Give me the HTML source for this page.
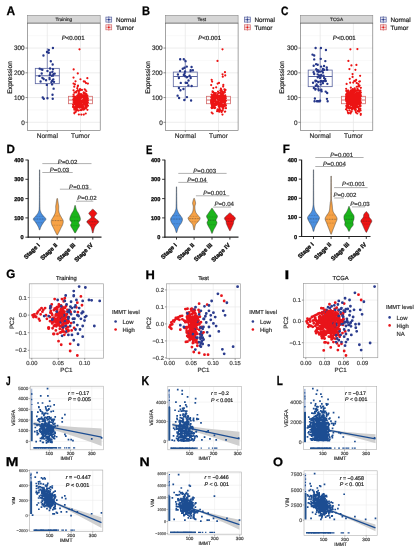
<!DOCTYPE html>
<html><head><meta charset="utf-8"><style>
html,body{margin:0;padding:0;background:#fff;width:419px;height:550px;overflow:hidden}
svg{display:block;font-family:"Liberation Sans", sans-serif;text-rendering:geometricPrecision;filter:blur(0.3px)}
</style></head><body>
<svg width="419" height="550" viewBox="0 0 419 550">
<text transform="translate(6.44 14.7) scale(0.960 1)" x="0" y="0" font-size="12.46" font-weight="bold" fill="#000" stroke="#000" stroke-width="0.25">A</text>
<text transform="translate(142.12 14.7) scale(0.894 1)" x="0" y="0" font-size="12.46" font-weight="bold" fill="#000" stroke="#000" stroke-width="0.25">B</text>
<text transform="translate(281.09 14.88) scale(0.851 1)" x="0" y="0" font-size="12.11" font-weight="bold" fill="#000" stroke="#000" stroke-width="0.25">C</text>
<text transform="translate(6.39 153.2) scale(0.979 1)" x="0" y="0" font-size="11.88" font-weight="bold" fill="#000" stroke="#000" stroke-width="0.25">D</text>
<text transform="translate(146.12 153.6) scale(0.774 1)" x="0" y="0" font-size="12.46" font-weight="bold" fill="#000" stroke="#000" stroke-width="0.25">E</text>
<text transform="translate(282.79 153.3) scale(0.964 1)" x="0" y="0" font-size="12.03" font-weight="bold" fill="#000" stroke="#000" stroke-width="0.25">F</text>
<text transform="translate(6.34 278.38) scale(0.959 1)" x="0" y="0" font-size="12.11" font-weight="bold" fill="#000" stroke="#000" stroke-width="0.25">G</text>
<text transform="translate(145.39 278.8) scale(1.037 1)" x="0" y="0" font-size="12.46" font-weight="bold" fill="#000" stroke="#000" stroke-width="0.25">H</text>
<text transform="translate(284.6 278.6) scale(1.375 1)" x="0" y="0" font-size="12.46" font-weight="bold" fill="#000" stroke="#000" stroke-width="0.25">I</text>
<text transform="translate(5.93 384.58) scale(0.675 1)" x="0" y="0" font-size="12.29" font-weight="bold" fill="#000" stroke="#000" stroke-width="0.25">J</text>
<text transform="translate(141.46 384.8) scale(0.824 1)" x="0" y="0" font-size="12.9" font-weight="bold" fill="#000" stroke="#000" stroke-width="0.25">K</text>
<text transform="translate(276.8 384.8) scale(0.758 1)" x="0" y="0" font-size="13.19" font-weight="bold" fill="#000" stroke="#000" stroke-width="0.25">L</text>
<text transform="translate(5.73 465.7) scale(1.185 1)" x="0" y="0" font-size="12.9" font-weight="bold" fill="#000" stroke="#000" stroke-width="0.25">M</text>
<text transform="translate(139.41 465.5) scale(1.148 1)" x="0" y="0" font-size="12.32" font-weight="bold" fill="#000" stroke="#000" stroke-width="0.25">N</text>
<text transform="translate(273.09 465.68) scale(1.061 1)" x="0" y="0" font-size="12.11" font-weight="bold" fill="#000" stroke="#000" stroke-width="0.25">O</text>
<rect x="27.5" y="23.1" width="72.7" height="107.4" fill="#fff" stroke="none" stroke-width="1"/>
<line x1="27.5" y1="109.92" x2="100.2" y2="109.92" stroke="#f3f3f3" stroke-width="0.5"/>
<line x1="27.5" y1="85.17" x2="100.2" y2="85.17" stroke="#f3f3f3" stroke-width="0.5"/>
<line x1="27.5" y1="60.42" x2="100.2" y2="60.42" stroke="#f3f3f3" stroke-width="0.5"/>
<line x1="27.5" y1="35.67" x2="100.2" y2="35.67" stroke="#f3f3f3" stroke-width="0.5"/>
<line x1="27.5" y1="122.3" x2="100.2" y2="122.3" stroke="#e8e8e8" stroke-width="0.8"/>
<line x1="27.5" y1="97.55" x2="100.2" y2="97.55" stroke="#e8e8e8" stroke-width="0.8"/>
<line x1="27.5" y1="72.8" x2="100.2" y2="72.8" stroke="#e8e8e8" stroke-width="0.8"/>
<line x1="27.5" y1="48.05" x2="100.2" y2="48.05" stroke="#e8e8e8" stroke-width="0.8"/>
<line x1="47.3" y1="23.1" x2="47.3" y2="130.5" stroke="#e8e8e8" stroke-width="0.8"/>
<line x1="80.5" y1="23.1" x2="80.5" y2="130.5" stroke="#e8e8e8" stroke-width="0.8"/>
<rect x="27.5" y="15.3" width="72.7" height="7.8" fill="#d6d6d6" stroke="#8a8a8a" stroke-width="0.6"/>
<text x="63.85" y="21.09" font-size="4.7" text-anchor="middle" fill="#333" stroke="#333" stroke-width="0.2">Training</text>
<line x1="47.3" y1="68.34" x2="47.3" y2="48.05" stroke="#5a64a0" stroke-width="0.7"/>
<line x1="47.3" y1="83.69" x2="47.3" y2="98.79" stroke="#5a64a0" stroke-width="0.7"/>
<rect x="35.3" y="68.34" width="24" height="15.34" fill="none" stroke="#5a64a0" stroke-width="0.8"/>
<line x1="35.3" y1="75.77" x2="59.3" y2="75.77" stroke="#5a64a0" stroke-width="1"/>
<rect x="68.5" y="96.31" width="24" height="7.42" fill="none" stroke="#d46a6a" stroke-width="0.8"/>
<line x1="68.5" y1="100.03" x2="92.5" y2="100.03" stroke="#d46a6a" stroke-width="1"/>
<path fill="#26378a" d="M51.74 48.05a1.2 1.2 0 1 0 2.4 0a1.2 1.2 0 1 0 -2.4 0M47.59 50.03a1.2 1.2 0 1 0 2.4 0a1.2 1.2 0 1 0 -2.4 0M42.26 55.47a1.2 1.2 0 1 0 2.4 0a1.2 1.2 0 1 0 -2.4 0M51.54 98.79a1.2 1.2 0 1 0 2.4 0a1.2 1.2 0 1 0 -2.4 0M46.25 98.29a1.2 1.2 0 1 0 2.4 0a1.2 1.2 0 1 0 -2.4 0M46.27 70.94a1.2 1.2 0 1 0 2.4 0a1.2 1.2 0 1 0 -2.4 0M50.15 82.12a1.2 1.2 0 1 0 2.4 0a1.2 1.2 0 1 0 -2.4 0M40.47 69.41a1.2 1.2 0 1 0 2.4 0a1.2 1.2 0 1 0 -2.4 0M51.21 71.87a1.2 1.2 0 1 0 2.4 0a1.2 1.2 0 1 0 -2.4 0M49.03 72.67a1.2 1.2 0 1 0 2.4 0a1.2 1.2 0 1 0 -2.4 0M50.69 75.69a1.2 1.2 0 1 0 2.4 0a1.2 1.2 0 1 0 -2.4 0M41.17 69.8a1.2 1.2 0 1 0 2.4 0a1.2 1.2 0 1 0 -2.4 0M50.94 84.39a1.2 1.2 0 1 0 2.4 0a1.2 1.2 0 1 0 -2.4 0M41.16 77.87a1.2 1.2 0 1 0 2.4 0a1.2 1.2 0 1 0 -2.4 0M39.4 81.5a1.2 1.2 0 1 0 2.4 0a1.2 1.2 0 1 0 -2.4 0M51.78 69.21a1.2 1.2 0 1 0 2.4 0a1.2 1.2 0 1 0 -2.4 0M51.88 75.57a1.2 1.2 0 1 0 2.4 0a1.2 1.2 0 1 0 -2.4 0M52.12 79.34a1.2 1.2 0 1 0 2.4 0a1.2 1.2 0 1 0 -2.4 0M45.65 84.91a1.2 1.2 0 1 0 2.4 0a1.2 1.2 0 1 0 -2.4 0M42.48 78.94a1.2 1.2 0 1 0 2.4 0a1.2 1.2 0 1 0 -2.4 0M38.21 75.92a1.2 1.2 0 1 0 2.4 0a1.2 1.2 0 1 0 -2.4 0M48.43 79.15a1.2 1.2 0 1 0 2.4 0a1.2 1.2 0 1 0 -2.4 0M49.62 61.31a1.2 1.2 0 1 0 2.4 0a1.2 1.2 0 1 0 -2.4 0M51.47 64.57a1.2 1.2 0 1 0 2.4 0a1.2 1.2 0 1 0 -2.4 0M42.61 98.79a1.2 1.2 0 1 0 2.4 0a1.2 1.2 0 1 0 -2.4 0M41.54 97.49a1.2 1.2 0 1 0 2.4 0a1.2 1.2 0 1 0 -2.4 0M48.33 78a1.2 1.2 0 1 0 2.4 0a1.2 1.2 0 1 0 -2.4 0M50.98 80.82a1.2 1.2 0 1 0 2.4 0a1.2 1.2 0 1 0 -2.4 0M53.52 73.59a1.2 1.2 0 1 0 2.4 0a1.2 1.2 0 1 0 -2.4 0M40.51 73.55a1.2 1.2 0 1 0 2.4 0a1.2 1.2 0 1 0 -2.4 0M45.82 51.94a1.2 1.2 0 1 0 2.4 0a1.2 1.2 0 1 0 -2.4 0M52.42 88.66a1.2 1.2 0 1 0 2.4 0a1.2 1.2 0 1 0 -2.4 0M44.86 80.31a1.2 1.2 0 1 0 2.4 0a1.2 1.2 0 1 0 -2.4 0M47.53 52.8a1.2 1.2 0 1 0 2.4 0a1.2 1.2 0 1 0 -2.4 0M38.49 68.67a1.2 1.2 0 1 0 2.4 0a1.2 1.2 0 1 0 -2.4 0M48.88 68.48a1.2 1.2 0 1 0 2.4 0a1.2 1.2 0 1 0 -2.4 0M52.81 81.86a1.2 1.2 0 1 0 2.4 0a1.2 1.2 0 1 0 -2.4 0M51.33 94.75a1.2 1.2 0 1 0 2.4 0a1.2 1.2 0 1 0 -2.4 0M52.27 74.11a1.2 1.2 0 1 0 2.4 0a1.2 1.2 0 1 0 -2.4 0M48.67 74.78a1.2 1.2 0 1 0 2.4 0a1.2 1.2 0 1 0 -2.4 0"/>
<path fill="#ec1313" d="M76.2 96.11a1.1 1.1 0 1 0 2.2 0a1.1 1.1 0 1 0 -2.2 0M86.11 99.42a1.1 1.1 0 1 0 2.2 0a1.1 1.1 0 1 0 -2.2 0M86.33 109.8a1.1 1.1 0 1 0 2.2 0a1.1 1.1 0 1 0 -2.2 0M81.59 107.32a1.1 1.1 0 1 0 2.2 0a1.1 1.1 0 1 0 -2.2 0M76.08 95.49a1.1 1.1 0 1 0 2.2 0a1.1 1.1 0 1 0 -2.2 0M82.57 96.65a1.1 1.1 0 1 0 2.2 0a1.1 1.1 0 1 0 -2.2 0M75.15 104.16a1.1 1.1 0 1 0 2.2 0a1.1 1.1 0 1 0 -2.2 0M76.73 100.53a1.1 1.1 0 1 0 2.2 0a1.1 1.1 0 1 0 -2.2 0M80.03 97.98a1.1 1.1 0 1 0 2.2 0a1.1 1.1 0 1 0 -2.2 0M77.92 97.85a1.1 1.1 0 1 0 2.2 0a1.1 1.1 0 1 0 -2.2 0M77.17 95.53a1.1 1.1 0 1 0 2.2 0a1.1 1.1 0 1 0 -2.2 0M86.51 99.06a1.1 1.1 0 1 0 2.2 0a1.1 1.1 0 1 0 -2.2 0M74.45 101.06a1.1 1.1 0 1 0 2.2 0a1.1 1.1 0 1 0 -2.2 0M81.11 101.99a1.1 1.1 0 1 0 2.2 0a1.1 1.1 0 1 0 -2.2 0M72.48 94.51a1.1 1.1 0 1 0 2.2 0a1.1 1.1 0 1 0 -2.2 0M73.28 113.33a1.1 1.1 0 1 0 2.2 0a1.1 1.1 0 1 0 -2.2 0M75.05 101.31a1.1 1.1 0 1 0 2.2 0a1.1 1.1 0 1 0 -2.2 0M86.78 100.33a1.1 1.1 0 1 0 2.2 0a1.1 1.1 0 1 0 -2.2 0M82.8 108.63a1.1 1.1 0 1 0 2.2 0a1.1 1.1 0 1 0 -2.2 0M84.92 98.63a1.1 1.1 0 1 0 2.2 0a1.1 1.1 0 1 0 -2.2 0M72.64 104.23a1.1 1.1 0 1 0 2.2 0a1.1 1.1 0 1 0 -2.2 0M82.12 95.61a1.1 1.1 0 1 0 2.2 0a1.1 1.1 0 1 0 -2.2 0M78.5 101.23a1.1 1.1 0 1 0 2.2 0a1.1 1.1 0 1 0 -2.2 0M78.15 96.71a1.1 1.1 0 1 0 2.2 0a1.1 1.1 0 1 0 -2.2 0M82.52 93.58a1.1 1.1 0 1 0 2.2 0a1.1 1.1 0 1 0 -2.2 0M76.52 98.34a1.1 1.1 0 1 0 2.2 0a1.1 1.1 0 1 0 -2.2 0M79.6 105.51a1.1 1.1 0 1 0 2.2 0a1.1 1.1 0 1 0 -2.2 0M75.81 109.14a1.1 1.1 0 1 0 2.2 0a1.1 1.1 0 1 0 -2.2 0M77.77 90.54a1.1 1.1 0 1 0 2.2 0a1.1 1.1 0 1 0 -2.2 0M79.9 101.15a1.1 1.1 0 1 0 2.2 0a1.1 1.1 0 1 0 -2.2 0M74.27 104.44a1.1 1.1 0 1 0 2.2 0a1.1 1.1 0 1 0 -2.2 0M76.04 99.7a1.1 1.1 0 1 0 2.2 0a1.1 1.1 0 1 0 -2.2 0M78.21 101.61a1.1 1.1 0 1 0 2.2 0a1.1 1.1 0 1 0 -2.2 0M78.99 95.67a1.1 1.1 0 1 0 2.2 0a1.1 1.1 0 1 0 -2.2 0M83.9 100.33a1.1 1.1 0 1 0 2.2 0a1.1 1.1 0 1 0 -2.2 0M81.54 100.44a1.1 1.1 0 1 0 2.2 0a1.1 1.1 0 1 0 -2.2 0M80.34 104.59a1.1 1.1 0 1 0 2.2 0a1.1 1.1 0 1 0 -2.2 0M84.95 97.85a1.1 1.1 0 1 0 2.2 0a1.1 1.1 0 1 0 -2.2 0M74.86 106.41a1.1 1.1 0 1 0 2.2 0a1.1 1.1 0 1 0 -2.2 0M73.46 96.73a1.1 1.1 0 1 0 2.2 0a1.1 1.1 0 1 0 -2.2 0M77.81 91.84a1.1 1.1 0 1 0 2.2 0a1.1 1.1 0 1 0 -2.2 0M73.96 109.2a1.1 1.1 0 1 0 2.2 0a1.1 1.1 0 1 0 -2.2 0M80.24 114.56a1.1 1.1 0 1 0 2.2 0a1.1 1.1 0 1 0 -2.2 0M80.5 97.01a1.1 1.1 0 1 0 2.2 0a1.1 1.1 0 1 0 -2.2 0M73.87 84.29a1.1 1.1 0 1 0 2.2 0a1.1 1.1 0 1 0 -2.2 0M82.64 106.22a1.1 1.1 0 1 0 2.2 0a1.1 1.1 0 1 0 -2.2 0M80.25 107.64a1.1 1.1 0 1 0 2.2 0a1.1 1.1 0 1 0 -2.2 0M78.25 97.17a1.1 1.1 0 1 0 2.2 0a1.1 1.1 0 1 0 -2.2 0M85.66 105.31a1.1 1.1 0 1 0 2.2 0a1.1 1.1 0 1 0 -2.2 0M84.74 103.4a1.1 1.1 0 1 0 2.2 0a1.1 1.1 0 1 0 -2.2 0M75.21 102.5a1.1 1.1 0 1 0 2.2 0a1.1 1.1 0 1 0 -2.2 0M74.4 97.49a1.1 1.1 0 1 0 2.2 0a1.1 1.1 0 1 0 -2.2 0M85.63 102.83a1.1 1.1 0 1 0 2.2 0a1.1 1.1 0 1 0 -2.2 0M74.26 98.94a1.1 1.1 0 1 0 2.2 0a1.1 1.1 0 1 0 -2.2 0M83.26 101.52a1.1 1.1 0 1 0 2.2 0a1.1 1.1 0 1 0 -2.2 0M76.59 105.33a1.1 1.1 0 1 0 2.2 0a1.1 1.1 0 1 0 -2.2 0M77.32 102.34a1.1 1.1 0 1 0 2.2 0a1.1 1.1 0 1 0 -2.2 0M80.21 105.93a1.1 1.1 0 1 0 2.2 0a1.1 1.1 0 1 0 -2.2 0M85.79 100.48a1.1 1.1 0 1 0 2.2 0a1.1 1.1 0 1 0 -2.2 0M71.93 106.92a1.1 1.1 0 1 0 2.2 0a1.1 1.1 0 1 0 -2.2 0M74.33 106.74a1.1 1.1 0 1 0 2.2 0a1.1 1.1 0 1 0 -2.2 0M82.7 92.23a1.1 1.1 0 1 0 2.2 0a1.1 1.1 0 1 0 -2.2 0M77.82 100.82a1.1 1.1 0 1 0 2.2 0a1.1 1.1 0 1 0 -2.2 0M76.22 100.83a1.1 1.1 0 1 0 2.2 0a1.1 1.1 0 1 0 -2.2 0M86.34 97.61a1.1 1.1 0 1 0 2.2 0a1.1 1.1 0 1 0 -2.2 0M75.86 102.92a1.1 1.1 0 1 0 2.2 0a1.1 1.1 0 1 0 -2.2 0M82.61 101.82a1.1 1.1 0 1 0 2.2 0a1.1 1.1 0 1 0 -2.2 0M86.36 98.1a1.1 1.1 0 1 0 2.2 0a1.1 1.1 0 1 0 -2.2 0M83.34 98.91a1.1 1.1 0 1 0 2.2 0a1.1 1.1 0 1 0 -2.2 0M82.54 107.12a1.1 1.1 0 1 0 2.2 0a1.1 1.1 0 1 0 -2.2 0M82.75 95.78a1.1 1.1 0 1 0 2.2 0a1.1 1.1 0 1 0 -2.2 0M83.98 103.88a1.1 1.1 0 1 0 2.2 0a1.1 1.1 0 1 0 -2.2 0M75.97 106.53a1.1 1.1 0 1 0 2.2 0a1.1 1.1 0 1 0 -2.2 0M81.3 105.65a1.1 1.1 0 1 0 2.2 0a1.1 1.1 0 1 0 -2.2 0M83.94 102.74a1.1 1.1 0 1 0 2.2 0a1.1 1.1 0 1 0 -2.2 0M85.22 91.26a1.1 1.1 0 1 0 2.2 0a1.1 1.1 0 1 0 -2.2 0M85.49 107.21a1.1 1.1 0 1 0 2.2 0a1.1 1.1 0 1 0 -2.2 0M85.46 99.61a1.1 1.1 0 1 0 2.2 0a1.1 1.1 0 1 0 -2.2 0M73.36 112.69a1.1 1.1 0 1 0 2.2 0a1.1 1.1 0 1 0 -2.2 0M77.55 100.53a1.1 1.1 0 1 0 2.2 0a1.1 1.1 0 1 0 -2.2 0M78.75 95.4a1.1 1.1 0 1 0 2.2 0a1.1 1.1 0 1 0 -2.2 0M85.28 101.87a1.1 1.1 0 1 0 2.2 0a1.1 1.1 0 1 0 -2.2 0M78.19 104.1a1.1 1.1 0 1 0 2.2 0a1.1 1.1 0 1 0 -2.2 0M75.87 99.2a1.1 1.1 0 1 0 2.2 0a1.1 1.1 0 1 0 -2.2 0M72.2 96.53a1.1 1.1 0 1 0 2.2 0a1.1 1.1 0 1 0 -2.2 0M76.23 96.74a1.1 1.1 0 1 0 2.2 0a1.1 1.1 0 1 0 -2.2 0M83.61 89.29a1.1 1.1 0 1 0 2.2 0a1.1 1.1 0 1 0 -2.2 0M72.2 99.33a1.1 1.1 0 1 0 2.2 0a1.1 1.1 0 1 0 -2.2 0M74.37 103.89a1.1 1.1 0 1 0 2.2 0a1.1 1.1 0 1 0 -2.2 0M76.56 101.24a1.1 1.1 0 1 0 2.2 0a1.1 1.1 0 1 0 -2.2 0M79.88 100.93a1.1 1.1 0 1 0 2.2 0a1.1 1.1 0 1 0 -2.2 0M77.35 99.9a1.1 1.1 0 1 0 2.2 0a1.1 1.1 0 1 0 -2.2 0M85.14 100.69a1.1 1.1 0 1 0 2.2 0a1.1 1.1 0 1 0 -2.2 0M75.01 99.53a1.1 1.1 0 1 0 2.2 0a1.1 1.1 0 1 0 -2.2 0M80.32 110.03a1.1 1.1 0 1 0 2.2 0a1.1 1.1 0 1 0 -2.2 0M83.57 95.8a1.1 1.1 0 1 0 2.2 0a1.1 1.1 0 1 0 -2.2 0M85.84 103.79a1.1 1.1 0 1 0 2.2 0a1.1 1.1 0 1 0 -2.2 0M85 107.2a1.1 1.1 0 1 0 2.2 0a1.1 1.1 0 1 0 -2.2 0M73.93 96.89a1.1 1.1 0 1 0 2.2 0a1.1 1.1 0 1 0 -2.2 0M83.78 93.02a1.1 1.1 0 1 0 2.2 0a1.1 1.1 0 1 0 -2.2 0M82.03 97.71a1.1 1.1 0 1 0 2.2 0a1.1 1.1 0 1 0 -2.2 0M78.22 99.6a1.1 1.1 0 1 0 2.2 0a1.1 1.1 0 1 0 -2.2 0M72.28 105.83a1.1 1.1 0 1 0 2.2 0a1.1 1.1 0 1 0 -2.2 0M74.42 81.35a1.1 1.1 0 1 0 2.2 0a1.1 1.1 0 1 0 -2.2 0M83.14 95.51a1.1 1.1 0 1 0 2.2 0a1.1 1.1 0 1 0 -2.2 0M73.16 107.01a1.1 1.1 0 1 0 2.2 0a1.1 1.1 0 1 0 -2.2 0M76.59 104.96a1.1 1.1 0 1 0 2.2 0a1.1 1.1 0 1 0 -2.2 0M75.73 100.02a1.1 1.1 0 1 0 2.2 0a1.1 1.1 0 1 0 -2.2 0M83.09 109.37a1.1 1.1 0 1 0 2.2 0a1.1 1.1 0 1 0 -2.2 0M77.29 99.56a1.1 1.1 0 1 0 2.2 0a1.1 1.1 0 1 0 -2.2 0M73.21 103.13a1.1 1.1 0 1 0 2.2 0a1.1 1.1 0 1 0 -2.2 0M77.46 93.54a1.1 1.1 0 1 0 2.2 0a1.1 1.1 0 1 0 -2.2 0M76.8 95.04a1.1 1.1 0 1 0 2.2 0a1.1 1.1 0 1 0 -2.2 0M82.66 114.55a1.1 1.1 0 1 0 2.2 0a1.1 1.1 0 1 0 -2.2 0M76.7 100.28a1.1 1.1 0 1 0 2.2 0a1.1 1.1 0 1 0 -2.2 0M82.3 109.73a1.1 1.1 0 1 0 2.2 0a1.1 1.1 0 1 0 -2.2 0M79.98 94.2a1.1 1.1 0 1 0 2.2 0a1.1 1.1 0 1 0 -2.2 0M85.22 99.56a1.1 1.1 0 1 0 2.2 0a1.1 1.1 0 1 0 -2.2 0M82.9 97.4a1.1 1.1 0 1 0 2.2 0a1.1 1.1 0 1 0 -2.2 0M78.02 106.58a1.1 1.1 0 1 0 2.2 0a1.1 1.1 0 1 0 -2.2 0M79.17 90.11a1.1 1.1 0 1 0 2.2 0a1.1 1.1 0 1 0 -2.2 0M78.97 89.02a1.1 1.1 0 1 0 2.2 0a1.1 1.1 0 1 0 -2.2 0M84.98 106.58a1.1 1.1 0 1 0 2.2 0a1.1 1.1 0 1 0 -2.2 0M73.97 98.4a1.1 1.1 0 1 0 2.2 0a1.1 1.1 0 1 0 -2.2 0M78.26 104.35a1.1 1.1 0 1 0 2.2 0a1.1 1.1 0 1 0 -2.2 0M79.92 100.65a1.1 1.1 0 1 0 2.2 0a1.1 1.1 0 1 0 -2.2 0M78.44 107.72a1.1 1.1 0 1 0 2.2 0a1.1 1.1 0 1 0 -2.2 0M80.87 89.89a1.1 1.1 0 1 0 2.2 0a1.1 1.1 0 1 0 -2.2 0M79.38 106.04a1.1 1.1 0 1 0 2.2 0a1.1 1.1 0 1 0 -2.2 0M78.11 102.21a1.1 1.1 0 1 0 2.2 0a1.1 1.1 0 1 0 -2.2 0M82.2 97.67a1.1 1.1 0 1 0 2.2 0a1.1 1.1 0 1 0 -2.2 0M76.84 104.21a1.1 1.1 0 1 0 2.2 0a1.1 1.1 0 1 0 -2.2 0M81 101.88a1.1 1.1 0 1 0 2.2 0a1.1 1.1 0 1 0 -2.2 0M82.83 103.73a1.1 1.1 0 1 0 2.2 0a1.1 1.1 0 1 0 -2.2 0M73.86 101.28a1.1 1.1 0 1 0 2.2 0a1.1 1.1 0 1 0 -2.2 0M76.8 107.18a1.1 1.1 0 1 0 2.2 0a1.1 1.1 0 1 0 -2.2 0M86.07 103.01a1.1 1.1 0 1 0 2.2 0a1.1 1.1 0 1 0 -2.2 0M86.39 101.7a1.1 1.1 0 1 0 2.2 0a1.1 1.1 0 1 0 -2.2 0M86.79 102.42a1.1 1.1 0 1 0 2.2 0a1.1 1.1 0 1 0 -2.2 0M72.54 100.2a1.1 1.1 0 1 0 2.2 0a1.1 1.1 0 1 0 -2.2 0M84.3 102.19a1.1 1.1 0 1 0 2.2 0a1.1 1.1 0 1 0 -2.2 0M85.93 96.23a1.1 1.1 0 1 0 2.2 0a1.1 1.1 0 1 0 -2.2 0M85.43 102.36a1.1 1.1 0 1 0 2.2 0a1.1 1.1 0 1 0 -2.2 0M82.62 101.3a1.1 1.1 0 1 0 2.2 0a1.1 1.1 0 1 0 -2.2 0M82.03 104.3a1.1 1.1 0 1 0 2.2 0a1.1 1.1 0 1 0 -2.2 0M82.69 103.52a1.1 1.1 0 1 0 2.2 0a1.1 1.1 0 1 0 -2.2 0M80.52 107.72a1.1 1.1 0 1 0 2.2 0a1.1 1.1 0 1 0 -2.2 0M83.73 97.57a1.1 1.1 0 1 0 2.2 0a1.1 1.1 0 1 0 -2.2 0M79.43 107.02a1.1 1.1 0 1 0 2.2 0a1.1 1.1 0 1 0 -2.2 0M75.29 104.77a1.1 1.1 0 1 0 2.2 0a1.1 1.1 0 1 0 -2.2 0M73.32 98.47a1.1 1.1 0 1 0 2.2 0a1.1 1.1 0 1 0 -2.2 0M85.52 98.23a1.1 1.1 0 1 0 2.2 0a1.1 1.1 0 1 0 -2.2 0M83.22 102.8a1.1 1.1 0 1 0 2.2 0a1.1 1.1 0 1 0 -2.2 0M74.56 112.01a1.1 1.1 0 1 0 2.2 0a1.1 1.1 0 1 0 -2.2 0M84.24 98.13a1.1 1.1 0 1 0 2.2 0a1.1 1.1 0 1 0 -2.2 0M76.41 99.04a1.1 1.1 0 1 0 2.2 0a1.1 1.1 0 1 0 -2.2 0M81.43 108.56a1.1 1.1 0 1 0 2.2 0a1.1 1.1 0 1 0 -2.2 0M77.24 96.13a1.1 1.1 0 1 0 2.2 0a1.1 1.1 0 1 0 -2.2 0M75.11 104.51a1.1 1.1 0 1 0 2.2 0a1.1 1.1 0 1 0 -2.2 0M74.53 106.93a1.1 1.1 0 1 0 2.2 0a1.1 1.1 0 1 0 -2.2 0M72.96 99.98a1.1 1.1 0 1 0 2.2 0a1.1 1.1 0 1 0 -2.2 0M73.02 101.54a1.1 1.1 0 1 0 2.2 0a1.1 1.1 0 1 0 -2.2 0M72.94 99.37a1.1 1.1 0 1 0 2.2 0a1.1 1.1 0 1 0 -2.2 0M73.25 109.66a1.1 1.1 0 1 0 2.2 0a1.1 1.1 0 1 0 -2.2 0M84.41 90.2a1.1 1.1 0 1 0 2.2 0a1.1 1.1 0 1 0 -2.2 0M79.67 103.95a1.1 1.1 0 1 0 2.2 0a1.1 1.1 0 1 0 -2.2 0M73.83 109.28a1.1 1.1 0 1 0 2.2 0a1.1 1.1 0 1 0 -2.2 0M79.77 97a1.1 1.1 0 1 0 2.2 0a1.1 1.1 0 1 0 -2.2 0M80.04 102.54a1.1 1.1 0 1 0 2.2 0a1.1 1.1 0 1 0 -2.2 0M79.35 98.67a1.1 1.1 0 1 0 2.2 0a1.1 1.1 0 1 0 -2.2 0M75 102.45a1.1 1.1 0 1 0 2.2 0a1.1 1.1 0 1 0 -2.2 0M78.42 100.86a1.1 1.1 0 1 0 2.2 0a1.1 1.1 0 1 0 -2.2 0M84.96 99.12a1.1 1.1 0 1 0 2.2 0a1.1 1.1 0 1 0 -2.2 0M77.66 104.77a1.1 1.1 0 1 0 2.2 0a1.1 1.1 0 1 0 -2.2 0M79.46 96.66a1.1 1.1 0 1 0 2.2 0a1.1 1.1 0 1 0 -2.2 0M85.85 103.19a1.1 1.1 0 1 0 2.2 0a1.1 1.1 0 1 0 -2.2 0M75.39 105.47a1.1 1.1 0 1 0 2.2 0a1.1 1.1 0 1 0 -2.2 0M82.78 100.08a1.1 1.1 0 1 0 2.2 0a1.1 1.1 0 1 0 -2.2 0M79.16 97.99a1.1 1.1 0 1 0 2.2 0a1.1 1.1 0 1 0 -2.2 0M83.71 101.82a1.1 1.1 0 1 0 2.2 0a1.1 1.1 0 1 0 -2.2 0M77.3 105.43a1.1 1.1 0 1 0 2.2 0a1.1 1.1 0 1 0 -2.2 0M80.04 96.99a1.1 1.1 0 1 0 2.2 0a1.1 1.1 0 1 0 -2.2 0M77.42 110.54a1.1 1.1 0 1 0 2.2 0a1.1 1.1 0 1 0 -2.2 0M84.89 106.39a1.1 1.1 0 1 0 2.2 0a1.1 1.1 0 1 0 -2.2 0M85.62 100.3a1.1 1.1 0 1 0 2.2 0a1.1 1.1 0 1 0 -2.2 0M81.38 108.27a1.1 1.1 0 1 0 2.2 0a1.1 1.1 0 1 0 -2.2 0M86.62 100.36a1.1 1.1 0 1 0 2.2 0a1.1 1.1 0 1 0 -2.2 0M82.88 100.83a1.1 1.1 0 1 0 2.2 0a1.1 1.1 0 1 0 -2.2 0M84.36 95.4a1.1 1.1 0 1 0 2.2 0a1.1 1.1 0 1 0 -2.2 0M85.32 105.73a1.1 1.1 0 1 0 2.2 0a1.1 1.1 0 1 0 -2.2 0M75.98 104.08a1.1 1.1 0 1 0 2.2 0a1.1 1.1 0 1 0 -2.2 0M86.7 98.62a1.1 1.1 0 1 0 2.2 0a1.1 1.1 0 1 0 -2.2 0M77.76 114.51a1.1 1.1 0 1 0 2.2 0a1.1 1.1 0 1 0 -2.2 0M79.36 79.26a1.1 1.1 0 1 0 2.2 0a1.1 1.1 0 1 0 -2.2 0M74.6 104.5a1.1 1.1 0 1 0 2.2 0a1.1 1.1 0 1 0 -2.2 0M84.22 104.67a1.1 1.1 0 1 0 2.2 0a1.1 1.1 0 1 0 -2.2 0M76.95 95.62a1.1 1.1 0 1 0 2.2 0a1.1 1.1 0 1 0 -2.2 0M82.24 100.75a1.1 1.1 0 1 0 2.2 0a1.1 1.1 0 1 0 -2.2 0M75.18 110.65a1.1 1.1 0 1 0 2.2 0a1.1 1.1 0 1 0 -2.2 0M77.17 96.95a1.1 1.1 0 1 0 2.2 0a1.1 1.1 0 1 0 -2.2 0M77.66 95.65a1.1 1.1 0 1 0 2.2 0a1.1 1.1 0 1 0 -2.2 0M75.45 103.08a1.1 1.1 0 1 0 2.2 0a1.1 1.1 0 1 0 -2.2 0M72.43 102.12a1.1 1.1 0 1 0 2.2 0a1.1 1.1 0 1 0 -2.2 0M83.45 97.75a1.1 1.1 0 1 0 2.2 0a1.1 1.1 0 1 0 -2.2 0M86.16 105.69a1.1 1.1 0 1 0 2.2 0a1.1 1.1 0 1 0 -2.2 0M75.29 98.02a1.1 1.1 0 1 0 2.2 0a1.1 1.1 0 1 0 -2.2 0M74.34 99.39a1.1 1.1 0 1 0 2.2 0a1.1 1.1 0 1 0 -2.2 0M77.11 104.36a1.1 1.1 0 1 0 2.2 0a1.1 1.1 0 1 0 -2.2 0M73.14 108.44a1.1 1.1 0 1 0 2.2 0a1.1 1.1 0 1 0 -2.2 0M81.65 101.8a1.1 1.1 0 1 0 2.2 0a1.1 1.1 0 1 0 -2.2 0M77.43 105.5a1.1 1.1 0 1 0 2.2 0a1.1 1.1 0 1 0 -2.2 0M80.34 94.82a1.1 1.1 0 1 0 2.2 0a1.1 1.1 0 1 0 -2.2 0M85.49 99.7a1.1 1.1 0 1 0 2.2 0a1.1 1.1 0 1 0 -2.2 0M84.82 96.07a1.1 1.1 0 1 0 2.2 0a1.1 1.1 0 1 0 -2.2 0M85.73 99.75a1.1 1.1 0 1 0 2.2 0a1.1 1.1 0 1 0 -2.2 0M85.93 99.02a1.1 1.1 0 1 0 2.2 0a1.1 1.1 0 1 0 -2.2 0M80.75 104.98a1.1 1.1 0 1 0 2.2 0a1.1 1.1 0 1 0 -2.2 0M79.43 96.72a1.1 1.1 0 1 0 2.2 0a1.1 1.1 0 1 0 -2.2 0M72.46 90.36a1.1 1.1 0 1 0 2.2 0a1.1 1.1 0 1 0 -2.2 0M73.44 102.28a1.1 1.1 0 1 0 2.2 0a1.1 1.1 0 1 0 -2.2 0M79.76 103.89a1.1 1.1 0 1 0 2.2 0a1.1 1.1 0 1 0 -2.2 0M84.74 101.42a1.1 1.1 0 1 0 2.2 0a1.1 1.1 0 1 0 -2.2 0M78.39 103.26a1.1 1.1 0 1 0 2.2 0a1.1 1.1 0 1 0 -2.2 0M71.96 104.51a1.1 1.1 0 1 0 2.2 0a1.1 1.1 0 1 0 -2.2 0M75.08 99.73a1.1 1.1 0 1 0 2.2 0a1.1 1.1 0 1 0 -2.2 0M83.3 102.18a1.1 1.1 0 1 0 2.2 0a1.1 1.1 0 1 0 -2.2 0M74.28 92.33a1.1 1.1 0 1 0 2.2 0a1.1 1.1 0 1 0 -2.2 0M74.89 100.52a1.1 1.1 0 1 0 2.2 0a1.1 1.1 0 1 0 -2.2 0M76.18 98.68a1.1 1.1 0 1 0 2.2 0a1.1 1.1 0 1 0 -2.2 0M81.04 95.1a1.1 1.1 0 1 0 2.2 0a1.1 1.1 0 1 0 -2.2 0M84.45 102.23a1.1 1.1 0 1 0 2.2 0a1.1 1.1 0 1 0 -2.2 0M75.18 92.34a1.1 1.1 0 1 0 2.2 0a1.1 1.1 0 1 0 -2.2 0M80.89 104.12a1.1 1.1 0 1 0 2.2 0a1.1 1.1 0 1 0 -2.2 0M79.85 105.12a1.1 1.1 0 1 0 2.2 0a1.1 1.1 0 1 0 -2.2 0M78.57 102.6a1.1 1.1 0 1 0 2.2 0a1.1 1.1 0 1 0 -2.2 0M80.61 101.17a1.1 1.1 0 1 0 2.2 0a1.1 1.1 0 1 0 -2.2 0M84.11 108.5a1.1 1.1 0 1 0 2.2 0a1.1 1.1 0 1 0 -2.2 0M75.16 100.72a1.1 1.1 0 1 0 2.2 0a1.1 1.1 0 1 0 -2.2 0M79.36 110.01a1.1 1.1 0 1 0 2.2 0a1.1 1.1 0 1 0 -2.2 0M73.37 92.6a1.1 1.1 0 1 0 2.2 0a1.1 1.1 0 1 0 -2.2 0M79.6 100.98a1.1 1.1 0 1 0 2.2 0a1.1 1.1 0 1 0 -2.2 0M83.77 104.17a1.1 1.1 0 1 0 2.2 0a1.1 1.1 0 1 0 -2.2 0M86.88 105.69a1.1 1.1 0 1 0 2.2 0a1.1 1.1 0 1 0 -2.2 0M79.04 102.71a1.1 1.1 0 1 0 2.2 0a1.1 1.1 0 1 0 -2.2 0M76.35 101.79a1.1 1.1 0 1 0 2.2 0a1.1 1.1 0 1 0 -2.2 0M80.59 106.47a1.1 1.1 0 1 0 2.2 0a1.1 1.1 0 1 0 -2.2 0M77.48 105.76a1.1 1.1 0 1 0 2.2 0a1.1 1.1 0 1 0 -2.2 0M73.66 101.59a1.1 1.1 0 1 0 2.2 0a1.1 1.1 0 1 0 -2.2 0M79.77 103.48a1.1 1.1 0 1 0 2.2 0a1.1 1.1 0 1 0 -2.2 0M83.89 95.17a1.1 1.1 0 1 0 2.2 0a1.1 1.1 0 1 0 -2.2 0M85.27 94.04a1.1 1.1 0 1 0 2.2 0a1.1 1.1 0 1 0 -2.2 0M86.57 100.43a1.1 1.1 0 1 0 2.2 0a1.1 1.1 0 1 0 -2.2 0M77.42 97.82a1.1 1.1 0 1 0 2.2 0a1.1 1.1 0 1 0 -2.2 0M75.67 108.12a1.1 1.1 0 1 0 2.2 0a1.1 1.1 0 1 0 -2.2 0M73.56 96.89a1.1 1.1 0 1 0 2.2 0a1.1 1.1 0 1 0 -2.2 0M78.44 100.69a1.1 1.1 0 1 0 2.2 0a1.1 1.1 0 1 0 -2.2 0M84.01 97.76a1.1 1.1 0 1 0 2.2 0a1.1 1.1 0 1 0 -2.2 0M75.42 91.41a1.1 1.1 0 1 0 2.2 0a1.1 1.1 0 1 0 -2.2 0M84.64 113.5a1.1 1.1 0 1 0 2.2 0a1.1 1.1 0 1 0 -2.2 0M82.58 99.03a1.1 1.1 0 1 0 2.2 0a1.1 1.1 0 1 0 -2.2 0M74.91 106.78a1.1 1.1 0 1 0 2.2 0a1.1 1.1 0 1 0 -2.2 0M81.38 97.15a1.1 1.1 0 1 0 2.2 0a1.1 1.1 0 1 0 -2.2 0M84.2 108a1.1 1.1 0 1 0 2.2 0a1.1 1.1 0 1 0 -2.2 0M85.89 103.34a1.1 1.1 0 1 0 2.2 0a1.1 1.1 0 1 0 -2.2 0M74.33 99.37a1.1 1.1 0 1 0 2.2 0a1.1 1.1 0 1 0 -2.2 0M84.23 97.03a1.1 1.1 0 1 0 2.2 0a1.1 1.1 0 1 0 -2.2 0M83.54 100.09a1.1 1.1 0 1 0 2.2 0a1.1 1.1 0 1 0 -2.2 0M75.56 105.03a1.1 1.1 0 1 0 2.2 0a1.1 1.1 0 1 0 -2.2 0M76.32 103.67a1.1 1.1 0 1 0 2.2 0a1.1 1.1 0 1 0 -2.2 0M86.26 95.48a1.1 1.1 0 1 0 2.2 0a1.1 1.1 0 1 0 -2.2 0M77.33 100.55a1.1 1.1 0 1 0 2.2 0a1.1 1.1 0 1 0 -2.2 0M76.23 110.11a1.1 1.1 0 1 0 2.2 0a1.1 1.1 0 1 0 -2.2 0M82.7 95.72a1.1 1.1 0 1 0 2.2 0a1.1 1.1 0 1 0 -2.2 0M73.89 98.15a1.1 1.1 0 1 0 2.2 0a1.1 1.1 0 1 0 -2.2 0M79.15 95.55a1.1 1.1 0 1 0 2.2 0a1.1 1.1 0 1 0 -2.2 0M77.27 102.44a1.1 1.1 0 1 0 2.2 0a1.1 1.1 0 1 0 -2.2 0M80.06 95.81a1.1 1.1 0 1 0 2.2 0a1.1 1.1 0 1 0 -2.2 0M80.95 106.56a1.1 1.1 0 1 0 2.2 0a1.1 1.1 0 1 0 -2.2 0M81.5 97.28a1.1 1.1 0 1 0 2.2 0a1.1 1.1 0 1 0 -2.2 0M78.39 103.31a1.1 1.1 0 1 0 2.2 0a1.1 1.1 0 1 0 -2.2 0M85.2 96.68a1.1 1.1 0 1 0 2.2 0a1.1 1.1 0 1 0 -2.2 0M84.44 94.8a1.1 1.1 0 1 0 2.2 0a1.1 1.1 0 1 0 -2.2 0M85.9 104.71a1.1 1.1 0 1 0 2.2 0a1.1 1.1 0 1 0 -2.2 0M78.59 100.81a1.1 1.1 0 1 0 2.2 0a1.1 1.1 0 1 0 -2.2 0M82.85 100.3a1.1 1.1 0 1 0 2.2 0a1.1 1.1 0 1 0 -2.2 0M78.36 93.75a1.1 1.1 0 1 0 2.2 0a1.1 1.1 0 1 0 -2.2 0M76.08 96.48a1.1 1.1 0 1 0 2.2 0a1.1 1.1 0 1 0 -2.2 0M81.68 107.46a1.1 1.1 0 1 0 2.2 0a1.1 1.1 0 1 0 -2.2 0M86.09 97.92a1.1 1.1 0 1 0 2.2 0a1.1 1.1 0 1 0 -2.2 0M83.96 96.28a1.1 1.1 0 1 0 2.2 0a1.1 1.1 0 1 0 -2.2 0M76.18 88.16a1.1 1.1 0 1 0 2.2 0a1.1 1.1 0 1 0 -2.2 0M75.32 110.08a1.1 1.1 0 1 0 2.2 0a1.1 1.1 0 1 0 -2.2 0M83.47 103.57a1.1 1.1 0 1 0 2.2 0a1.1 1.1 0 1 0 -2.2 0M82.48 92.93a1.1 1.1 0 1 0 2.2 0a1.1 1.1 0 1 0 -2.2 0M84.85 108.23a1.1 1.1 0 1 0 2.2 0a1.1 1.1 0 1 0 -2.2 0M74.1 107.35a1.1 1.1 0 1 0 2.2 0a1.1 1.1 0 1 0 -2.2 0M84.83 97.58a1.1 1.1 0 1 0 2.2 0a1.1 1.1 0 1 0 -2.2 0M78.39 94.72a1.1 1.1 0 1 0 2.2 0a1.1 1.1 0 1 0 -2.2 0M76 104.33a1.1 1.1 0 1 0 2.2 0a1.1 1.1 0 1 0 -2.2 0M77.05 97.45a1.1 1.1 0 1 0 2.2 0a1.1 1.1 0 1 0 -2.2 0M86.8 83.53a1.1 1.1 0 1 0 2.2 0a1.1 1.1 0 1 0 -2.2 0M86.24 78.17a1.1 1.1 0 1 0 2.2 0a1.1 1.1 0 1 0 -2.2 0M73.16 86.72a1.1 1.1 0 1 0 2.2 0a1.1 1.1 0 1 0 -2.2 0M76.63 90.24a1.1 1.1 0 1 0 2.2 0a1.1 1.1 0 1 0 -2.2 0M82.69 81.39a1.1 1.1 0 1 0 2.2 0a1.1 1.1 0 1 0 -2.2 0M72.43 77.56a1.1 1.1 0 1 0 2.2 0a1.1 1.1 0 1 0 -2.2 0M72.44 83.57a1.1 1.1 0 1 0 2.2 0a1.1 1.1 0 1 0 -2.2 0M72.57 69.38a1.1 1.1 0 1 0 2.2 0a1.1 1.1 0 1 0 -2.2 0M84.93 83.05a1.1 1.1 0 1 0 2.2 0a1.1 1.1 0 1 0 -2.2 0M76.91 85.55a1.1 1.1 0 1 0 2.2 0a1.1 1.1 0 1 0 -2.2 0M76.68 73.46a1.1 1.1 0 1 0 2.2 0a1.1 1.1 0 1 0 -2.2 0M83.8 81.63a1.1 1.1 0 1 0 2.2 0a1.1 1.1 0 1 0 -2.2 0M76.68 86.18a1.1 1.1 0 1 0 2.2 0a1.1 1.1 0 1 0 -2.2 0M78.4 49.29a1.1 1.1 0 1 0 2.2 0a1.1 1.1 0 1 0 -2.2 0"/>
<rect x="27.5" y="23.1" width="72.7" height="107.4" fill="none" stroke="#666" stroke-width="0.6"/>
<line x1="25.5" y1="122.3" x2="27.5" y2="122.3" stroke="#444" stroke-width="0.6"/>
<text x="24.7" y="124.6" font-size="6.4" text-anchor="end" fill="#333" stroke="#333" stroke-width="0.2">0</text>
<line x1="25.5" y1="97.55" x2="27.5" y2="97.55" stroke="#444" stroke-width="0.6"/>
<text x="24.7" y="99.85" font-size="6.4" text-anchor="end" fill="#333" stroke="#333" stroke-width="0.2">100</text>
<line x1="25.5" y1="72.8" x2="27.5" y2="72.8" stroke="#444" stroke-width="0.6"/>
<text x="24.7" y="75.1" font-size="6.4" text-anchor="end" fill="#333" stroke="#333" stroke-width="0.2">200</text>
<line x1="25.5" y1="48.05" x2="27.5" y2="48.05" stroke="#444" stroke-width="0.6"/>
<text x="24.7" y="50.35" font-size="6.4" text-anchor="end" fill="#333" stroke="#333" stroke-width="0.2">300</text>
<line x1="47.3" y1="130.5" x2="47.3" y2="132" stroke="#444" stroke-width="0.6"/>
<text x="47.3" y="137.78" font-size="6.6" text-anchor="middle" fill="#333" stroke="#333" stroke-width="0.2">Normal</text>
<line x1="80.5" y1="130.5" x2="80.5" y2="132" stroke="#444" stroke-width="0.6"/>
<text x="80.5" y="137.78" font-size="6.6" text-anchor="middle" fill="#333" stroke="#333" stroke-width="0.2">Tumor</text>
<text x="9.2" y="79.88" font-size="6.6" text-anchor="middle" fill="#222" stroke="#222" stroke-width="0.2" transform="rotate(-90 9.2 77.5)">Expression</text>
<text x="73.1" y="40" font-size="6.1" text-anchor="middle" fill="#222" stroke="#222" stroke-width="0.2"><tspan font-style="italic">P</tspan>&lt;0.001</text>
<rect x="105.9" y="17.1" width="5.8" height="5" fill="#e6e8f4" stroke="#5a64a0" stroke-width="0.7"/>
<line x1="105.9" y1="19.6" x2="111.7" y2="19.6" stroke="#5a64a0" stroke-width="0.7"/>
<line x1="108.8" y1="16.2" x2="108.8" y2="23" stroke="#5a64a0" stroke-width="0.7"/>
<path fill="#26378a" d="M107.9 19.6a0.9 0.9 0 1 0 1.8 0a0.9 0.9 0 1 0 -1.8 0"/>
<text x="115.9" y="21.87" font-size="6.3" text-anchor="start" fill="#222" stroke="#222" stroke-width="0.2">Normal</text>
<rect x="105.9" y="24.8" width="5.8" height="5" fill="#fbe1e1" stroke="#d46a6a" stroke-width="0.7"/>
<line x1="105.9" y1="27.3" x2="111.7" y2="27.3" stroke="#d46a6a" stroke-width="0.7"/>
<line x1="108.8" y1="23.9" x2="108.8" y2="30.7" stroke="#d46a6a" stroke-width="0.7"/>
<path fill="#ec1313" d="M107.9 27.3a0.9 0.9 0 1 0 1.8 0a0.9 0.9 0 1 0 -1.8 0"/>
<text x="115.9" y="29.57" font-size="6.3" text-anchor="start" fill="#222" stroke="#222" stroke-width="0.2">Tumor</text>
<rect x="165.5" y="23.1" width="72.6" height="107.4" fill="#fff" stroke="none" stroke-width="1"/>
<line x1="165.5" y1="109.92" x2="238.1" y2="109.92" stroke="#f3f3f3" stroke-width="0.5"/>
<line x1="165.5" y1="85.17" x2="238.1" y2="85.17" stroke="#f3f3f3" stroke-width="0.5"/>
<line x1="165.5" y1="60.42" x2="238.1" y2="60.42" stroke="#f3f3f3" stroke-width="0.5"/>
<line x1="165.5" y1="35.67" x2="238.1" y2="35.67" stroke="#f3f3f3" stroke-width="0.5"/>
<line x1="165.5" y1="122.3" x2="238.1" y2="122.3" stroke="#e8e8e8" stroke-width="0.8"/>
<line x1="165.5" y1="97.55" x2="238.1" y2="97.55" stroke="#e8e8e8" stroke-width="0.8"/>
<line x1="165.5" y1="72.8" x2="238.1" y2="72.8" stroke="#e8e8e8" stroke-width="0.8"/>
<line x1="165.5" y1="48.05" x2="238.1" y2="48.05" stroke="#e8e8e8" stroke-width="0.8"/>
<line x1="185.3" y1="23.1" x2="185.3" y2="130.5" stroke="#e8e8e8" stroke-width="0.8"/>
<line x1="218.5" y1="23.1" x2="218.5" y2="130.5" stroke="#e8e8e8" stroke-width="0.8"/>
<rect x="165.5" y="15.3" width="72.6" height="7.8" fill="#d6d6d6" stroke="#8a8a8a" stroke-width="0.6"/>
<text x="201.8" y="21.09" font-size="4.7" text-anchor="middle" fill="#333" stroke="#333" stroke-width="0.2">Test</text>
<line x1="185.3" y1="72.06" x2="185.3" y2="59.19" stroke="#5a64a0" stroke-width="0.7"/>
<line x1="185.3" y1="86.66" x2="185.3" y2="100.52" stroke="#5a64a0" stroke-width="0.7"/>
<rect x="173.3" y="72.06" width="24" height="14.6" fill="none" stroke="#5a64a0" stroke-width="0.8"/>
<line x1="173.3" y1="76.51" x2="197.3" y2="76.51" stroke="#5a64a0" stroke-width="1"/>
<rect x="206.5" y="96.31" width="24" height="7.42" fill="none" stroke="#d46a6a" stroke-width="0.8"/>
<line x1="206.5" y1="100.03" x2="230.5" y2="100.03" stroke="#d46a6a" stroke-width="1"/>
<path fill="#26378a" d="M182.6 59.19a1.2 1.2 0 1 0 2.4 0a1.2 1.2 0 1 0 -2.4 0M184.37 61.17a1.2 1.2 0 1 0 2.4 0a1.2 1.2 0 1 0 -2.4 0M185.6 66.61a1.2 1.2 0 1 0 2.4 0a1.2 1.2 0 1 0 -2.4 0M189.89 100.52a1.2 1.2 0 1 0 2.4 0a1.2 1.2 0 1 0 -2.4 0M183.11 100.03a1.2 1.2 0 1 0 2.4 0a1.2 1.2 0 1 0 -2.4 0M190.38 66.98a1.2 1.2 0 1 0 2.4 0a1.2 1.2 0 1 0 -2.4 0M185.92 82.88a1.2 1.2 0 1 0 2.4 0a1.2 1.2 0 1 0 -2.4 0M189.37 70.99a1.2 1.2 0 1 0 2.4 0a1.2 1.2 0 1 0 -2.4 0M184.07 76.32a1.2 1.2 0 1 0 2.4 0a1.2 1.2 0 1 0 -2.4 0M187.18 85.35a1.2 1.2 0 1 0 2.4 0a1.2 1.2 0 1 0 -2.4 0M181.52 68.78a1.2 1.2 0 1 0 2.4 0a1.2 1.2 0 1 0 -2.4 0M184.47 82.72a1.2 1.2 0 1 0 2.4 0a1.2 1.2 0 1 0 -2.4 0M179.56 82.92a1.2 1.2 0 1 0 2.4 0a1.2 1.2 0 1 0 -2.4 0M177.71 87.93a1.2 1.2 0 1 0 2.4 0a1.2 1.2 0 1 0 -2.4 0M176.72 74.44a1.2 1.2 0 1 0 2.4 0a1.2 1.2 0 1 0 -2.4 0M187.33 80.43a1.2 1.2 0 1 0 2.4 0a1.2 1.2 0 1 0 -2.4 0M183.4 73.46a1.2 1.2 0 1 0 2.4 0a1.2 1.2 0 1 0 -2.4 0M190.46 85.93a1.2 1.2 0 1 0 2.4 0a1.2 1.2 0 1 0 -2.4 0M189.46 77.99a1.2 1.2 0 1 0 2.4 0a1.2 1.2 0 1 0 -2.4 0M182.26 89.01a1.2 1.2 0 1 0 2.4 0a1.2 1.2 0 1 0 -2.4 0M191.68 70.26a1.2 1.2 0 1 0 2.4 0a1.2 1.2 0 1 0 -2.4 0M185.57 77.32a1.2 1.2 0 1 0 2.4 0a1.2 1.2 0 1 0 -2.4 0M188.35 75.78a1.2 1.2 0 1 0 2.4 0a1.2 1.2 0 1 0 -2.4 0M182.62 74.92a1.2 1.2 0 1 0 2.4 0a1.2 1.2 0 1 0 -2.4 0M179.24 90.29a1.2 1.2 0 1 0 2.4 0a1.2 1.2 0 1 0 -2.4 0M178.85 70.89a1.2 1.2 0 1 0 2.4 0a1.2 1.2 0 1 0 -2.4 0M179 59.19a1.2 1.2 0 1 0 2.4 0a1.2 1.2 0 1 0 -2.4 0M185.76 97.08a1.2 1.2 0 1 0 2.4 0a1.2 1.2 0 1 0 -2.4 0M177.9 98.07a1.2 1.2 0 1 0 2.4 0a1.2 1.2 0 1 0 -2.4 0M176.42 95.64a1.2 1.2 0 1 0 2.4 0a1.2 1.2 0 1 0 -2.4 0M189.43 70.26a1.2 1.2 0 1 0 2.4 0a1.2 1.2 0 1 0 -2.4 0M177.69 77.97a1.2 1.2 0 1 0 2.4 0a1.2 1.2 0 1 0 -2.4 0M183.31 67.69a1.2 1.2 0 1 0 2.4 0a1.2 1.2 0 1 0 -2.4 0M183.92 71.54a1.2 1.2 0 1 0 2.4 0a1.2 1.2 0 1 0 -2.4 0M186.02 77.08a1.2 1.2 0 1 0 2.4 0a1.2 1.2 0 1 0 -2.4 0"/>
<path fill="#ec1313" d="M219.03 100.1a1.1 1.1 0 1 0 2.2 0a1.1 1.1 0 1 0 -2.2 0M212.05 91.92a1.1 1.1 0 1 0 2.2 0a1.1 1.1 0 1 0 -2.2 0M214.46 100.57a1.1 1.1 0 1 0 2.2 0a1.1 1.1 0 1 0 -2.2 0M215.38 104.74a1.1 1.1 0 1 0 2.2 0a1.1 1.1 0 1 0 -2.2 0M219.19 97.8a1.1 1.1 0 1 0 2.2 0a1.1 1.1 0 1 0 -2.2 0M211.85 100.96a1.1 1.1 0 1 0 2.2 0a1.1 1.1 0 1 0 -2.2 0M212.67 107.66a1.1 1.1 0 1 0 2.2 0a1.1 1.1 0 1 0 -2.2 0M221.62 105.56a1.1 1.1 0 1 0 2.2 0a1.1 1.1 0 1 0 -2.2 0M220.64 90.46a1.1 1.1 0 1 0 2.2 0a1.1 1.1 0 1 0 -2.2 0M216.71 98.5a1.1 1.1 0 1 0 2.2 0a1.1 1.1 0 1 0 -2.2 0M214.13 98.15a1.1 1.1 0 1 0 2.2 0a1.1 1.1 0 1 0 -2.2 0M220.28 102.09a1.1 1.1 0 1 0 2.2 0a1.1 1.1 0 1 0 -2.2 0M216.92 104.45a1.1 1.1 0 1 0 2.2 0a1.1 1.1 0 1 0 -2.2 0M214.57 95.44a1.1 1.1 0 1 0 2.2 0a1.1 1.1 0 1 0 -2.2 0M223.02 101.12a1.1 1.1 0 1 0 2.2 0a1.1 1.1 0 1 0 -2.2 0M212.93 104.84a1.1 1.1 0 1 0 2.2 0a1.1 1.1 0 1 0 -2.2 0M221.96 101.28a1.1 1.1 0 1 0 2.2 0a1.1 1.1 0 1 0 -2.2 0M219.17 105.68a1.1 1.1 0 1 0 2.2 0a1.1 1.1 0 1 0 -2.2 0M219.59 99.44a1.1 1.1 0 1 0 2.2 0a1.1 1.1 0 1 0 -2.2 0M220.13 94.09a1.1 1.1 0 1 0 2.2 0a1.1 1.1 0 1 0 -2.2 0M221.12 105.28a1.1 1.1 0 1 0 2.2 0a1.1 1.1 0 1 0 -2.2 0M223.11 92.39a1.1 1.1 0 1 0 2.2 0a1.1 1.1 0 1 0 -2.2 0M223.71 104.32a1.1 1.1 0 1 0 2.2 0a1.1 1.1 0 1 0 -2.2 0M213.73 99.65a1.1 1.1 0 1 0 2.2 0a1.1 1.1 0 1 0 -2.2 0M212.36 105.28a1.1 1.1 0 1 0 2.2 0a1.1 1.1 0 1 0 -2.2 0M223.35 101.79a1.1 1.1 0 1 0 2.2 0a1.1 1.1 0 1 0 -2.2 0M212.96 100.25a1.1 1.1 0 1 0 2.2 0a1.1 1.1 0 1 0 -2.2 0M213.23 102.99a1.1 1.1 0 1 0 2.2 0a1.1 1.1 0 1 0 -2.2 0M221.98 104.52a1.1 1.1 0 1 0 2.2 0a1.1 1.1 0 1 0 -2.2 0M224.39 104.38a1.1 1.1 0 1 0 2.2 0a1.1 1.1 0 1 0 -2.2 0M222.57 105.19a1.1 1.1 0 1 0 2.2 0a1.1 1.1 0 1 0 -2.2 0M217.65 109.46a1.1 1.1 0 1 0 2.2 0a1.1 1.1 0 1 0 -2.2 0M215.53 102.02a1.1 1.1 0 1 0 2.2 0a1.1 1.1 0 1 0 -2.2 0M224.73 98.24a1.1 1.1 0 1 0 2.2 0a1.1 1.1 0 1 0 -2.2 0M220.94 95.35a1.1 1.1 0 1 0 2.2 0a1.1 1.1 0 1 0 -2.2 0M219.34 96.84a1.1 1.1 0 1 0 2.2 0a1.1 1.1 0 1 0 -2.2 0M210.07 85.12a1.1 1.1 0 1 0 2.2 0a1.1 1.1 0 1 0 -2.2 0M212.83 98.71a1.1 1.1 0 1 0 2.2 0a1.1 1.1 0 1 0 -2.2 0M210.1 103.12a1.1 1.1 0 1 0 2.2 0a1.1 1.1 0 1 0 -2.2 0M223.51 89.87a1.1 1.1 0 1 0 2.2 0a1.1 1.1 0 1 0 -2.2 0M213.45 106.48a1.1 1.1 0 1 0 2.2 0a1.1 1.1 0 1 0 -2.2 0M212.47 95.01a1.1 1.1 0 1 0 2.2 0a1.1 1.1 0 1 0 -2.2 0M218.64 105.96a1.1 1.1 0 1 0 2.2 0a1.1 1.1 0 1 0 -2.2 0M212.95 98.5a1.1 1.1 0 1 0 2.2 0a1.1 1.1 0 1 0 -2.2 0M218.1 111.73a1.1 1.1 0 1 0 2.2 0a1.1 1.1 0 1 0 -2.2 0M224.15 95.4a1.1 1.1 0 1 0 2.2 0a1.1 1.1 0 1 0 -2.2 0M222.86 101.42a1.1 1.1 0 1 0 2.2 0a1.1 1.1 0 1 0 -2.2 0M213.58 106.03a1.1 1.1 0 1 0 2.2 0a1.1 1.1 0 1 0 -2.2 0M223.64 90.97a1.1 1.1 0 1 0 2.2 0a1.1 1.1 0 1 0 -2.2 0M215.89 96.16a1.1 1.1 0 1 0 2.2 0a1.1 1.1 0 1 0 -2.2 0M217.75 100.26a1.1 1.1 0 1 0 2.2 0a1.1 1.1 0 1 0 -2.2 0M214.77 104.76a1.1 1.1 0 1 0 2.2 0a1.1 1.1 0 1 0 -2.2 0M224.9 100.77a1.1 1.1 0 1 0 2.2 0a1.1 1.1 0 1 0 -2.2 0M214.51 101.45a1.1 1.1 0 1 0 2.2 0a1.1 1.1 0 1 0 -2.2 0M220.96 96.39a1.1 1.1 0 1 0 2.2 0a1.1 1.1 0 1 0 -2.2 0M219.2 95.98a1.1 1.1 0 1 0 2.2 0a1.1 1.1 0 1 0 -2.2 0M220.23 104.32a1.1 1.1 0 1 0 2.2 0a1.1 1.1 0 1 0 -2.2 0M211.46 103.65a1.1 1.1 0 1 0 2.2 0a1.1 1.1 0 1 0 -2.2 0M217.95 103.55a1.1 1.1 0 1 0 2.2 0a1.1 1.1 0 1 0 -2.2 0M224.86 108.2a1.1 1.1 0 1 0 2.2 0a1.1 1.1 0 1 0 -2.2 0M218.35 103.89a1.1 1.1 0 1 0 2.2 0a1.1 1.1 0 1 0 -2.2 0M212.85 101.05a1.1 1.1 0 1 0 2.2 0a1.1 1.1 0 1 0 -2.2 0M210.69 96.59a1.1 1.1 0 1 0 2.2 0a1.1 1.1 0 1 0 -2.2 0M214.85 93a1.1 1.1 0 1 0 2.2 0a1.1 1.1 0 1 0 -2.2 0M221.08 105.12a1.1 1.1 0 1 0 2.2 0a1.1 1.1 0 1 0 -2.2 0M210.27 97.38a1.1 1.1 0 1 0 2.2 0a1.1 1.1 0 1 0 -2.2 0M210.63 103.05a1.1 1.1 0 1 0 2.2 0a1.1 1.1 0 1 0 -2.2 0M219.76 88.6a1.1 1.1 0 1 0 2.2 0a1.1 1.1 0 1 0 -2.2 0M223.13 100.8a1.1 1.1 0 1 0 2.2 0a1.1 1.1 0 1 0 -2.2 0M216.48 97.66a1.1 1.1 0 1 0 2.2 0a1.1 1.1 0 1 0 -2.2 0M219.26 105.85a1.1 1.1 0 1 0 2.2 0a1.1 1.1 0 1 0 -2.2 0M213.76 105.13a1.1 1.1 0 1 0 2.2 0a1.1 1.1 0 1 0 -2.2 0M213.99 99.37a1.1 1.1 0 1 0 2.2 0a1.1 1.1 0 1 0 -2.2 0M217.02 102.71a1.1 1.1 0 1 0 2.2 0a1.1 1.1 0 1 0 -2.2 0M213.19 98.51a1.1 1.1 0 1 0 2.2 0a1.1 1.1 0 1 0 -2.2 0M216.71 109.41a1.1 1.1 0 1 0 2.2 0a1.1 1.1 0 1 0 -2.2 0M212.13 96.75a1.1 1.1 0 1 0 2.2 0a1.1 1.1 0 1 0 -2.2 0M223.76 105.64a1.1 1.1 0 1 0 2.2 0a1.1 1.1 0 1 0 -2.2 0M219.62 90.72a1.1 1.1 0 1 0 2.2 0a1.1 1.1 0 1 0 -2.2 0M211.31 102.16a1.1 1.1 0 1 0 2.2 0a1.1 1.1 0 1 0 -2.2 0M212.8 94.27a1.1 1.1 0 1 0 2.2 0a1.1 1.1 0 1 0 -2.2 0M222.34 108.46a1.1 1.1 0 1 0 2.2 0a1.1 1.1 0 1 0 -2.2 0M215.49 98.08a1.1 1.1 0 1 0 2.2 0a1.1 1.1 0 1 0 -2.2 0M213.8 105.58a1.1 1.1 0 1 0 2.2 0a1.1 1.1 0 1 0 -2.2 0M210.25 103.29a1.1 1.1 0 1 0 2.2 0a1.1 1.1 0 1 0 -2.2 0M220.03 100.38a1.1 1.1 0 1 0 2.2 0a1.1 1.1 0 1 0 -2.2 0M218.45 102.32a1.1 1.1 0 1 0 2.2 0a1.1 1.1 0 1 0 -2.2 0M222.51 99.02a1.1 1.1 0 1 0 2.2 0a1.1 1.1 0 1 0 -2.2 0M212.45 96.26a1.1 1.1 0 1 0 2.2 0a1.1 1.1 0 1 0 -2.2 0M221.18 96.8a1.1 1.1 0 1 0 2.2 0a1.1 1.1 0 1 0 -2.2 0M222.31 101.02a1.1 1.1 0 1 0 2.2 0a1.1 1.1 0 1 0 -2.2 0M222.26 108.28a1.1 1.1 0 1 0 2.2 0a1.1 1.1 0 1 0 -2.2 0M221.1 105.1a1.1 1.1 0 1 0 2.2 0a1.1 1.1 0 1 0 -2.2 0M216.54 101.63a1.1 1.1 0 1 0 2.2 0a1.1 1.1 0 1 0 -2.2 0M210.61 112.6a1.1 1.1 0 1 0 2.2 0a1.1 1.1 0 1 0 -2.2 0M219.56 96.24a1.1 1.1 0 1 0 2.2 0a1.1 1.1 0 1 0 -2.2 0M210.29 101.88a1.1 1.1 0 1 0 2.2 0a1.1 1.1 0 1 0 -2.2 0M211.19 101.95a1.1 1.1 0 1 0 2.2 0a1.1 1.1 0 1 0 -2.2 0M216.04 95.12a1.1 1.1 0 1 0 2.2 0a1.1 1.1 0 1 0 -2.2 0M211.71 96.72a1.1 1.1 0 1 0 2.2 0a1.1 1.1 0 1 0 -2.2 0M216.68 99.26a1.1 1.1 0 1 0 2.2 0a1.1 1.1 0 1 0 -2.2 0M222.67 106.22a1.1 1.1 0 1 0 2.2 0a1.1 1.1 0 1 0 -2.2 0M212.51 98.75a1.1 1.1 0 1 0 2.2 0a1.1 1.1 0 1 0 -2.2 0M221.87 98.55a1.1 1.1 0 1 0 2.2 0a1.1 1.1 0 1 0 -2.2 0M224.86 105.56a1.1 1.1 0 1 0 2.2 0a1.1 1.1 0 1 0 -2.2 0M210.46 94.58a1.1 1.1 0 1 0 2.2 0a1.1 1.1 0 1 0 -2.2 0M216.25 97.63a1.1 1.1 0 1 0 2.2 0a1.1 1.1 0 1 0 -2.2 0M220.51 111.73a1.1 1.1 0 1 0 2.2 0a1.1 1.1 0 1 0 -2.2 0M220.88 99.83a1.1 1.1 0 1 0 2.2 0a1.1 1.1 0 1 0 -2.2 0M214.1 107.72a1.1 1.1 0 1 0 2.2 0a1.1 1.1 0 1 0 -2.2 0M222.04 94.05a1.1 1.1 0 1 0 2.2 0a1.1 1.1 0 1 0 -2.2 0M215.47 95.93a1.1 1.1 0 1 0 2.2 0a1.1 1.1 0 1 0 -2.2 0M212.91 106.8a1.1 1.1 0 1 0 2.2 0a1.1 1.1 0 1 0 -2.2 0M217.67 105.56a1.1 1.1 0 1 0 2.2 0a1.1 1.1 0 1 0 -2.2 0M219.09 99.94a1.1 1.1 0 1 0 2.2 0a1.1 1.1 0 1 0 -2.2 0M222.47 101.88a1.1 1.1 0 1 0 2.2 0a1.1 1.1 0 1 0 -2.2 0M219.86 91.84a1.1 1.1 0 1 0 2.2 0a1.1 1.1 0 1 0 -2.2 0M211.15 96.3a1.1 1.1 0 1 0 2.2 0a1.1 1.1 0 1 0 -2.2 0M218.52 102.13a1.1 1.1 0 1 0 2.2 0a1.1 1.1 0 1 0 -2.2 0M215.06 97.23a1.1 1.1 0 1 0 2.2 0a1.1 1.1 0 1 0 -2.2 0M220.48 112.09a1.1 1.1 0 1 0 2.2 0a1.1 1.1 0 1 0 -2.2 0M210.58 98.76a1.1 1.1 0 1 0 2.2 0a1.1 1.1 0 1 0 -2.2 0M219.76 95.59a1.1 1.1 0 1 0 2.2 0a1.1 1.1 0 1 0 -2.2 0M221.77 101.54a1.1 1.1 0 1 0 2.2 0a1.1 1.1 0 1 0 -2.2 0M210.5 104.56a1.1 1.1 0 1 0 2.2 0a1.1 1.1 0 1 0 -2.2 0M210.13 97.3a1.1 1.1 0 1 0 2.2 0a1.1 1.1 0 1 0 -2.2 0M223.28 89.37a1.1 1.1 0 1 0 2.2 0a1.1 1.1 0 1 0 -2.2 0M223.33 99.35a1.1 1.1 0 1 0 2.2 0a1.1 1.1 0 1 0 -2.2 0M212.55 106.9a1.1 1.1 0 1 0 2.2 0a1.1 1.1 0 1 0 -2.2 0M223.74 92.29a1.1 1.1 0 1 0 2.2 0a1.1 1.1 0 1 0 -2.2 0M216 111.21a1.1 1.1 0 1 0 2.2 0a1.1 1.1 0 1 0 -2.2 0M217.69 97.66a1.1 1.1 0 1 0 2.2 0a1.1 1.1 0 1 0 -2.2 0M216.96 103.83a1.1 1.1 0 1 0 2.2 0a1.1 1.1 0 1 0 -2.2 0M214.93 95.22a1.1 1.1 0 1 0 2.2 0a1.1 1.1 0 1 0 -2.2 0M223.16 105.36a1.1 1.1 0 1 0 2.2 0a1.1 1.1 0 1 0 -2.2 0M219.06 92.98a1.1 1.1 0 1 0 2.2 0a1.1 1.1 0 1 0 -2.2 0M223.89 98.81a1.1 1.1 0 1 0 2.2 0a1.1 1.1 0 1 0 -2.2 0M219.23 110.35a1.1 1.1 0 1 0 2.2 0a1.1 1.1 0 1 0 -2.2 0M223.77 111.76a1.1 1.1 0 1 0 2.2 0a1.1 1.1 0 1 0 -2.2 0M217.63 102.32a1.1 1.1 0 1 0 2.2 0a1.1 1.1 0 1 0 -2.2 0M217.02 93.15a1.1 1.1 0 1 0 2.2 0a1.1 1.1 0 1 0 -2.2 0M218.47 99.8a1.1 1.1 0 1 0 2.2 0a1.1 1.1 0 1 0 -2.2 0M209.99 100.14a1.1 1.1 0 1 0 2.2 0a1.1 1.1 0 1 0 -2.2 0M221.41 101.86a1.1 1.1 0 1 0 2.2 0a1.1 1.1 0 1 0 -2.2 0M211.99 96.32a1.1 1.1 0 1 0 2.2 0a1.1 1.1 0 1 0 -2.2 0M224.06 98.37a1.1 1.1 0 1 0 2.2 0a1.1 1.1 0 1 0 -2.2 0M210.56 98.92a1.1 1.1 0 1 0 2.2 0a1.1 1.1 0 1 0 -2.2 0M220.52 106.13a1.1 1.1 0 1 0 2.2 0a1.1 1.1 0 1 0 -2.2 0M221.43 93.76a1.1 1.1 0 1 0 2.2 0a1.1 1.1 0 1 0 -2.2 0M218.02 92.76a1.1 1.1 0 1 0 2.2 0a1.1 1.1 0 1 0 -2.2 0M211.34 107.93a1.1 1.1 0 1 0 2.2 0a1.1 1.1 0 1 0 -2.2 0M222.07 86.54a1.1 1.1 0 1 0 2.2 0a1.1 1.1 0 1 0 -2.2 0M214.72 96.41a1.1 1.1 0 1 0 2.2 0a1.1 1.1 0 1 0 -2.2 0M214.22 103.3a1.1 1.1 0 1 0 2.2 0a1.1 1.1 0 1 0 -2.2 0M220.29 111.36a1.1 1.1 0 1 0 2.2 0a1.1 1.1 0 1 0 -2.2 0M224.48 96.78a1.1 1.1 0 1 0 2.2 0a1.1 1.1 0 1 0 -2.2 0M211.34 97.35a1.1 1.1 0 1 0 2.2 0a1.1 1.1 0 1 0 -2.2 0M216.44 103.91a1.1 1.1 0 1 0 2.2 0a1.1 1.1 0 1 0 -2.2 0M220 110.71a1.1 1.1 0 1 0 2.2 0a1.1 1.1 0 1 0 -2.2 0M214.05 94.12a1.1 1.1 0 1 0 2.2 0a1.1 1.1 0 1 0 -2.2 0M223.77 103.87a1.1 1.1 0 1 0 2.2 0a1.1 1.1 0 1 0 -2.2 0M218.94 103.21a1.1 1.1 0 1 0 2.2 0a1.1 1.1 0 1 0 -2.2 0M211.03 81.58a1.1 1.1 0 1 0 2.2 0a1.1 1.1 0 1 0 -2.2 0M212.22 88.12a1.1 1.1 0 1 0 2.2 0a1.1 1.1 0 1 0 -2.2 0M212.05 95.09a1.1 1.1 0 1 0 2.2 0a1.1 1.1 0 1 0 -2.2 0M216.74 103.11a1.1 1.1 0 1 0 2.2 0a1.1 1.1 0 1 0 -2.2 0M223.55 96.82a1.1 1.1 0 1 0 2.2 0a1.1 1.1 0 1 0 -2.2 0M211.58 113.51a1.1 1.1 0 1 0 2.2 0a1.1 1.1 0 1 0 -2.2 0M212.17 99.91a1.1 1.1 0 1 0 2.2 0a1.1 1.1 0 1 0 -2.2 0M213.08 104.85a1.1 1.1 0 1 0 2.2 0a1.1 1.1 0 1 0 -2.2 0M218.5 107.84a1.1 1.1 0 1 0 2.2 0a1.1 1.1 0 1 0 -2.2 0M216.35 109.53a1.1 1.1 0 1 0 2.2 0a1.1 1.1 0 1 0 -2.2 0M216.17 97.53a1.1 1.1 0 1 0 2.2 0a1.1 1.1 0 1 0 -2.2 0M212.07 100.01a1.1 1.1 0 1 0 2.2 0a1.1 1.1 0 1 0 -2.2 0M222.26 99.61a1.1 1.1 0 1 0 2.2 0a1.1 1.1 0 1 0 -2.2 0M217.09 95.72a1.1 1.1 0 1 0 2.2 0a1.1 1.1 0 1 0 -2.2 0M222.89 105.34a1.1 1.1 0 1 0 2.2 0a1.1 1.1 0 1 0 -2.2 0M210.35 107.55a1.1 1.1 0 1 0 2.2 0a1.1 1.1 0 1 0 -2.2 0M216.77 110.63a1.1 1.1 0 1 0 2.2 0a1.1 1.1 0 1 0 -2.2 0M215.43 102.43a1.1 1.1 0 1 0 2.2 0a1.1 1.1 0 1 0 -2.2 0M222.52 96.19a1.1 1.1 0 1 0 2.2 0a1.1 1.1 0 1 0 -2.2 0M220.28 101.37a1.1 1.1 0 1 0 2.2 0a1.1 1.1 0 1 0 -2.2 0M217.71 96.87a1.1 1.1 0 1 0 2.2 0a1.1 1.1 0 1 0 -2.2 0M212.32 107.24a1.1 1.1 0 1 0 2.2 0a1.1 1.1 0 1 0 -2.2 0M220.14 103.19a1.1 1.1 0 1 0 2.2 0a1.1 1.1 0 1 0 -2.2 0M223.34 104.88a1.1 1.1 0 1 0 2.2 0a1.1 1.1 0 1 0 -2.2 0M221.55 107.63a1.1 1.1 0 1 0 2.2 0a1.1 1.1 0 1 0 -2.2 0M224.41 89.93a1.1 1.1 0 1 0 2.2 0a1.1 1.1 0 1 0 -2.2 0M218.77 95.67a1.1 1.1 0 1 0 2.2 0a1.1 1.1 0 1 0 -2.2 0M214.61 104.86a1.1 1.1 0 1 0 2.2 0a1.1 1.1 0 1 0 -2.2 0M213.22 104.88a1.1 1.1 0 1 0 2.2 0a1.1 1.1 0 1 0 -2.2 0M221.89 100.85a1.1 1.1 0 1 0 2.2 0a1.1 1.1 0 1 0 -2.2 0M222.08 108.73a1.1 1.1 0 1 0 2.2 0a1.1 1.1 0 1 0 -2.2 0M219.42 98.04a1.1 1.1 0 1 0 2.2 0a1.1 1.1 0 1 0 -2.2 0M221.63 107.89a1.1 1.1 0 1 0 2.2 0a1.1 1.1 0 1 0 -2.2 0M217.19 102.63a1.1 1.1 0 1 0 2.2 0a1.1 1.1 0 1 0 -2.2 0M222.67 106.35a1.1 1.1 0 1 0 2.2 0a1.1 1.1 0 1 0 -2.2 0M220.32 103.25a1.1 1.1 0 1 0 2.2 0a1.1 1.1 0 1 0 -2.2 0M213.53 108.1a1.1 1.1 0 1 0 2.2 0a1.1 1.1 0 1 0 -2.2 0M218.71 109.47a1.1 1.1 0 1 0 2.2 0a1.1 1.1 0 1 0 -2.2 0M219.74 106.02a1.1 1.1 0 1 0 2.2 0a1.1 1.1 0 1 0 -2.2 0M212.94 104.39a1.1 1.1 0 1 0 2.2 0a1.1 1.1 0 1 0 -2.2 0M223.94 102.2a1.1 1.1 0 1 0 2.2 0a1.1 1.1 0 1 0 -2.2 0M221.98 100.13a1.1 1.1 0 1 0 2.2 0a1.1 1.1 0 1 0 -2.2 0M212.08 91.83a1.1 1.1 0 1 0 2.2 0a1.1 1.1 0 1 0 -2.2 0M213.2 95.9a1.1 1.1 0 1 0 2.2 0a1.1 1.1 0 1 0 -2.2 0M209.93 101.96a1.1 1.1 0 1 0 2.2 0a1.1 1.1 0 1 0 -2.2 0M223.99 96.39a1.1 1.1 0 1 0 2.2 0a1.1 1.1 0 1 0 -2.2 0M212.52 104.44a1.1 1.1 0 1 0 2.2 0a1.1 1.1 0 1 0 -2.2 0M222.41 92.27a1.1 1.1 0 1 0 2.2 0a1.1 1.1 0 1 0 -2.2 0M217.57 97.39a1.1 1.1 0 1 0 2.2 0a1.1 1.1 0 1 0 -2.2 0M210.76 108.24a1.1 1.1 0 1 0 2.2 0a1.1 1.1 0 1 0 -2.2 0M213.07 96.22a1.1 1.1 0 1 0 2.2 0a1.1 1.1 0 1 0 -2.2 0M213.77 95.87a1.1 1.1 0 1 0 2.2 0a1.1 1.1 0 1 0 -2.2 0M221.37 114.6a1.1 1.1 0 1 0 2.2 0a1.1 1.1 0 1 0 -2.2 0M215.41 104.78a1.1 1.1 0 1 0 2.2 0a1.1 1.1 0 1 0 -2.2 0M212.03 103.22a1.1 1.1 0 1 0 2.2 0a1.1 1.1 0 1 0 -2.2 0M224.1 111.5a1.1 1.1 0 1 0 2.2 0a1.1 1.1 0 1 0 -2.2 0M217.62 106.59a1.1 1.1 0 1 0 2.2 0a1.1 1.1 0 1 0 -2.2 0M210.9 105.92a1.1 1.1 0 1 0 2.2 0a1.1 1.1 0 1 0 -2.2 0M224.49 97.63a1.1 1.1 0 1 0 2.2 0a1.1 1.1 0 1 0 -2.2 0M220.03 98.81a1.1 1.1 0 1 0 2.2 0a1.1 1.1 0 1 0 -2.2 0M216.52 83.58a1.1 1.1 0 1 0 2.2 0a1.1 1.1 0 1 0 -2.2 0M212.09 102.76a1.1 1.1 0 1 0 2.2 0a1.1 1.1 0 1 0 -2.2 0M220.3 93.96a1.1 1.1 0 1 0 2.2 0a1.1 1.1 0 1 0 -2.2 0M211.35 100.07a1.1 1.1 0 1 0 2.2 0a1.1 1.1 0 1 0 -2.2 0M223.99 98.98a1.1 1.1 0 1 0 2.2 0a1.1 1.1 0 1 0 -2.2 0M221.17 107.12a1.1 1.1 0 1 0 2.2 0a1.1 1.1 0 1 0 -2.2 0M220.6 111.4a1.1 1.1 0 1 0 2.2 0a1.1 1.1 0 1 0 -2.2 0M221.45 104.89a1.1 1.1 0 1 0 2.2 0a1.1 1.1 0 1 0 -2.2 0M222.86 96.18a1.1 1.1 0 1 0 2.2 0a1.1 1.1 0 1 0 -2.2 0M216.93 91.51a1.1 1.1 0 1 0 2.2 0a1.1 1.1 0 1 0 -2.2 0M222.07 97.08a1.1 1.1 0 1 0 2.2 0a1.1 1.1 0 1 0 -2.2 0M211.55 97.68a1.1 1.1 0 1 0 2.2 0a1.1 1.1 0 1 0 -2.2 0M220.41 105.29a1.1 1.1 0 1 0 2.2 0a1.1 1.1 0 1 0 -2.2 0M221.17 91.79a1.1 1.1 0 1 0 2.2 0a1.1 1.1 0 1 0 -2.2 0M213.07 92.87a1.1 1.1 0 1 0 2.2 0a1.1 1.1 0 1 0 -2.2 0M211.57 103.54a1.1 1.1 0 1 0 2.2 0a1.1 1.1 0 1 0 -2.2 0M223.65 100.78a1.1 1.1 0 1 0 2.2 0a1.1 1.1 0 1 0 -2.2 0M223.27 106.19a1.1 1.1 0 1 0 2.2 0a1.1 1.1 0 1 0 -2.2 0M211.55 92.17a1.1 1.1 0 1 0 2.2 0a1.1 1.1 0 1 0 -2.2 0M218.74 98.21a1.1 1.1 0 1 0 2.2 0a1.1 1.1 0 1 0 -2.2 0M212.61 101.06a1.1 1.1 0 1 0 2.2 0a1.1 1.1 0 1 0 -2.2 0M212.97 98.2a1.1 1.1 0 1 0 2.2 0a1.1 1.1 0 1 0 -2.2 0M223.84 98.01a1.1 1.1 0 1 0 2.2 0a1.1 1.1 0 1 0 -2.2 0M219.84 102.86a1.1 1.1 0 1 0 2.2 0a1.1 1.1 0 1 0 -2.2 0M221.28 107.59a1.1 1.1 0 1 0 2.2 0a1.1 1.1 0 1 0 -2.2 0M214.13 107.83a1.1 1.1 0 1 0 2.2 0a1.1 1.1 0 1 0 -2.2 0M221.54 110.42a1.1 1.1 0 1 0 2.2 0a1.1 1.1 0 1 0 -2.2 0M219.94 97.89a1.1 1.1 0 1 0 2.2 0a1.1 1.1 0 1 0 -2.2 0M215.09 87.29a1.1 1.1 0 1 0 2.2 0a1.1 1.1 0 1 0 -2.2 0M217.34 110.19a1.1 1.1 0 1 0 2.2 0a1.1 1.1 0 1 0 -2.2 0M213.64 99.73a1.1 1.1 0 1 0 2.2 0a1.1 1.1 0 1 0 -2.2 0M218.82 98.18a1.1 1.1 0 1 0 2.2 0a1.1 1.1 0 1 0 -2.2 0M212.7 106.12a1.1 1.1 0 1 0 2.2 0a1.1 1.1 0 1 0 -2.2 0M216.63 99.36a1.1 1.1 0 1 0 2.2 0a1.1 1.1 0 1 0 -2.2 0M222.73 106.76a1.1 1.1 0 1 0 2.2 0a1.1 1.1 0 1 0 -2.2 0M219.77 93.69a1.1 1.1 0 1 0 2.2 0a1.1 1.1 0 1 0 -2.2 0M218.93 103.9a1.1 1.1 0 1 0 2.2 0a1.1 1.1 0 1 0 -2.2 0M211.58 99.95a1.1 1.1 0 1 0 2.2 0a1.1 1.1 0 1 0 -2.2 0M222.23 84.92a1.1 1.1 0 1 0 2.2 0a1.1 1.1 0 1 0 -2.2 0M219.19 90.44a1.1 1.1 0 1 0 2.2 0a1.1 1.1 0 1 0 -2.2 0M224.13 75.44a1.1 1.1 0 1 0 2.2 0a1.1 1.1 0 1 0 -2.2 0M223.91 90.07a1.1 1.1 0 1 0 2.2 0a1.1 1.1 0 1 0 -2.2 0M223.88 72.14a1.1 1.1 0 1 0 2.2 0a1.1 1.1 0 1 0 -2.2 0M217.92 82.91a1.1 1.1 0 1 0 2.2 0a1.1 1.1 0 1 0 -2.2 0M221.45 74.26a1.1 1.1 0 1 0 2.2 0a1.1 1.1 0 1 0 -2.2 0M211.42 91.36a1.1 1.1 0 1 0 2.2 0a1.1 1.1 0 1 0 -2.2 0M210.57 79.81a1.1 1.1 0 1 0 2.2 0a1.1 1.1 0 1 0 -2.2 0M221.69 76.68a1.1 1.1 0 1 0 2.2 0a1.1 1.1 0 1 0 -2.2 0M220 89.56a1.1 1.1 0 1 0 2.2 0a1.1 1.1 0 1 0 -2.2 0M221.4 49.29a1.1 1.1 0 1 0 2.2 0a1.1 1.1 0 1 0 -2.2 0M216.4 60.92a1.1 1.1 0 1 0 2.2 0a1.1 1.1 0 1 0 -2.2 0"/>
<rect x="165.5" y="23.1" width="72.6" height="107.4" fill="none" stroke="#666" stroke-width="0.6"/>
<line x1="163.5" y1="122.3" x2="165.5" y2="122.3" stroke="#444" stroke-width="0.6"/>
<text x="162.7" y="124.6" font-size="6.4" text-anchor="end" fill="#333" stroke="#333" stroke-width="0.2">0</text>
<line x1="163.5" y1="97.55" x2="165.5" y2="97.55" stroke="#444" stroke-width="0.6"/>
<text x="162.7" y="99.85" font-size="6.4" text-anchor="end" fill="#333" stroke="#333" stroke-width="0.2">100</text>
<line x1="163.5" y1="72.8" x2="165.5" y2="72.8" stroke="#444" stroke-width="0.6"/>
<text x="162.7" y="75.1" font-size="6.4" text-anchor="end" fill="#333" stroke="#333" stroke-width="0.2">200</text>
<line x1="163.5" y1="48.05" x2="165.5" y2="48.05" stroke="#444" stroke-width="0.6"/>
<text x="162.7" y="50.35" font-size="6.4" text-anchor="end" fill="#333" stroke="#333" stroke-width="0.2">300</text>
<line x1="185.3" y1="130.5" x2="185.3" y2="132" stroke="#444" stroke-width="0.6"/>
<text x="185.3" y="137.78" font-size="6.6" text-anchor="middle" fill="#333" stroke="#333" stroke-width="0.2">Normal</text>
<line x1="218.5" y1="130.5" x2="218.5" y2="132" stroke="#444" stroke-width="0.6"/>
<text x="218.5" y="137.78" font-size="6.6" text-anchor="middle" fill="#333" stroke="#333" stroke-width="0.2">Tumor</text>
<text x="147.2" y="79.88" font-size="6.6" text-anchor="middle" fill="#222" stroke="#222" stroke-width="0.2" transform="rotate(-90 147.2 77.5)">Expression</text>
<text x="209.6" y="40" font-size="6.1" text-anchor="middle" fill="#222" stroke="#222" stroke-width="0.2"><tspan font-style="italic">P</tspan>&lt;0.001</text>
<rect x="244.5" y="17.1" width="5.8" height="5" fill="#e6e8f4" stroke="#5a64a0" stroke-width="0.7"/>
<line x1="244.5" y1="19.6" x2="250.3" y2="19.6" stroke="#5a64a0" stroke-width="0.7"/>
<line x1="247.4" y1="16.2" x2="247.4" y2="23" stroke="#5a64a0" stroke-width="0.7"/>
<path fill="#26378a" d="M246.5 19.6a0.9 0.9 0 1 0 1.8 0a0.9 0.9 0 1 0 -1.8 0"/>
<text x="254.5" y="21.87" font-size="6.3" text-anchor="start" fill="#222" stroke="#222" stroke-width="0.2">Normal</text>
<rect x="244.5" y="24.8" width="5.8" height="5" fill="#fbe1e1" stroke="#d46a6a" stroke-width="0.7"/>
<line x1="244.5" y1="27.3" x2="250.3" y2="27.3" stroke="#d46a6a" stroke-width="0.7"/>
<line x1="247.4" y1="23.9" x2="247.4" y2="30.7" stroke="#d46a6a" stroke-width="0.7"/>
<path fill="#ec1313" d="M246.5 27.3a0.9 0.9 0 1 0 1.8 0a0.9 0.9 0 1 0 -1.8 0"/>
<text x="254.5" y="29.57" font-size="6.3" text-anchor="start" fill="#222" stroke="#222" stroke-width="0.2">Tumor</text>
<rect x="300.4" y="23.1" width="72.4" height="107.4" fill="#fff" stroke="none" stroke-width="1"/>
<line x1="300.4" y1="109.92" x2="372.8" y2="109.92" stroke="#f3f3f3" stroke-width="0.5"/>
<line x1="300.4" y1="85.17" x2="372.8" y2="85.17" stroke="#f3f3f3" stroke-width="0.5"/>
<line x1="300.4" y1="60.42" x2="372.8" y2="60.42" stroke="#f3f3f3" stroke-width="0.5"/>
<line x1="300.4" y1="35.67" x2="372.8" y2="35.67" stroke="#f3f3f3" stroke-width="0.5"/>
<line x1="300.4" y1="122.3" x2="372.8" y2="122.3" stroke="#e8e8e8" stroke-width="0.8"/>
<line x1="300.4" y1="97.55" x2="372.8" y2="97.55" stroke="#e8e8e8" stroke-width="0.8"/>
<line x1="300.4" y1="72.8" x2="372.8" y2="72.8" stroke="#e8e8e8" stroke-width="0.8"/>
<line x1="300.4" y1="48.05" x2="372.8" y2="48.05" stroke="#e8e8e8" stroke-width="0.8"/>
<line x1="320.2" y1="23.1" x2="320.2" y2="130.5" stroke="#e8e8e8" stroke-width="0.8"/>
<line x1="353.4" y1="23.1" x2="353.4" y2="130.5" stroke="#e8e8e8" stroke-width="0.8"/>
<rect x="300.4" y="15.3" width="72.4" height="7.8" fill="#d6d6d6" stroke="#8a8a8a" stroke-width="0.6"/>
<text x="336.6" y="21.09" font-size="4.7" text-anchor="middle" fill="#333" stroke="#333" stroke-width="0.2">TCGA</text>
<line x1="320.2" y1="70.08" x2="320.2" y2="48.05" stroke="#5a64a0" stroke-width="0.7"/>
<line x1="320.2" y1="86.66" x2="320.2" y2="101.26" stroke="#5a64a0" stroke-width="0.7"/>
<rect x="308.2" y="70.08" width="24" height="16.58" fill="none" stroke="#5a64a0" stroke-width="0.8"/>
<line x1="308.2" y1="76.51" x2="332.2" y2="76.51" stroke="#5a64a0" stroke-width="1"/>
<rect x="341.4" y="96.31" width="24" height="7.42" fill="none" stroke="#d46a6a" stroke-width="0.8"/>
<line x1="341.4" y1="100.03" x2="365.4" y2="100.03" stroke="#d46a6a" stroke-width="1"/>
<path fill="#26378a" d="M314.42 48.05a1.2 1.2 0 1 0 2.4 0a1.2 1.2 0 1 0 -2.4 0M324.74 50.03a1.2 1.2 0 1 0 2.4 0a1.2 1.2 0 1 0 -2.4 0M313.03 55.47a1.2 1.2 0 1 0 2.4 0a1.2 1.2 0 1 0 -2.4 0M315.75 101.26a1.2 1.2 0 1 0 2.4 0a1.2 1.2 0 1 0 -2.4 0M318.89 100.77a1.2 1.2 0 1 0 2.4 0a1.2 1.2 0 1 0 -2.4 0M324.59 81.02a1.2 1.2 0 1 0 2.4 0a1.2 1.2 0 1 0 -2.4 0M326.44 101.26a1.2 1.2 0 1 0 2.4 0a1.2 1.2 0 1 0 -2.4 0M322.33 81.22a1.2 1.2 0 1 0 2.4 0a1.2 1.2 0 1 0 -2.4 0M314.42 89a1.2 1.2 0 1 0 2.4 0a1.2 1.2 0 1 0 -2.4 0M319.72 48.05a1.2 1.2 0 1 0 2.4 0a1.2 1.2 0 1 0 -2.4 0M322.3 75.6a1.2 1.2 0 1 0 2.4 0a1.2 1.2 0 1 0 -2.4 0M311.83 82.7a1.2 1.2 0 1 0 2.4 0a1.2 1.2 0 1 0 -2.4 0M321.88 81.82a1.2 1.2 0 1 0 2.4 0a1.2 1.2 0 1 0 -2.4 0M316.89 86.57a1.2 1.2 0 1 0 2.4 0a1.2 1.2 0 1 0 -2.4 0M320.44 91.33a1.2 1.2 0 1 0 2.4 0a1.2 1.2 0 1 0 -2.4 0M321.71 83.17a1.2 1.2 0 1 0 2.4 0a1.2 1.2 0 1 0 -2.4 0M321.71 72.45a1.2 1.2 0 1 0 2.4 0a1.2 1.2 0 1 0 -2.4 0M319.37 81.3a1.2 1.2 0 1 0 2.4 0a1.2 1.2 0 1 0 -2.4 0M319.88 66.6a1.2 1.2 0 1 0 2.4 0a1.2 1.2 0 1 0 -2.4 0M314.17 80.82a1.2 1.2 0 1 0 2.4 0a1.2 1.2 0 1 0 -2.4 0M318.92 78.07a1.2 1.2 0 1 0 2.4 0a1.2 1.2 0 1 0 -2.4 0M313.01 59.38a1.2 1.2 0 1 0 2.4 0a1.2 1.2 0 1 0 -2.4 0M318.69 71.67a1.2 1.2 0 1 0 2.4 0a1.2 1.2 0 1 0 -2.4 0M319.58 84.57a1.2 1.2 0 1 0 2.4 0a1.2 1.2 0 1 0 -2.4 0M323.39 80.61a1.2 1.2 0 1 0 2.4 0a1.2 1.2 0 1 0 -2.4 0M317.3 71.73a1.2 1.2 0 1 0 2.4 0a1.2 1.2 0 1 0 -2.4 0M311.31 54.6a1.2 1.2 0 1 0 2.4 0a1.2 1.2 0 1 0 -2.4 0M319.44 81.68a1.2 1.2 0 1 0 2.4 0a1.2 1.2 0 1 0 -2.4 0M314.28 81.36a1.2 1.2 0 1 0 2.4 0a1.2 1.2 0 1 0 -2.4 0M322.86 66.06a1.2 1.2 0 1 0 2.4 0a1.2 1.2 0 1 0 -2.4 0M317.22 89.26a1.2 1.2 0 1 0 2.4 0a1.2 1.2 0 1 0 -2.4 0M317.09 81.95a1.2 1.2 0 1 0 2.4 0a1.2 1.2 0 1 0 -2.4 0M325.55 67.53a1.2 1.2 0 1 0 2.4 0a1.2 1.2 0 1 0 -2.4 0M317.29 71.24a1.2 1.2 0 1 0 2.4 0a1.2 1.2 0 1 0 -2.4 0M316.58 77.24a1.2 1.2 0 1 0 2.4 0a1.2 1.2 0 1 0 -2.4 0M316.57 70.14a1.2 1.2 0 1 0 2.4 0a1.2 1.2 0 1 0 -2.4 0M318.69 101.26a1.2 1.2 0 1 0 2.4 0a1.2 1.2 0 1 0 -2.4 0M312.49 65.82a1.2 1.2 0 1 0 2.4 0a1.2 1.2 0 1 0 -2.4 0M319.75 90.16a1.2 1.2 0 1 0 2.4 0a1.2 1.2 0 1 0 -2.4 0M325.74 98.86a1.2 1.2 0 1 0 2.4 0a1.2 1.2 0 1 0 -2.4 0M320.01 74.97a1.2 1.2 0 1 0 2.4 0a1.2 1.2 0 1 0 -2.4 0M322.9 69.76a1.2 1.2 0 1 0 2.4 0a1.2 1.2 0 1 0 -2.4 0M326.15 83.83a1.2 1.2 0 1 0 2.4 0a1.2 1.2 0 1 0 -2.4 0M324.47 91.59a1.2 1.2 0 1 0 2.4 0a1.2 1.2 0 1 0 -2.4 0M322.9 78.05a1.2 1.2 0 1 0 2.4 0a1.2 1.2 0 1 0 -2.4 0M324.01 79.02a1.2 1.2 0 1 0 2.4 0a1.2 1.2 0 1 0 -2.4 0M324.12 61.1a1.2 1.2 0 1 0 2.4 0a1.2 1.2 0 1 0 -2.4 0M315.06 69.19a1.2 1.2 0 1 0 2.4 0a1.2 1.2 0 1 0 -2.4 0M318.71 75.99a1.2 1.2 0 1 0 2.4 0a1.2 1.2 0 1 0 -2.4 0M316.48 64.71a1.2 1.2 0 1 0 2.4 0a1.2 1.2 0 1 0 -2.4 0M315.19 80.89a1.2 1.2 0 1 0 2.4 0a1.2 1.2 0 1 0 -2.4 0M320.14 89.74a1.2 1.2 0 1 0 2.4 0a1.2 1.2 0 1 0 -2.4 0M316.09 71.19a1.2 1.2 0 1 0 2.4 0a1.2 1.2 0 1 0 -2.4 0M320.9 71.21a1.2 1.2 0 1 0 2.4 0a1.2 1.2 0 1 0 -2.4 0M320.32 81.01a1.2 1.2 0 1 0 2.4 0a1.2 1.2 0 1 0 -2.4 0M312.67 87.98a1.2 1.2 0 1 0 2.4 0a1.2 1.2 0 1 0 -2.4 0M318.08 75.55a1.2 1.2 0 1 0 2.4 0a1.2 1.2 0 1 0 -2.4 0M317.24 101.26a1.2 1.2 0 1 0 2.4 0a1.2 1.2 0 1 0 -2.4 0M322.31 69.89a1.2 1.2 0 1 0 2.4 0a1.2 1.2 0 1 0 -2.4 0M312.41 72.33a1.2 1.2 0 1 0 2.4 0a1.2 1.2 0 1 0 -2.4 0M313.7 98.5a1.2 1.2 0 1 0 2.4 0a1.2 1.2 0 1 0 -2.4 0M319.2 77.62a1.2 1.2 0 1 0 2.4 0a1.2 1.2 0 1 0 -2.4 0M317.47 90.21a1.2 1.2 0 1 0 2.4 0a1.2 1.2 0 1 0 -2.4 0M321.65 69.07a1.2 1.2 0 1 0 2.4 0a1.2 1.2 0 1 0 -2.4 0M316.33 101.26a1.2 1.2 0 1 0 2.4 0a1.2 1.2 0 1 0 -2.4 0M314.16 89.6a1.2 1.2 0 1 0 2.4 0a1.2 1.2 0 1 0 -2.4 0M325.91 69.65a1.2 1.2 0 1 0 2.4 0a1.2 1.2 0 1 0 -2.4 0M314.9 64.16a1.2 1.2 0 1 0 2.4 0a1.2 1.2 0 1 0 -2.4 0M313.35 101.26a1.2 1.2 0 1 0 2.4 0a1.2 1.2 0 1 0 -2.4 0M315.48 84.49a1.2 1.2 0 1 0 2.4 0a1.2 1.2 0 1 0 -2.4 0M316.44 74.34a1.2 1.2 0 1 0 2.4 0a1.2 1.2 0 1 0 -2.4 0M314.6 85.85a1.2 1.2 0 1 0 2.4 0a1.2 1.2 0 1 0 -2.4 0M319.58 58.83a1.2 1.2 0 1 0 2.4 0a1.2 1.2 0 1 0 -2.4 0M325.99 93a1.2 1.2 0 1 0 2.4 0a1.2 1.2 0 1 0 -2.4 0M313.02 74.01a1.2 1.2 0 1 0 2.4 0a1.2 1.2 0 1 0 -2.4 0"/>
<path fill="#ec1313" d="M345.01 98.63a1.1 1.1 0 1 0 2.2 0a1.1 1.1 0 1 0 -2.2 0M348.03 99.86a1.1 1.1 0 1 0 2.2 0a1.1 1.1 0 1 0 -2.2 0M349.05 99.73a1.1 1.1 0 1 0 2.2 0a1.1 1.1 0 1 0 -2.2 0M353.68 109.21a1.1 1.1 0 1 0 2.2 0a1.1 1.1 0 1 0 -2.2 0M352.1 103.13a1.1 1.1 0 1 0 2.2 0a1.1 1.1 0 1 0 -2.2 0M353.32 99.89a1.1 1.1 0 1 0 2.2 0a1.1 1.1 0 1 0 -2.2 0M345.91 104.98a1.1 1.1 0 1 0 2.2 0a1.1 1.1 0 1 0 -2.2 0M349.11 103.23a1.1 1.1 0 1 0 2.2 0a1.1 1.1 0 1 0 -2.2 0M347.21 105.18a1.1 1.1 0 1 0 2.2 0a1.1 1.1 0 1 0 -2.2 0M355.99 102.42a1.1 1.1 0 1 0 2.2 0a1.1 1.1 0 1 0 -2.2 0M355.05 95.66a1.1 1.1 0 1 0 2.2 0a1.1 1.1 0 1 0 -2.2 0M349.37 102.83a1.1 1.1 0 1 0 2.2 0a1.1 1.1 0 1 0 -2.2 0M357.94 101.4a1.1 1.1 0 1 0 2.2 0a1.1 1.1 0 1 0 -2.2 0M346.83 95.89a1.1 1.1 0 1 0 2.2 0a1.1 1.1 0 1 0 -2.2 0M345.07 96.85a1.1 1.1 0 1 0 2.2 0a1.1 1.1 0 1 0 -2.2 0M350.4 90.87a1.1 1.1 0 1 0 2.2 0a1.1 1.1 0 1 0 -2.2 0M354.83 112.42a1.1 1.1 0 1 0 2.2 0a1.1 1.1 0 1 0 -2.2 0M358.99 95.64a1.1 1.1 0 1 0 2.2 0a1.1 1.1 0 1 0 -2.2 0M352.43 103.27a1.1 1.1 0 1 0 2.2 0a1.1 1.1 0 1 0 -2.2 0M346.85 99.75a1.1 1.1 0 1 0 2.2 0a1.1 1.1 0 1 0 -2.2 0M353.76 95.75a1.1 1.1 0 1 0 2.2 0a1.1 1.1 0 1 0 -2.2 0M345.05 94.35a1.1 1.1 0 1 0 2.2 0a1.1 1.1 0 1 0 -2.2 0M357.07 94.6a1.1 1.1 0 1 0 2.2 0a1.1 1.1 0 1 0 -2.2 0M349.64 99.64a1.1 1.1 0 1 0 2.2 0a1.1 1.1 0 1 0 -2.2 0M346.33 91.36a1.1 1.1 0 1 0 2.2 0a1.1 1.1 0 1 0 -2.2 0M347.04 102.13a1.1 1.1 0 1 0 2.2 0a1.1 1.1 0 1 0 -2.2 0M357.23 101.32a1.1 1.1 0 1 0 2.2 0a1.1 1.1 0 1 0 -2.2 0M358.4 95.97a1.1 1.1 0 1 0 2.2 0a1.1 1.1 0 1 0 -2.2 0M347.57 103.66a1.1 1.1 0 1 0 2.2 0a1.1 1.1 0 1 0 -2.2 0M359.77 87.82a1.1 1.1 0 1 0 2.2 0a1.1 1.1 0 1 0 -2.2 0M357.7 94.72a1.1 1.1 0 1 0 2.2 0a1.1 1.1 0 1 0 -2.2 0M349.74 87.68a1.1 1.1 0 1 0 2.2 0a1.1 1.1 0 1 0 -2.2 0M345.57 100.67a1.1 1.1 0 1 0 2.2 0a1.1 1.1 0 1 0 -2.2 0M347.07 102.7a1.1 1.1 0 1 0 2.2 0a1.1 1.1 0 1 0 -2.2 0M351.35 99.57a1.1 1.1 0 1 0 2.2 0a1.1 1.1 0 1 0 -2.2 0M347.88 96.34a1.1 1.1 0 1 0 2.2 0a1.1 1.1 0 1 0 -2.2 0M347.53 103.86a1.1 1.1 0 1 0 2.2 0a1.1 1.1 0 1 0 -2.2 0M348.89 98.36a1.1 1.1 0 1 0 2.2 0a1.1 1.1 0 1 0 -2.2 0M357.96 100.62a1.1 1.1 0 1 0 2.2 0a1.1 1.1 0 1 0 -2.2 0M345.35 91.32a1.1 1.1 0 1 0 2.2 0a1.1 1.1 0 1 0 -2.2 0M358.64 104.29a1.1 1.1 0 1 0 2.2 0a1.1 1.1 0 1 0 -2.2 0M351.54 94.56a1.1 1.1 0 1 0 2.2 0a1.1 1.1 0 1 0 -2.2 0M355.87 104.19a1.1 1.1 0 1 0 2.2 0a1.1 1.1 0 1 0 -2.2 0M352.48 105.99a1.1 1.1 0 1 0 2.2 0a1.1 1.1 0 1 0 -2.2 0M358.98 104.56a1.1 1.1 0 1 0 2.2 0a1.1 1.1 0 1 0 -2.2 0M347.52 107.3a1.1 1.1 0 1 0 2.2 0a1.1 1.1 0 1 0 -2.2 0M348.63 99.69a1.1 1.1 0 1 0 2.2 0a1.1 1.1 0 1 0 -2.2 0M352.42 94.65a1.1 1.1 0 1 0 2.2 0a1.1 1.1 0 1 0 -2.2 0M352.41 99.58a1.1 1.1 0 1 0 2.2 0a1.1 1.1 0 1 0 -2.2 0M349.77 96.97a1.1 1.1 0 1 0 2.2 0a1.1 1.1 0 1 0 -2.2 0M349.38 91.23a1.1 1.1 0 1 0 2.2 0a1.1 1.1 0 1 0 -2.2 0M346.14 98.98a1.1 1.1 0 1 0 2.2 0a1.1 1.1 0 1 0 -2.2 0M352.33 99.41a1.1 1.1 0 1 0 2.2 0a1.1 1.1 0 1 0 -2.2 0M357.26 102.09a1.1 1.1 0 1 0 2.2 0a1.1 1.1 0 1 0 -2.2 0M357.8 109.67a1.1 1.1 0 1 0 2.2 0a1.1 1.1 0 1 0 -2.2 0M351.02 96.2a1.1 1.1 0 1 0 2.2 0a1.1 1.1 0 1 0 -2.2 0M359.49 110.52a1.1 1.1 0 1 0 2.2 0a1.1 1.1 0 1 0 -2.2 0M359.3 96.8a1.1 1.1 0 1 0 2.2 0a1.1 1.1 0 1 0 -2.2 0M349.59 100.6a1.1 1.1 0 1 0 2.2 0a1.1 1.1 0 1 0 -2.2 0M346.55 94.11a1.1 1.1 0 1 0 2.2 0a1.1 1.1 0 1 0 -2.2 0M357.34 100.91a1.1 1.1 0 1 0 2.2 0a1.1 1.1 0 1 0 -2.2 0M358.91 105.21a1.1 1.1 0 1 0 2.2 0a1.1 1.1 0 1 0 -2.2 0M354.54 98.48a1.1 1.1 0 1 0 2.2 0a1.1 1.1 0 1 0 -2.2 0M359.27 103.71a1.1 1.1 0 1 0 2.2 0a1.1 1.1 0 1 0 -2.2 0M351.96 101.55a1.1 1.1 0 1 0 2.2 0a1.1 1.1 0 1 0 -2.2 0M352.66 100.28a1.1 1.1 0 1 0 2.2 0a1.1 1.1 0 1 0 -2.2 0M345.91 101.29a1.1 1.1 0 1 0 2.2 0a1.1 1.1 0 1 0 -2.2 0M350.35 101.59a1.1 1.1 0 1 0 2.2 0a1.1 1.1 0 1 0 -2.2 0M358.67 105.26a1.1 1.1 0 1 0 2.2 0a1.1 1.1 0 1 0 -2.2 0M346.35 101.6a1.1 1.1 0 1 0 2.2 0a1.1 1.1 0 1 0 -2.2 0M346.86 112.69a1.1 1.1 0 1 0 2.2 0a1.1 1.1 0 1 0 -2.2 0M345.3 101.42a1.1 1.1 0 1 0 2.2 0a1.1 1.1 0 1 0 -2.2 0M352.24 107.34a1.1 1.1 0 1 0 2.2 0a1.1 1.1 0 1 0 -2.2 0M353.85 94.14a1.1 1.1 0 1 0 2.2 0a1.1 1.1 0 1 0 -2.2 0M352.79 93.29a1.1 1.1 0 1 0 2.2 0a1.1 1.1 0 1 0 -2.2 0M357.98 111.63a1.1 1.1 0 1 0 2.2 0a1.1 1.1 0 1 0 -2.2 0M355.01 99.7a1.1 1.1 0 1 0 2.2 0a1.1 1.1 0 1 0 -2.2 0M354.35 101.24a1.1 1.1 0 1 0 2.2 0a1.1 1.1 0 1 0 -2.2 0M353.84 106.48a1.1 1.1 0 1 0 2.2 0a1.1 1.1 0 1 0 -2.2 0M352.39 97.49a1.1 1.1 0 1 0 2.2 0a1.1 1.1 0 1 0 -2.2 0M345.92 103.15a1.1 1.1 0 1 0 2.2 0a1.1 1.1 0 1 0 -2.2 0M346.26 110.58a1.1 1.1 0 1 0 2.2 0a1.1 1.1 0 1 0 -2.2 0M354.46 102.04a1.1 1.1 0 1 0 2.2 0a1.1 1.1 0 1 0 -2.2 0M347.98 101.36a1.1 1.1 0 1 0 2.2 0a1.1 1.1 0 1 0 -2.2 0M351.03 99.91a1.1 1.1 0 1 0 2.2 0a1.1 1.1 0 1 0 -2.2 0M354.51 107.53a1.1 1.1 0 1 0 2.2 0a1.1 1.1 0 1 0 -2.2 0M353.8 97.02a1.1 1.1 0 1 0 2.2 0a1.1 1.1 0 1 0 -2.2 0M348.46 96.33a1.1 1.1 0 1 0 2.2 0a1.1 1.1 0 1 0 -2.2 0M348.81 107.04a1.1 1.1 0 1 0 2.2 0a1.1 1.1 0 1 0 -2.2 0M346.91 104.27a1.1 1.1 0 1 0 2.2 0a1.1 1.1 0 1 0 -2.2 0M354.74 100.98a1.1 1.1 0 1 0 2.2 0a1.1 1.1 0 1 0 -2.2 0M355.59 103.74a1.1 1.1 0 1 0 2.2 0a1.1 1.1 0 1 0 -2.2 0M346.78 90.59a1.1 1.1 0 1 0 2.2 0a1.1 1.1 0 1 0 -2.2 0M348.86 99.33a1.1 1.1 0 1 0 2.2 0a1.1 1.1 0 1 0 -2.2 0M347.03 106.27a1.1 1.1 0 1 0 2.2 0a1.1 1.1 0 1 0 -2.2 0M353.98 105.01a1.1 1.1 0 1 0 2.2 0a1.1 1.1 0 1 0 -2.2 0M349.24 100.85a1.1 1.1 0 1 0 2.2 0a1.1 1.1 0 1 0 -2.2 0M357.85 86.59a1.1 1.1 0 1 0 2.2 0a1.1 1.1 0 1 0 -2.2 0M348.79 101.53a1.1 1.1 0 1 0 2.2 0a1.1 1.1 0 1 0 -2.2 0M354.47 99.79a1.1 1.1 0 1 0 2.2 0a1.1 1.1 0 1 0 -2.2 0M354.34 97.59a1.1 1.1 0 1 0 2.2 0a1.1 1.1 0 1 0 -2.2 0M358.93 100.75a1.1 1.1 0 1 0 2.2 0a1.1 1.1 0 1 0 -2.2 0M355.64 86.73a1.1 1.1 0 1 0 2.2 0a1.1 1.1 0 1 0 -2.2 0M358.8 103.55a1.1 1.1 0 1 0 2.2 0a1.1 1.1 0 1 0 -2.2 0M353.56 96.28a1.1 1.1 0 1 0 2.2 0a1.1 1.1 0 1 0 -2.2 0M344.85 99.61a1.1 1.1 0 1 0 2.2 0a1.1 1.1 0 1 0 -2.2 0M349.7 96.98a1.1 1.1 0 1 0 2.2 0a1.1 1.1 0 1 0 -2.2 0M355.91 107.22a1.1 1.1 0 1 0 2.2 0a1.1 1.1 0 1 0 -2.2 0M349.94 90.46a1.1 1.1 0 1 0 2.2 0a1.1 1.1 0 1 0 -2.2 0M354.67 101.21a1.1 1.1 0 1 0 2.2 0a1.1 1.1 0 1 0 -2.2 0M346.56 100.33a1.1 1.1 0 1 0 2.2 0a1.1 1.1 0 1 0 -2.2 0M354.5 105.84a1.1 1.1 0 1 0 2.2 0a1.1 1.1 0 1 0 -2.2 0M350.58 104.67a1.1 1.1 0 1 0 2.2 0a1.1 1.1 0 1 0 -2.2 0M358.99 97.31a1.1 1.1 0 1 0 2.2 0a1.1 1.1 0 1 0 -2.2 0M345.87 94.9a1.1 1.1 0 1 0 2.2 0a1.1 1.1 0 1 0 -2.2 0M350.21 96.23a1.1 1.1 0 1 0 2.2 0a1.1 1.1 0 1 0 -2.2 0M356.31 93.64a1.1 1.1 0 1 0 2.2 0a1.1 1.1 0 1 0 -2.2 0M350.68 96.45a1.1 1.1 0 1 0 2.2 0a1.1 1.1 0 1 0 -2.2 0M351.74 100.36a1.1 1.1 0 1 0 2.2 0a1.1 1.1 0 1 0 -2.2 0M349.82 95.76a1.1 1.1 0 1 0 2.2 0a1.1 1.1 0 1 0 -2.2 0M346.26 97.14a1.1 1.1 0 1 0 2.2 0a1.1 1.1 0 1 0 -2.2 0M349.6 101.09a1.1 1.1 0 1 0 2.2 0a1.1 1.1 0 1 0 -2.2 0M357.95 96.39a1.1 1.1 0 1 0 2.2 0a1.1 1.1 0 1 0 -2.2 0M356.31 93.2a1.1 1.1 0 1 0 2.2 0a1.1 1.1 0 1 0 -2.2 0M349.45 99.18a1.1 1.1 0 1 0 2.2 0a1.1 1.1 0 1 0 -2.2 0M354.83 102.55a1.1 1.1 0 1 0 2.2 0a1.1 1.1 0 1 0 -2.2 0M356.71 96.43a1.1 1.1 0 1 0 2.2 0a1.1 1.1 0 1 0 -2.2 0M356.75 89.7a1.1 1.1 0 1 0 2.2 0a1.1 1.1 0 1 0 -2.2 0M345.63 101.72a1.1 1.1 0 1 0 2.2 0a1.1 1.1 0 1 0 -2.2 0M347.26 101.05a1.1 1.1 0 1 0 2.2 0a1.1 1.1 0 1 0 -2.2 0M359.14 101.3a1.1 1.1 0 1 0 2.2 0a1.1 1.1 0 1 0 -2.2 0M349 93.56a1.1 1.1 0 1 0 2.2 0a1.1 1.1 0 1 0 -2.2 0M356.48 110.98a1.1 1.1 0 1 0 2.2 0a1.1 1.1 0 1 0 -2.2 0M354.26 98.44a1.1 1.1 0 1 0 2.2 0a1.1 1.1 0 1 0 -2.2 0M357.88 93.73a1.1 1.1 0 1 0 2.2 0a1.1 1.1 0 1 0 -2.2 0M345.97 105.15a1.1 1.1 0 1 0 2.2 0a1.1 1.1 0 1 0 -2.2 0M358.81 92.04a1.1 1.1 0 1 0 2.2 0a1.1 1.1 0 1 0 -2.2 0M357.94 97.47a1.1 1.1 0 1 0 2.2 0a1.1 1.1 0 1 0 -2.2 0M348.38 103.65a1.1 1.1 0 1 0 2.2 0a1.1 1.1 0 1 0 -2.2 0M355.46 99.36a1.1 1.1 0 1 0 2.2 0a1.1 1.1 0 1 0 -2.2 0M344.89 109.26a1.1 1.1 0 1 0 2.2 0a1.1 1.1 0 1 0 -2.2 0M357.78 103.74a1.1 1.1 0 1 0 2.2 0a1.1 1.1 0 1 0 -2.2 0M351.02 90.12a1.1 1.1 0 1 0 2.2 0a1.1 1.1 0 1 0 -2.2 0M355.91 105.61a1.1 1.1 0 1 0 2.2 0a1.1 1.1 0 1 0 -2.2 0M356.73 90.02a1.1 1.1 0 1 0 2.2 0a1.1 1.1 0 1 0 -2.2 0M345.2 100.98a1.1 1.1 0 1 0 2.2 0a1.1 1.1 0 1 0 -2.2 0M358.03 94.86a1.1 1.1 0 1 0 2.2 0a1.1 1.1 0 1 0 -2.2 0M346.37 100.27a1.1 1.1 0 1 0 2.2 0a1.1 1.1 0 1 0 -2.2 0M347.12 113.28a1.1 1.1 0 1 0 2.2 0a1.1 1.1 0 1 0 -2.2 0M351.65 103.78a1.1 1.1 0 1 0 2.2 0a1.1 1.1 0 1 0 -2.2 0M348.6 99.44a1.1 1.1 0 1 0 2.2 0a1.1 1.1 0 1 0 -2.2 0M354.52 107.07a1.1 1.1 0 1 0 2.2 0a1.1 1.1 0 1 0 -2.2 0M347.66 108.19a1.1 1.1 0 1 0 2.2 0a1.1 1.1 0 1 0 -2.2 0M354.14 98.44a1.1 1.1 0 1 0 2.2 0a1.1 1.1 0 1 0 -2.2 0M356.22 104.22a1.1 1.1 0 1 0 2.2 0a1.1 1.1 0 1 0 -2.2 0M359.25 110.17a1.1 1.1 0 1 0 2.2 0a1.1 1.1 0 1 0 -2.2 0M350.79 104.41a1.1 1.1 0 1 0 2.2 0a1.1 1.1 0 1 0 -2.2 0M349.09 95.62a1.1 1.1 0 1 0 2.2 0a1.1 1.1 0 1 0 -2.2 0M353.46 103.22a1.1 1.1 0 1 0 2.2 0a1.1 1.1 0 1 0 -2.2 0M354.57 95.2a1.1 1.1 0 1 0 2.2 0a1.1 1.1 0 1 0 -2.2 0M358.65 91.83a1.1 1.1 0 1 0 2.2 0a1.1 1.1 0 1 0 -2.2 0M353.59 100.33a1.1 1.1 0 1 0 2.2 0a1.1 1.1 0 1 0 -2.2 0M351.38 106.95a1.1 1.1 0 1 0 2.2 0a1.1 1.1 0 1 0 -2.2 0M349.26 107.93a1.1 1.1 0 1 0 2.2 0a1.1 1.1 0 1 0 -2.2 0M355.68 100.67a1.1 1.1 0 1 0 2.2 0a1.1 1.1 0 1 0 -2.2 0M354.36 95.5a1.1 1.1 0 1 0 2.2 0a1.1 1.1 0 1 0 -2.2 0M345.87 98.99a1.1 1.1 0 1 0 2.2 0a1.1 1.1 0 1 0 -2.2 0M349.29 97.4a1.1 1.1 0 1 0 2.2 0a1.1 1.1 0 1 0 -2.2 0M347.31 103.04a1.1 1.1 0 1 0 2.2 0a1.1 1.1 0 1 0 -2.2 0M352.23 98.81a1.1 1.1 0 1 0 2.2 0a1.1 1.1 0 1 0 -2.2 0M350.52 103.2a1.1 1.1 0 1 0 2.2 0a1.1 1.1 0 1 0 -2.2 0M347.18 102.37a1.1 1.1 0 1 0 2.2 0a1.1 1.1 0 1 0 -2.2 0M352.75 107.88a1.1 1.1 0 1 0 2.2 0a1.1 1.1 0 1 0 -2.2 0M354.69 109.47a1.1 1.1 0 1 0 2.2 0a1.1 1.1 0 1 0 -2.2 0M349.92 103.26a1.1 1.1 0 1 0 2.2 0a1.1 1.1 0 1 0 -2.2 0M357.32 106.83a1.1 1.1 0 1 0 2.2 0a1.1 1.1 0 1 0 -2.2 0M346.32 105.98a1.1 1.1 0 1 0 2.2 0a1.1 1.1 0 1 0 -2.2 0M345.66 96.7a1.1 1.1 0 1 0 2.2 0a1.1 1.1 0 1 0 -2.2 0M355.41 101.13a1.1 1.1 0 1 0 2.2 0a1.1 1.1 0 1 0 -2.2 0M353.25 80.96a1.1 1.1 0 1 0 2.2 0a1.1 1.1 0 1 0 -2.2 0M356.08 95.25a1.1 1.1 0 1 0 2.2 0a1.1 1.1 0 1 0 -2.2 0M358.82 104.12a1.1 1.1 0 1 0 2.2 0a1.1 1.1 0 1 0 -2.2 0M352.46 96.09a1.1 1.1 0 1 0 2.2 0a1.1 1.1 0 1 0 -2.2 0M357.06 98.49a1.1 1.1 0 1 0 2.2 0a1.1 1.1 0 1 0 -2.2 0M354.52 104.42a1.1 1.1 0 1 0 2.2 0a1.1 1.1 0 1 0 -2.2 0M352.51 94.24a1.1 1.1 0 1 0 2.2 0a1.1 1.1 0 1 0 -2.2 0M352.35 104.93a1.1 1.1 0 1 0 2.2 0a1.1 1.1 0 1 0 -2.2 0M359.68 113.96a1.1 1.1 0 1 0 2.2 0a1.1 1.1 0 1 0 -2.2 0M349.99 96a1.1 1.1 0 1 0 2.2 0a1.1 1.1 0 1 0 -2.2 0M351.17 104.03a1.1 1.1 0 1 0 2.2 0a1.1 1.1 0 1 0 -2.2 0M351.92 92.06a1.1 1.1 0 1 0 2.2 0a1.1 1.1 0 1 0 -2.2 0M354.4 104.22a1.1 1.1 0 1 0 2.2 0a1.1 1.1 0 1 0 -2.2 0M345.71 107.24a1.1 1.1 0 1 0 2.2 0a1.1 1.1 0 1 0 -2.2 0M354.58 91.71a1.1 1.1 0 1 0 2.2 0a1.1 1.1 0 1 0 -2.2 0M345.38 106.64a1.1 1.1 0 1 0 2.2 0a1.1 1.1 0 1 0 -2.2 0M350.49 99.36a1.1 1.1 0 1 0 2.2 0a1.1 1.1 0 1 0 -2.2 0M351.44 92.27a1.1 1.1 0 1 0 2.2 0a1.1 1.1 0 1 0 -2.2 0M353.29 99.87a1.1 1.1 0 1 0 2.2 0a1.1 1.1 0 1 0 -2.2 0M353.37 100.98a1.1 1.1 0 1 0 2.2 0a1.1 1.1 0 1 0 -2.2 0M353.85 99.94a1.1 1.1 0 1 0 2.2 0a1.1 1.1 0 1 0 -2.2 0M345.17 95.74a1.1 1.1 0 1 0 2.2 0a1.1 1.1 0 1 0 -2.2 0M349.73 105.11a1.1 1.1 0 1 0 2.2 0a1.1 1.1 0 1 0 -2.2 0M355.87 97.04a1.1 1.1 0 1 0 2.2 0a1.1 1.1 0 1 0 -2.2 0M351.06 97.23a1.1 1.1 0 1 0 2.2 0a1.1 1.1 0 1 0 -2.2 0M357.19 86.25a1.1 1.1 0 1 0 2.2 0a1.1 1.1 0 1 0 -2.2 0M352.95 102.44a1.1 1.1 0 1 0 2.2 0a1.1 1.1 0 1 0 -2.2 0M353.34 105.73a1.1 1.1 0 1 0 2.2 0a1.1 1.1 0 1 0 -2.2 0M354.95 96.33a1.1 1.1 0 1 0 2.2 0a1.1 1.1 0 1 0 -2.2 0M359.54 102.78a1.1 1.1 0 1 0 2.2 0a1.1 1.1 0 1 0 -2.2 0M344.86 98.87a1.1 1.1 0 1 0 2.2 0a1.1 1.1 0 1 0 -2.2 0M346.58 99.77a1.1 1.1 0 1 0 2.2 0a1.1 1.1 0 1 0 -2.2 0M346.13 93.87a1.1 1.1 0 1 0 2.2 0a1.1 1.1 0 1 0 -2.2 0M347.89 104.26a1.1 1.1 0 1 0 2.2 0a1.1 1.1 0 1 0 -2.2 0M345.11 101.05a1.1 1.1 0 1 0 2.2 0a1.1 1.1 0 1 0 -2.2 0M359.62 114.82a1.1 1.1 0 1 0 2.2 0a1.1 1.1 0 1 0 -2.2 0M347.05 105.59a1.1 1.1 0 1 0 2.2 0a1.1 1.1 0 1 0 -2.2 0M351.91 91.77a1.1 1.1 0 1 0 2.2 0a1.1 1.1 0 1 0 -2.2 0M358.03 104.4a1.1 1.1 0 1 0 2.2 0a1.1 1.1 0 1 0 -2.2 0M351.91 104.51a1.1 1.1 0 1 0 2.2 0a1.1 1.1 0 1 0 -2.2 0M348.5 107.45a1.1 1.1 0 1 0 2.2 0a1.1 1.1 0 1 0 -2.2 0M349.18 97.22a1.1 1.1 0 1 0 2.2 0a1.1 1.1 0 1 0 -2.2 0M351.13 99.51a1.1 1.1 0 1 0 2.2 0a1.1 1.1 0 1 0 -2.2 0M349.41 107.28a1.1 1.1 0 1 0 2.2 0a1.1 1.1 0 1 0 -2.2 0M351.86 96.72a1.1 1.1 0 1 0 2.2 0a1.1 1.1 0 1 0 -2.2 0M351 99.04a1.1 1.1 0 1 0 2.2 0a1.1 1.1 0 1 0 -2.2 0M346.02 96.23a1.1 1.1 0 1 0 2.2 0a1.1 1.1 0 1 0 -2.2 0M357.91 104.17a1.1 1.1 0 1 0 2.2 0a1.1 1.1 0 1 0 -2.2 0M359.34 90.63a1.1 1.1 0 1 0 2.2 0a1.1 1.1 0 1 0 -2.2 0M353.24 98.19a1.1 1.1 0 1 0 2.2 0a1.1 1.1 0 1 0 -2.2 0M346.22 101.19a1.1 1.1 0 1 0 2.2 0a1.1 1.1 0 1 0 -2.2 0M358.43 103.47a1.1 1.1 0 1 0 2.2 0a1.1 1.1 0 1 0 -2.2 0M350.24 101.91a1.1 1.1 0 1 0 2.2 0a1.1 1.1 0 1 0 -2.2 0M350.52 95.63a1.1 1.1 0 1 0 2.2 0a1.1 1.1 0 1 0 -2.2 0M348.63 102.05a1.1 1.1 0 1 0 2.2 0a1.1 1.1 0 1 0 -2.2 0M358.73 94.38a1.1 1.1 0 1 0 2.2 0a1.1 1.1 0 1 0 -2.2 0M355.18 97.21a1.1 1.1 0 1 0 2.2 0a1.1 1.1 0 1 0 -2.2 0M349.31 92.86a1.1 1.1 0 1 0 2.2 0a1.1 1.1 0 1 0 -2.2 0M350.34 95.89a1.1 1.1 0 1 0 2.2 0a1.1 1.1 0 1 0 -2.2 0M351.14 100.88a1.1 1.1 0 1 0 2.2 0a1.1 1.1 0 1 0 -2.2 0M350.51 111.39a1.1 1.1 0 1 0 2.2 0a1.1 1.1 0 1 0 -2.2 0M354.89 98.82a1.1 1.1 0 1 0 2.2 0a1.1 1.1 0 1 0 -2.2 0M359.04 96.03a1.1 1.1 0 1 0 2.2 0a1.1 1.1 0 1 0 -2.2 0M345.45 99.59a1.1 1.1 0 1 0 2.2 0a1.1 1.1 0 1 0 -2.2 0M357.52 97.35a1.1 1.1 0 1 0 2.2 0a1.1 1.1 0 1 0 -2.2 0M357.54 103.2a1.1 1.1 0 1 0 2.2 0a1.1 1.1 0 1 0 -2.2 0M348.09 102.69a1.1 1.1 0 1 0 2.2 0a1.1 1.1 0 1 0 -2.2 0M359.47 105.88a1.1 1.1 0 1 0 2.2 0a1.1 1.1 0 1 0 -2.2 0M357.94 92.77a1.1 1.1 0 1 0 2.2 0a1.1 1.1 0 1 0 -2.2 0M355.64 99.62a1.1 1.1 0 1 0 2.2 0a1.1 1.1 0 1 0 -2.2 0M346.4 103.32a1.1 1.1 0 1 0 2.2 0a1.1 1.1 0 1 0 -2.2 0M351.51 108.1a1.1 1.1 0 1 0 2.2 0a1.1 1.1 0 1 0 -2.2 0M356.16 101.39a1.1 1.1 0 1 0 2.2 0a1.1 1.1 0 1 0 -2.2 0M353.11 92.31a1.1 1.1 0 1 0 2.2 0a1.1 1.1 0 1 0 -2.2 0M345.68 97.89a1.1 1.1 0 1 0 2.2 0a1.1 1.1 0 1 0 -2.2 0M356.26 104.64a1.1 1.1 0 1 0 2.2 0a1.1 1.1 0 1 0 -2.2 0M350.96 92.38a1.1 1.1 0 1 0 2.2 0a1.1 1.1 0 1 0 -2.2 0M348.11 92.39a1.1 1.1 0 1 0 2.2 0a1.1 1.1 0 1 0 -2.2 0M350.01 94.94a1.1 1.1 0 1 0 2.2 0a1.1 1.1 0 1 0 -2.2 0M346.35 96.03a1.1 1.1 0 1 0 2.2 0a1.1 1.1 0 1 0 -2.2 0M350.22 93.94a1.1 1.1 0 1 0 2.2 0a1.1 1.1 0 1 0 -2.2 0M345.03 97.43a1.1 1.1 0 1 0 2.2 0a1.1 1.1 0 1 0 -2.2 0M359.78 96.11a1.1 1.1 0 1 0 2.2 0a1.1 1.1 0 1 0 -2.2 0M346.85 104.96a1.1 1.1 0 1 0 2.2 0a1.1 1.1 0 1 0 -2.2 0M349.88 91.98a1.1 1.1 0 1 0 2.2 0a1.1 1.1 0 1 0 -2.2 0M349.31 99.2a1.1 1.1 0 1 0 2.2 0a1.1 1.1 0 1 0 -2.2 0M351.69 89a1.1 1.1 0 1 0 2.2 0a1.1 1.1 0 1 0 -2.2 0M349.89 112.15a1.1 1.1 0 1 0 2.2 0a1.1 1.1 0 1 0 -2.2 0M358.11 96.5a1.1 1.1 0 1 0 2.2 0a1.1 1.1 0 1 0 -2.2 0M347.61 94.93a1.1 1.1 0 1 0 2.2 0a1.1 1.1 0 1 0 -2.2 0M359.76 102.47a1.1 1.1 0 1 0 2.2 0a1.1 1.1 0 1 0 -2.2 0M350.69 97.94a1.1 1.1 0 1 0 2.2 0a1.1 1.1 0 1 0 -2.2 0M359.54 96.26a1.1 1.1 0 1 0 2.2 0a1.1 1.1 0 1 0 -2.2 0M349.82 97.23a1.1 1.1 0 1 0 2.2 0a1.1 1.1 0 1 0 -2.2 0M346.01 103.59a1.1 1.1 0 1 0 2.2 0a1.1 1.1 0 1 0 -2.2 0M357.3 101.33a1.1 1.1 0 1 0 2.2 0a1.1 1.1 0 1 0 -2.2 0M347.18 94.72a1.1 1.1 0 1 0 2.2 0a1.1 1.1 0 1 0 -2.2 0M355.94 93.25a1.1 1.1 0 1 0 2.2 0a1.1 1.1 0 1 0 -2.2 0M358.01 99.96a1.1 1.1 0 1 0 2.2 0a1.1 1.1 0 1 0 -2.2 0M348.06 100.08a1.1 1.1 0 1 0 2.2 0a1.1 1.1 0 1 0 -2.2 0M349.56 99.38a1.1 1.1 0 1 0 2.2 0a1.1 1.1 0 1 0 -2.2 0M353.26 94.61a1.1 1.1 0 1 0 2.2 0a1.1 1.1 0 1 0 -2.2 0M357.84 106.52a1.1 1.1 0 1 0 2.2 0a1.1 1.1 0 1 0 -2.2 0M357.63 108.09a1.1 1.1 0 1 0 2.2 0a1.1 1.1 0 1 0 -2.2 0M352.1 99.81a1.1 1.1 0 1 0 2.2 0a1.1 1.1 0 1 0 -2.2 0M353.3 106.82a1.1 1.1 0 1 0 2.2 0a1.1 1.1 0 1 0 -2.2 0M356.85 103.86a1.1 1.1 0 1 0 2.2 0a1.1 1.1 0 1 0 -2.2 0M347.13 100.03a1.1 1.1 0 1 0 2.2 0a1.1 1.1 0 1 0 -2.2 0M358.78 97.77a1.1 1.1 0 1 0 2.2 0a1.1 1.1 0 1 0 -2.2 0M357.76 106.62a1.1 1.1 0 1 0 2.2 0a1.1 1.1 0 1 0 -2.2 0M348.31 95.96a1.1 1.1 0 1 0 2.2 0a1.1 1.1 0 1 0 -2.2 0M354.23 110.62a1.1 1.1 0 1 0 2.2 0a1.1 1.1 0 1 0 -2.2 0M355.78 97.42a1.1 1.1 0 1 0 2.2 0a1.1 1.1 0 1 0 -2.2 0M354.52 109.5a1.1 1.1 0 1 0 2.2 0a1.1 1.1 0 1 0 -2.2 0M345.88 107.78a1.1 1.1 0 1 0 2.2 0a1.1 1.1 0 1 0 -2.2 0M345.73 96.86a1.1 1.1 0 1 0 2.2 0a1.1 1.1 0 1 0 -2.2 0M348.15 102.83a1.1 1.1 0 1 0 2.2 0a1.1 1.1 0 1 0 -2.2 0M346.37 105.05a1.1 1.1 0 1 0 2.2 0a1.1 1.1 0 1 0 -2.2 0M352.07 103.05a1.1 1.1 0 1 0 2.2 0a1.1 1.1 0 1 0 -2.2 0M355.86 97.87a1.1 1.1 0 1 0 2.2 0a1.1 1.1 0 1 0 -2.2 0M353.44 100.83a1.1 1.1 0 1 0 2.2 0a1.1 1.1 0 1 0 -2.2 0M358.39 100.69a1.1 1.1 0 1 0 2.2 0a1.1 1.1 0 1 0 -2.2 0M352.16 94.52a1.1 1.1 0 1 0 2.2 0a1.1 1.1 0 1 0 -2.2 0M351.54 104.6a1.1 1.1 0 1 0 2.2 0a1.1 1.1 0 1 0 -2.2 0M346.71 103.21a1.1 1.1 0 1 0 2.2 0a1.1 1.1 0 1 0 -2.2 0M359.1 103.49a1.1 1.1 0 1 0 2.2 0a1.1 1.1 0 1 0 -2.2 0M354.89 93.87a1.1 1.1 0 1 0 2.2 0a1.1 1.1 0 1 0 -2.2 0M359.51 94.88a1.1 1.1 0 1 0 2.2 0a1.1 1.1 0 1 0 -2.2 0M358.82 93.19a1.1 1.1 0 1 0 2.2 0a1.1 1.1 0 1 0 -2.2 0M346.08 100.71a1.1 1.1 0 1 0 2.2 0a1.1 1.1 0 1 0 -2.2 0M353.85 101.41a1.1 1.1 0 1 0 2.2 0a1.1 1.1 0 1 0 -2.2 0M352.11 95.67a1.1 1.1 0 1 0 2.2 0a1.1 1.1 0 1 0 -2.2 0M356.11 102.77a1.1 1.1 0 1 0 2.2 0a1.1 1.1 0 1 0 -2.2 0M345.47 95.79a1.1 1.1 0 1 0 2.2 0a1.1 1.1 0 1 0 -2.2 0M354.69 96.4a1.1 1.1 0 1 0 2.2 0a1.1 1.1 0 1 0 -2.2 0M353.96 104.5a1.1 1.1 0 1 0 2.2 0a1.1 1.1 0 1 0 -2.2 0M350.4 100.99a1.1 1.1 0 1 0 2.2 0a1.1 1.1 0 1 0 -2.2 0M346.68 101.2a1.1 1.1 0 1 0 2.2 0a1.1 1.1 0 1 0 -2.2 0M355.09 90.65a1.1 1.1 0 1 0 2.2 0a1.1 1.1 0 1 0 -2.2 0M345.52 83.93a1.1 1.1 0 1 0 2.2 0a1.1 1.1 0 1 0 -2.2 0M349.86 101.09a1.1 1.1 0 1 0 2.2 0a1.1 1.1 0 1 0 -2.2 0M345.21 100.44a1.1 1.1 0 1 0 2.2 0a1.1 1.1 0 1 0 -2.2 0M349.41 113.51a1.1 1.1 0 1 0 2.2 0a1.1 1.1 0 1 0 -2.2 0M348.54 99.32a1.1 1.1 0 1 0 2.2 0a1.1 1.1 0 1 0 -2.2 0M354.09 100.56a1.1 1.1 0 1 0 2.2 0a1.1 1.1 0 1 0 -2.2 0M355.06 106.63a1.1 1.1 0 1 0 2.2 0a1.1 1.1 0 1 0 -2.2 0M355.42 96.05a1.1 1.1 0 1 0 2.2 0a1.1 1.1 0 1 0 -2.2 0M350.96 109.43a1.1 1.1 0 1 0 2.2 0a1.1 1.1 0 1 0 -2.2 0M356.11 101.74a1.1 1.1 0 1 0 2.2 0a1.1 1.1 0 1 0 -2.2 0M354.71 99.73a1.1 1.1 0 1 0 2.2 0a1.1 1.1 0 1 0 -2.2 0M352.81 107.63a1.1 1.1 0 1 0 2.2 0a1.1 1.1 0 1 0 -2.2 0M356.49 95.64a1.1 1.1 0 1 0 2.2 0a1.1 1.1 0 1 0 -2.2 0M359.37 94.51a1.1 1.1 0 1 0 2.2 0a1.1 1.1 0 1 0 -2.2 0M352.01 108.41a1.1 1.1 0 1 0 2.2 0a1.1 1.1 0 1 0 -2.2 0M359.23 108.53a1.1 1.1 0 1 0 2.2 0a1.1 1.1 0 1 0 -2.2 0M354.15 97.09a1.1 1.1 0 1 0 2.2 0a1.1 1.1 0 1 0 -2.2 0M350.6 100.69a1.1 1.1 0 1 0 2.2 0a1.1 1.1 0 1 0 -2.2 0M351.95 107.42a1.1 1.1 0 1 0 2.2 0a1.1 1.1 0 1 0 -2.2 0M354.63 102.2a1.1 1.1 0 1 0 2.2 0a1.1 1.1 0 1 0 -2.2 0M349.53 101.13a1.1 1.1 0 1 0 2.2 0a1.1 1.1 0 1 0 -2.2 0M358.64 101.33a1.1 1.1 0 1 0 2.2 0a1.1 1.1 0 1 0 -2.2 0M350.59 95.81a1.1 1.1 0 1 0 2.2 0a1.1 1.1 0 1 0 -2.2 0M354.17 98.33a1.1 1.1 0 1 0 2.2 0a1.1 1.1 0 1 0 -2.2 0M357.69 90.45a1.1 1.1 0 1 0 2.2 0a1.1 1.1 0 1 0 -2.2 0M357.24 92.7a1.1 1.1 0 1 0 2.2 0a1.1 1.1 0 1 0 -2.2 0M354.9 96.66a1.1 1.1 0 1 0 2.2 0a1.1 1.1 0 1 0 -2.2 0M355.51 94.39a1.1 1.1 0 1 0 2.2 0a1.1 1.1 0 1 0 -2.2 0M356.15 92.98a1.1 1.1 0 1 0 2.2 0a1.1 1.1 0 1 0 -2.2 0M353.6 96.5a1.1 1.1 0 1 0 2.2 0a1.1 1.1 0 1 0 -2.2 0M351.29 107.5a1.1 1.1 0 1 0 2.2 0a1.1 1.1 0 1 0 -2.2 0M358.28 95.63a1.1 1.1 0 1 0 2.2 0a1.1 1.1 0 1 0 -2.2 0M347.21 100.11a1.1 1.1 0 1 0 2.2 0a1.1 1.1 0 1 0 -2.2 0M346.73 91.3a1.1 1.1 0 1 0 2.2 0a1.1 1.1 0 1 0 -2.2 0M349.49 99.99a1.1 1.1 0 1 0 2.2 0a1.1 1.1 0 1 0 -2.2 0M348.32 97.53a1.1 1.1 0 1 0 2.2 0a1.1 1.1 0 1 0 -2.2 0M359.41 98.64a1.1 1.1 0 1 0 2.2 0a1.1 1.1 0 1 0 -2.2 0M352.76 90.95a1.1 1.1 0 1 0 2.2 0a1.1 1.1 0 1 0 -2.2 0M358.07 99.51a1.1 1.1 0 1 0 2.2 0a1.1 1.1 0 1 0 -2.2 0M353.09 102.05a1.1 1.1 0 1 0 2.2 0a1.1 1.1 0 1 0 -2.2 0M348.06 98.76a1.1 1.1 0 1 0 2.2 0a1.1 1.1 0 1 0 -2.2 0M357.92 103.02a1.1 1.1 0 1 0 2.2 0a1.1 1.1 0 1 0 -2.2 0M358.03 99.6a1.1 1.1 0 1 0 2.2 0a1.1 1.1 0 1 0 -2.2 0M346.66 100.56a1.1 1.1 0 1 0 2.2 0a1.1 1.1 0 1 0 -2.2 0M356.3 98.97a1.1 1.1 0 1 0 2.2 0a1.1 1.1 0 1 0 -2.2 0M353.33 89.57a1.1 1.1 0 1 0 2.2 0a1.1 1.1 0 1 0 -2.2 0M347.49 102.83a1.1 1.1 0 1 0 2.2 0a1.1 1.1 0 1 0 -2.2 0M349.86 100.31a1.1 1.1 0 1 0 2.2 0a1.1 1.1 0 1 0 -2.2 0M355.81 101.66a1.1 1.1 0 1 0 2.2 0a1.1 1.1 0 1 0 -2.2 0M347.6 96.69a1.1 1.1 0 1 0 2.2 0a1.1 1.1 0 1 0 -2.2 0M353.91 107.25a1.1 1.1 0 1 0 2.2 0a1.1 1.1 0 1 0 -2.2 0M352.8 104.46a1.1 1.1 0 1 0 2.2 0a1.1 1.1 0 1 0 -2.2 0M352.76 100.74a1.1 1.1 0 1 0 2.2 0a1.1 1.1 0 1 0 -2.2 0M347.53 97.41a1.1 1.1 0 1 0 2.2 0a1.1 1.1 0 1 0 -2.2 0M357.18 100.78a1.1 1.1 0 1 0 2.2 0a1.1 1.1 0 1 0 -2.2 0M352.91 103.37a1.1 1.1 0 1 0 2.2 0a1.1 1.1 0 1 0 -2.2 0M355.14 105.45a1.1 1.1 0 1 0 2.2 0a1.1 1.1 0 1 0 -2.2 0M354.21 97.61a1.1 1.1 0 1 0 2.2 0a1.1 1.1 0 1 0 -2.2 0M349.6 92.31a1.1 1.1 0 1 0 2.2 0a1.1 1.1 0 1 0 -2.2 0M355.85 98.68a1.1 1.1 0 1 0 2.2 0a1.1 1.1 0 1 0 -2.2 0M350.76 99.45a1.1 1.1 0 1 0 2.2 0a1.1 1.1 0 1 0 -2.2 0M358.64 97.99a1.1 1.1 0 1 0 2.2 0a1.1 1.1 0 1 0 -2.2 0M351.67 105.89a1.1 1.1 0 1 0 2.2 0a1.1 1.1 0 1 0 -2.2 0M347.72 102.29a1.1 1.1 0 1 0 2.2 0a1.1 1.1 0 1 0 -2.2 0M351.77 102.05a1.1 1.1 0 1 0 2.2 0a1.1 1.1 0 1 0 -2.2 0M350.71 98.84a1.1 1.1 0 1 0 2.2 0a1.1 1.1 0 1 0 -2.2 0M359.07 100.7a1.1 1.1 0 1 0 2.2 0a1.1 1.1 0 1 0 -2.2 0M349.42 107.44a1.1 1.1 0 1 0 2.2 0a1.1 1.1 0 1 0 -2.2 0M358.14 94.11a1.1 1.1 0 1 0 2.2 0a1.1 1.1 0 1 0 -2.2 0M345.18 90.89a1.1 1.1 0 1 0 2.2 0a1.1 1.1 0 1 0 -2.2 0M346.82 102.02a1.1 1.1 0 1 0 2.2 0a1.1 1.1 0 1 0 -2.2 0M349.22 98.25a1.1 1.1 0 1 0 2.2 0a1.1 1.1 0 1 0 -2.2 0M355.92 99a1.1 1.1 0 1 0 2.2 0a1.1 1.1 0 1 0 -2.2 0M353.83 96.05a1.1 1.1 0 1 0 2.2 0a1.1 1.1 0 1 0 -2.2 0M351.05 108.94a1.1 1.1 0 1 0 2.2 0a1.1 1.1 0 1 0 -2.2 0M351.01 91.34a1.1 1.1 0 1 0 2.2 0a1.1 1.1 0 1 0 -2.2 0M357.42 103.18a1.1 1.1 0 1 0 2.2 0a1.1 1.1 0 1 0 -2.2 0M348.06 93.32a1.1 1.1 0 1 0 2.2 0a1.1 1.1 0 1 0 -2.2 0M356.61 100.06a1.1 1.1 0 1 0 2.2 0a1.1 1.1 0 1 0 -2.2 0M350.4 102.74a1.1 1.1 0 1 0 2.2 0a1.1 1.1 0 1 0 -2.2 0M355.19 101.32a1.1 1.1 0 1 0 2.2 0a1.1 1.1 0 1 0 -2.2 0M357.05 95.41a1.1 1.1 0 1 0 2.2 0a1.1 1.1 0 1 0 -2.2 0M351.24 105.43a1.1 1.1 0 1 0 2.2 0a1.1 1.1 0 1 0 -2.2 0M347.72 102.66a1.1 1.1 0 1 0 2.2 0a1.1 1.1 0 1 0 -2.2 0M348.41 103.26a1.1 1.1 0 1 0 2.2 0a1.1 1.1 0 1 0 -2.2 0M348.5 110.29a1.1 1.1 0 1 0 2.2 0a1.1 1.1 0 1 0 -2.2 0M346.24 93.12a1.1 1.1 0 1 0 2.2 0a1.1 1.1 0 1 0 -2.2 0M351.21 97.22a1.1 1.1 0 1 0 2.2 0a1.1 1.1 0 1 0 -2.2 0M354.47 100.64a1.1 1.1 0 1 0 2.2 0a1.1 1.1 0 1 0 -2.2 0M350.61 93.9a1.1 1.1 0 1 0 2.2 0a1.1 1.1 0 1 0 -2.2 0M359.15 105.96a1.1 1.1 0 1 0 2.2 0a1.1 1.1 0 1 0 -2.2 0M358.89 100.94a1.1 1.1 0 1 0 2.2 0a1.1 1.1 0 1 0 -2.2 0M356.45 90.7a1.1 1.1 0 1 0 2.2 0a1.1 1.1 0 1 0 -2.2 0M356.7 94.94a1.1 1.1 0 1 0 2.2 0a1.1 1.1 0 1 0 -2.2 0M349.5 113.19a1.1 1.1 0 1 0 2.2 0a1.1 1.1 0 1 0 -2.2 0M356.17 113.49a1.1 1.1 0 1 0 2.2 0a1.1 1.1 0 1 0 -2.2 0M345.59 106.43a1.1 1.1 0 1 0 2.2 0a1.1 1.1 0 1 0 -2.2 0M345.1 94.48a1.1 1.1 0 1 0 2.2 0a1.1 1.1 0 1 0 -2.2 0M345.82 103.21a1.1 1.1 0 1 0 2.2 0a1.1 1.1 0 1 0 -2.2 0M349.56 101.76a1.1 1.1 0 1 0 2.2 0a1.1 1.1 0 1 0 -2.2 0M355.71 97.06a1.1 1.1 0 1 0 2.2 0a1.1 1.1 0 1 0 -2.2 0M345.27 105.56a1.1 1.1 0 1 0 2.2 0a1.1 1.1 0 1 0 -2.2 0M350.55 99.31a1.1 1.1 0 1 0 2.2 0a1.1 1.1 0 1 0 -2.2 0M353.74 96.01a1.1 1.1 0 1 0 2.2 0a1.1 1.1 0 1 0 -2.2 0M357.5 97.86a1.1 1.1 0 1 0 2.2 0a1.1 1.1 0 1 0 -2.2 0M353.25 98.27a1.1 1.1 0 1 0 2.2 0a1.1 1.1 0 1 0 -2.2 0M348.48 103.95a1.1 1.1 0 1 0 2.2 0a1.1 1.1 0 1 0 -2.2 0M346.1 97.59a1.1 1.1 0 1 0 2.2 0a1.1 1.1 0 1 0 -2.2 0M352.4 102.95a1.1 1.1 0 1 0 2.2 0a1.1 1.1 0 1 0 -2.2 0M356.89 93.09a1.1 1.1 0 1 0 2.2 0a1.1 1.1 0 1 0 -2.2 0M357.28 84.09a1.1 1.1 0 1 0 2.2 0a1.1 1.1 0 1 0 -2.2 0M354.09 104.73a1.1 1.1 0 1 0 2.2 0a1.1 1.1 0 1 0 -2.2 0M347.5 112.9a1.1 1.1 0 1 0 2.2 0a1.1 1.1 0 1 0 -2.2 0M345.92 102.94a1.1 1.1 0 1 0 2.2 0a1.1 1.1 0 1 0 -2.2 0M345.52 98.37a1.1 1.1 0 1 0 2.2 0a1.1 1.1 0 1 0 -2.2 0M348.85 94.54a1.1 1.1 0 1 0 2.2 0a1.1 1.1 0 1 0 -2.2 0M352.81 94.38a1.1 1.1 0 1 0 2.2 0a1.1 1.1 0 1 0 -2.2 0M347.04 104.98a1.1 1.1 0 1 0 2.2 0a1.1 1.1 0 1 0 -2.2 0M354.1 105.04a1.1 1.1 0 1 0 2.2 0a1.1 1.1 0 1 0 -2.2 0M349.52 93.31a1.1 1.1 0 1 0 2.2 0a1.1 1.1 0 1 0 -2.2 0M356.65 106.74a1.1 1.1 0 1 0 2.2 0a1.1 1.1 0 1 0 -2.2 0M352.76 94.31a1.1 1.1 0 1 0 2.2 0a1.1 1.1 0 1 0 -2.2 0M356.31 88.83a1.1 1.1 0 1 0 2.2 0a1.1 1.1 0 1 0 -2.2 0M348.65 78.86a1.1 1.1 0 1 0 2.2 0a1.1 1.1 0 1 0 -2.2 0M353.34 91.6a1.1 1.1 0 1 0 2.2 0a1.1 1.1 0 1 0 -2.2 0M358.1 81.56a1.1 1.1 0 1 0 2.2 0a1.1 1.1 0 1 0 -2.2 0M345.05 88.75a1.1 1.1 0 1 0 2.2 0a1.1 1.1 0 1 0 -2.2 0M358.8 81.37a1.1 1.1 0 1 0 2.2 0a1.1 1.1 0 1 0 -2.2 0M353.67 88.34a1.1 1.1 0 1 0 2.2 0a1.1 1.1 0 1 0 -2.2 0M359.76 92.56a1.1 1.1 0 1 0 2.2 0a1.1 1.1 0 1 0 -2.2 0M349.07 82.68a1.1 1.1 0 1 0 2.2 0a1.1 1.1 0 1 0 -2.2 0M352.14 82.53a1.1 1.1 0 1 0 2.2 0a1.1 1.1 0 1 0 -2.2 0M355.06 79.88a1.1 1.1 0 1 0 2.2 0a1.1 1.1 0 1 0 -2.2 0M353.71 89.67a1.1 1.1 0 1 0 2.2 0a1.1 1.1 0 1 0 -2.2 0M354.12 80.88a1.1 1.1 0 1 0 2.2 0a1.1 1.1 0 1 0 -2.2 0M357.77 85.55a1.1 1.1 0 1 0 2.2 0a1.1 1.1 0 1 0 -2.2 0M347.23 90.69a1.1 1.1 0 1 0 2.2 0a1.1 1.1 0 1 0 -2.2 0M355.56 82.96a1.1 1.1 0 1 0 2.2 0a1.1 1.1 0 1 0 -2.2 0M351.48 76.92a1.1 1.1 0 1 0 2.2 0a1.1 1.1 0 1 0 -2.2 0M358.49 85.48a1.1 1.1 0 1 0 2.2 0a1.1 1.1 0 1 0 -2.2 0M359.02 75.83a1.1 1.1 0 1 0 2.2 0a1.1 1.1 0 1 0 -2.2 0M351.46 74.05a1.1 1.1 0 1 0 2.2 0a1.1 1.1 0 1 0 -2.2 0M349.3 49.29a1.1 1.1 0 1 0 2.2 0a1.1 1.1 0 1 0 -2.2 0M356.3 49.04a1.1 1.1 0 1 0 2.2 0a1.1 1.1 0 1 0 -2.2 0M347.3 60.92a1.1 1.1 0 1 0 2.2 0a1.1 1.1 0 1 0 -2.2 0M350.3 65.38a1.1 1.1 0 1 0 2.2 0a1.1 1.1 0 1 0 -2.2 0M355.3 64.88a1.1 1.1 0 1 0 2.2 0a1.1 1.1 0 1 0 -2.2 0M348.3 69.09a1.1 1.1 0 1 0 2.2 0a1.1 1.1 0 1 0 -2.2 0M354.3 69.83a1.1 1.1 0 1 0 2.2 0a1.1 1.1 0 1 0 -2.2 0"/>
<rect x="300.4" y="23.1" width="72.4" height="107.4" fill="none" stroke="#666" stroke-width="0.6"/>
<line x1="298.4" y1="122.3" x2="300.4" y2="122.3" stroke="#444" stroke-width="0.6"/>
<text x="297.6" y="124.6" font-size="6.4" text-anchor="end" fill="#333" stroke="#333" stroke-width="0.2">0</text>
<line x1="298.4" y1="97.55" x2="300.4" y2="97.55" stroke="#444" stroke-width="0.6"/>
<text x="297.6" y="99.85" font-size="6.4" text-anchor="end" fill="#333" stroke="#333" stroke-width="0.2">100</text>
<line x1="298.4" y1="72.8" x2="300.4" y2="72.8" stroke="#444" stroke-width="0.6"/>
<text x="297.6" y="75.1" font-size="6.4" text-anchor="end" fill="#333" stroke="#333" stroke-width="0.2">200</text>
<line x1="298.4" y1="48.05" x2="300.4" y2="48.05" stroke="#444" stroke-width="0.6"/>
<text x="297.6" y="50.35" font-size="6.4" text-anchor="end" fill="#333" stroke="#333" stroke-width="0.2">300</text>
<line x1="320.2" y1="130.5" x2="320.2" y2="132" stroke="#444" stroke-width="0.6"/>
<text x="320.2" y="137.78" font-size="6.6" text-anchor="middle" fill="#333" stroke="#333" stroke-width="0.2">Normal</text>
<line x1="353.4" y1="130.5" x2="353.4" y2="132" stroke="#444" stroke-width="0.6"/>
<text x="353.4" y="137.78" font-size="6.6" text-anchor="middle" fill="#333" stroke="#333" stroke-width="0.2">Tumor</text>
<text x="282.1" y="79.88" font-size="6.6" text-anchor="middle" fill="#222" stroke="#222" stroke-width="0.2" transform="rotate(-90 282.1 77.5)">Expression</text>
<text x="344.3" y="40" font-size="6.1" text-anchor="middle" fill="#222" stroke="#222" stroke-width="0.2"><tspan font-style="italic">P</tspan>&lt;0.001</text>
<rect x="380.4" y="17.1" width="5.8" height="5" fill="#e6e8f4" stroke="#5a64a0" stroke-width="0.7"/>
<line x1="380.4" y1="19.6" x2="386.2" y2="19.6" stroke="#5a64a0" stroke-width="0.7"/>
<line x1="383.3" y1="16.2" x2="383.3" y2="23" stroke="#5a64a0" stroke-width="0.7"/>
<path fill="#26378a" d="M382.4 19.6a0.9 0.9 0 1 0 1.8 0a0.9 0.9 0 1 0 -1.8 0"/>
<text x="390.4" y="21.87" font-size="6.3" text-anchor="start" fill="#222" stroke="#222" stroke-width="0.2">Normal</text>
<rect x="380.4" y="24.8" width="5.8" height="5" fill="#fbe1e1" stroke="#d46a6a" stroke-width="0.7"/>
<line x1="380.4" y1="27.3" x2="386.2" y2="27.3" stroke="#d46a6a" stroke-width="0.7"/>
<line x1="383.3" y1="23.9" x2="383.3" y2="30.7" stroke="#d46a6a" stroke-width="0.7"/>
<path fill="#ec1313" d="M382.4 27.3a0.9 0.9 0 1 0 1.8 0a0.9 0.9 0 1 0 -1.8 0"/>
<text x="390.4" y="29.57" font-size="6.3" text-anchor="start" fill="#222" stroke="#222" stroke-width="0.2">Tumor</text>
<path d="M39.3 229.87 L39.23 229.62 L39.15 229.29 L39.04 228.89 L38.92 228.45 L38.77 228 L38.6 227.55 L38.4 227.1 L38.18 226.63 L37.93 226.14 L37.67 225.64 L37.39 225.14 L37.1 224.66 L36.79 224.17 L36.46 223.68 L36.12 223.2 L35.77 222.71 L35.43 222.23 L35.1 221.76 L34.74 221.3 L34.34 220.85 L33.94 220.4 L33.6 219.95 L33.37 219.51 L33.3 219.06 L33.42 218.61 L33.71 218.16 L34.1 217.71 L34.55 217.26 L35 216.81 L35.4 216.36 L35.77 215.9 L36.17 215.45 L36.56 214.99 L36.94 214.54 L37.3 214.09 L37.6 213.65 L37.85 213.23 L38.07 212.82 L38.26 212.41 L38.42 212 L38.56 211.58 L38.7 211.14 L38.82 210.81 L38.92 210.6 L39.01 210.39 L39.08 210.02 L39.14 209.35 L39.2 208.25 L39.25 206.74 L39.29 204.95 L39.33 202.87 L39.36 200.48 L39.38 197.77 L39.4 194.74 L39.42 190.96 L39.43 186.36 L39.44 181.45 L39.44 176.72 L39.45 172.68 L39.45 169.84 L39.75 169.84 L39.75 172.68 L39.76 176.72 L39.76 181.45 L39.77 186.36 L39.78 190.96 L39.8 194.74 L39.82 197.77 L39.84 200.48 L39.87 202.87 L39.91 204.95 L39.95 206.74 L40 208.25 L40.06 209.35 L40.12 210.02 L40.19 210.39 L40.28 210.6 L40.38 210.81 L40.5 211.14 L40.64 211.58 L40.78 212 L40.94 212.41 L41.13 212.82 L41.35 213.23 L41.6 213.65 L41.9 214.09 L42.26 214.54 L42.64 214.99 L43.03 215.45 L43.43 215.9 L43.8 216.36 L44.2 216.81 L44.65 217.26 L45.1 217.71 L45.49 218.16 L45.78 218.61 L45.9 219.06 L45.83 219.51 L45.6 219.95 L45.26 220.4 L44.86 220.85 L44.46 221.3 L44.1 221.76 L43.77 222.23 L43.43 222.71 L43.08 223.2 L42.74 223.68 L42.41 224.17 L42.1 224.66 L41.81 225.14 L41.53 225.64 L41.27 226.14 L41.02 226.63 L40.8 227.1 L40.6 227.55 L40.43 228 L40.28 228.45 L40.16 228.89 L40.05 229.29 L39.97 229.62 L39.9 229.87Z" fill="#4a8fe0" stroke="#333" stroke-width="0.45" stroke-linejoin="round"/>
<line x1="36.16" y1="222.72" x2="43.04" y2="222.72" stroke="#222" stroke-opacity="0.45" stroke-width="0.5" stroke-dasharray="0.9 0.7"/>
<line x1="33.93" y1="219.06" x2="45.27" y2="219.06" stroke="#222" stroke-opacity="0.85" stroke-width="0.5" stroke-dasharray="0.9 0.7"/>
<line x1="35.82" y1="216.36" x2="43.38" y2="216.36" stroke="#222" stroke-opacity="0.45" stroke-width="0.5" stroke-dasharray="0.9 0.7"/>
<path d="M56.9 234.88 L56.72 234.53 L56.46 234.05 L56.16 233.47 L55.84 232.85 L55.51 232.21 L55.2 231.6 L54.9 231.01 L54.6 230.4 L54.3 229.78 L54 229.16 L53.7 228.54 L53.4 227.94 L53.1 227.35 L52.78 226.77 L52.47 226.2 L52.17 225.63 L51.91 225.05 L51.7 224.46 L51.52 223.86 L51.36 223.25 L51.23 222.63 L51.15 222.01 L51.14 221.4 L51.2 220.79 L51.37 220.21 L51.63 219.63 L51.95 219.06 L52.31 218.49 L52.67 217.91 L53 217.32 L53.32 216.72 L53.67 216.11 L54.01 215.49 L54.34 214.87 L54.65 214.26 L54.9 213.65 L55.11 213.07 L55.28 212.5 L55.42 211.93 L55.53 211.36 L55.63 210.78 L55.7 210.18 L55.74 209.55 L55.74 208.9 L55.72 208.24 L55.69 207.58 L55.68 206.93 L55.7 206.32 L55.75 205.75 L55.82 205.23 L55.91 204.72 L56 204.2 L56.1 203.65 L56.2 203.04 L56.31 202.31 L56.44 201.48 L56.58 200.61 L56.71 199.79 L56.82 199.1 L56.9 198.6 L57.5 198.6 L57.58 199.1 L57.69 199.79 L57.82 200.61 L57.96 201.48 L58.09 202.31 L58.2 203.04 L58.3 203.65 L58.4 204.2 L58.49 204.72 L58.58 205.23 L58.65 205.75 L58.7 206.32 L58.72 206.93 L58.71 207.58 L58.68 208.24 L58.66 208.9 L58.66 209.55 L58.7 210.18 L58.77 210.78 L58.87 211.36 L58.98 211.93 L59.12 212.5 L59.29 213.07 L59.5 213.65 L59.75 214.26 L60.06 214.87 L60.39 215.49 L60.73 216.11 L61.08 216.72 L61.4 217.32 L61.73 217.91 L62.09 218.49 L62.45 219.06 L62.77 219.63 L63.03 220.21 L63.2 220.79 L63.26 221.4 L63.25 222.01 L63.17 222.63 L63.04 223.25 L62.88 223.86 L62.7 224.46 L62.49 225.05 L62.23 225.63 L61.93 226.2 L61.62 226.77 L61.3 227.35 L61 227.94 L60.7 228.54 L60.4 229.16 L60.1 229.78 L59.8 230.4 L59.5 231.01 L59.2 231.6 L58.89 232.21 L58.56 232.85 L58.24 233.47 L57.94 234.05 L57.68 234.53 L57.5 234.88Z" fill="#f7a246" stroke="#333" stroke-width="0.45" stroke-linejoin="round"/>
<line x1="52.52" y1="225.23" x2="61.88" y2="225.23" stroke="#222" stroke-opacity="0.45" stroke-width="0.5" stroke-dasharray="0.9 0.7"/>
<line x1="51.85" y1="220.6" x2="62.55" y2="220.6" stroke="#222" stroke-opacity="0.85" stroke-width="0.5" stroke-dasharray="0.9 0.7"/>
<line x1="54.09" y1="215.97" x2="60.31" y2="215.97" stroke="#222" stroke-opacity="0.45" stroke-width="0.5" stroke-dasharray="0.9 0.7"/>
<path d="M74.8 232.95 L74.56 232.53 L74.22 231.95 L73.82 231.25 L73.4 230.51 L72.98 229.77 L72.6 229.09 L72.22 228.46 L71.81 227.82 L71.4 227.19 L71.04 226.57 L70.76 225.98 L70.6 225.43 L70.62 224.92 L70.81 224.45 L71.08 224.02 L71.36 223.59 L71.55 223.16 L71.6 222.72 L71.45 222.27 L71.16 221.82 L70.8 221.37 L70.43 220.92 L70.1 220.47 L69.9 220.02 L69.81 219.58 L69.78 219.16 L69.8 218.73 L69.87 218.29 L69.97 217.83 L70.1 217.32 L70.27 216.76 L70.49 216.16 L70.74 215.54 L71.01 214.9 L71.31 214.27 L71.6 213.65 L71.91 213.08 L72.26 212.52 L72.62 211.98 L72.97 211.42 L73.31 210.82 L73.6 210.18 L73.86 209.42 L74.1 208.55 L74.32 207.65 L74.52 206.79 L74.68 206.07 L74.8 205.55 L75.4 205.55 L75.52 206.07 L75.68 206.79 L75.88 207.65 L76.1 208.55 L76.34 209.42 L76.6 210.18 L76.89 210.82 L77.23 211.42 L77.58 211.98 L77.94 212.52 L78.29 213.08 L78.6 213.65 L78.89 214.27 L79.19 214.9 L79.46 215.54 L79.71 216.16 L79.93 216.76 L80.1 217.32 L80.23 217.83 L80.33 218.29 L80.4 218.73 L80.42 219.16 L80.39 219.58 L80.3 220.02 L80.1 220.47 L79.77 220.92 L79.4 221.37 L79.04 221.82 L78.75 222.27 L78.6 222.72 L78.65 223.16 L78.84 223.59 L79.12 224.02 L79.39 224.45 L79.58 224.92 L79.6 225.43 L79.44 225.98 L79.16 226.57 L78.8 227.19 L78.39 227.82 L77.98 228.46 L77.6 229.09 L77.22 229.77 L76.8 230.51 L76.38 231.25 L75.98 231.95 L75.64 232.53 L75.4 232.95Z" fill="#1bb51b" stroke="#333" stroke-width="0.45" stroke-linejoin="round"/>
<line x1="71.1" y1="225.62" x2="79.1" y2="225.62" stroke="#222" stroke-opacity="0.45" stroke-width="0.5" stroke-dasharray="0.9 0.7"/>
<line x1="70.81" y1="220.79" x2="79.39" y2="220.79" stroke="#222" stroke-opacity="0.85" stroke-width="0.5" stroke-dasharray="0.9 0.7"/>
<line x1="70.71" y1="216.94" x2="79.49" y2="216.94" stroke="#222" stroke-opacity="0.45" stroke-width="0.5" stroke-dasharray="0.9 0.7"/>
<path d="M92.5 232.95 L92.37 232.4 L92.2 231.62 L91.99 230.71 L91.77 229.76 L91.53 228.87 L91.3 228.13 L91.08 227.57 L90.88 227.11 L90.66 226.71 L90.42 226.32 L90.14 225.91 L89.8 225.43 L89.32 224.86 L88.69 224.25 L88.02 223.61 L87.41 222.96 L86.97 222.34 L86.8 221.76 L86.97 221.22 L87.41 220.69 L88.02 220.18 L88.69 219.7 L89.32 219.26 L89.8 218.86 L90.17 218.53 L90.5 218.26 L90.8 218.03 L91.04 217.81 L91.21 217.59 L91.3 217.32 L91.28 217.02 L91.17 216.7 L90.99 216.37 L90.76 216.03 L90.52 215.71 L90.3 215.39 L90.05 215.09 L89.74 214.8 L89.42 214.51 L89.13 214.23 L88.91 213.94 L88.8 213.65 L88.8 213.38 L88.89 213.11 L89.04 212.85 L89.25 212.57 L89.51 212.26 L89.8 211.92 L90.18 211.49 L90.67 210.99 L91.21 210.46 L91.74 209.95 L92.19 209.52 L92.5 209.21 L93.1 209.21 L93.41 209.52 L93.86 209.95 L94.39 210.46 L94.93 210.99 L95.42 211.49 L95.8 211.92 L96.09 212.26 L96.35 212.57 L96.56 212.85 L96.71 213.11 L96.8 213.38 L96.8 213.65 L96.69 213.94 L96.47 214.23 L96.17 214.51 L95.86 214.8 L95.55 215.09 L95.3 215.39 L95.08 215.71 L94.84 216.03 L94.61 216.37 L94.43 216.7 L94.32 217.02 L94.3 217.32 L94.39 217.59 L94.56 217.81 L94.8 218.03 L95.1 218.26 L95.43 218.53 L95.8 218.86 L96.28 219.26 L96.91 219.7 L97.58 220.18 L98.19 220.69 L98.63 221.22 L98.8 221.76 L98.63 222.34 L98.19 222.96 L97.58 223.61 L96.91 224.25 L96.28 224.86 L95.8 225.43 L95.46 225.91 L95.18 226.32 L94.94 226.71 L94.72 227.11 L94.52 227.57 L94.3 228.13 L94.07 228.87 L93.83 229.76 L93.61 230.71 L93.4 231.62 L93.23 232.4 L93.1 232.95Z" fill="#ee1313" stroke="#333" stroke-width="0.45" stroke-linejoin="round"/>
<line x1="89.47" y1="224.66" x2="96.13" y2="224.66" stroke="#222" stroke-opacity="0.45" stroke-width="0.5" stroke-dasharray="0.9 0.7"/>
<line x1="87.4" y1="221.76" x2="98.2" y2="221.76" stroke="#222" stroke-opacity="0.85" stroke-width="0.5" stroke-dasharray="0.9 0.7"/>
<line x1="91.13" y1="217.9" x2="94.47" y2="217.9" stroke="#222" stroke-opacity="0.45" stroke-width="0.5" stroke-dasharray="0.9 0.7"/>
<line x1="28.2" y1="159.7" x2="28.2" y2="237.7" stroke="#222" stroke-width="1.2"/>
<line x1="27.7" y1="237.2" x2="101.5" y2="237.2" stroke="#222" stroke-width="1.2"/>
<line x1="25.4" y1="237.2" x2="28.2" y2="237.2" stroke="#222" stroke-width="0.9"/>
<text x="23.6" y="239.22" font-size="5.6" text-anchor="end" fill="#111" stroke="#111" stroke-width="0.2" font-weight="bold" style="stroke-width:0.3">0</text>
<line x1="25.4" y1="217.9" x2="28.2" y2="217.9" stroke="#222" stroke-width="0.9"/>
<text x="23.6" y="219.92" font-size="5.6" text-anchor="end" fill="#111" stroke="#111" stroke-width="0.2" font-weight="bold" style="stroke-width:0.3">100</text>
<line x1="25.4" y1="198.6" x2="28.2" y2="198.6" stroke="#222" stroke-width="0.9"/>
<text x="23.6" y="200.62" font-size="5.6" text-anchor="end" fill="#111" stroke="#111" stroke-width="0.2" font-weight="bold" style="stroke-width:0.3">200</text>
<line x1="25.4" y1="179.3" x2="28.2" y2="179.3" stroke="#222" stroke-width="0.9"/>
<text x="23.6" y="181.32" font-size="5.6" text-anchor="end" fill="#111" stroke="#111" stroke-width="0.2" font-weight="bold" style="stroke-width:0.3">300</text>
<line x1="25.4" y1="160" x2="28.2" y2="160" stroke="#222" stroke-width="0.9"/>
<text x="23.6" y="162.02" font-size="5.6" text-anchor="end" fill="#111" stroke="#111" stroke-width="0.2" font-weight="bold" style="stroke-width:0.3">400</text>
<line x1="39.6" y1="237.2" x2="39.6" y2="239.6" stroke="#222" stroke-width="0.9"/>
<text x="40.2" y="245.5" font-size="6.0" font-weight="bold" text-anchor="end" fill="#111" stroke="#111" stroke-width="0.35" transform="rotate(-45 40.2 245.5)">Stage I</text>
<line x1="57.2" y1="237.2" x2="57.2" y2="239.6" stroke="#222" stroke-width="0.9"/>
<text x="57.8" y="245.5" font-size="6.0" font-weight="bold" text-anchor="end" fill="#111" stroke="#111" stroke-width="0.35" transform="rotate(-45 57.8 245.5)">Stage II</text>
<line x1="75.1" y1="237.2" x2="75.1" y2="239.6" stroke="#222" stroke-width="0.9"/>
<text x="75.7" y="245.5" font-size="6.0" font-weight="bold" text-anchor="end" fill="#111" stroke="#111" stroke-width="0.35" transform="rotate(-45 75.7 245.5)">Stage III</text>
<line x1="92.8" y1="237.2" x2="92.8" y2="239.6" stroke="#222" stroke-width="0.9"/>
<text x="93.4" y="245.5" font-size="6.0" font-weight="bold" text-anchor="end" fill="#111" stroke="#111" stroke-width="0.35" transform="rotate(-45 93.4 245.5)">Stage IV</text>
<line x1="42.3" y1="163.6" x2="91.5" y2="163.6" stroke="#a8a8a8" stroke-width="0.9"/>
<text x="67.6" y="163.5" font-size="6.1" text-anchor="middle" fill="#333" stroke="#333" stroke-width="0.2"><tspan font-style="italic">P</tspan>=0.02</text>
<line x1="42.3" y1="172.5" x2="72.7" y2="172.5" stroke="#a8a8a8" stroke-width="0.9"/>
<text x="59.5" y="172.4" font-size="6.1" text-anchor="middle" fill="#333" stroke="#333" stroke-width="0.2"><tspan font-style="italic">P</tspan>=0.03</text>
<line x1="59.9" y1="189.2" x2="91.5" y2="189.2" stroke="#a8a8a8" stroke-width="0.9"/>
<text x="78.8" y="189.3" font-size="6.1" text-anchor="middle" fill="#333" stroke="#333" stroke-width="0.2"><tspan font-style="italic">P</tspan>=0.03</text>
<line x1="76" y1="201.2" x2="93.3" y2="201.2" stroke="#a8a8a8" stroke-width="0.9"/>
<text x="86.9" y="199.5" font-size="6.1" text-anchor="middle" fill="#333" stroke="#333" stroke-width="0.2"><tspan font-style="italic">P</tspan>=0.02</text>
<path d="M176.2 232.57 L176.07 232.11 L175.9 231.47 L175.69 230.72 L175.47 229.93 L175.23 229.17 L175 228.51 L174.77 227.97 L174.54 227.46 L174.3 227 L174.05 226.54 L173.78 226.09 L173.5 225.62 L173.18 225.15 L172.83 224.68 L172.47 224.22 L172.11 223.75 L171.78 223.25 L171.5 222.72 L171.24 222.16 L170.98 221.55 L170.75 220.93 L170.57 220.29 L170.48 219.67 L170.5 219.06 L170.66 218.46 L170.95 217.85 L171.32 217.25 L171.74 216.66 L172.14 216.1 L172.5 215.58 L172.82 215.11 L173.14 214.69 L173.45 214.29 L173.75 213.9 L174.04 213.5 L174.3 213.07 L174.54 212.63 L174.77 212.17 L174.97 211.71 L175.17 211.23 L175.34 210.72 L175.5 210.18 L175.64 209.77 L175.76 209.54 L175.86 209.29 L175.95 208.8 L176.03 207.88 L176.1 206.32 L176.16 203.75 L176.22 200.26 L176.26 196.33 L176.3 192.46 L176.33 189.13 L176.35 186.83 L176.65 186.83 L176.67 189.13 L176.7 192.46 L176.74 196.33 L176.78 200.26 L176.84 203.75 L176.9 206.32 L176.97 207.88 L177.05 208.8 L177.14 209.29 L177.24 209.54 L177.36 209.77 L177.5 210.18 L177.66 210.72 L177.83 211.23 L178.03 211.71 L178.23 212.17 L178.46 212.63 L178.7 213.07 L178.96 213.5 L179.25 213.9 L179.55 214.29 L179.86 214.69 L180.18 215.11 L180.5 215.58 L180.86 216.1 L181.26 216.66 L181.68 217.25 L182.05 217.85 L182.34 218.46 L182.5 219.06 L182.52 219.67 L182.43 220.29 L182.25 220.93 L182.02 221.55 L181.76 222.16 L181.5 222.72 L181.22 223.25 L180.89 223.75 L180.53 224.22 L180.17 224.68 L179.82 225.15 L179.5 225.62 L179.22 226.09 L178.95 226.54 L178.7 227 L178.46 227.46 L178.23 227.97 L178 228.51 L177.77 229.17 L177.53 229.93 L177.31 230.72 L177.1 231.47 L176.93 232.11 L176.8 232.57Z" fill="#4a8fe0" stroke="#333" stroke-width="0.45" stroke-linejoin="round"/>
<line x1="172.52" y1="223.69" x2="180.48" y2="223.69" stroke="#222" stroke-opacity="0.45" stroke-width="0.5" stroke-dasharray="0.9 0.7"/>
<line x1="171.1" y1="219.06" x2="181.9" y2="219.06" stroke="#222" stroke-opacity="0.85" stroke-width="0.5" stroke-dasharray="0.9 0.7"/>
<line x1="172.9" y1="215.58" x2="180.1" y2="215.58" stroke="#222" stroke-opacity="0.45" stroke-width="0.5" stroke-dasharray="0.9 0.7"/>
<path d="M193.8 229.87 L193.68 229.25 L193.54 228.36 L193.36 227.33 L193.14 226.26 L192.89 225.27 L192.6 224.46 L192.25 223.86 L191.84 223.39 L191.4 222.99 L190.94 222.62 L190.5 222.22 L190.1 221.76 L189.69 221.22 L189.25 220.63 L188.82 220.02 L188.45 219.42 L188.2 218.83 L188.1 218.29 L188.2 217.8 L188.45 217.36 L188.82 216.95 L189.25 216.53 L189.69 216.08 L190.1 215.58 L190.51 215.05 L190.96 214.49 L191.43 213.91 L191.88 213.29 L192.28 212.63 L192.6 211.92 L192.84 211.12 L193.02 210.24 L193.15 209.31 L193.24 208.39 L193.29 207.5 L193.3 206.71 L193.24 206.02 L193.1 205.41 L192.92 204.84 L192.74 204.28 L192.62 203.69 L192.6 203.04 L192.7 202.27 L192.9 201.39 L193.16 200.49 L193.42 199.64 L193.65 198.92 L193.8 198.41 L194.4 198.41 L194.55 198.92 L194.78 199.64 L195.04 200.49 L195.3 201.39 L195.5 202.27 L195.6 203.04 L195.58 203.69 L195.46 204.28 L195.28 204.84 L195.1 205.41 L194.96 206.02 L194.9 206.71 L194.91 207.5 L194.96 208.39 L195.05 209.31 L195.18 210.24 L195.36 211.12 L195.6 211.92 L195.92 212.63 L196.32 213.29 L196.77 213.91 L197.24 214.49 L197.69 215.05 L198.1 215.58 L198.51 216.08 L198.95 216.53 L199.38 216.95 L199.75 217.36 L200 217.8 L200.1 218.29 L200 218.83 L199.75 219.42 L199.38 220.02 L198.95 220.63 L198.51 221.22 L198.1 221.76 L197.7 222.22 L197.26 222.62 L196.8 222.99 L196.36 223.39 L195.95 223.86 L195.6 224.46 L195.31 225.27 L195.06 226.26 L194.84 227.33 L194.66 228.36 L194.52 229.25 L194.4 229.87Z" fill="#f7a246" stroke="#333" stroke-width="0.45" stroke-linejoin="round"/>
<line x1="190.5" y1="221.76" x2="197.7" y2="221.76" stroke="#222" stroke-opacity="0.45" stroke-width="0.5" stroke-dasharray="0.9 0.7"/>
<line x1="188.76" y1="218.67" x2="199.44" y2="218.67" stroke="#222" stroke-opacity="0.85" stroke-width="0.5" stroke-dasharray="0.9 0.7"/>
<line x1="189.89" y1="216.36" x2="198.31" y2="216.36" stroke="#222" stroke-opacity="0.45" stroke-width="0.5" stroke-dasharray="0.9 0.7"/>
<path d="M211.7 233.34 L211.54 232.91 L211.32 232.3 L211.06 231.59 L210.77 230.84 L210.48 230.11 L210.2 229.48 L209.93 228.95 L209.64 228.48 L209.35 228.03 L209.06 227.59 L208.77 227.11 L208.5 226.58 L208.21 225.98 L207.89 225.33 L207.58 224.64 L207.31 223.96 L207.1 223.31 L207 222.72 L207.05 222.22 L207.24 221.77 L207.5 221.36 L207.76 220.95 L207.95 220.52 L208 220.02 L207.85 219.46 L207.56 218.86 L207.19 218.23 L206.83 217.59 L206.58 216.96 L206.5 216.36 L206.63 215.78 L206.91 215.22 L207.28 214.67 L207.7 214.13 L208.13 213.6 L208.5 213.07 L208.84 212.56 L209.2 212.05 L209.55 211.54 L209.89 211.06 L210.21 210.6 L210.5 210.18 L210.76 209.78 L211 209.39 L211.22 209.03 L211.42 208.71 L211.58 208.45 L211.7 208.25 L212.3 208.25 L212.42 208.45 L212.58 208.71 L212.78 209.03 L213 209.39 L213.24 209.78 L213.5 210.18 L213.79 210.6 L214.11 211.06 L214.45 211.54 L214.8 212.05 L215.16 212.56 L215.5 213.07 L215.87 213.6 L216.3 214.13 L216.72 214.67 L217.09 215.22 L217.37 215.78 L217.5 216.36 L217.42 216.96 L217.17 217.59 L216.81 218.23 L216.44 218.86 L216.15 219.46 L216 220.02 L216.05 220.52 L216.24 220.95 L216.5 221.36 L216.76 221.77 L216.95 222.22 L217 222.72 L216.9 223.31 L216.69 223.96 L216.42 224.64 L216.11 225.33 L215.79 225.98 L215.5 226.58 L215.23 227.11 L214.94 227.59 L214.65 228.03 L214.36 228.48 L214.07 228.95 L213.8 229.48 L213.52 230.11 L213.23 230.84 L212.94 231.59 L212.68 232.3 L212.46 232.91 L212.3 233.34Z" fill="#1bb51b" stroke="#333" stroke-width="0.45" stroke-linejoin="round"/>
<line x1="208.03" y1="224.66" x2="215.97" y2="224.66" stroke="#222" stroke-opacity="0.45" stroke-width="0.5" stroke-dasharray="0.9 0.7"/>
<line x1="208.38" y1="220.22" x2="215.62" y2="220.22" stroke="#222" stroke-opacity="0.85" stroke-width="0.5" stroke-dasharray="0.9 0.7"/>
<line x1="207.12" y1="216.94" x2="216.88" y2="216.94" stroke="#222" stroke-opacity="0.45" stroke-width="0.5" stroke-dasharray="0.9 0.7"/>
<path d="M229.6 230.64 L229.41 230.26 L229.15 229.74 L228.84 229.12 L228.51 228.45 L228.19 227.78 L227.9 227.16 L227.63 226.58 L227.35 225.98 L227.08 225.38 L226.82 224.79 L226.59 224.22 L226.4 223.69 L226.27 223.19 L226.2 222.73 L226.15 222.29 L226.1 221.86 L226.03 221.43 L225.9 220.99 L225.66 220.54 L225.33 220.09 L224.96 219.65 L224.64 219.2 L224.43 218.75 L224.4 218.29 L224.58 217.81 L224.93 217.32 L225.39 216.83 L225.9 216.33 L226.43 215.85 L226.9 215.39 L227.37 214.92 L227.89 214.43 L228.41 213.96 L228.89 213.52 L229.3 213.15 L229.6 212.88 L230.2 212.88 L230.5 213.15 L230.91 213.52 L231.39 213.96 L231.91 214.43 L232.43 214.92 L232.9 215.39 L233.37 215.85 L233.9 216.33 L234.41 216.83 L234.87 217.32 L235.22 217.81 L235.4 218.29 L235.37 218.75 L235.16 219.2 L234.84 219.65 L234.47 220.09 L234.14 220.54 L233.9 220.99 L233.77 221.43 L233.7 221.86 L233.65 222.29 L233.6 222.73 L233.53 223.19 L233.4 223.69 L233.21 224.22 L232.98 224.79 L232.72 225.38 L232.45 225.98 L232.17 226.58 L231.9 227.16 L231.61 227.78 L231.29 228.45 L230.96 229.12 L230.65 229.74 L230.39 230.26 L230.2 230.64Z" fill="#ee1313" stroke="#333" stroke-width="0.45" stroke-linejoin="round"/>
<line x1="226.87" y1="224.08" x2="232.93" y2="224.08" stroke="#222" stroke-opacity="0.45" stroke-width="0.5" stroke-dasharray="0.9 0.7"/>
<line x1="226.4" y1="221.37" x2="233.4" y2="221.37" stroke="#222" stroke-opacity="0.85" stroke-width="0.5" stroke-dasharray="0.9 0.7"/>
<line x1="224.97" y1="218.67" x2="234.83" y2="218.67" stroke="#222" stroke-opacity="0.45" stroke-width="0.5" stroke-dasharray="0.9 0.7"/>
<line x1="164.9" y1="159.7" x2="164.9" y2="237.7" stroke="#222" stroke-width="1.2"/>
<line x1="164.4" y1="237.2" x2="238.5" y2="237.2" stroke="#222" stroke-width="1.2"/>
<line x1="162.1" y1="237.2" x2="164.9" y2="237.2" stroke="#222" stroke-width="0.9"/>
<text x="160.3" y="239.22" font-size="5.6" text-anchor="end" fill="#111" stroke="#111" stroke-width="0.2" font-weight="bold" style="stroke-width:0.3">0</text>
<line x1="162.1" y1="217.9" x2="164.9" y2="217.9" stroke="#222" stroke-width="0.9"/>
<text x="160.3" y="219.92" font-size="5.6" text-anchor="end" fill="#111" stroke="#111" stroke-width="0.2" font-weight="bold" style="stroke-width:0.3">100</text>
<line x1="162.1" y1="198.6" x2="164.9" y2="198.6" stroke="#222" stroke-width="0.9"/>
<text x="160.3" y="200.62" font-size="5.6" text-anchor="end" fill="#111" stroke="#111" stroke-width="0.2" font-weight="bold" style="stroke-width:0.3">200</text>
<line x1="162.1" y1="179.3" x2="164.9" y2="179.3" stroke="#222" stroke-width="0.9"/>
<text x="160.3" y="181.32" font-size="5.6" text-anchor="end" fill="#111" stroke="#111" stroke-width="0.2" font-weight="bold" style="stroke-width:0.3">300</text>
<line x1="162.1" y1="160" x2="164.9" y2="160" stroke="#222" stroke-width="0.9"/>
<text x="160.3" y="162.02" font-size="5.6" text-anchor="end" fill="#111" stroke="#111" stroke-width="0.2" font-weight="bold" style="stroke-width:0.3">400</text>
<line x1="176.5" y1="237.2" x2="176.5" y2="239.6" stroke="#222" stroke-width="0.9"/>
<text x="177.1" y="245.5" font-size="6.0" font-weight="bold" text-anchor="end" fill="#111" stroke="#111" stroke-width="0.35" transform="rotate(-45 177.1 245.5)">Stage I</text>
<line x1="194.1" y1="237.2" x2="194.1" y2="239.6" stroke="#222" stroke-width="0.9"/>
<text x="194.7" y="245.5" font-size="6.0" font-weight="bold" text-anchor="end" fill="#111" stroke="#111" stroke-width="0.35" transform="rotate(-45 194.7 245.5)">Stage II</text>
<line x1="212" y1="237.2" x2="212" y2="239.6" stroke="#222" stroke-width="0.9"/>
<text x="212.6" y="245.5" font-size="6.0" font-weight="bold" text-anchor="end" fill="#111" stroke="#111" stroke-width="0.35" transform="rotate(-45 212.6 245.5)">Stage III</text>
<line x1="229.9" y1="237.2" x2="229.9" y2="239.6" stroke="#222" stroke-width="0.9"/>
<text x="230.5" y="245.5" font-size="6.0" font-weight="bold" text-anchor="end" fill="#111" stroke="#111" stroke-width="0.35" transform="rotate(-45 230.5 245.5)">Stage IV</text>
<line x1="178.3" y1="173.4" x2="226.6" y2="173.4" stroke="#a8a8a8" stroke-width="0.9"/>
<text x="204.7" y="173.3" font-size="6.1" text-anchor="middle" fill="#333" stroke="#333" stroke-width="0.2"><tspan font-style="italic">P</tspan>=0.003</text>
<line x1="178.3" y1="182.4" x2="207.9" y2="182.4" stroke="#a8a8a8" stroke-width="0.9"/>
<text x="196.9" y="182.2" font-size="6.1" text-anchor="middle" fill="#333" stroke="#333" stroke-width="0.2"><tspan font-style="italic">P</tspan>=0.04</text>
<line x1="195.9" y1="195.8" x2="229.3" y2="195.8" stroke="#a8a8a8" stroke-width="0.9"/>
<text x="214.6" y="195.3" font-size="6.1" text-anchor="middle" fill="#333" stroke="#333" stroke-width="0.2"><tspan font-style="italic">P</tspan>=0.001</text>
<line x1="213.2" y1="207.1" x2="231.1" y2="207.1" stroke="#a8a8a8" stroke-width="0.9"/>
<text x="224.2" y="205.5" font-size="6.1" text-anchor="middle" fill="#333" stroke="#333" stroke-width="0.2"><tspan font-style="italic">P</tspan>=0.04</text>
<path d="M313.2 231.33 L313.11 230.95 L312.98 230.42 L312.83 229.79 L312.66 229.12 L312.48 228.47 L312.3 227.89 L312.11 227.39 L311.92 226.91 L311.72 226.46 L311.5 226 L311.26 225.53 L311 225.02 L310.7 224.48 L310.37 223.92 L310.01 223.35 L309.66 222.76 L309.31 222.17 L309 221.58 L308.69 220.98 L308.35 220.35 L308.03 219.73 L307.76 219.11 L307.57 218.51 L307.5 217.94 L307.57 217.42 L307.76 216.92 L308.03 216.44 L308.35 215.97 L308.69 215.52 L309 215.07 L309.31 214.64 L309.66 214.23 L310.01 213.83 L310.37 213.43 L310.7 213.02 L311 212.59 L311.26 212.14 L311.51 211.69 L311.73 211.24 L311.94 210.76 L312.13 210.26 L312.3 209.72 L312.46 209.16 L312.59 208.58 L312.72 207.98 L312.82 207.34 L312.92 206.65 L313 205.89 L313.07 205.33 L313.12 205.03 L313.16 204.68 L313.19 203.96 L313.22 202.56 L313.25 200.15 L313.28 196.16 L313.3 190.72 L313.32 184.59 L313.33 178.54 L313.34 173.33 L313.35 169.74 L313.65 169.74 L313.66 173.33 L313.67 178.54 L313.68 184.59 L313.7 190.72 L313.72 196.16 L313.75 200.15 L313.78 202.56 L313.81 203.96 L313.84 204.68 L313.88 205.03 L313.93 205.33 L314 205.89 L314.08 206.65 L314.18 207.34 L314.28 207.98 L314.41 208.58 L314.54 209.16 L314.7 209.72 L314.87 210.26 L315.06 210.76 L315.27 211.24 L315.49 211.69 L315.74 212.14 L316 212.59 L316.3 213.02 L316.63 213.43 L316.99 213.83 L317.34 214.23 L317.69 214.64 L318 215.07 L318.31 215.52 L318.65 215.97 L318.97 216.44 L319.24 216.92 L319.43 217.42 L319.5 217.94 L319.43 218.51 L319.24 219.11 L318.97 219.73 L318.65 220.35 L318.31 220.98 L318 221.58 L317.69 222.17 L317.34 222.76 L316.99 223.35 L316.63 223.92 L316.3 224.48 L316 225.02 L315.74 225.53 L315.5 226 L315.28 226.46 L315.08 226.91 L314.89 227.39 L314.7 227.89 L314.52 228.47 L314.34 229.12 L314.17 229.79 L314.02 230.42 L313.89 230.95 L313.8 231.33Z" fill="#4a8fe0" stroke="#333" stroke-width="0.45" stroke-linejoin="round"/>
<line x1="309.72" y1="222.15" x2="317.28" y2="222.15" stroke="#222" stroke-opacity="0.45" stroke-width="0.5" stroke-dasharray="0.9 0.7"/>
<line x1="308.28" y1="218.9" x2="318.72" y2="218.9" stroke="#222" stroke-opacity="0.85" stroke-width="0.5" stroke-dasharray="0.9 0.7"/>
<line x1="309.21" y1="215.46" x2="317.79" y2="215.46" stroke="#222" stroke-opacity="0.45" stroke-width="0.5" stroke-dasharray="0.9 0.7"/>
<path d="M330.8 234.2 L330.67 233.83 L330.5 233.33 L330.29 232.72 L330.07 232.06 L329.83 231.4 L329.6 230.76 L329.37 230.15 L329.12 229.51 L328.87 228.87 L328.61 228.22 L328.35 227.58 L328.1 226.94 L327.85 226.3 L327.6 225.67 L327.35 225.05 L327.1 224.41 L326.85 223.77 L326.6 223.11 L326.32 222.42 L325.99 221.71 L325.66 220.98 L325.38 220.26 L325.18 219.56 L325.1 218.9 L325.17 218.28 L325.36 217.67 L325.63 217.1 L325.95 216.53 L326.29 215.99 L326.6 215.46 L326.92 214.95 L327.27 214.46 L327.64 213.99 L328 213.52 L328.32 213.06 L328.6 212.59 L328.82 212.12 L329 211.68 L329.15 211.24 L329.28 210.77 L329.39 210.27 L329.5 209.72 L329.6 209.09 L329.67 208.39 L329.73 207.65 L329.79 206.91 L329.84 206.18 L329.9 205.51 L329.97 204.9 L330.03 204.32 L330.1 203.76 L330.16 203.21 L330.23 202.65 L330.3 202.07 L330.38 201.66 L330.46 201.5 L330.54 201.32 L330.62 200.89 L330.69 199.94 L330.75 198.24 L330.8 195.35 L330.84 191.38 L330.88 186.91 L330.91 182.48 L330.93 178.68 L330.95 176.05 L331.25 176.05 L331.27 178.68 L331.29 182.48 L331.32 186.91 L331.36 191.38 L331.4 195.35 L331.45 198.24 L331.51 199.94 L331.58 200.89 L331.66 201.32 L331.74 201.5 L331.83 201.66 L331.9 202.07 L331.97 202.65 L332.04 203.21 L332.1 203.76 L332.17 204.32 L332.23 204.9 L332.3 205.51 L332.36 206.18 L332.41 206.91 L332.47 207.65 L332.53 208.39 L332.6 209.09 L332.7 209.72 L332.81 210.27 L332.92 210.77 L333.05 211.24 L333.2 211.68 L333.38 212.12 L333.6 212.59 L333.88 213.06 L334.2 213.52 L334.56 213.99 L334.93 214.46 L335.28 214.95 L335.6 215.46 L335.91 215.99 L336.25 216.53 L336.57 217.1 L336.84 217.67 L337.03 218.28 L337.1 218.9 L337.02 219.56 L336.82 220.26 L336.54 220.98 L336.21 221.71 L335.88 222.42 L335.6 223.11 L335.35 223.77 L335.1 224.41 L334.85 225.05 L334.6 225.67 L334.35 226.3 L334.1 226.94 L333.85 227.58 L333.59 228.22 L333.33 228.87 L333.08 229.51 L332.83 230.15 L332.6 230.76 L332.37 231.4 L332.13 232.06 L331.91 232.72 L331.7 233.33 L331.53 233.83 L331.4 234.2Z" fill="#f7a246" stroke="#333" stroke-width="0.45" stroke-linejoin="round"/>
<line x1="327.05" y1="223.11" x2="335.15" y2="223.11" stroke="#222" stroke-opacity="0.45" stroke-width="0.5" stroke-dasharray="0.9 0.7"/>
<line x1="325.74" y1="219.28" x2="336.46" y2="219.28" stroke="#222" stroke-opacity="0.85" stroke-width="0.5" stroke-dasharray="0.9 0.7"/>
<line x1="327.26" y1="215.07" x2="334.94" y2="215.07" stroke="#222" stroke-opacity="0.45" stroke-width="0.5" stroke-dasharray="0.9 0.7"/>
<path d="M348.7 231.33 L348.52 230.95 L348.28 230.42 L347.99 229.79 L347.67 229.12 L347.33 228.47 L347 227.89 L346.63 227.38 L346.21 226.89 L345.78 226.42 L345.37 225.96 L345.03 225.49 L344.8 225.02 L344.71 224.55 L344.73 224.08 L344.82 223.61 L344.93 223.14 L345.01 222.65 L345 222.15 L344.89 221.63 L344.71 221.1 L344.5 220.56 L344.29 220.01 L344.11 219.46 L344 218.9 L343.94 218.34 L343.9 217.77 L343.89 217.19 L343.93 216.61 L344.03 216.03 L344.2 215.46 L344.47 214.88 L344.84 214.3 L345.27 213.72 L345.71 213.15 L346.14 212.58 L346.5 212.01 L346.81 211.45 L347.09 210.88 L347.35 210.32 L347.59 209.77 L347.81 209.25 L348 208.76 L348.17 208.3 L348.32 207.84 L348.44 207.41 L348.55 207.03 L348.63 206.7 L348.7 206.47 L349.3 206.47 L349.37 206.7 L349.45 207.03 L349.56 207.41 L349.68 207.84 L349.83 208.3 L350 208.76 L350.19 209.25 L350.41 209.77 L350.65 210.32 L350.91 210.88 L351.19 211.45 L351.5 212.01 L351.86 212.58 L352.29 213.15 L352.73 213.72 L353.16 214.3 L353.53 214.88 L353.8 215.46 L353.97 216.03 L354.07 216.61 L354.11 217.19 L354.1 217.77 L354.06 218.34 L354 218.9 L353.89 219.46 L353.71 220.01 L353.5 220.56 L353.29 221.1 L353.11 221.63 L353 222.15 L352.99 222.65 L353.07 223.14 L353.18 223.61 L353.27 224.08 L353.29 224.55 L353.2 225.02 L352.97 225.49 L352.63 225.96 L352.22 226.42 L351.79 226.89 L351.37 227.38 L351 227.89 L350.67 228.47 L350.33 229.12 L350.01 229.79 L349.72 230.42 L349.48 230.95 L349.3 231.33Z" fill="#1bb51b" stroke="#333" stroke-width="0.45" stroke-linejoin="round"/>
<line x1="345.34" y1="223.11" x2="352.66" y2="223.11" stroke="#222" stroke-opacity="0.45" stroke-width="0.5" stroke-dasharray="0.9 0.7"/>
<line x1="344.57" y1="219.28" x2="353.43" y2="219.28" stroke="#222" stroke-opacity="0.85" stroke-width="0.5" stroke-dasharray="0.9 0.7"/>
<line x1="344.58" y1="215.84" x2="353.42" y2="215.84" stroke="#222" stroke-opacity="0.45" stroke-width="0.5" stroke-dasharray="0.9 0.7"/>
<path d="M366 232.29 L365.82 231.93 L365.57 231.44 L365.28 230.86 L364.95 230.21 L364.62 229.53 L364.3 228.85 L363.98 228.14 L363.64 227.36 L363.29 226.55 L362.94 225.74 L362.61 224.97 L362.3 224.26 L361.97 223.62 L361.61 223.03 L361.27 222.48 L360.99 221.93 L360.81 221.39 L360.8 220.81 L361.01 220.21 L361.41 219.58 L361.93 218.95 L362.47 218.33 L362.95 217.73 L363.3 217.18 L363.48 216.68 L363.55 216.22 L363.57 215.79 L363.58 215.37 L363.64 214.95 L363.8 214.5 L364.09 214 L364.49 213.45 L364.93 212.9 L365.37 212.38 L365.74 211.95 L366 211.63 L366.6 211.63 L366.86 211.95 L367.23 212.38 L367.67 212.9 L368.11 213.45 L368.51 214 L368.8 214.5 L368.96 214.95 L369.02 215.37 L369.03 215.79 L369.05 216.22 L369.12 216.68 L369.3 217.18 L369.65 217.73 L370.13 218.33 L370.68 218.95 L371.19 219.58 L371.59 220.21 L371.8 220.81 L371.79 221.39 L371.61 221.93 L371.33 222.48 L370.99 223.03 L370.63 223.62 L370.3 224.26 L369.99 224.97 L369.66 225.74 L369.31 226.55 L368.96 227.36 L368.62 228.14 L368.3 228.85 L367.98 229.53 L367.65 230.21 L367.32 230.86 L367.03 231.44 L366.78 231.93 L366.6 232.29Z" fill="#ee1313" stroke="#333" stroke-width="0.45" stroke-linejoin="round"/>
<line x1="362.61" y1="224.07" x2="369.99" y2="224.07" stroke="#222" stroke-opacity="0.45" stroke-width="0.5" stroke-dasharray="0.9 0.7"/>
<line x1="361.36" y1="221.2" x2="371.24" y2="221.2" stroke="#222" stroke-opacity="0.85" stroke-width="0.5" stroke-dasharray="0.9 0.7"/>
<line x1="363.27" y1="217.75" x2="369.33" y2="217.75" stroke="#222" stroke-opacity="0.45" stroke-width="0.5" stroke-dasharray="0.9 0.7"/>
<line x1="301.6" y1="159.68" x2="301.6" y2="237" stroke="#222" stroke-width="1.2"/>
<line x1="301.1" y1="236.5" x2="370.5" y2="236.5" stroke="#222" stroke-width="1.2"/>
<line x1="298.8" y1="236.5" x2="301.6" y2="236.5" stroke="#222" stroke-width="0.9"/>
<text x="297" y="238.52" font-size="5.6" text-anchor="end" fill="#111" stroke="#111" stroke-width="0.2" font-weight="bold" style="stroke-width:0.3">0</text>
<line x1="298.8" y1="217.37" x2="301.6" y2="217.37" stroke="#222" stroke-width="0.9"/>
<text x="297" y="219.39" font-size="5.6" text-anchor="end" fill="#111" stroke="#111" stroke-width="0.2" font-weight="bold" style="stroke-width:0.3">100</text>
<line x1="298.8" y1="198.24" x2="301.6" y2="198.24" stroke="#222" stroke-width="0.9"/>
<text x="297" y="200.26" font-size="5.6" text-anchor="end" fill="#111" stroke="#111" stroke-width="0.2" font-weight="bold" style="stroke-width:0.3">200</text>
<line x1="298.8" y1="179.11" x2="301.6" y2="179.11" stroke="#222" stroke-width="0.9"/>
<text x="297" y="181.13" font-size="5.6" text-anchor="end" fill="#111" stroke="#111" stroke-width="0.2" font-weight="bold" style="stroke-width:0.3">300</text>
<line x1="298.8" y1="159.98" x2="301.6" y2="159.98" stroke="#222" stroke-width="0.9"/>
<text x="297" y="162" font-size="5.6" text-anchor="end" fill="#111" stroke="#111" stroke-width="0.2" font-weight="bold" style="stroke-width:0.3">400</text>
<line x1="313.5" y1="236.5" x2="313.5" y2="238.9" stroke="#222" stroke-width="0.9"/>
<text x="314.1" y="244.8" font-size="6.0" font-weight="bold" text-anchor="end" fill="#111" stroke="#111" stroke-width="0.35" transform="rotate(-45 314.1 244.8)">Stage I</text>
<line x1="331.1" y1="236.5" x2="331.1" y2="238.9" stroke="#222" stroke-width="0.9"/>
<text x="331.7" y="244.8" font-size="6.0" font-weight="bold" text-anchor="end" fill="#111" stroke="#111" stroke-width="0.35" transform="rotate(-45 331.7 244.8)">Stage II</text>
<line x1="349" y1="236.5" x2="349" y2="238.9" stroke="#222" stroke-width="0.9"/>
<text x="349.6" y="244.8" font-size="6.0" font-weight="bold" text-anchor="end" fill="#111" stroke="#111" stroke-width="0.35" transform="rotate(-45 349.6 244.8)">Stage III</text>
<line x1="366.3" y1="236.5" x2="366.3" y2="238.9" stroke="#222" stroke-width="0.9"/>
<text x="366.9" y="244.8" font-size="6.0" font-weight="bold" text-anchor="end" fill="#111" stroke="#111" stroke-width="0.35" transform="rotate(-45 366.9 244.8)">Stage IV</text>
<line x1="315.3" y1="157.5" x2="363.6" y2="157.5" stroke="#a8a8a8" stroke-width="0.9"/>
<text x="341.7" y="156.7" font-size="6.1" text-anchor="middle" fill="#333" stroke="#333" stroke-width="0.2"><tspan font-style="italic">P</tspan>=0.001</text>
<line x1="315.3" y1="166.5" x2="344.9" y2="166.5" stroke="#a8a8a8" stroke-width="0.9"/>
<text x="334.4" y="166.2" font-size="6.1" text-anchor="middle" fill="#333" stroke="#333" stroke-width="0.2"><tspan font-style="italic">P</tspan>=0.004</text>
<line x1="334.1" y1="187.6" x2="367.6" y2="187.6" stroke="#a8a8a8" stroke-width="0.9"/>
<text x="353.5" y="185.8" font-size="6.1" text-anchor="middle" fill="#333" stroke="#333" stroke-width="0.2"><tspan font-style="italic">P</tspan>&lt;0.001</text>
<line x1="334.1" y1="198" x2="344" y2="198" stroke="#a8a8a8" stroke-width="0.9"/>
<text x="344.9" y="196.6" font-size="6.1" text-anchor="middle" fill="#333" stroke="#333" stroke-width="0.2"><tspan font-style="italic">P</tspan>=0.002</text>
<line x1="352" y1="206.9" x2="365.1" y2="206.9" stroke="#a8a8a8" stroke-width="0.9"/>
<text x="360" y="205.5" font-size="6.1" text-anchor="middle" fill="#333" stroke="#333" stroke-width="0.2"><tspan font-style="italic">P</tspan>=0.03</text>
<rect x="29.3" y="283.8" width="74.1" height="74.4" fill="#fff" stroke="none" stroke-width="1"/>
<line x1="31.8" y1="283.8" x2="31.8" y2="358.2" stroke="#ebebeb" stroke-width="0.7"/>
<line x1="58.25" y1="283.8" x2="58.25" y2="358.2" stroke="#ebebeb" stroke-width="0.7"/>
<line x1="84.7" y1="283.8" x2="84.7" y2="358.2" stroke="#ebebeb" stroke-width="0.7"/>
<line x1="29.3" y1="297.5" x2="103.4" y2="297.5" stroke="#ebebeb" stroke-width="0.7"/>
<line x1="29.3" y1="315.1" x2="103.4" y2="315.1" stroke="#ebebeb" stroke-width="0.7"/>
<line x1="29.3" y1="332.7" x2="103.4" y2="332.7" stroke="#ebebeb" stroke-width="0.7"/>
<line x1="29.3" y1="350.3" x2="103.4" y2="350.3" stroke="#ebebeb" stroke-width="0.7"/>
<path fill="#e8141a" d="M59.09 320.49a1.42 1.42 0 1 0 2.84 0a1.42 1.42 0 1 0 -2.84 0M66.2 326.95a1.42 1.42 0 1 0 2.84 0a1.42 1.42 0 1 0 -2.84 0M65.48 323.14a1.42 1.42 0 1 0 2.84 0a1.42 1.42 0 1 0 -2.84 0M56.16 313.96a1.42 1.42 0 1 0 2.84 0a1.42 1.42 0 1 0 -2.84 0M57.3 313.36a1.42 1.42 0 1 0 2.84 0a1.42 1.42 0 1 0 -2.84 0M56.07 333.91a1.42 1.42 0 1 0 2.84 0a1.42 1.42 0 1 0 -2.84 0M61.96 324.49a1.42 1.42 0 1 0 2.84 0a1.42 1.42 0 1 0 -2.84 0M58.6 332.57a1.42 1.42 0 1 0 2.84 0a1.42 1.42 0 1 0 -2.84 0M62.91 334.81a1.42 1.42 0 1 0 2.84 0a1.42 1.42 0 1 0 -2.84 0M48.98 312.65a1.42 1.42 0 1 0 2.84 0a1.42 1.42 0 1 0 -2.84 0M67.31 321.69a1.42 1.42 0 1 0 2.84 0a1.42 1.42 0 1 0 -2.84 0M58.38 322.24a1.42 1.42 0 1 0 2.84 0a1.42 1.42 0 1 0 -2.84 0M62.56 323a1.42 1.42 0 1 0 2.84 0a1.42 1.42 0 1 0 -2.84 0M58.17 322.87a1.42 1.42 0 1 0 2.84 0a1.42 1.42 0 1 0 -2.84 0M56.87 320.32a1.42 1.42 0 1 0 2.84 0a1.42 1.42 0 1 0 -2.84 0M61.39 320.11a1.42 1.42 0 1 0 2.84 0a1.42 1.42 0 1 0 -2.84 0M63.33 307.5a1.42 1.42 0 1 0 2.84 0a1.42 1.42 0 1 0 -2.84 0M57.82 317.55a1.42 1.42 0 1 0 2.84 0a1.42 1.42 0 1 0 -2.84 0M58.08 313.18a1.42 1.42 0 1 0 2.84 0a1.42 1.42 0 1 0 -2.84 0M62.58 319.75a1.42 1.42 0 1 0 2.84 0a1.42 1.42 0 1 0 -2.84 0M54.23 315.28a1.42 1.42 0 1 0 2.84 0a1.42 1.42 0 1 0 -2.84 0M50.77 323.45a1.42 1.42 0 1 0 2.84 0a1.42 1.42 0 1 0 -2.84 0M61.02 324.95a1.42 1.42 0 1 0 2.84 0a1.42 1.42 0 1 0 -2.84 0M55.3 321.12a1.42 1.42 0 1 0 2.84 0a1.42 1.42 0 1 0 -2.84 0M48.59 321.17a1.42 1.42 0 1 0 2.84 0a1.42 1.42 0 1 0 -2.84 0M54.53 319.5a1.42 1.42 0 1 0 2.84 0a1.42 1.42 0 1 0 -2.84 0M56.39 315.43a1.42 1.42 0 1 0 2.84 0a1.42 1.42 0 1 0 -2.84 0M52.5 317.56a1.42 1.42 0 1 0 2.84 0a1.42 1.42 0 1 0 -2.84 0M50.89 315.07a1.42 1.42 0 1 0 2.84 0a1.42 1.42 0 1 0 -2.84 0M59.1 321.71a1.42 1.42 0 1 0 2.84 0a1.42 1.42 0 1 0 -2.84 0M63.72 318.9a1.42 1.42 0 1 0 2.84 0a1.42 1.42 0 1 0 -2.84 0M57.65 323.17a1.42 1.42 0 1 0 2.84 0a1.42 1.42 0 1 0 -2.84 0M54.91 308.81a1.42 1.42 0 1 0 2.84 0a1.42 1.42 0 1 0 -2.84 0M60.97 325.47a1.42 1.42 0 1 0 2.84 0a1.42 1.42 0 1 0 -2.84 0M62.75 313.06a1.42 1.42 0 1 0 2.84 0a1.42 1.42 0 1 0 -2.84 0M57.29 313.28a1.42 1.42 0 1 0 2.84 0a1.42 1.42 0 1 0 -2.84 0M61.83 317.31a1.42 1.42 0 1 0 2.84 0a1.42 1.42 0 1 0 -2.84 0M64.5 314.56a1.42 1.42 0 1 0 2.84 0a1.42 1.42 0 1 0 -2.84 0M57.79 320.99a1.42 1.42 0 1 0 2.84 0a1.42 1.42 0 1 0 -2.84 0M54.53 314.48a1.42 1.42 0 1 0 2.84 0a1.42 1.42 0 1 0 -2.84 0M60.77 310.76a1.42 1.42 0 1 0 2.84 0a1.42 1.42 0 1 0 -2.84 0M60.23 312.44a1.42 1.42 0 1 0 2.84 0a1.42 1.42 0 1 0 -2.84 0M64.8 328.66a1.42 1.42 0 1 0 2.84 0a1.42 1.42 0 1 0 -2.84 0M52.01 319.13a1.42 1.42 0 1 0 2.84 0a1.42 1.42 0 1 0 -2.84 0M55.35 310.02a1.42 1.42 0 1 0 2.84 0a1.42 1.42 0 1 0 -2.84 0M54.4 318.86a1.42 1.42 0 1 0 2.84 0a1.42 1.42 0 1 0 -2.84 0M49.59 307.1a1.42 1.42 0 1 0 2.84 0a1.42 1.42 0 1 0 -2.84 0M59.58 332.25a1.42 1.42 0 1 0 2.84 0a1.42 1.42 0 1 0 -2.84 0M61.74 307.34a1.42 1.42 0 1 0 2.84 0a1.42 1.42 0 1 0 -2.84 0M54.94 322.4a1.42 1.42 0 1 0 2.84 0a1.42 1.42 0 1 0 -2.84 0M66.34 322.88a1.42 1.42 0 1 0 2.84 0a1.42 1.42 0 1 0 -2.84 0M63.32 307.9a1.42 1.42 0 1 0 2.84 0a1.42 1.42 0 1 0 -2.84 0M62.27 321.05a1.42 1.42 0 1 0 2.84 0a1.42 1.42 0 1 0 -2.84 0M61.06 326.29a1.42 1.42 0 1 0 2.84 0a1.42 1.42 0 1 0 -2.84 0M64.03 322.31a1.42 1.42 0 1 0 2.84 0a1.42 1.42 0 1 0 -2.84 0M51.75 320.76a1.42 1.42 0 1 0 2.84 0a1.42 1.42 0 1 0 -2.84 0M62.2 325.93a1.42 1.42 0 1 0 2.84 0a1.42 1.42 0 1 0 -2.84 0M62.14 320.01a1.42 1.42 0 1 0 2.84 0a1.42 1.42 0 1 0 -2.84 0M49.41 321.33a1.42 1.42 0 1 0 2.84 0a1.42 1.42 0 1 0 -2.84 0M60.77 317.84a1.42 1.42 0 1 0 2.84 0a1.42 1.42 0 1 0 -2.84 0M57.56 323.55a1.42 1.42 0 1 0 2.84 0a1.42 1.42 0 1 0 -2.84 0M63.1 311.72a1.42 1.42 0 1 0 2.84 0a1.42 1.42 0 1 0 -2.84 0M56.55 324.75a1.42 1.42 0 1 0 2.84 0a1.42 1.42 0 1 0 -2.84 0M58.8 315a1.42 1.42 0 1 0 2.84 0a1.42 1.42 0 1 0 -2.84 0M60.74 310.6a1.42 1.42 0 1 0 2.84 0a1.42 1.42 0 1 0 -2.84 0M54.2 321.54a1.42 1.42 0 1 0 2.84 0a1.42 1.42 0 1 0 -2.84 0M62.12 331.52a1.42 1.42 0 1 0 2.84 0a1.42 1.42 0 1 0 -2.84 0M58.34 326.03a1.42 1.42 0 1 0 2.84 0a1.42 1.42 0 1 0 -2.84 0M61.55 314.92a1.42 1.42 0 1 0 2.84 0a1.42 1.42 0 1 0 -2.84 0M56.1 324.05a1.42 1.42 0 1 0 2.84 0a1.42 1.42 0 1 0 -2.84 0M64.74 315.38a1.42 1.42 0 1 0 2.84 0a1.42 1.42 0 1 0 -2.84 0M62.15 317.87a1.42 1.42 0 1 0 2.84 0a1.42 1.42 0 1 0 -2.84 0M57.95 319.47a1.42 1.42 0 1 0 2.84 0a1.42 1.42 0 1 0 -2.84 0M62.3 301.38a1.42 1.42 0 1 0 2.84 0a1.42 1.42 0 1 0 -2.84 0M65.67 320.24a1.42 1.42 0 1 0 2.84 0a1.42 1.42 0 1 0 -2.84 0M68.52 311.06a1.42 1.42 0 1 0 2.84 0a1.42 1.42 0 1 0 -2.84 0M50.45 313.55a1.42 1.42 0 1 0 2.84 0a1.42 1.42 0 1 0 -2.84 0M63.64 307.71a1.42 1.42 0 1 0 2.84 0a1.42 1.42 0 1 0 -2.84 0M61.4 307.4a1.42 1.42 0 1 0 2.84 0a1.42 1.42 0 1 0 -2.84 0M58.4 311.71a1.42 1.42 0 1 0 2.84 0a1.42 1.42 0 1 0 -2.84 0M53.5 325a1.42 1.42 0 1 0 2.84 0a1.42 1.42 0 1 0 -2.84 0M65.65 331.32a1.42 1.42 0 1 0 2.84 0a1.42 1.42 0 1 0 -2.84 0M52.13 318.61a1.42 1.42 0 1 0 2.84 0a1.42 1.42 0 1 0 -2.84 0M61.95 327a1.42 1.42 0 1 0 2.84 0a1.42 1.42 0 1 0 -2.84 0M65.89 316.81a1.42 1.42 0 1 0 2.84 0a1.42 1.42 0 1 0 -2.84 0M50.31 304.42a1.42 1.42 0 1 0 2.84 0a1.42 1.42 0 1 0 -2.84 0M57.28 319.92a1.42 1.42 0 1 0 2.84 0a1.42 1.42 0 1 0 -2.84 0M51.87 322.15a1.42 1.42 0 1 0 2.84 0a1.42 1.42 0 1 0 -2.84 0M60.21 315.58a1.42 1.42 0 1 0 2.84 0a1.42 1.42 0 1 0 -2.84 0M67.03 321.07a1.42 1.42 0 1 0 2.84 0a1.42 1.42 0 1 0 -2.84 0M69.77 323.1a1.42 1.42 0 1 0 2.84 0a1.42 1.42 0 1 0 -2.84 0M49.35 312.31a1.42 1.42 0 1 0 2.84 0a1.42 1.42 0 1 0 -2.84 0M55.82 307.7a1.42 1.42 0 1 0 2.84 0a1.42 1.42 0 1 0 -2.84 0M62.68 317.13a1.42 1.42 0 1 0 2.84 0a1.42 1.42 0 1 0 -2.84 0M67.38 317.21a1.42 1.42 0 1 0 2.84 0a1.42 1.42 0 1 0 -2.84 0M61.16 316.15a1.42 1.42 0 1 0 2.84 0a1.42 1.42 0 1 0 -2.84 0M54.9 326.22a1.42 1.42 0 1 0 2.84 0a1.42 1.42 0 1 0 -2.84 0M60.5 331.77a1.42 1.42 0 1 0 2.84 0a1.42 1.42 0 1 0 -2.84 0M58.81 315.67a1.42 1.42 0 1 0 2.84 0a1.42 1.42 0 1 0 -2.84 0M57.81 324.05a1.42 1.42 0 1 0 2.84 0a1.42 1.42 0 1 0 -2.84 0M54.96 325.87a1.42 1.42 0 1 0 2.84 0a1.42 1.42 0 1 0 -2.84 0M60.98 324.16a1.42 1.42 0 1 0 2.84 0a1.42 1.42 0 1 0 -2.84 0M60.56 326.67a1.42 1.42 0 1 0 2.84 0a1.42 1.42 0 1 0 -2.84 0M58.4 315.87a1.42 1.42 0 1 0 2.84 0a1.42 1.42 0 1 0 -2.84 0M57.71 324.36a1.42 1.42 0 1 0 2.84 0a1.42 1.42 0 1 0 -2.84 0M52 334.02a1.42 1.42 0 1 0 2.84 0a1.42 1.42 0 1 0 -2.84 0M56.29 324.84a1.42 1.42 0 1 0 2.84 0a1.42 1.42 0 1 0 -2.84 0M65.38 314.14a1.42 1.42 0 1 0 2.84 0a1.42 1.42 0 1 0 -2.84 0M57.88 323.37a1.42 1.42 0 1 0 2.84 0a1.42 1.42 0 1 0 -2.84 0M51.17 328.29a1.42 1.42 0 1 0 2.84 0a1.42 1.42 0 1 0 -2.84 0M66.07 321.57a1.42 1.42 0 1 0 2.84 0a1.42 1.42 0 1 0 -2.84 0M61.75 314.56a1.42 1.42 0 1 0 2.84 0a1.42 1.42 0 1 0 -2.84 0M70.22 330.4a1.42 1.42 0 1 0 2.84 0a1.42 1.42 0 1 0 -2.84 0M59.24 309.4a1.42 1.42 0 1 0 2.84 0a1.42 1.42 0 1 0 -2.84 0M56.43 322.58a1.42 1.42 0 1 0 2.84 0a1.42 1.42 0 1 0 -2.84 0M51.13 318.68a1.42 1.42 0 1 0 2.84 0a1.42 1.42 0 1 0 -2.84 0M66.01 309.82a1.42 1.42 0 1 0 2.84 0a1.42 1.42 0 1 0 -2.84 0M72.7 327.96a1.42 1.42 0 1 0 2.84 0a1.42 1.42 0 1 0 -2.84 0M54.49 321.41a1.42 1.42 0 1 0 2.84 0a1.42 1.42 0 1 0 -2.84 0M55.43 310.03a1.42 1.42 0 1 0 2.84 0a1.42 1.42 0 1 0 -2.84 0M62.1 323.32a1.42 1.42 0 1 0 2.84 0a1.42 1.42 0 1 0 -2.84 0M54.44 315.55a1.42 1.42 0 1 0 2.84 0a1.42 1.42 0 1 0 -2.84 0M57.45 304.49a1.42 1.42 0 1 0 2.84 0a1.42 1.42 0 1 0 -2.84 0M57.02 313.62a1.42 1.42 0 1 0 2.84 0a1.42 1.42 0 1 0 -2.84 0M59.93 320.78a1.42 1.42 0 1 0 2.84 0a1.42 1.42 0 1 0 -2.84 0M64.78 323.58a1.42 1.42 0 1 0 2.84 0a1.42 1.42 0 1 0 -2.84 0M59.02 320.04a1.42 1.42 0 1 0 2.84 0a1.42 1.42 0 1 0 -2.84 0M63.84 319.14a1.42 1.42 0 1 0 2.84 0a1.42 1.42 0 1 0 -2.84 0M56.65 322.33a1.42 1.42 0 1 0 2.84 0a1.42 1.42 0 1 0 -2.84 0M60.66 317.21a1.42 1.42 0 1 0 2.84 0a1.42 1.42 0 1 0 -2.84 0M47.42 327.65a1.42 1.42 0 1 0 2.84 0a1.42 1.42 0 1 0 -2.84 0M51.12 319.91a1.42 1.42 0 1 0 2.84 0a1.42 1.42 0 1 0 -2.84 0M63.18 321.01a1.42 1.42 0 1 0 2.84 0a1.42 1.42 0 1 0 -2.84 0M55.73 322.86a1.42 1.42 0 1 0 2.84 0a1.42 1.42 0 1 0 -2.84 0M62.02 310.85a1.42 1.42 0 1 0 2.84 0a1.42 1.42 0 1 0 -2.84 0M61.81 313.47a1.42 1.42 0 1 0 2.84 0a1.42 1.42 0 1 0 -2.84 0M66 330.29a1.42 1.42 0 1 0 2.84 0a1.42 1.42 0 1 0 -2.84 0M63.26 321.32a1.42 1.42 0 1 0 2.84 0a1.42 1.42 0 1 0 -2.84 0M64.36 316.67a1.42 1.42 0 1 0 2.84 0a1.42 1.42 0 1 0 -2.84 0M58.3 321.36a1.42 1.42 0 1 0 2.84 0a1.42 1.42 0 1 0 -2.84 0M55.15 315.18a1.42 1.42 0 1 0 2.84 0a1.42 1.42 0 1 0 -2.84 0M54.97 320.89a1.42 1.42 0 1 0 2.84 0a1.42 1.42 0 1 0 -2.84 0M56.28 313.79a1.42 1.42 0 1 0 2.84 0a1.42 1.42 0 1 0 -2.84 0M52.84 320.87a1.42 1.42 0 1 0 2.84 0a1.42 1.42 0 1 0 -2.84 0M55.96 306.94a1.42 1.42 0 1 0 2.84 0a1.42 1.42 0 1 0 -2.84 0M58.41 328.8a1.42 1.42 0 1 0 2.84 0a1.42 1.42 0 1 0 -2.84 0M60.25 314.94a1.42 1.42 0 1 0 2.84 0a1.42 1.42 0 1 0 -2.84 0M57.08 306.91a1.42 1.42 0 1 0 2.84 0a1.42 1.42 0 1 0 -2.84 0M48.57 317.11a1.42 1.42 0 1 0 2.84 0a1.42 1.42 0 1 0 -2.84 0M58.51 316.01a1.42 1.42 0 1 0 2.84 0a1.42 1.42 0 1 0 -2.84 0M60.67 312.16a1.42 1.42 0 1 0 2.84 0a1.42 1.42 0 1 0 -2.84 0M53.24 299.09a1.42 1.42 0 1 0 2.84 0a1.42 1.42 0 1 0 -2.84 0M62.07 307.6a1.42 1.42 0 1 0 2.84 0a1.42 1.42 0 1 0 -2.84 0M80.55 305.24a1.42 1.42 0 1 0 2.84 0a1.42 1.42 0 1 0 -2.84 0M52.47 310.06a1.42 1.42 0 1 0 2.84 0a1.42 1.42 0 1 0 -2.84 0M61.73 307.5a1.42 1.42 0 1 0 2.84 0a1.42 1.42 0 1 0 -2.84 0M58.02 314.28a1.42 1.42 0 1 0 2.84 0a1.42 1.42 0 1 0 -2.84 0M60.9 311.06a1.42 1.42 0 1 0 2.84 0a1.42 1.42 0 1 0 -2.84 0M49.42 310.93a1.42 1.42 0 1 0 2.84 0a1.42 1.42 0 1 0 -2.84 0M53.21 308.66a1.42 1.42 0 1 0 2.84 0a1.42 1.42 0 1 0 -2.84 0M62.43 307.93a1.42 1.42 0 1 0 2.84 0a1.42 1.42 0 1 0 -2.84 0M59.58 309.15a1.42 1.42 0 1 0 2.84 0a1.42 1.42 0 1 0 -2.84 0M69.16 312.23a1.42 1.42 0 1 0 2.84 0a1.42 1.42 0 1 0 -2.84 0M55.76 309.78a1.42 1.42 0 1 0 2.84 0a1.42 1.42 0 1 0 -2.84 0M60.8 306.93a1.42 1.42 0 1 0 2.84 0a1.42 1.42 0 1 0 -2.84 0M76.48 312.17a1.42 1.42 0 1 0 2.84 0a1.42 1.42 0 1 0 -2.84 0M55.41 308.68a1.42 1.42 0 1 0 2.84 0a1.42 1.42 0 1 0 -2.84 0M54.62 307.81a1.42 1.42 0 1 0 2.84 0a1.42 1.42 0 1 0 -2.84 0M59.6 305.51a1.42 1.42 0 1 0 2.84 0a1.42 1.42 0 1 0 -2.84 0M59.54 306.23a1.42 1.42 0 1 0 2.84 0a1.42 1.42 0 1 0 -2.84 0M64.63 306.01a1.42 1.42 0 1 0 2.84 0a1.42 1.42 0 1 0 -2.84 0M60.54 299.06a1.42 1.42 0 1 0 2.84 0a1.42 1.42 0 1 0 -2.84 0M55.46 311.33a1.42 1.42 0 1 0 2.84 0a1.42 1.42 0 1 0 -2.84 0M61.01 309.88a1.42 1.42 0 1 0 2.84 0a1.42 1.42 0 1 0 -2.84 0M74.91 307.37a1.42 1.42 0 1 0 2.84 0a1.42 1.42 0 1 0 -2.84 0M31.16 315.22a1.42 1.42 0 1 0 2.84 0a1.42 1.42 0 1 0 -2.84 0M32.95 314.32a1.42 1.42 0 1 0 2.84 0a1.42 1.42 0 1 0 -2.84 0M34.74 317.01a1.42 1.42 0 1 0 2.84 0a1.42 1.42 0 1 0 -2.84 0M36.53 311.64a1.42 1.42 0 1 0 2.84 0a1.42 1.42 0 1 0 -2.84 0M38.32 309.85a1.42 1.42 0 1 0 2.84 0a1.42 1.42 0 1 0 -2.84 0M40.11 308.06a1.42 1.42 0 1 0 2.84 0a1.42 1.42 0 1 0 -2.84 0M41 311.64a1.42 1.42 0 1 0 2.84 0a1.42 1.42 0 1 0 -2.84 0M37.42 318.8a1.42 1.42 0 1 0 2.84 0a1.42 1.42 0 1 0 -2.84 0M33.84 316.11a1.42 1.42 0 1 0 2.84 0a1.42 1.42 0 1 0 -2.84 0M35.63 313.43a1.42 1.42 0 1 0 2.84 0a1.42 1.42 0 1 0 -2.84 0M41.9 309.85a1.42 1.42 0 1 0 2.84 0a1.42 1.42 0 1 0 -2.84 0M43.69 308.06a1.42 1.42 0 1 0 2.84 0a1.42 1.42 0 1 0 -2.84 0M39.21 314.32a1.42 1.42 0 1 0 2.84 0a1.42 1.42 0 1 0 -2.84 0M32.05 317.01a1.42 1.42 0 1 0 2.84 0a1.42 1.42 0 1 0 -2.84 0M38.32 320.59a1.42 1.42 0 1 0 2.84 0a1.42 1.42 0 1 0 -2.84 0M44.58 315.22a1.42 1.42 0 1 0 2.84 0a1.42 1.42 0 1 0 -2.84 0M45.48 318.8a1.42 1.42 0 1 0 2.84 0a1.42 1.42 0 1 0 -2.84 0M79.49 296.42a1.42 1.42 0 1 0 2.84 0a1.42 1.42 0 1 0 -2.84 0M75.91 302.69a1.42 1.42 0 1 0 2.84 0a1.42 1.42 0 1 0 -2.84 0M63.38 298.21a1.42 1.42 0 1 0 2.84 0a1.42 1.42 0 1 0 -2.84 0M62.48 300.9a1.42 1.42 0 1 0 2.84 0a1.42 1.42 0 1 0 -2.84 0M57.11 341.17a1.42 1.42 0 1 0 2.84 0a1.42 1.42 0 1 0 -2.84 0M59.8 344.75a1.42 1.42 0 1 0 2.84 0a1.42 1.42 0 1 0 -2.84 0M68.75 343.86a1.42 1.42 0 1 0 2.84 0a1.42 1.42 0 1 0 -2.84 0M68.75 351.02a1.42 1.42 0 1 0 2.84 0a1.42 1.42 0 1 0 -2.84 0M75.91 355.49a1.42 1.42 0 1 0 2.84 0a1.42 1.42 0 1 0 -2.84 0M52.64 334.01a1.42 1.42 0 1 0 2.84 0a1.42 1.42 0 1 0 -2.84 0M47.27 328.64a1.42 1.42 0 1 0 2.84 0a1.42 1.42 0 1 0 -2.84 0M54.43 330.43a1.42 1.42 0 1 0 2.84 0a1.42 1.42 0 1 0 -2.84 0M64.27 332.22a1.42 1.42 0 1 0 2.84 0a1.42 1.42 0 1 0 -2.84 0M66.96 330.43a1.42 1.42 0 1 0 2.84 0a1.42 1.42 0 1 0 -2.84 0"/>
<path fill="#2b3c8e" d="M77.7 286.58a1.42 1.42 0 1 0 2.84 0a1.42 1.42 0 1 0 -2.84 0M83.96 287.47a1.42 1.42 0 1 0 2.84 0a1.42 1.42 0 1 0 -2.84 0M72.33 291.05a1.42 1.42 0 1 0 2.84 0a1.42 1.42 0 1 0 -2.84 0M64.27 295.53a1.42 1.42 0 1 0 2.84 0a1.42 1.42 0 1 0 -2.84 0M72.33 295.53a1.42 1.42 0 1 0 2.84 0a1.42 1.42 0 1 0 -2.84 0M75.01 300a1.42 1.42 0 1 0 2.84 0a1.42 1.42 0 1 0 -2.84 0M81.28 300.9a1.42 1.42 0 1 0 2.84 0a1.42 1.42 0 1 0 -2.84 0M87.54 300a1.42 1.42 0 1 0 2.84 0a1.42 1.42 0 1 0 -2.84 0M90.23 300.36a1.42 1.42 0 1 0 2.84 0a1.42 1.42 0 1 0 -2.84 0M98.28 300.9a1.42 1.42 0 1 0 2.84 0a1.42 1.42 0 1 0 -2.84 0M56.22 300a1.42 1.42 0 1 0 2.84 0a1.42 1.42 0 1 0 -2.84 0M63.38 300.9a1.42 1.42 0 1 0 2.84 0a1.42 1.42 0 1 0 -2.84 0M69.64 301.79a1.42 1.42 0 1 0 2.84 0a1.42 1.42 0 1 0 -2.84 0M74.12 305.37a1.42 1.42 0 1 0 2.84 0a1.42 1.42 0 1 0 -2.84 0M70.54 308.06a1.42 1.42 0 1 0 2.84 0a1.42 1.42 0 1 0 -2.84 0M75.91 315.22a1.42 1.42 0 1 0 2.84 0a1.42 1.42 0 1 0 -2.84 0M81.28 311.64a1.42 1.42 0 1 0 2.84 0a1.42 1.42 0 1 0 -2.84 0M84.86 316.11a1.42 1.42 0 1 0 2.84 0a1.42 1.42 0 1 0 -2.84 0M83.07 320.59a1.42 1.42 0 1 0 2.84 0a1.42 1.42 0 1 0 -2.84 0M69.64 314.32a1.42 1.42 0 1 0 2.84 0a1.42 1.42 0 1 0 -2.84 0M72.33 322.38a1.42 1.42 0 1 0 2.84 0a1.42 1.42 0 1 0 -2.84 0M68.75 325.96a1.42 1.42 0 1 0 2.84 0a1.42 1.42 0 1 0 -2.84 0M75.91 325.06a1.42 1.42 0 1 0 2.84 0a1.42 1.42 0 1 0 -2.84 0M78.59 329.54a1.42 1.42 0 1 0 2.84 0a1.42 1.42 0 1 0 -2.84 0M92.91 325.96a1.42 1.42 0 1 0 2.84 0a1.42 1.42 0 1 0 -2.84 0M65.17 331.33a1.42 1.42 0 1 0 2.84 0a1.42 1.42 0 1 0 -2.84 0M66.96 334.91a1.42 1.42 0 1 0 2.84 0a1.42 1.42 0 1 0 -2.84 0M70.54 334.91a1.42 1.42 0 1 0 2.84 0a1.42 1.42 0 1 0 -2.84 0M60.69 335.8a1.42 1.42 0 1 0 2.84 0a1.42 1.42 0 1 0 -2.84 0M81.28 336.7a1.42 1.42 0 1 0 2.84 0a1.42 1.42 0 1 0 -2.84 0M72.33 340.28a1.42 1.42 0 1 0 2.84 0a1.42 1.42 0 1 0 -2.84 0M76.8 344.75a1.42 1.42 0 1 0 2.84 0a1.42 1.42 0 1 0 -2.84 0M49.06 306.27a1.42 1.42 0 1 0 2.84 0a1.42 1.42 0 1 0 -2.84 0M55.32 311.64a1.42 1.42 0 1 0 2.84 0a1.42 1.42 0 1 0 -2.84 0M59.8 317.9a1.42 1.42 0 1 0 2.84 0a1.42 1.42 0 1 0 -2.84 0M63.38 321.48a1.42 1.42 0 1 0 2.84 0a1.42 1.42 0 1 0 -2.84 0M66.96 318.8a1.42 1.42 0 1 0 2.84 0a1.42 1.42 0 1 0 -2.84 0M50.85 319.69a1.42 1.42 0 1 0 2.84 0a1.42 1.42 0 1 0 -2.84 0M47.27 316.11a1.42 1.42 0 1 0 2.84 0a1.42 1.42 0 1 0 -2.84 0M42.79 316.11a1.42 1.42 0 1 0 2.84 0a1.42 1.42 0 1 0 -2.84 0M65.17 304.48a1.42 1.42 0 1 0 2.84 0a1.42 1.42 0 1 0 -2.84 0M67.85 309.85a1.42 1.42 0 1 0 2.84 0a1.42 1.42 0 1 0 -2.84 0M73.22 311.64a1.42 1.42 0 1 0 2.84 0a1.42 1.42 0 1 0 -2.84 0M77.7 308.06a1.42 1.42 0 1 0 2.84 0a1.42 1.42 0 1 0 -2.84 0M79.49 318.8a1.42 1.42 0 1 0 2.84 0a1.42 1.42 0 1 0 -2.84 0M64.27 325.96a1.42 1.42 0 1 0 2.84 0a1.42 1.42 0 1 0 -2.84 0M61.59 327.75a1.42 1.42 0 1 0 2.84 0a1.42 1.42 0 1 0 -2.84 0M74.12 329.54a1.42 1.42 0 1 0 2.84 0a1.42 1.42 0 1 0 -2.84 0M66.06 311.64a1.42 1.42 0 1 0 2.84 0a1.42 1.42 0 1 0 -2.84 0M81.28 325.96a1.42 1.42 0 1 0 2.84 0a1.42 1.42 0 1 0 -2.84 0M59.8 306.27a1.42 1.42 0 1 0 2.84 0a1.42 1.42 0 1 0 -2.84 0M71.43 318.8a1.42 1.42 0 1 0 2.84 0a1.42 1.42 0 1 0 -2.84 0M62.48 315.22a1.42 1.42 0 1 0 2.84 0a1.42 1.42 0 1 0 -2.84 0M77.17 315.98a1.42 1.42 0 1 0 2.84 0a1.42 1.42 0 1 0 -2.84 0M72.27 295.98a1.42 1.42 0 1 0 2.84 0a1.42 1.42 0 1 0 -2.84 0M71.74 318.64a1.42 1.42 0 1 0 2.84 0a1.42 1.42 0 1 0 -2.84 0M48.81 308.25a1.42 1.42 0 1 0 2.84 0a1.42 1.42 0 1 0 -2.84 0M66.87 317.5a1.42 1.42 0 1 0 2.84 0a1.42 1.42 0 1 0 -2.84 0M73.03 318.77a1.42 1.42 0 1 0 2.84 0a1.42 1.42 0 1 0 -2.84 0M81.71 312.06a1.42 1.42 0 1 0 2.84 0a1.42 1.42 0 1 0 -2.84 0M83.57 317.11a1.42 1.42 0 1 0 2.84 0a1.42 1.42 0 1 0 -2.84 0M80.23 313.27a1.42 1.42 0 1 0 2.84 0a1.42 1.42 0 1 0 -2.84 0M59.39 322.26a1.42 1.42 0 1 0 2.84 0a1.42 1.42 0 1 0 -2.84 0M51.05 319.27a1.42 1.42 0 1 0 2.84 0a1.42 1.42 0 1 0 -2.84 0M73.34 307.06a1.42 1.42 0 1 0 2.84 0a1.42 1.42 0 1 0 -2.84 0M68.97 306.59a1.42 1.42 0 1 0 2.84 0a1.42 1.42 0 1 0 -2.84 0M76.5 333.71a1.42 1.42 0 1 0 2.84 0a1.42 1.42 0 1 0 -2.84 0M67.73 312.25a1.42 1.42 0 1 0 2.84 0a1.42 1.42 0 1 0 -2.84 0"/>
<path fill="#e8141a" d="M63.87 323.26a1.42 1.42 0 1 0 2.84 0a1.42 1.42 0 1 0 -2.84 0M60.87 315.22a1.42 1.42 0 1 0 2.84 0a1.42 1.42 0 1 0 -2.84 0M56.08 324.47a1.42 1.42 0 1 0 2.84 0a1.42 1.42 0 1 0 -2.84 0M55.15 319.1a1.42 1.42 0 1 0 2.84 0a1.42 1.42 0 1 0 -2.84 0M59.5 314.78a1.42 1.42 0 1 0 2.84 0a1.42 1.42 0 1 0 -2.84 0M60.19 320.31a1.42 1.42 0 1 0 2.84 0a1.42 1.42 0 1 0 -2.84 0M61.98 318.96a1.42 1.42 0 1 0 2.84 0a1.42 1.42 0 1 0 -2.84 0M52.55 325.98a1.42 1.42 0 1 0 2.84 0a1.42 1.42 0 1 0 -2.84 0M55.92 320.28a1.42 1.42 0 1 0 2.84 0a1.42 1.42 0 1 0 -2.84 0M58.43 316.8a1.42 1.42 0 1 0 2.84 0a1.42 1.42 0 1 0 -2.84 0M66.93 331.01a1.42 1.42 0 1 0 2.84 0a1.42 1.42 0 1 0 -2.84 0M47.07 327.66a1.42 1.42 0 1 0 2.84 0a1.42 1.42 0 1 0 -2.84 0M61.1 329.68a1.42 1.42 0 1 0 2.84 0a1.42 1.42 0 1 0 -2.84 0M56.2 324.94a1.42 1.42 0 1 0 2.84 0a1.42 1.42 0 1 0 -2.84 0M61.06 319.8a1.42 1.42 0 1 0 2.84 0a1.42 1.42 0 1 0 -2.84 0M56.44 317.59a1.42 1.42 0 1 0 2.84 0a1.42 1.42 0 1 0 -2.84 0M60.73 318.59a1.42 1.42 0 1 0 2.84 0a1.42 1.42 0 1 0 -2.84 0M66.74 327.37a1.42 1.42 0 1 0 2.84 0a1.42 1.42 0 1 0 -2.84 0M60.68 321.39a1.42 1.42 0 1 0 2.84 0a1.42 1.42 0 1 0 -2.84 0M61.07 309.97a1.42 1.42 0 1 0 2.84 0a1.42 1.42 0 1 0 -2.84 0"/>
<rect x="29.3" y="283.8" width="74.1" height="74.4" fill="none" stroke="#a0a0a0" stroke-width="0.7"/>
<line x1="31.8" y1="358.2" x2="31.8" y2="359.7" stroke="#555" stroke-width="0.6"/>
<text x="31.8" y="364.99" font-size="5.8" text-anchor="middle" fill="#444" stroke="#444" stroke-width="0.2">0.00</text>
<line x1="58.25" y1="358.2" x2="58.25" y2="359.7" stroke="#555" stroke-width="0.6"/>
<text x="58.25" y="364.99" font-size="5.8" text-anchor="middle" fill="#444" stroke="#444" stroke-width="0.2">0.05</text>
<line x1="84.7" y1="358.2" x2="84.7" y2="359.7" stroke="#555" stroke-width="0.6"/>
<text x="84.7" y="364.99" font-size="5.8" text-anchor="middle" fill="#444" stroke="#444" stroke-width="0.2">0.10</text>
<line x1="27.8" y1="297.5" x2="29.3" y2="297.5" stroke="#555" stroke-width="0.6"/>
<text x="26.8" y="299.59" font-size="5.8" text-anchor="end" fill="#444" stroke="#444" stroke-width="0.2">0.1</text>
<line x1="27.8" y1="315.1" x2="29.3" y2="315.1" stroke="#555" stroke-width="0.6"/>
<text x="26.8" y="317.19" font-size="5.8" text-anchor="end" fill="#444" stroke="#444" stroke-width="0.2">0.0</text>
<line x1="27.8" y1="332.7" x2="29.3" y2="332.7" stroke="#555" stroke-width="0.6"/>
<text x="26.8" y="334.79" font-size="5.8" text-anchor="end" fill="#444" stroke="#444" stroke-width="0.2">−0.1</text>
<line x1="27.8" y1="350.3" x2="29.3" y2="350.3" stroke="#555" stroke-width="0.6"/>
<text x="26.8" y="352.39" font-size="5.8" text-anchor="end" fill="#444" stroke="#444" stroke-width="0.2">−0.2</text>
<text x="66.35" y="279.59" font-size="5.8" text-anchor="middle" fill="#222" stroke="#222" stroke-width="0.2">Training</text>
<text x="66.35" y="372.03" font-size="6.2" text-anchor="middle" fill="#333" stroke="#333" stroke-width="0.2">PC1</text>
<text x="11.5" y="325.23" font-size="6.2" text-anchor="middle" fill="#333" stroke="#333" stroke-width="0.2" transform="rotate(-90 11.5 323)">PC2</text>
<text x="112" y="313.65" font-size="5.7" text-anchor="start" fill="#333" stroke="#333" stroke-width="0.2">IMMT level</text>
<path fill="#2b3c8e" d="M114.3 321.5a1.3 1.3 0 1 0 2.6 0a1.3 1.3 0 1 0 -2.6 0"/>
<text x="122.6" y="323.62" font-size="5.9" text-anchor="start" fill="#333" stroke="#333" stroke-width="0.2">Low</text>
<path fill="#e8141a" d="M114.3 329.5a1.3 1.3 0 1 0 2.6 0a1.3 1.3 0 1 0 -2.6 0"/>
<text x="122.6" y="331.62" font-size="5.9" text-anchor="start" fill="#333" stroke="#333" stroke-width="0.2">High</text>
<rect x="166.4" y="283.8" width="74.2" height="74.7" fill="#fff" stroke="none" stroke-width="1"/>
<line x1="169.3" y1="283.8" x2="169.3" y2="358.5" stroke="#ebebeb" stroke-width="0.7"/>
<line x1="191.25" y1="283.8" x2="191.25" y2="358.5" stroke="#ebebeb" stroke-width="0.7"/>
<line x1="213.2" y1="283.8" x2="213.2" y2="358.5" stroke="#ebebeb" stroke-width="0.7"/>
<line x1="235.15" y1="283.8" x2="235.15" y2="358.5" stroke="#ebebeb" stroke-width="0.7"/>
<line x1="166.4" y1="289.9" x2="240.6" y2="289.9" stroke="#ebebeb" stroke-width="0.7"/>
<line x1="166.4" y1="306.9" x2="240.6" y2="306.9" stroke="#ebebeb" stroke-width="0.7"/>
<line x1="166.4" y1="323.9" x2="240.6" y2="323.9" stroke="#ebebeb" stroke-width="0.7"/>
<line x1="166.4" y1="340.9" x2="240.6" y2="340.9" stroke="#ebebeb" stroke-width="0.7"/>
<line x1="166.4" y1="357.9" x2="240.6" y2="357.9" stroke="#ebebeb" stroke-width="0.7"/>
<path fill="#e8141a" d="M191.04 331.65a1.42 1.42 0 1 0 2.84 0a1.42 1.42 0 1 0 -2.84 0M195 332.85a1.42 1.42 0 1 0 2.84 0a1.42 1.42 0 1 0 -2.84 0M193.86 334.85a1.42 1.42 0 1 0 2.84 0a1.42 1.42 0 1 0 -2.84 0M193.79 332.79a1.42 1.42 0 1 0 2.84 0a1.42 1.42 0 1 0 -2.84 0M197.15 320.47a1.42 1.42 0 1 0 2.84 0a1.42 1.42 0 1 0 -2.84 0M186.54 327.04a1.42 1.42 0 1 0 2.84 0a1.42 1.42 0 1 0 -2.84 0M188.71 321.24a1.42 1.42 0 1 0 2.84 0a1.42 1.42 0 1 0 -2.84 0M186.11 308.7a1.42 1.42 0 1 0 2.84 0a1.42 1.42 0 1 0 -2.84 0M190.67 313.96a1.42 1.42 0 1 0 2.84 0a1.42 1.42 0 1 0 -2.84 0M194.82 342.3a1.42 1.42 0 1 0 2.84 0a1.42 1.42 0 1 0 -2.84 0M190.99 318.2a1.42 1.42 0 1 0 2.84 0a1.42 1.42 0 1 0 -2.84 0M192.93 309.74a1.42 1.42 0 1 0 2.84 0a1.42 1.42 0 1 0 -2.84 0M183.89 322.2a1.42 1.42 0 1 0 2.84 0a1.42 1.42 0 1 0 -2.84 0M191.62 338.03a1.42 1.42 0 1 0 2.84 0a1.42 1.42 0 1 0 -2.84 0M187.66 326.26a1.42 1.42 0 1 0 2.84 0a1.42 1.42 0 1 0 -2.84 0M197.74 329.67a1.42 1.42 0 1 0 2.84 0a1.42 1.42 0 1 0 -2.84 0M194.4 324.57a1.42 1.42 0 1 0 2.84 0a1.42 1.42 0 1 0 -2.84 0M194.64 325.97a1.42 1.42 0 1 0 2.84 0a1.42 1.42 0 1 0 -2.84 0M190.85 336.12a1.42 1.42 0 1 0 2.84 0a1.42 1.42 0 1 0 -2.84 0M193.37 332.58a1.42 1.42 0 1 0 2.84 0a1.42 1.42 0 1 0 -2.84 0M193.54 325.95a1.42 1.42 0 1 0 2.84 0a1.42 1.42 0 1 0 -2.84 0M189.78 333.3a1.42 1.42 0 1 0 2.84 0a1.42 1.42 0 1 0 -2.84 0M189.2 334.68a1.42 1.42 0 1 0 2.84 0a1.42 1.42 0 1 0 -2.84 0M190.64 324.95a1.42 1.42 0 1 0 2.84 0a1.42 1.42 0 1 0 -2.84 0M188.79 328.63a1.42 1.42 0 1 0 2.84 0a1.42 1.42 0 1 0 -2.84 0M188.84 328.51a1.42 1.42 0 1 0 2.84 0a1.42 1.42 0 1 0 -2.84 0M190 321.58a1.42 1.42 0 1 0 2.84 0a1.42 1.42 0 1 0 -2.84 0M188.33 335.25a1.42 1.42 0 1 0 2.84 0a1.42 1.42 0 1 0 -2.84 0M193.95 325.34a1.42 1.42 0 1 0 2.84 0a1.42 1.42 0 1 0 -2.84 0M185.07 321.94a1.42 1.42 0 1 0 2.84 0a1.42 1.42 0 1 0 -2.84 0M194.17 314a1.42 1.42 0 1 0 2.84 0a1.42 1.42 0 1 0 -2.84 0M188.72 317.09a1.42 1.42 0 1 0 2.84 0a1.42 1.42 0 1 0 -2.84 0M189.02 338.07a1.42 1.42 0 1 0 2.84 0a1.42 1.42 0 1 0 -2.84 0M185.99 318.03a1.42 1.42 0 1 0 2.84 0a1.42 1.42 0 1 0 -2.84 0M190.53 329.83a1.42 1.42 0 1 0 2.84 0a1.42 1.42 0 1 0 -2.84 0M190.14 323.84a1.42 1.42 0 1 0 2.84 0a1.42 1.42 0 1 0 -2.84 0M191.79 330.44a1.42 1.42 0 1 0 2.84 0a1.42 1.42 0 1 0 -2.84 0M189.06 331.13a1.42 1.42 0 1 0 2.84 0a1.42 1.42 0 1 0 -2.84 0M191.42 320.76a1.42 1.42 0 1 0 2.84 0a1.42 1.42 0 1 0 -2.84 0M197.91 324.4a1.42 1.42 0 1 0 2.84 0a1.42 1.42 0 1 0 -2.84 0M192.61 327.35a1.42 1.42 0 1 0 2.84 0a1.42 1.42 0 1 0 -2.84 0M188.91 327.46a1.42 1.42 0 1 0 2.84 0a1.42 1.42 0 1 0 -2.84 0M194.65 326.38a1.42 1.42 0 1 0 2.84 0a1.42 1.42 0 1 0 -2.84 0M190.59 324.24a1.42 1.42 0 1 0 2.84 0a1.42 1.42 0 1 0 -2.84 0M193.3 331.33a1.42 1.42 0 1 0 2.84 0a1.42 1.42 0 1 0 -2.84 0M193.37 336.5a1.42 1.42 0 1 0 2.84 0a1.42 1.42 0 1 0 -2.84 0M189.6 330.66a1.42 1.42 0 1 0 2.84 0a1.42 1.42 0 1 0 -2.84 0M183.81 321.03a1.42 1.42 0 1 0 2.84 0a1.42 1.42 0 1 0 -2.84 0M189.76 329.58a1.42 1.42 0 1 0 2.84 0a1.42 1.42 0 1 0 -2.84 0M193.14 327.06a1.42 1.42 0 1 0 2.84 0a1.42 1.42 0 1 0 -2.84 0M189.64 330.07a1.42 1.42 0 1 0 2.84 0a1.42 1.42 0 1 0 -2.84 0M192.72 340.47a1.42 1.42 0 1 0 2.84 0a1.42 1.42 0 1 0 -2.84 0M194.75 324.99a1.42 1.42 0 1 0 2.84 0a1.42 1.42 0 1 0 -2.84 0M189.02 326.51a1.42 1.42 0 1 0 2.84 0a1.42 1.42 0 1 0 -2.84 0M195.7 319.93a1.42 1.42 0 1 0 2.84 0a1.42 1.42 0 1 0 -2.84 0M197.17 324.43a1.42 1.42 0 1 0 2.84 0a1.42 1.42 0 1 0 -2.84 0M195.13 322.32a1.42 1.42 0 1 0 2.84 0a1.42 1.42 0 1 0 -2.84 0M195.45 338.63a1.42 1.42 0 1 0 2.84 0a1.42 1.42 0 1 0 -2.84 0M195.19 328.88a1.42 1.42 0 1 0 2.84 0a1.42 1.42 0 1 0 -2.84 0M199.54 322.3a1.42 1.42 0 1 0 2.84 0a1.42 1.42 0 1 0 -2.84 0M191.77 341.1a1.42 1.42 0 1 0 2.84 0a1.42 1.42 0 1 0 -2.84 0M191.08 316.61a1.42 1.42 0 1 0 2.84 0a1.42 1.42 0 1 0 -2.84 0M193.34 333.07a1.42 1.42 0 1 0 2.84 0a1.42 1.42 0 1 0 -2.84 0M187.66 334.24a1.42 1.42 0 1 0 2.84 0a1.42 1.42 0 1 0 -2.84 0M185.23 330.91a1.42 1.42 0 1 0 2.84 0a1.42 1.42 0 1 0 -2.84 0M187.75 324.64a1.42 1.42 0 1 0 2.84 0a1.42 1.42 0 1 0 -2.84 0M192.47 325.63a1.42 1.42 0 1 0 2.84 0a1.42 1.42 0 1 0 -2.84 0M192.85 324.02a1.42 1.42 0 1 0 2.84 0a1.42 1.42 0 1 0 -2.84 0M185.3 332.51a1.42 1.42 0 1 0 2.84 0a1.42 1.42 0 1 0 -2.84 0M183.99 309.09a1.42 1.42 0 1 0 2.84 0a1.42 1.42 0 1 0 -2.84 0M189.88 322.76a1.42 1.42 0 1 0 2.84 0a1.42 1.42 0 1 0 -2.84 0M190.36 327.74a1.42 1.42 0 1 0 2.84 0a1.42 1.42 0 1 0 -2.84 0M190.89 322.23a1.42 1.42 0 1 0 2.84 0a1.42 1.42 0 1 0 -2.84 0M193.59 312.94a1.42 1.42 0 1 0 2.84 0a1.42 1.42 0 1 0 -2.84 0M195.69 324.77a1.42 1.42 0 1 0 2.84 0a1.42 1.42 0 1 0 -2.84 0M191.94 320.92a1.42 1.42 0 1 0 2.84 0a1.42 1.42 0 1 0 -2.84 0M193.37 332.61a1.42 1.42 0 1 0 2.84 0a1.42 1.42 0 1 0 -2.84 0M186.95 337.1a1.42 1.42 0 1 0 2.84 0a1.42 1.42 0 1 0 -2.84 0M186.65 327.12a1.42 1.42 0 1 0 2.84 0a1.42 1.42 0 1 0 -2.84 0M191.96 312.06a1.42 1.42 0 1 0 2.84 0a1.42 1.42 0 1 0 -2.84 0M193.57 325.12a1.42 1.42 0 1 0 2.84 0a1.42 1.42 0 1 0 -2.84 0M193.8 319.65a1.42 1.42 0 1 0 2.84 0a1.42 1.42 0 1 0 -2.84 0M193.3 331.73a1.42 1.42 0 1 0 2.84 0a1.42 1.42 0 1 0 -2.84 0M194.02 339.31a1.42 1.42 0 1 0 2.84 0a1.42 1.42 0 1 0 -2.84 0M194.11 328.99a1.42 1.42 0 1 0 2.84 0a1.42 1.42 0 1 0 -2.84 0M184.48 341.9a1.42 1.42 0 1 0 2.84 0a1.42 1.42 0 1 0 -2.84 0M188.31 337.98a1.42 1.42 0 1 0 2.84 0a1.42 1.42 0 1 0 -2.84 0M192.78 331.84a1.42 1.42 0 1 0 2.84 0a1.42 1.42 0 1 0 -2.84 0M193.31 320.13a1.42 1.42 0 1 0 2.84 0a1.42 1.42 0 1 0 -2.84 0M185.39 328.17a1.42 1.42 0 1 0 2.84 0a1.42 1.42 0 1 0 -2.84 0M195.48 316.53a1.42 1.42 0 1 0 2.84 0a1.42 1.42 0 1 0 -2.84 0M189.42 335.25a1.42 1.42 0 1 0 2.84 0a1.42 1.42 0 1 0 -2.84 0M190.2 328.39a1.42 1.42 0 1 0 2.84 0a1.42 1.42 0 1 0 -2.84 0M192.1 337.87a1.42 1.42 0 1 0 2.84 0a1.42 1.42 0 1 0 -2.84 0M193.89 329.76a1.42 1.42 0 1 0 2.84 0a1.42 1.42 0 1 0 -2.84 0M185.68 313.04a1.42 1.42 0 1 0 2.84 0a1.42 1.42 0 1 0 -2.84 0M194.79 332.52a1.42 1.42 0 1 0 2.84 0a1.42 1.42 0 1 0 -2.84 0M191.36 334.68a1.42 1.42 0 1 0 2.84 0a1.42 1.42 0 1 0 -2.84 0M188.17 340.2a1.42 1.42 0 1 0 2.84 0a1.42 1.42 0 1 0 -2.84 0M190.04 320.39a1.42 1.42 0 1 0 2.84 0a1.42 1.42 0 1 0 -2.84 0M182.85 320.77a1.42 1.42 0 1 0 2.84 0a1.42 1.42 0 1 0 -2.84 0M188.64 328.19a1.42 1.42 0 1 0 2.84 0a1.42 1.42 0 1 0 -2.84 0M191.75 319.77a1.42 1.42 0 1 0 2.84 0a1.42 1.42 0 1 0 -2.84 0M188.4 317.34a1.42 1.42 0 1 0 2.84 0a1.42 1.42 0 1 0 -2.84 0M189.84 319.44a1.42 1.42 0 1 0 2.84 0a1.42 1.42 0 1 0 -2.84 0M190.52 347.12a1.42 1.42 0 1 0 2.84 0a1.42 1.42 0 1 0 -2.84 0M191.25 322.84a1.42 1.42 0 1 0 2.84 0a1.42 1.42 0 1 0 -2.84 0M194.91 319.9a1.42 1.42 0 1 0 2.84 0a1.42 1.42 0 1 0 -2.84 0M190.98 324.1a1.42 1.42 0 1 0 2.84 0a1.42 1.42 0 1 0 -2.84 0M190.09 327.45a1.42 1.42 0 1 0 2.84 0a1.42 1.42 0 1 0 -2.84 0M193.09 337.1a1.42 1.42 0 1 0 2.84 0a1.42 1.42 0 1 0 -2.84 0M198.88 334.49a1.42 1.42 0 1 0 2.84 0a1.42 1.42 0 1 0 -2.84 0M189.78 333.31a1.42 1.42 0 1 0 2.84 0a1.42 1.42 0 1 0 -2.84 0M193 327.71a1.42 1.42 0 1 0 2.84 0a1.42 1.42 0 1 0 -2.84 0M185.14 328.55a1.42 1.42 0 1 0 2.84 0a1.42 1.42 0 1 0 -2.84 0M196.13 322.57a1.42 1.42 0 1 0 2.84 0a1.42 1.42 0 1 0 -2.84 0M193.55 316.04a1.42 1.42 0 1 0 2.84 0a1.42 1.42 0 1 0 -2.84 0M196.08 342.68a1.42 1.42 0 1 0 2.84 0a1.42 1.42 0 1 0 -2.84 0M190.85 323.92a1.42 1.42 0 1 0 2.84 0a1.42 1.42 0 1 0 -2.84 0M187.15 334.96a1.42 1.42 0 1 0 2.84 0a1.42 1.42 0 1 0 -2.84 0M194.4 324.96a1.42 1.42 0 1 0 2.84 0a1.42 1.42 0 1 0 -2.84 0M193.9 326.65a1.42 1.42 0 1 0 2.84 0a1.42 1.42 0 1 0 -2.84 0M187.81 326.17a1.42 1.42 0 1 0 2.84 0a1.42 1.42 0 1 0 -2.84 0M185.53 316.97a1.42 1.42 0 1 0 2.84 0a1.42 1.42 0 1 0 -2.84 0M192.76 326.73a1.42 1.42 0 1 0 2.84 0a1.42 1.42 0 1 0 -2.84 0M190.43 330.17a1.42 1.42 0 1 0 2.84 0a1.42 1.42 0 1 0 -2.84 0M200.89 333.53a1.42 1.42 0 1 0 2.84 0a1.42 1.42 0 1 0 -2.84 0M188.76 331.01a1.42 1.42 0 1 0 2.84 0a1.42 1.42 0 1 0 -2.84 0M189.08 334.96a1.42 1.42 0 1 0 2.84 0a1.42 1.42 0 1 0 -2.84 0M190.65 329.5a1.42 1.42 0 1 0 2.84 0a1.42 1.42 0 1 0 -2.84 0M184.81 327.23a1.42 1.42 0 1 0 2.84 0a1.42 1.42 0 1 0 -2.84 0M187.73 312.48a1.42 1.42 0 1 0 2.84 0a1.42 1.42 0 1 0 -2.84 0M197.25 323.23a1.42 1.42 0 1 0 2.84 0a1.42 1.42 0 1 0 -2.84 0M190.58 338.93a1.42 1.42 0 1 0 2.84 0a1.42 1.42 0 1 0 -2.84 0M188.78 328.16a1.42 1.42 0 1 0 2.84 0a1.42 1.42 0 1 0 -2.84 0M186.29 333.23a1.42 1.42 0 1 0 2.84 0a1.42 1.42 0 1 0 -2.84 0M193.25 325.64a1.42 1.42 0 1 0 2.84 0a1.42 1.42 0 1 0 -2.84 0M193.54 322.17a1.42 1.42 0 1 0 2.84 0a1.42 1.42 0 1 0 -2.84 0M192.03 342.63a1.42 1.42 0 1 0 2.84 0a1.42 1.42 0 1 0 -2.84 0M189.61 329.92a1.42 1.42 0 1 0 2.84 0a1.42 1.42 0 1 0 -2.84 0M192.22 338.47a1.42 1.42 0 1 0 2.84 0a1.42 1.42 0 1 0 -2.84 0M192.5 331.22a1.42 1.42 0 1 0 2.84 0a1.42 1.42 0 1 0 -2.84 0M188.51 325.01a1.42 1.42 0 1 0 2.84 0a1.42 1.42 0 1 0 -2.84 0M193.41 310.35a1.42 1.42 0 1 0 2.84 0a1.42 1.42 0 1 0 -2.84 0M183.12 327.91a1.42 1.42 0 1 0 2.84 0a1.42 1.42 0 1 0 -2.84 0M186.22 315.44a1.42 1.42 0 1 0 2.84 0a1.42 1.42 0 1 0 -2.84 0M189.93 310.52a1.42 1.42 0 1 0 2.84 0a1.42 1.42 0 1 0 -2.84 0M190.66 336.55a1.42 1.42 0 1 0 2.84 0a1.42 1.42 0 1 0 -2.84 0M186.69 332.65a1.42 1.42 0 1 0 2.84 0a1.42 1.42 0 1 0 -2.84 0M192.31 332.04a1.42 1.42 0 1 0 2.84 0a1.42 1.42 0 1 0 -2.84 0M195.04 327.58a1.42 1.42 0 1 0 2.84 0a1.42 1.42 0 1 0 -2.84 0M192.77 326.94a1.42 1.42 0 1 0 2.84 0a1.42 1.42 0 1 0 -2.84 0M191.91 330.39a1.42 1.42 0 1 0 2.84 0a1.42 1.42 0 1 0 -2.84 0M194.18 328.37a1.42 1.42 0 1 0 2.84 0a1.42 1.42 0 1 0 -2.84 0M192.59 327.73a1.42 1.42 0 1 0 2.84 0a1.42 1.42 0 1 0 -2.84 0M186.78 332.77a1.42 1.42 0 1 0 2.84 0a1.42 1.42 0 1 0 -2.84 0M190.31 308.7a1.42 1.42 0 1 0 2.84 0a1.42 1.42 0 1 0 -2.84 0M195.92 333.9a1.42 1.42 0 1 0 2.84 0a1.42 1.42 0 1 0 -2.84 0M186.79 322.41a1.42 1.42 0 1 0 2.84 0a1.42 1.42 0 1 0 -2.84 0M191.3 333.59a1.42 1.42 0 1 0 2.84 0a1.42 1.42 0 1 0 -2.84 0M189.61 335.99a1.42 1.42 0 1 0 2.84 0a1.42 1.42 0 1 0 -2.84 0M187.69 320.79a1.42 1.42 0 1 0 2.84 0a1.42 1.42 0 1 0 -2.84 0M187.27 333.07a1.42 1.42 0 1 0 2.84 0a1.42 1.42 0 1 0 -2.84 0M191.45 332.95a1.42 1.42 0 1 0 2.84 0a1.42 1.42 0 1 0 -2.84 0M192.26 321.66a1.42 1.42 0 1 0 2.84 0a1.42 1.42 0 1 0 -2.84 0M192.23 322.92a1.42 1.42 0 1 0 2.84 0a1.42 1.42 0 1 0 -2.84 0M185.63 327.7a1.42 1.42 0 1 0 2.84 0a1.42 1.42 0 1 0 -2.84 0M189.98 310.04a1.42 1.42 0 1 0 2.84 0a1.42 1.42 0 1 0 -2.84 0M192.37 323.4a1.42 1.42 0 1 0 2.84 0a1.42 1.42 0 1 0 -2.84 0M194.63 328.14a1.42 1.42 0 1 0 2.84 0a1.42 1.42 0 1 0 -2.84 0M189.57 309.14a1.42 1.42 0 1 0 2.84 0a1.42 1.42 0 1 0 -2.84 0M184.61 321.4a1.42 1.42 0 1 0 2.84 0a1.42 1.42 0 1 0 -2.84 0M189.8 317.63a1.42 1.42 0 1 0 2.84 0a1.42 1.42 0 1 0 -2.84 0M197.99 312.23a1.42 1.42 0 1 0 2.84 0a1.42 1.42 0 1 0 -2.84 0M197.17 309.96a1.42 1.42 0 1 0 2.84 0a1.42 1.42 0 1 0 -2.84 0M190.95 317.96a1.42 1.42 0 1 0 2.84 0a1.42 1.42 0 1 0 -2.84 0M188 314.36a1.42 1.42 0 1 0 2.84 0a1.42 1.42 0 1 0 -2.84 0M191.39 319.82a1.42 1.42 0 1 0 2.84 0a1.42 1.42 0 1 0 -2.84 0M191.52 317.7a1.42 1.42 0 1 0 2.84 0a1.42 1.42 0 1 0 -2.84 0M188.54 316.76a1.42 1.42 0 1 0 2.84 0a1.42 1.42 0 1 0 -2.84 0M190.01 319.79a1.42 1.42 0 1 0 2.84 0a1.42 1.42 0 1 0 -2.84 0M194.13 317.64a1.42 1.42 0 1 0 2.84 0a1.42 1.42 0 1 0 -2.84 0M195.47 319.11a1.42 1.42 0 1 0 2.84 0a1.42 1.42 0 1 0 -2.84 0M180.96 319.35a1.42 1.42 0 1 0 2.84 0a1.42 1.42 0 1 0 -2.84 0M195.65 317.98a1.42 1.42 0 1 0 2.84 0a1.42 1.42 0 1 0 -2.84 0M192.03 319.24a1.42 1.42 0 1 0 2.84 0a1.42 1.42 0 1 0 -2.84 0M196.39 319.24a1.42 1.42 0 1 0 2.84 0a1.42 1.42 0 1 0 -2.84 0M191.36 313.44a1.42 1.42 0 1 0 2.84 0a1.42 1.42 0 1 0 -2.84 0M193.34 316.38a1.42 1.42 0 1 0 2.84 0a1.42 1.42 0 1 0 -2.84 0M198.5 316.79a1.42 1.42 0 1 0 2.84 0a1.42 1.42 0 1 0 -2.84 0M168.16 326.96a1.42 1.42 0 1 0 2.84 0a1.42 1.42 0 1 0 -2.84 0M169.05 325.17a1.42 1.42 0 1 0 2.84 0a1.42 1.42 0 1 0 -2.84 0M169.95 322.48a1.42 1.42 0 1 0 2.84 0a1.42 1.42 0 1 0 -2.84 0M171.74 320.69a1.42 1.42 0 1 0 2.84 0a1.42 1.42 0 1 0 -2.84 0M173.53 319.8a1.42 1.42 0 1 0 2.84 0a1.42 1.42 0 1 0 -2.84 0M175.32 318.01a1.42 1.42 0 1 0 2.84 0a1.42 1.42 0 1 0 -2.84 0M177.11 317.11a1.42 1.42 0 1 0 2.84 0a1.42 1.42 0 1 0 -2.84 0M178.9 316.22a1.42 1.42 0 1 0 2.84 0a1.42 1.42 0 1 0 -2.84 0M180.69 315.86a1.42 1.42 0 1 0 2.84 0a1.42 1.42 0 1 0 -2.84 0M170.84 324.27a1.42 1.42 0 1 0 2.84 0a1.42 1.42 0 1 0 -2.84 0M172.63 321.59a1.42 1.42 0 1 0 2.84 0a1.42 1.42 0 1 0 -2.84 0M169.05 327.85a1.42 1.42 0 1 0 2.84 0a1.42 1.42 0 1 0 -2.84 0M169.95 328.75a1.42 1.42 0 1 0 2.84 0a1.42 1.42 0 1 0 -2.84 0M176.21 318.9a1.42 1.42 0 1 0 2.84 0a1.42 1.42 0 1 0 -2.84 0M174.42 318.01a1.42 1.42 0 1 0 2.84 0a1.42 1.42 0 1 0 -2.84 0M178 319.8a1.42 1.42 0 1 0 2.84 0a1.42 1.42 0 1 0 -2.84 0M197.69 303.69a1.42 1.42 0 1 0 2.84 0a1.42 1.42 0 1 0 -2.84 0M205.75 304.58a1.42 1.42 0 1 0 2.84 0a1.42 1.42 0 1 0 -2.84 0M220.07 295.63a1.42 1.42 0 1 0 2.84 0a1.42 1.42 0 1 0 -2.84 0M222.75 301a1.42 1.42 0 1 0 2.84 0a1.42 1.42 0 1 0 -2.84 0M192.32 352.02a1.42 1.42 0 1 0 2.84 0a1.42 1.42 0 1 0 -2.84 0M197.69 352.91a1.42 1.42 0 1 0 2.84 0a1.42 1.42 0 1 0 -2.84 0M203.06 354.7a1.42 1.42 0 1 0 2.84 0a1.42 1.42 0 1 0 -2.84 0M206.64 354.7a1.42 1.42 0 1 0 2.84 0a1.42 1.42 0 1 0 -2.84 0M191.43 343.07a1.42 1.42 0 1 0 2.84 0a1.42 1.42 0 1 0 -2.84 0M195.9 345.75a1.42 1.42 0 1 0 2.84 0a1.42 1.42 0 1 0 -2.84 0M202.17 332.33a1.42 1.42 0 1 0 2.84 0a1.42 1.42 0 1 0 -2.84 0M200.38 326.96a1.42 1.42 0 1 0 2.84 0a1.42 1.42 0 1 0 -2.84 0M178.9 329.64a1.42 1.42 0 1 0 2.84 0a1.42 1.42 0 1 0 -2.84 0M195.01 341.28a1.42 1.42 0 1 0 2.84 0a1.42 1.42 0 1 0 -2.84 0"/>
<path fill="#2b3c8e" d="M236.17 286.68a1.42 1.42 0 1 0 2.84 0a1.42 1.42 0 1 0 -2.84 0M216.49 293.84a1.42 1.42 0 1 0 2.84 0a1.42 1.42 0 1 0 -2.84 0M225.44 302.79a1.42 1.42 0 1 0 2.84 0a1.42 1.42 0 1 0 -2.84 0M210.22 301a1.42 1.42 0 1 0 2.84 0a1.42 1.42 0 1 0 -2.84 0M203.06 306.37a1.42 1.42 0 1 0 2.84 0a1.42 1.42 0 1 0 -2.84 0M207.54 310.85a1.42 1.42 0 1 0 2.84 0a1.42 1.42 0 1 0 -2.84 0M199.48 310.85a1.42 1.42 0 1 0 2.84 0a1.42 1.42 0 1 0 -2.84 0M194.11 307.27a1.42 1.42 0 1 0 2.84 0a1.42 1.42 0 1 0 -2.84 0M186.06 313.53a1.42 1.42 0 1 0 2.84 0a1.42 1.42 0 1 0 -2.84 0M192.32 309.95a1.42 1.42 0 1 0 2.84 0a1.42 1.42 0 1 0 -2.84 0M212.01 312.64a1.42 1.42 0 1 0 2.84 0a1.42 1.42 0 1 0 -2.84 0M221.86 310.85a1.42 1.42 0 1 0 2.84 0a1.42 1.42 0 1 0 -2.84 0M223.65 315.32a1.42 1.42 0 1 0 2.84 0a1.42 1.42 0 1 0 -2.84 0M213.8 317.11a1.42 1.42 0 1 0 2.84 0a1.42 1.42 0 1 0 -2.84 0M209.33 319.8a1.42 1.42 0 1 0 2.84 0a1.42 1.42 0 1 0 -2.84 0M202.17 318.9a1.42 1.42 0 1 0 2.84 0a1.42 1.42 0 1 0 -2.84 0M212.01 323.38a1.42 1.42 0 1 0 2.84 0a1.42 1.42 0 1 0 -2.84 0M214.7 326.06a1.42 1.42 0 1 0 2.84 0a1.42 1.42 0 1 0 -2.84 0M207.54 326.96a1.42 1.42 0 1 0 2.84 0a1.42 1.42 0 1 0 -2.84 0M201.27 328.75a1.42 1.42 0 1 0 2.84 0a1.42 1.42 0 1 0 -2.84 0M217.38 331.43a1.42 1.42 0 1 0 2.84 0a1.42 1.42 0 1 0 -2.84 0M200.38 335.01a1.42 1.42 0 1 0 2.84 0a1.42 1.42 0 1 0 -2.84 0M208.43 335.91a1.42 1.42 0 1 0 2.84 0a1.42 1.42 0 1 0 -2.84 0M195.9 337.7a1.42 1.42 0 1 0 2.84 0a1.42 1.42 0 1 0 -2.84 0M200.38 341.28a1.42 1.42 0 1 0 2.84 0a1.42 1.42 0 1 0 -2.84 0M198.59 345.75a1.42 1.42 0 1 0 2.84 0a1.42 1.42 0 1 0 -2.84 0M199.48 346.65a1.42 1.42 0 1 0 2.84 0a1.42 1.42 0 1 0 -2.84 0M220.96 349.33a1.42 1.42 0 1 0 2.84 0a1.42 1.42 0 1 0 -2.84 0M231.7 346.65a1.42 1.42 0 1 0 2.84 0a1.42 1.42 0 1 0 -2.84 0M222.75 353.8a1.42 1.42 0 1 0 2.84 0a1.42 1.42 0 1 0 -2.84 0M178.9 325.17a1.42 1.42 0 1 0 2.84 0a1.42 1.42 0 1 0 -2.84 0M182.48 326.96a1.42 1.42 0 1 0 2.84 0a1.42 1.42 0 1 0 -2.84 0M187.85 332.33a1.42 1.42 0 1 0 2.84 0a1.42 1.42 0 1 0 -2.84 0M191.43 334.12a1.42 1.42 0 1 0 2.84 0a1.42 1.42 0 1 0 -2.84 0M197.69 314.43a1.42 1.42 0 1 0 2.84 0a1.42 1.42 0 1 0 -2.84 0M195.9 321.59a1.42 1.42 0 1 0 2.84 0a1.42 1.42 0 1 0 -2.84 0M204.85 322.48a1.42 1.42 0 1 0 2.84 0a1.42 1.42 0 1 0 -2.84 0M201.27 337.7a1.42 1.42 0 1 0 2.84 0a1.42 1.42 0 1 0 -2.84 0M202.17 339.49a1.42 1.42 0 1 0 2.84 0a1.42 1.42 0 1 0 -2.84 0M199.48 343.07a1.42 1.42 0 1 0 2.84 0a1.42 1.42 0 1 0 -2.84 0M197.69 342.17a1.42 1.42 0 1 0 2.84 0a1.42 1.42 0 1 0 -2.84 0M205.75 332.33a1.42 1.42 0 1 0 2.84 0a1.42 1.42 0 1 0 -2.84 0M193.22 329.64a1.42 1.42 0 1 0 2.84 0a1.42 1.42 0 1 0 -2.84 0M203.96 316.22a1.42 1.42 0 1 0 2.84 0a1.42 1.42 0 1 0 -2.84 0M207.54 305.48a1.42 1.42 0 1 0 2.84 0a1.42 1.42 0 1 0 -2.84 0M204.85 313.53a1.42 1.42 0 1 0 2.84 0a1.42 1.42 0 1 0 -2.84 0M209.33 315.32a1.42 1.42 0 1 0 2.84 0a1.42 1.42 0 1 0 -2.84 0M198.59 334.12a1.42 1.42 0 1 0 2.84 0a1.42 1.42 0 1 0 -2.84 0M201.27 343.96a1.42 1.42 0 1 0 2.84 0a1.42 1.42 0 1 0 -2.84 0M199.79 331.84a1.42 1.42 0 1 0 2.84 0a1.42 1.42 0 1 0 -2.84 0M195.02 337.61a1.42 1.42 0 1 0 2.84 0a1.42 1.42 0 1 0 -2.84 0M199.04 338.78a1.42 1.42 0 1 0 2.84 0a1.42 1.42 0 1 0 -2.84 0M202.61 319.02a1.42 1.42 0 1 0 2.84 0a1.42 1.42 0 1 0 -2.84 0M202.04 327.02a1.42 1.42 0 1 0 2.84 0a1.42 1.42 0 1 0 -2.84 0M207.28 345.31a1.42 1.42 0 1 0 2.84 0a1.42 1.42 0 1 0 -2.84 0M198.89 327.79a1.42 1.42 0 1 0 2.84 0a1.42 1.42 0 1 0 -2.84 0M199.57 331.87a1.42 1.42 0 1 0 2.84 0a1.42 1.42 0 1 0 -2.84 0M199.02 327.39a1.42 1.42 0 1 0 2.84 0a1.42 1.42 0 1 0 -2.84 0M200.03 337.76a1.42 1.42 0 1 0 2.84 0a1.42 1.42 0 1 0 -2.84 0M198.9 337.42a1.42 1.42 0 1 0 2.84 0a1.42 1.42 0 1 0 -2.84 0M193.91 349.58a1.42 1.42 0 1 0 2.84 0a1.42 1.42 0 1 0 -2.84 0"/>
<path fill="#e8141a" d="M192.32 330.59a1.42 1.42 0 1 0 2.84 0a1.42 1.42 0 1 0 -2.84 0M192.14 329.84a1.42 1.42 0 1 0 2.84 0a1.42 1.42 0 1 0 -2.84 0M186.19 319.27a1.42 1.42 0 1 0 2.84 0a1.42 1.42 0 1 0 -2.84 0M189.07 333.19a1.42 1.42 0 1 0 2.84 0a1.42 1.42 0 1 0 -2.84 0M188.02 320.21a1.42 1.42 0 1 0 2.84 0a1.42 1.42 0 1 0 -2.84 0M189.36 330.34a1.42 1.42 0 1 0 2.84 0a1.42 1.42 0 1 0 -2.84 0M185.84 335.98a1.42 1.42 0 1 0 2.84 0a1.42 1.42 0 1 0 -2.84 0M194.89 321.2a1.42 1.42 0 1 0 2.84 0a1.42 1.42 0 1 0 -2.84 0M186.76 319.74a1.42 1.42 0 1 0 2.84 0a1.42 1.42 0 1 0 -2.84 0M191.51 319.65a1.42 1.42 0 1 0 2.84 0a1.42 1.42 0 1 0 -2.84 0M186.02 341.68a1.42 1.42 0 1 0 2.84 0a1.42 1.42 0 1 0 -2.84 0M191.78 323.51a1.42 1.42 0 1 0 2.84 0a1.42 1.42 0 1 0 -2.84 0M196.47 317.46a1.42 1.42 0 1 0 2.84 0a1.42 1.42 0 1 0 -2.84 0M187.6 331.6a1.42 1.42 0 1 0 2.84 0a1.42 1.42 0 1 0 -2.84 0M191.84 324.84a1.42 1.42 0 1 0 2.84 0a1.42 1.42 0 1 0 -2.84 0M190.29 325.82a1.42 1.42 0 1 0 2.84 0a1.42 1.42 0 1 0 -2.84 0M191.55 319.25a1.42 1.42 0 1 0 2.84 0a1.42 1.42 0 1 0 -2.84 0M192.04 310.89a1.42 1.42 0 1 0 2.84 0a1.42 1.42 0 1 0 -2.84 0M188.26 321.05a1.42 1.42 0 1 0 2.84 0a1.42 1.42 0 1 0 -2.84 0M189.89 318.9a1.42 1.42 0 1 0 2.84 0a1.42 1.42 0 1 0 -2.84 0M188.42 314.98a1.42 1.42 0 1 0 2.84 0a1.42 1.42 0 1 0 -2.84 0M187.58 318.61a1.42 1.42 0 1 0 2.84 0a1.42 1.42 0 1 0 -2.84 0M186.14 319.54a1.42 1.42 0 1 0 2.84 0a1.42 1.42 0 1 0 -2.84 0M193.99 331.47a1.42 1.42 0 1 0 2.84 0a1.42 1.42 0 1 0 -2.84 0M187.89 330.79a1.42 1.42 0 1 0 2.84 0a1.42 1.42 0 1 0 -2.84 0"/>
<rect x="166.4" y="283.8" width="74.2" height="74.7" fill="none" stroke="#a0a0a0" stroke-width="0.7"/>
<line x1="169.3" y1="358.5" x2="169.3" y2="360" stroke="#555" stroke-width="0.6"/>
<text x="169.3" y="364.99" font-size="5.8" text-anchor="middle" fill="#444" stroke="#444" stroke-width="0.2">0.00</text>
<line x1="191.25" y1="358.5" x2="191.25" y2="360" stroke="#555" stroke-width="0.6"/>
<text x="191.25" y="364.99" font-size="5.8" text-anchor="middle" fill="#444" stroke="#444" stroke-width="0.2">0.05</text>
<line x1="213.2" y1="358.5" x2="213.2" y2="360" stroke="#555" stroke-width="0.6"/>
<text x="213.2" y="364.99" font-size="5.8" text-anchor="middle" fill="#444" stroke="#444" stroke-width="0.2">0.10</text>
<line x1="235.15" y1="358.5" x2="235.15" y2="360" stroke="#555" stroke-width="0.6"/>
<text x="235.15" y="364.99" font-size="5.8" text-anchor="middle" fill="#444" stroke="#444" stroke-width="0.2">0.15</text>
<line x1="164.9" y1="289.9" x2="166.4" y2="289.9" stroke="#555" stroke-width="0.6"/>
<text x="163.9" y="291.99" font-size="5.8" text-anchor="end" fill="#444" stroke="#444" stroke-width="0.2">0.2</text>
<line x1="164.9" y1="306.9" x2="166.4" y2="306.9" stroke="#555" stroke-width="0.6"/>
<text x="163.9" y="308.99" font-size="5.8" text-anchor="end" fill="#444" stroke="#444" stroke-width="0.2">0.1</text>
<line x1="164.9" y1="323.9" x2="166.4" y2="323.9" stroke="#555" stroke-width="0.6"/>
<text x="163.9" y="325.99" font-size="5.8" text-anchor="end" fill="#444" stroke="#444" stroke-width="0.2">0.0</text>
<line x1="164.9" y1="340.9" x2="166.4" y2="340.9" stroke="#555" stroke-width="0.6"/>
<text x="163.9" y="342.99" font-size="5.8" text-anchor="end" fill="#444" stroke="#444" stroke-width="0.2">−0.1</text>
<line x1="164.9" y1="357.9" x2="166.4" y2="357.9" stroke="#555" stroke-width="0.6"/>
<text x="163.9" y="359.99" font-size="5.8" text-anchor="end" fill="#444" stroke="#444" stroke-width="0.2">−0.2</text>
<text x="203.5" y="279.59" font-size="5.8" text-anchor="middle" fill="#222" stroke="#222" stroke-width="0.2">Test</text>
<text x="203.5" y="372.03" font-size="6.2" text-anchor="middle" fill="#333" stroke="#333" stroke-width="0.2">PC1</text>
<text x="148.6" y="325.38" font-size="6.2" text-anchor="middle" fill="#333" stroke="#333" stroke-width="0.2" transform="rotate(-90 148.6 323.15)">PC2</text>
<text x="249.3" y="313.65" font-size="5.7" text-anchor="start" fill="#333" stroke="#333" stroke-width="0.2">IMMT level</text>
<path fill="#2b3c8e" d="M251.6 321.5a1.3 1.3 0 1 0 2.6 0a1.3 1.3 0 1 0 -2.6 0"/>
<text x="259.9" y="323.62" font-size="5.9" text-anchor="start" fill="#333" stroke="#333" stroke-width="0.2">Low</text>
<path fill="#e8141a" d="M251.6 329.5a1.3 1.3 0 1 0 2.6 0a1.3 1.3 0 1 0 -2.6 0"/>
<text x="259.9" y="331.62" font-size="5.9" text-anchor="start" fill="#333" stroke="#333" stroke-width="0.2">High</text>
<rect x="303.4" y="283.6" width="74.4" height="74.1" fill="#fff" stroke="none" stroke-width="1"/>
<line x1="305.8" y1="283.6" x2="305.8" y2="357.7" stroke="#ebebeb" stroke-width="0.7"/>
<line x1="324.7" y1="283.6" x2="324.7" y2="357.7" stroke="#ebebeb" stroke-width="0.7"/>
<line x1="343.6" y1="283.6" x2="343.6" y2="357.7" stroke="#ebebeb" stroke-width="0.7"/>
<line x1="362.5" y1="283.6" x2="362.5" y2="357.7" stroke="#ebebeb" stroke-width="0.7"/>
<line x1="303.4" y1="300.1" x2="377.8" y2="300.1" stroke="#ebebeb" stroke-width="0.7"/>
<line x1="303.4" y1="321.4" x2="377.8" y2="321.4" stroke="#ebebeb" stroke-width="0.7"/>
<line x1="303.4" y1="342.7" x2="377.8" y2="342.7" stroke="#ebebeb" stroke-width="0.7"/>
<path fill="#e8141a" d="M337.88 335.28a1.42 1.42 0 1 0 2.84 0a1.42 1.42 0 1 0 -2.84 0M311.54 320.64a1.42 1.42 0 1 0 2.84 0a1.42 1.42 0 1 0 -2.84 0M333.21 328.41a1.42 1.42 0 1 0 2.84 0a1.42 1.42 0 1 0 -2.84 0M328.44 327.67a1.42 1.42 0 1 0 2.84 0a1.42 1.42 0 1 0 -2.84 0M335.15 331.05a1.42 1.42 0 1 0 2.84 0a1.42 1.42 0 1 0 -2.84 0M330.14 328.01a1.42 1.42 0 1 0 2.84 0a1.42 1.42 0 1 0 -2.84 0M337.88 322.42a1.42 1.42 0 1 0 2.84 0a1.42 1.42 0 1 0 -2.84 0M328.24 319.89a1.42 1.42 0 1 0 2.84 0a1.42 1.42 0 1 0 -2.84 0M325.3 312.05a1.42 1.42 0 1 0 2.84 0a1.42 1.42 0 1 0 -2.84 0M331.19 323.49a1.42 1.42 0 1 0 2.84 0a1.42 1.42 0 1 0 -2.84 0M330.39 324.73a1.42 1.42 0 1 0 2.84 0a1.42 1.42 0 1 0 -2.84 0M326.15 321.42a1.42 1.42 0 1 0 2.84 0a1.42 1.42 0 1 0 -2.84 0M326.74 322.86a1.42 1.42 0 1 0 2.84 0a1.42 1.42 0 1 0 -2.84 0M331.93 315.77a1.42 1.42 0 1 0 2.84 0a1.42 1.42 0 1 0 -2.84 0M331.85 338.19a1.42 1.42 0 1 0 2.84 0a1.42 1.42 0 1 0 -2.84 0M325.42 320.49a1.42 1.42 0 1 0 2.84 0a1.42 1.42 0 1 0 -2.84 0M326.1 316.95a1.42 1.42 0 1 0 2.84 0a1.42 1.42 0 1 0 -2.84 0M318.37 319.86a1.42 1.42 0 1 0 2.84 0a1.42 1.42 0 1 0 -2.84 0M337.09 322.69a1.42 1.42 0 1 0 2.84 0a1.42 1.42 0 1 0 -2.84 0M326.87 328.72a1.42 1.42 0 1 0 2.84 0a1.42 1.42 0 1 0 -2.84 0M335.25 307.73a1.42 1.42 0 1 0 2.84 0a1.42 1.42 0 1 0 -2.84 0M330.31 327.22a1.42 1.42 0 1 0 2.84 0a1.42 1.42 0 1 0 -2.84 0M338.51 319.73a1.42 1.42 0 1 0 2.84 0a1.42 1.42 0 1 0 -2.84 0M336.32 322.62a1.42 1.42 0 1 0 2.84 0a1.42 1.42 0 1 0 -2.84 0M329.78 330.55a1.42 1.42 0 1 0 2.84 0a1.42 1.42 0 1 0 -2.84 0M336.02 328.89a1.42 1.42 0 1 0 2.84 0a1.42 1.42 0 1 0 -2.84 0M322.97 319.32a1.42 1.42 0 1 0 2.84 0a1.42 1.42 0 1 0 -2.84 0M334.83 323.19a1.42 1.42 0 1 0 2.84 0a1.42 1.42 0 1 0 -2.84 0M320.12 336.22a1.42 1.42 0 1 0 2.84 0a1.42 1.42 0 1 0 -2.84 0M329.91 332.84a1.42 1.42 0 1 0 2.84 0a1.42 1.42 0 1 0 -2.84 0M333.79 329.58a1.42 1.42 0 1 0 2.84 0a1.42 1.42 0 1 0 -2.84 0M329.27 323.89a1.42 1.42 0 1 0 2.84 0a1.42 1.42 0 1 0 -2.84 0M326.1 330.2a1.42 1.42 0 1 0 2.84 0a1.42 1.42 0 1 0 -2.84 0M323.74 326.46a1.42 1.42 0 1 0 2.84 0a1.42 1.42 0 1 0 -2.84 0M326.23 320.2a1.42 1.42 0 1 0 2.84 0a1.42 1.42 0 1 0 -2.84 0M333.71 317.21a1.42 1.42 0 1 0 2.84 0a1.42 1.42 0 1 0 -2.84 0M332.85 327.3a1.42 1.42 0 1 0 2.84 0a1.42 1.42 0 1 0 -2.84 0M326.66 326.37a1.42 1.42 0 1 0 2.84 0a1.42 1.42 0 1 0 -2.84 0M321.38 331.83a1.42 1.42 0 1 0 2.84 0a1.42 1.42 0 1 0 -2.84 0M331.69 320.64a1.42 1.42 0 1 0 2.84 0a1.42 1.42 0 1 0 -2.84 0M320.28 333.13a1.42 1.42 0 1 0 2.84 0a1.42 1.42 0 1 0 -2.84 0M325.22 321.42a1.42 1.42 0 1 0 2.84 0a1.42 1.42 0 1 0 -2.84 0M324.12 332.16a1.42 1.42 0 1 0 2.84 0a1.42 1.42 0 1 0 -2.84 0M332.06 327.46a1.42 1.42 0 1 0 2.84 0a1.42 1.42 0 1 0 -2.84 0M329.34 320.02a1.42 1.42 0 1 0 2.84 0a1.42 1.42 0 1 0 -2.84 0M330.55 317.56a1.42 1.42 0 1 0 2.84 0a1.42 1.42 0 1 0 -2.84 0M329.53 323.04a1.42 1.42 0 1 0 2.84 0a1.42 1.42 0 1 0 -2.84 0M324.43 322.09a1.42 1.42 0 1 0 2.84 0a1.42 1.42 0 1 0 -2.84 0M330.95 330.06a1.42 1.42 0 1 0 2.84 0a1.42 1.42 0 1 0 -2.84 0M335.65 319.26a1.42 1.42 0 1 0 2.84 0a1.42 1.42 0 1 0 -2.84 0M327.87 314.05a1.42 1.42 0 1 0 2.84 0a1.42 1.42 0 1 0 -2.84 0M331.47 323.71a1.42 1.42 0 1 0 2.84 0a1.42 1.42 0 1 0 -2.84 0M327.39 336.57a1.42 1.42 0 1 0 2.84 0a1.42 1.42 0 1 0 -2.84 0M333.59 334.68a1.42 1.42 0 1 0 2.84 0a1.42 1.42 0 1 0 -2.84 0M331.65 319.72a1.42 1.42 0 1 0 2.84 0a1.42 1.42 0 1 0 -2.84 0M332.77 322.02a1.42 1.42 0 1 0 2.84 0a1.42 1.42 0 1 0 -2.84 0M329.94 325.95a1.42 1.42 0 1 0 2.84 0a1.42 1.42 0 1 0 -2.84 0M336.88 319.44a1.42 1.42 0 1 0 2.84 0a1.42 1.42 0 1 0 -2.84 0M326.13 322.21a1.42 1.42 0 1 0 2.84 0a1.42 1.42 0 1 0 -2.84 0M326.28 322.01a1.42 1.42 0 1 0 2.84 0a1.42 1.42 0 1 0 -2.84 0M324.89 316.88a1.42 1.42 0 1 0 2.84 0a1.42 1.42 0 1 0 -2.84 0M331.35 319.74a1.42 1.42 0 1 0 2.84 0a1.42 1.42 0 1 0 -2.84 0M324.73 320.62a1.42 1.42 0 1 0 2.84 0a1.42 1.42 0 1 0 -2.84 0M324.61 325.39a1.42 1.42 0 1 0 2.84 0a1.42 1.42 0 1 0 -2.84 0M331.98 316a1.42 1.42 0 1 0 2.84 0a1.42 1.42 0 1 0 -2.84 0M334.31 324.53a1.42 1.42 0 1 0 2.84 0a1.42 1.42 0 1 0 -2.84 0M331.15 317.33a1.42 1.42 0 1 0 2.84 0a1.42 1.42 0 1 0 -2.84 0M313.66 318.47a1.42 1.42 0 1 0 2.84 0a1.42 1.42 0 1 0 -2.84 0M322.95 316.39a1.42 1.42 0 1 0 2.84 0a1.42 1.42 0 1 0 -2.84 0M322.31 350.4a1.42 1.42 0 1 0 2.84 0a1.42 1.42 0 1 0 -2.84 0M321.59 332.15a1.42 1.42 0 1 0 2.84 0a1.42 1.42 0 1 0 -2.84 0M325.88 332.74a1.42 1.42 0 1 0 2.84 0a1.42 1.42 0 1 0 -2.84 0M337.83 329.21a1.42 1.42 0 1 0 2.84 0a1.42 1.42 0 1 0 -2.84 0M326.42 322.27a1.42 1.42 0 1 0 2.84 0a1.42 1.42 0 1 0 -2.84 0M324.12 324.28a1.42 1.42 0 1 0 2.84 0a1.42 1.42 0 1 0 -2.84 0M331.82 325.74a1.42 1.42 0 1 0 2.84 0a1.42 1.42 0 1 0 -2.84 0M328.44 326.79a1.42 1.42 0 1 0 2.84 0a1.42 1.42 0 1 0 -2.84 0M328.72 327.77a1.42 1.42 0 1 0 2.84 0a1.42 1.42 0 1 0 -2.84 0M324.38 333.94a1.42 1.42 0 1 0 2.84 0a1.42 1.42 0 1 0 -2.84 0M328.06 304.22a1.42 1.42 0 1 0 2.84 0a1.42 1.42 0 1 0 -2.84 0M330.4 320.15a1.42 1.42 0 1 0 2.84 0a1.42 1.42 0 1 0 -2.84 0M317.81 328.31a1.42 1.42 0 1 0 2.84 0a1.42 1.42 0 1 0 -2.84 0M319.42 321.45a1.42 1.42 0 1 0 2.84 0a1.42 1.42 0 1 0 -2.84 0M333.89 322.79a1.42 1.42 0 1 0 2.84 0a1.42 1.42 0 1 0 -2.84 0M332.6 333.7a1.42 1.42 0 1 0 2.84 0a1.42 1.42 0 1 0 -2.84 0M325.35 325.09a1.42 1.42 0 1 0 2.84 0a1.42 1.42 0 1 0 -2.84 0M322.59 335.63a1.42 1.42 0 1 0 2.84 0a1.42 1.42 0 1 0 -2.84 0M327.07 323.53a1.42 1.42 0 1 0 2.84 0a1.42 1.42 0 1 0 -2.84 0M321.66 325.4a1.42 1.42 0 1 0 2.84 0a1.42 1.42 0 1 0 -2.84 0M326.24 316.76a1.42 1.42 0 1 0 2.84 0a1.42 1.42 0 1 0 -2.84 0M336.94 310.66a1.42 1.42 0 1 0 2.84 0a1.42 1.42 0 1 0 -2.84 0M328.78 321.05a1.42 1.42 0 1 0 2.84 0a1.42 1.42 0 1 0 -2.84 0M334.33 324.23a1.42 1.42 0 1 0 2.84 0a1.42 1.42 0 1 0 -2.84 0M326.87 321.53a1.42 1.42 0 1 0 2.84 0a1.42 1.42 0 1 0 -2.84 0M330.05 314.89a1.42 1.42 0 1 0 2.84 0a1.42 1.42 0 1 0 -2.84 0M335.51 328.17a1.42 1.42 0 1 0 2.84 0a1.42 1.42 0 1 0 -2.84 0M320.9 324.29a1.42 1.42 0 1 0 2.84 0a1.42 1.42 0 1 0 -2.84 0M326.2 323.88a1.42 1.42 0 1 0 2.84 0a1.42 1.42 0 1 0 -2.84 0M327.23 318.66a1.42 1.42 0 1 0 2.84 0a1.42 1.42 0 1 0 -2.84 0M329.58 334.74a1.42 1.42 0 1 0 2.84 0a1.42 1.42 0 1 0 -2.84 0M336.41 333.6a1.42 1.42 0 1 0 2.84 0a1.42 1.42 0 1 0 -2.84 0M331.75 325.86a1.42 1.42 0 1 0 2.84 0a1.42 1.42 0 1 0 -2.84 0M320.03 323.05a1.42 1.42 0 1 0 2.84 0a1.42 1.42 0 1 0 -2.84 0M326.62 325.49a1.42 1.42 0 1 0 2.84 0a1.42 1.42 0 1 0 -2.84 0M323.27 335.05a1.42 1.42 0 1 0 2.84 0a1.42 1.42 0 1 0 -2.84 0M323.14 342.43a1.42 1.42 0 1 0 2.84 0a1.42 1.42 0 1 0 -2.84 0M338.94 323.9a1.42 1.42 0 1 0 2.84 0a1.42 1.42 0 1 0 -2.84 0M322.36 320.99a1.42 1.42 0 1 0 2.84 0a1.42 1.42 0 1 0 -2.84 0M329.34 311.81a1.42 1.42 0 1 0 2.84 0a1.42 1.42 0 1 0 -2.84 0M324.23 342.35a1.42 1.42 0 1 0 2.84 0a1.42 1.42 0 1 0 -2.84 0M332.69 316.5a1.42 1.42 0 1 0 2.84 0a1.42 1.42 0 1 0 -2.84 0M329.97 329.6a1.42 1.42 0 1 0 2.84 0a1.42 1.42 0 1 0 -2.84 0M328.75 327.13a1.42 1.42 0 1 0 2.84 0a1.42 1.42 0 1 0 -2.84 0M327.66 332.66a1.42 1.42 0 1 0 2.84 0a1.42 1.42 0 1 0 -2.84 0M334.18 318.12a1.42 1.42 0 1 0 2.84 0a1.42 1.42 0 1 0 -2.84 0M323.07 313.08a1.42 1.42 0 1 0 2.84 0a1.42 1.42 0 1 0 -2.84 0M324.17 324.81a1.42 1.42 0 1 0 2.84 0a1.42 1.42 0 1 0 -2.84 0M322.07 326.54a1.42 1.42 0 1 0 2.84 0a1.42 1.42 0 1 0 -2.84 0M335.24 331.43a1.42 1.42 0 1 0 2.84 0a1.42 1.42 0 1 0 -2.84 0M326.49 312.65a1.42 1.42 0 1 0 2.84 0a1.42 1.42 0 1 0 -2.84 0M322.5 320.81a1.42 1.42 0 1 0 2.84 0a1.42 1.42 0 1 0 -2.84 0M325.82 322.07a1.42 1.42 0 1 0 2.84 0a1.42 1.42 0 1 0 -2.84 0M341.49 314.85a1.42 1.42 0 1 0 2.84 0a1.42 1.42 0 1 0 -2.84 0M327.49 322.74a1.42 1.42 0 1 0 2.84 0a1.42 1.42 0 1 0 -2.84 0M332.63 329.12a1.42 1.42 0 1 0 2.84 0a1.42 1.42 0 1 0 -2.84 0M330.57 323.6a1.42 1.42 0 1 0 2.84 0a1.42 1.42 0 1 0 -2.84 0M328 314.28a1.42 1.42 0 1 0 2.84 0a1.42 1.42 0 1 0 -2.84 0M324.35 326.12a1.42 1.42 0 1 0 2.84 0a1.42 1.42 0 1 0 -2.84 0M326.28 329.51a1.42 1.42 0 1 0 2.84 0a1.42 1.42 0 1 0 -2.84 0M326.17 327.38a1.42 1.42 0 1 0 2.84 0a1.42 1.42 0 1 0 -2.84 0M316.21 329.06a1.42 1.42 0 1 0 2.84 0a1.42 1.42 0 1 0 -2.84 0M341.98 312.87a1.42 1.42 0 1 0 2.84 0a1.42 1.42 0 1 0 -2.84 0M333.04 326.88a1.42 1.42 0 1 0 2.84 0a1.42 1.42 0 1 0 -2.84 0M328.69 327.8a1.42 1.42 0 1 0 2.84 0a1.42 1.42 0 1 0 -2.84 0M326.98 321.33a1.42 1.42 0 1 0 2.84 0a1.42 1.42 0 1 0 -2.84 0M323.83 323.46a1.42 1.42 0 1 0 2.84 0a1.42 1.42 0 1 0 -2.84 0M333.17 318.71a1.42 1.42 0 1 0 2.84 0a1.42 1.42 0 1 0 -2.84 0M327.07 332.01a1.42 1.42 0 1 0 2.84 0a1.42 1.42 0 1 0 -2.84 0M330.64 321.85a1.42 1.42 0 1 0 2.84 0a1.42 1.42 0 1 0 -2.84 0M320.62 317.57a1.42 1.42 0 1 0 2.84 0a1.42 1.42 0 1 0 -2.84 0M330.1 325.06a1.42 1.42 0 1 0 2.84 0a1.42 1.42 0 1 0 -2.84 0M338.81 324.57a1.42 1.42 0 1 0 2.84 0a1.42 1.42 0 1 0 -2.84 0M326.51 328.26a1.42 1.42 0 1 0 2.84 0a1.42 1.42 0 1 0 -2.84 0M332.37 318.3a1.42 1.42 0 1 0 2.84 0a1.42 1.42 0 1 0 -2.84 0M328.26 319.34a1.42 1.42 0 1 0 2.84 0a1.42 1.42 0 1 0 -2.84 0M334 326.37a1.42 1.42 0 1 0 2.84 0a1.42 1.42 0 1 0 -2.84 0M333.8 338.65a1.42 1.42 0 1 0 2.84 0a1.42 1.42 0 1 0 -2.84 0M328.4 326.92a1.42 1.42 0 1 0 2.84 0a1.42 1.42 0 1 0 -2.84 0M325.07 314.8a1.42 1.42 0 1 0 2.84 0a1.42 1.42 0 1 0 -2.84 0M329.61 324.95a1.42 1.42 0 1 0 2.84 0a1.42 1.42 0 1 0 -2.84 0M328.29 318.67a1.42 1.42 0 1 0 2.84 0a1.42 1.42 0 1 0 -2.84 0M324.75 311.56a1.42 1.42 0 1 0 2.84 0a1.42 1.42 0 1 0 -2.84 0M330.52 319.29a1.42 1.42 0 1 0 2.84 0a1.42 1.42 0 1 0 -2.84 0M330.39 320.01a1.42 1.42 0 1 0 2.84 0a1.42 1.42 0 1 0 -2.84 0M323.3 326.6a1.42 1.42 0 1 0 2.84 0a1.42 1.42 0 1 0 -2.84 0M327.47 332.58a1.42 1.42 0 1 0 2.84 0a1.42 1.42 0 1 0 -2.84 0M343.76 331.38a1.42 1.42 0 1 0 2.84 0a1.42 1.42 0 1 0 -2.84 0M332.46 329.19a1.42 1.42 0 1 0 2.84 0a1.42 1.42 0 1 0 -2.84 0M328.6 320.96a1.42 1.42 0 1 0 2.84 0a1.42 1.42 0 1 0 -2.84 0M341.55 324.87a1.42 1.42 0 1 0 2.84 0a1.42 1.42 0 1 0 -2.84 0M325.62 323.57a1.42 1.42 0 1 0 2.84 0a1.42 1.42 0 1 0 -2.84 0M314.77 333.17a1.42 1.42 0 1 0 2.84 0a1.42 1.42 0 1 0 -2.84 0M317.83 319.51a1.42 1.42 0 1 0 2.84 0a1.42 1.42 0 1 0 -2.84 0M319.91 320.18a1.42 1.42 0 1 0 2.84 0a1.42 1.42 0 1 0 -2.84 0M329.47 333.75a1.42 1.42 0 1 0 2.84 0a1.42 1.42 0 1 0 -2.84 0M333.31 327.66a1.42 1.42 0 1 0 2.84 0a1.42 1.42 0 1 0 -2.84 0M316.42 320.85a1.42 1.42 0 1 0 2.84 0a1.42 1.42 0 1 0 -2.84 0M334.07 324.93a1.42 1.42 0 1 0 2.84 0a1.42 1.42 0 1 0 -2.84 0M321.48 324.83a1.42 1.42 0 1 0 2.84 0a1.42 1.42 0 1 0 -2.84 0M329.45 325.09a1.42 1.42 0 1 0 2.84 0a1.42 1.42 0 1 0 -2.84 0M330.56 329.15a1.42 1.42 0 1 0 2.84 0a1.42 1.42 0 1 0 -2.84 0M330.39 326.27a1.42 1.42 0 1 0 2.84 0a1.42 1.42 0 1 0 -2.84 0M328.11 322.62a1.42 1.42 0 1 0 2.84 0a1.42 1.42 0 1 0 -2.84 0M328.99 320.48a1.42 1.42 0 1 0 2.84 0a1.42 1.42 0 1 0 -2.84 0M321.95 312.38a1.42 1.42 0 1 0 2.84 0a1.42 1.42 0 1 0 -2.84 0M329.56 320.94a1.42 1.42 0 1 0 2.84 0a1.42 1.42 0 1 0 -2.84 0M333.33 331.43a1.42 1.42 0 1 0 2.84 0a1.42 1.42 0 1 0 -2.84 0M333.04 325.35a1.42 1.42 0 1 0 2.84 0a1.42 1.42 0 1 0 -2.84 0M342.1 319.51a1.42 1.42 0 1 0 2.84 0a1.42 1.42 0 1 0 -2.84 0M333.89 322.23a1.42 1.42 0 1 0 2.84 0a1.42 1.42 0 1 0 -2.84 0M331.97 318.16a1.42 1.42 0 1 0 2.84 0a1.42 1.42 0 1 0 -2.84 0M337 325.77a1.42 1.42 0 1 0 2.84 0a1.42 1.42 0 1 0 -2.84 0M329.36 337.16a1.42 1.42 0 1 0 2.84 0a1.42 1.42 0 1 0 -2.84 0M321.14 335.84a1.42 1.42 0 1 0 2.84 0a1.42 1.42 0 1 0 -2.84 0M316.04 331.81a1.42 1.42 0 1 0 2.84 0a1.42 1.42 0 1 0 -2.84 0M334.92 329.04a1.42 1.42 0 1 0 2.84 0a1.42 1.42 0 1 0 -2.84 0M331.12 322.35a1.42 1.42 0 1 0 2.84 0a1.42 1.42 0 1 0 -2.84 0M332.62 315.63a1.42 1.42 0 1 0 2.84 0a1.42 1.42 0 1 0 -2.84 0M326.28 323.94a1.42 1.42 0 1 0 2.84 0a1.42 1.42 0 1 0 -2.84 0M329.92 320.89a1.42 1.42 0 1 0 2.84 0a1.42 1.42 0 1 0 -2.84 0M338.18 329.39a1.42 1.42 0 1 0 2.84 0a1.42 1.42 0 1 0 -2.84 0M329.87 324.93a1.42 1.42 0 1 0 2.84 0a1.42 1.42 0 1 0 -2.84 0M322.08 320.06a1.42 1.42 0 1 0 2.84 0a1.42 1.42 0 1 0 -2.84 0M325.75 326.88a1.42 1.42 0 1 0 2.84 0a1.42 1.42 0 1 0 -2.84 0M335.51 343.26a1.42 1.42 0 1 0 2.84 0a1.42 1.42 0 1 0 -2.84 0M322.22 317.87a1.42 1.42 0 1 0 2.84 0a1.42 1.42 0 1 0 -2.84 0M314.21 331.43a1.42 1.42 0 1 0 2.84 0a1.42 1.42 0 1 0 -2.84 0M315.75 327.84a1.42 1.42 0 1 0 2.84 0a1.42 1.42 0 1 0 -2.84 0M320.88 323.25a1.42 1.42 0 1 0 2.84 0a1.42 1.42 0 1 0 -2.84 0M332.36 318.87a1.42 1.42 0 1 0 2.84 0a1.42 1.42 0 1 0 -2.84 0M328.55 324.04a1.42 1.42 0 1 0 2.84 0a1.42 1.42 0 1 0 -2.84 0M324 325.36a1.42 1.42 0 1 0 2.84 0a1.42 1.42 0 1 0 -2.84 0M321.17 329.01a1.42 1.42 0 1 0 2.84 0a1.42 1.42 0 1 0 -2.84 0M327.46 328.58a1.42 1.42 0 1 0 2.84 0a1.42 1.42 0 1 0 -2.84 0M327.21 326.03a1.42 1.42 0 1 0 2.84 0a1.42 1.42 0 1 0 -2.84 0M325.04 319.38a1.42 1.42 0 1 0 2.84 0a1.42 1.42 0 1 0 -2.84 0M326.75 325.92a1.42 1.42 0 1 0 2.84 0a1.42 1.42 0 1 0 -2.84 0M323.97 320.81a1.42 1.42 0 1 0 2.84 0a1.42 1.42 0 1 0 -2.84 0M337.75 316.98a1.42 1.42 0 1 0 2.84 0a1.42 1.42 0 1 0 -2.84 0M315.36 329.85a1.42 1.42 0 1 0 2.84 0a1.42 1.42 0 1 0 -2.84 0M328.73 319.5a1.42 1.42 0 1 0 2.84 0a1.42 1.42 0 1 0 -2.84 0M322.62 315.97a1.42 1.42 0 1 0 2.84 0a1.42 1.42 0 1 0 -2.84 0M331.86 324.46a1.42 1.42 0 1 0 2.84 0a1.42 1.42 0 1 0 -2.84 0M326.81 311.1a1.42 1.42 0 1 0 2.84 0a1.42 1.42 0 1 0 -2.84 0M330.04 323.46a1.42 1.42 0 1 0 2.84 0a1.42 1.42 0 1 0 -2.84 0M330.92 326.86a1.42 1.42 0 1 0 2.84 0a1.42 1.42 0 1 0 -2.84 0M329.17 321.09a1.42 1.42 0 1 0 2.84 0a1.42 1.42 0 1 0 -2.84 0M333.39 325.46a1.42 1.42 0 1 0 2.84 0a1.42 1.42 0 1 0 -2.84 0M320.6 338.16a1.42 1.42 0 1 0 2.84 0a1.42 1.42 0 1 0 -2.84 0M333.18 333.32a1.42 1.42 0 1 0 2.84 0a1.42 1.42 0 1 0 -2.84 0M326.89 330.05a1.42 1.42 0 1 0 2.84 0a1.42 1.42 0 1 0 -2.84 0M330.11 327.84a1.42 1.42 0 1 0 2.84 0a1.42 1.42 0 1 0 -2.84 0M336.43 320.43a1.42 1.42 0 1 0 2.84 0a1.42 1.42 0 1 0 -2.84 0M334.11 322.93a1.42 1.42 0 1 0 2.84 0a1.42 1.42 0 1 0 -2.84 0M338.72 321.96a1.42 1.42 0 1 0 2.84 0a1.42 1.42 0 1 0 -2.84 0M315.99 324.03a1.42 1.42 0 1 0 2.84 0a1.42 1.42 0 1 0 -2.84 0M322.94 324.62a1.42 1.42 0 1 0 2.84 0a1.42 1.42 0 1 0 -2.84 0M333.25 318.48a1.42 1.42 0 1 0 2.84 0a1.42 1.42 0 1 0 -2.84 0M322 334.53a1.42 1.42 0 1 0 2.84 0a1.42 1.42 0 1 0 -2.84 0M327.09 316.93a1.42 1.42 0 1 0 2.84 0a1.42 1.42 0 1 0 -2.84 0M337.24 326.24a1.42 1.42 0 1 0 2.84 0a1.42 1.42 0 1 0 -2.84 0M332.77 330.68a1.42 1.42 0 1 0 2.84 0a1.42 1.42 0 1 0 -2.84 0M322.9 323.63a1.42 1.42 0 1 0 2.84 0a1.42 1.42 0 1 0 -2.84 0M330.51 319.38a1.42 1.42 0 1 0 2.84 0a1.42 1.42 0 1 0 -2.84 0M331.54 324.03a1.42 1.42 0 1 0 2.84 0a1.42 1.42 0 1 0 -2.84 0M328.43 336.68a1.42 1.42 0 1 0 2.84 0a1.42 1.42 0 1 0 -2.84 0M327.53 327.96a1.42 1.42 0 1 0 2.84 0a1.42 1.42 0 1 0 -2.84 0M328.83 321.89a1.42 1.42 0 1 0 2.84 0a1.42 1.42 0 1 0 -2.84 0M320.01 327.68a1.42 1.42 0 1 0 2.84 0a1.42 1.42 0 1 0 -2.84 0M328.75 322.51a1.42 1.42 0 1 0 2.84 0a1.42 1.42 0 1 0 -2.84 0M322.88 311.38a1.42 1.42 0 1 0 2.84 0a1.42 1.42 0 1 0 -2.84 0M330.18 325.43a1.42 1.42 0 1 0 2.84 0a1.42 1.42 0 1 0 -2.84 0M330.37 330.72a1.42 1.42 0 1 0 2.84 0a1.42 1.42 0 1 0 -2.84 0M323.28 331.46a1.42 1.42 0 1 0 2.84 0a1.42 1.42 0 1 0 -2.84 0M331.36 323.38a1.42 1.42 0 1 0 2.84 0a1.42 1.42 0 1 0 -2.84 0M329.98 314.45a1.42 1.42 0 1 0 2.84 0a1.42 1.42 0 1 0 -2.84 0M327.84 331.75a1.42 1.42 0 1 0 2.84 0a1.42 1.42 0 1 0 -2.84 0M331.97 322.78a1.42 1.42 0 1 0 2.84 0a1.42 1.42 0 1 0 -2.84 0M326.39 328.69a1.42 1.42 0 1 0 2.84 0a1.42 1.42 0 1 0 -2.84 0M326.54 331.3a1.42 1.42 0 1 0 2.84 0a1.42 1.42 0 1 0 -2.84 0M328.49 326.05a1.42 1.42 0 1 0 2.84 0a1.42 1.42 0 1 0 -2.84 0M327.75 323.4a1.42 1.42 0 1 0 2.84 0a1.42 1.42 0 1 0 -2.84 0M334.2 319.63a1.42 1.42 0 1 0 2.84 0a1.42 1.42 0 1 0 -2.84 0M315.32 320.92a1.42 1.42 0 1 0 2.84 0a1.42 1.42 0 1 0 -2.84 0M326.4 324a1.42 1.42 0 1 0 2.84 0a1.42 1.42 0 1 0 -2.84 0M317.25 320.72a1.42 1.42 0 1 0 2.84 0a1.42 1.42 0 1 0 -2.84 0M325.24 326.19a1.42 1.42 0 1 0 2.84 0a1.42 1.42 0 1 0 -2.84 0M329.32 310.82a1.42 1.42 0 1 0 2.84 0a1.42 1.42 0 1 0 -2.84 0M327.95 317.06a1.42 1.42 0 1 0 2.84 0a1.42 1.42 0 1 0 -2.84 0M333.11 323.55a1.42 1.42 0 1 0 2.84 0a1.42 1.42 0 1 0 -2.84 0M329.61 319.15a1.42 1.42 0 1 0 2.84 0a1.42 1.42 0 1 0 -2.84 0M313.16 320.18a1.42 1.42 0 1 0 2.84 0a1.42 1.42 0 1 0 -2.84 0M321.85 316.2a1.42 1.42 0 1 0 2.84 0a1.42 1.42 0 1 0 -2.84 0M336.2 328.19a1.42 1.42 0 1 0 2.84 0a1.42 1.42 0 1 0 -2.84 0M336.21 334.54a1.42 1.42 0 1 0 2.84 0a1.42 1.42 0 1 0 -2.84 0M328.35 317.05a1.42 1.42 0 1 0 2.84 0a1.42 1.42 0 1 0 -2.84 0M319.47 331.34a1.42 1.42 0 1 0 2.84 0a1.42 1.42 0 1 0 -2.84 0M339.45 314.07a1.42 1.42 0 1 0 2.84 0a1.42 1.42 0 1 0 -2.84 0M316.51 324.63a1.42 1.42 0 1 0 2.84 0a1.42 1.42 0 1 0 -2.84 0M329.41 310.43a1.42 1.42 0 1 0 2.84 0a1.42 1.42 0 1 0 -2.84 0M327.47 326.91a1.42 1.42 0 1 0 2.84 0a1.42 1.42 0 1 0 -2.84 0M329.03 323.83a1.42 1.42 0 1 0 2.84 0a1.42 1.42 0 1 0 -2.84 0M321.41 324.62a1.42 1.42 0 1 0 2.84 0a1.42 1.42 0 1 0 -2.84 0M325.53 331.75a1.42 1.42 0 1 0 2.84 0a1.42 1.42 0 1 0 -2.84 0M333.45 327.6a1.42 1.42 0 1 0 2.84 0a1.42 1.42 0 1 0 -2.84 0M325.03 323.49a1.42 1.42 0 1 0 2.84 0a1.42 1.42 0 1 0 -2.84 0M320.22 318.23a1.42 1.42 0 1 0 2.84 0a1.42 1.42 0 1 0 -2.84 0M327.55 323.99a1.42 1.42 0 1 0 2.84 0a1.42 1.42 0 1 0 -2.84 0M328.1 319.05a1.42 1.42 0 1 0 2.84 0a1.42 1.42 0 1 0 -2.84 0M326.89 320.84a1.42 1.42 0 1 0 2.84 0a1.42 1.42 0 1 0 -2.84 0M323.36 333.43a1.42 1.42 0 1 0 2.84 0a1.42 1.42 0 1 0 -2.84 0M330.51 329.44a1.42 1.42 0 1 0 2.84 0a1.42 1.42 0 1 0 -2.84 0M326.93 325.53a1.42 1.42 0 1 0 2.84 0a1.42 1.42 0 1 0 -2.84 0M321.28 327.78a1.42 1.42 0 1 0 2.84 0a1.42 1.42 0 1 0 -2.84 0M328.78 314.06a1.42 1.42 0 1 0 2.84 0a1.42 1.42 0 1 0 -2.84 0M327.44 324.31a1.42 1.42 0 1 0 2.84 0a1.42 1.42 0 1 0 -2.84 0M328.39 312.4a1.42 1.42 0 1 0 2.84 0a1.42 1.42 0 1 0 -2.84 0M318.44 319.18a1.42 1.42 0 1 0 2.84 0a1.42 1.42 0 1 0 -2.84 0M323.46 326.03a1.42 1.42 0 1 0 2.84 0a1.42 1.42 0 1 0 -2.84 0M330.07 326.07a1.42 1.42 0 1 0 2.84 0a1.42 1.42 0 1 0 -2.84 0M332.64 328.21a1.42 1.42 0 1 0 2.84 0a1.42 1.42 0 1 0 -2.84 0M329.51 324.58a1.42 1.42 0 1 0 2.84 0a1.42 1.42 0 1 0 -2.84 0M328.53 323.87a1.42 1.42 0 1 0 2.84 0a1.42 1.42 0 1 0 -2.84 0M331.6 323.5a1.42 1.42 0 1 0 2.84 0a1.42 1.42 0 1 0 -2.84 0M333.01 332.81a1.42 1.42 0 1 0 2.84 0a1.42 1.42 0 1 0 -2.84 0M337.25 332.11a1.42 1.42 0 1 0 2.84 0a1.42 1.42 0 1 0 -2.84 0M330.3 313.84a1.42 1.42 0 1 0 2.84 0a1.42 1.42 0 1 0 -2.84 0M324.75 324.33a1.42 1.42 0 1 0 2.84 0a1.42 1.42 0 1 0 -2.84 0M330.4 332.01a1.42 1.42 0 1 0 2.84 0a1.42 1.42 0 1 0 -2.84 0M317.36 321.75a1.42 1.42 0 1 0 2.84 0a1.42 1.42 0 1 0 -2.84 0M328.18 324.89a1.42 1.42 0 1 0 2.84 0a1.42 1.42 0 1 0 -2.84 0M325.51 319.43a1.42 1.42 0 1 0 2.84 0a1.42 1.42 0 1 0 -2.84 0M327.79 315.44a1.42 1.42 0 1 0 2.84 0a1.42 1.42 0 1 0 -2.84 0M330.57 324.25a1.42 1.42 0 1 0 2.84 0a1.42 1.42 0 1 0 -2.84 0M328.22 320.62a1.42 1.42 0 1 0 2.84 0a1.42 1.42 0 1 0 -2.84 0M320.16 322.23a1.42 1.42 0 1 0 2.84 0a1.42 1.42 0 1 0 -2.84 0M326.05 313.68a1.42 1.42 0 1 0 2.84 0a1.42 1.42 0 1 0 -2.84 0M323.67 315.55a1.42 1.42 0 1 0 2.84 0a1.42 1.42 0 1 0 -2.84 0M327.88 322.31a1.42 1.42 0 1 0 2.84 0a1.42 1.42 0 1 0 -2.84 0M329.94 320.2a1.42 1.42 0 1 0 2.84 0a1.42 1.42 0 1 0 -2.84 0M322.83 326.75a1.42 1.42 0 1 0 2.84 0a1.42 1.42 0 1 0 -2.84 0M331.96 316.1a1.42 1.42 0 1 0 2.84 0a1.42 1.42 0 1 0 -2.84 0M335.01 327.73a1.42 1.42 0 1 0 2.84 0a1.42 1.42 0 1 0 -2.84 0M326.57 326.77a1.42 1.42 0 1 0 2.84 0a1.42 1.42 0 1 0 -2.84 0M331.94 323.59a1.42 1.42 0 1 0 2.84 0a1.42 1.42 0 1 0 -2.84 0M320.07 327.22a1.42 1.42 0 1 0 2.84 0a1.42 1.42 0 1 0 -2.84 0M325.13 322.38a1.42 1.42 0 1 0 2.84 0a1.42 1.42 0 1 0 -2.84 0M333.21 321.61a1.42 1.42 0 1 0 2.84 0a1.42 1.42 0 1 0 -2.84 0M318.56 322.69a1.42 1.42 0 1 0 2.84 0a1.42 1.42 0 1 0 -2.84 0M325.32 314.46a1.42 1.42 0 1 0 2.84 0a1.42 1.42 0 1 0 -2.84 0M323.23 322.56a1.42 1.42 0 1 0 2.84 0a1.42 1.42 0 1 0 -2.84 0M334.21 328.07a1.42 1.42 0 1 0 2.84 0a1.42 1.42 0 1 0 -2.84 0M334.2 312.15a1.42 1.42 0 1 0 2.84 0a1.42 1.42 0 1 0 -2.84 0M324.69 327.31a1.42 1.42 0 1 0 2.84 0a1.42 1.42 0 1 0 -2.84 0M328.7 318.55a1.42 1.42 0 1 0 2.84 0a1.42 1.42 0 1 0 -2.84 0M314.01 320.38a1.42 1.42 0 1 0 2.84 0a1.42 1.42 0 1 0 -2.84 0M332.61 323.32a1.42 1.42 0 1 0 2.84 0a1.42 1.42 0 1 0 -2.84 0M329.92 324.37a1.42 1.42 0 1 0 2.84 0a1.42 1.42 0 1 0 -2.84 0M335.17 331.74a1.42 1.42 0 1 0 2.84 0a1.42 1.42 0 1 0 -2.84 0M315.22 321.76a1.42 1.42 0 1 0 2.84 0a1.42 1.42 0 1 0 -2.84 0M329.91 334.05a1.42 1.42 0 1 0 2.84 0a1.42 1.42 0 1 0 -2.84 0M326.15 323a1.42 1.42 0 1 0 2.84 0a1.42 1.42 0 1 0 -2.84 0M314.01 325.95a1.42 1.42 0 1 0 2.84 0a1.42 1.42 0 1 0 -2.84 0M324.32 327.21a1.42 1.42 0 1 0 2.84 0a1.42 1.42 0 1 0 -2.84 0M327.61 318.36a1.42 1.42 0 1 0 2.84 0a1.42 1.42 0 1 0 -2.84 0M332.35 315.39a1.42 1.42 0 1 0 2.84 0a1.42 1.42 0 1 0 -2.84 0M329.09 323.54a1.42 1.42 0 1 0 2.84 0a1.42 1.42 0 1 0 -2.84 0M325.27 327.45a1.42 1.42 0 1 0 2.84 0a1.42 1.42 0 1 0 -2.84 0M330.43 328.56a1.42 1.42 0 1 0 2.84 0a1.42 1.42 0 1 0 -2.84 0M327.46 320.52a1.42 1.42 0 1 0 2.84 0a1.42 1.42 0 1 0 -2.84 0M324.54 334.57a1.42 1.42 0 1 0 2.84 0a1.42 1.42 0 1 0 -2.84 0M322.56 322.16a1.42 1.42 0 1 0 2.84 0a1.42 1.42 0 1 0 -2.84 0M328.84 318.56a1.42 1.42 0 1 0 2.84 0a1.42 1.42 0 1 0 -2.84 0M328.88 330.78a1.42 1.42 0 1 0 2.84 0a1.42 1.42 0 1 0 -2.84 0M337.93 331.27a1.42 1.42 0 1 0 2.84 0a1.42 1.42 0 1 0 -2.84 0M325.62 316.97a1.42 1.42 0 1 0 2.84 0a1.42 1.42 0 1 0 -2.84 0M336.66 328.8a1.42 1.42 0 1 0 2.84 0a1.42 1.42 0 1 0 -2.84 0M329.93 315.02a1.42 1.42 0 1 0 2.84 0a1.42 1.42 0 1 0 -2.84 0M334.37 323.74a1.42 1.42 0 1 0 2.84 0a1.42 1.42 0 1 0 -2.84 0M323.18 338.53a1.42 1.42 0 1 0 2.84 0a1.42 1.42 0 1 0 -2.84 0M323.35 332.13a1.42 1.42 0 1 0 2.84 0a1.42 1.42 0 1 0 -2.84 0M326.39 328.33a1.42 1.42 0 1 0 2.84 0a1.42 1.42 0 1 0 -2.84 0M332.86 328a1.42 1.42 0 1 0 2.84 0a1.42 1.42 0 1 0 -2.84 0M329 318.31a1.42 1.42 0 1 0 2.84 0a1.42 1.42 0 1 0 -2.84 0M332.1 326.01a1.42 1.42 0 1 0 2.84 0a1.42 1.42 0 1 0 -2.84 0M329.77 326.81a1.42 1.42 0 1 0 2.84 0a1.42 1.42 0 1 0 -2.84 0M333.59 317.04a1.42 1.42 0 1 0 2.84 0a1.42 1.42 0 1 0 -2.84 0M329.13 325.25a1.42 1.42 0 1 0 2.84 0a1.42 1.42 0 1 0 -2.84 0M325.24 327.55a1.42 1.42 0 1 0 2.84 0a1.42 1.42 0 1 0 -2.84 0M330.83 325.37a1.42 1.42 0 1 0 2.84 0a1.42 1.42 0 1 0 -2.84 0M328.55 326.82a1.42 1.42 0 1 0 2.84 0a1.42 1.42 0 1 0 -2.84 0M337.46 322.49a1.42 1.42 0 1 0 2.84 0a1.42 1.42 0 1 0 -2.84 0M327.21 316.59a1.42 1.42 0 1 0 2.84 0a1.42 1.42 0 1 0 -2.84 0M328.66 324.24a1.42 1.42 0 1 0 2.84 0a1.42 1.42 0 1 0 -2.84 0M326.42 311.33a1.42 1.42 0 1 0 2.84 0a1.42 1.42 0 1 0 -2.84 0M334.28 319.32a1.42 1.42 0 1 0 2.84 0a1.42 1.42 0 1 0 -2.84 0M332.77 331.28a1.42 1.42 0 1 0 2.84 0a1.42 1.42 0 1 0 -2.84 0M331.57 335.88a1.42 1.42 0 1 0 2.84 0a1.42 1.42 0 1 0 -2.84 0M321.38 326.77a1.42 1.42 0 1 0 2.84 0a1.42 1.42 0 1 0 -2.84 0M319.93 308.15a1.42 1.42 0 1 0 2.84 0a1.42 1.42 0 1 0 -2.84 0M329.49 332.94a1.42 1.42 0 1 0 2.84 0a1.42 1.42 0 1 0 -2.84 0M331.95 327.7a1.42 1.42 0 1 0 2.84 0a1.42 1.42 0 1 0 -2.84 0M336.01 322.87a1.42 1.42 0 1 0 2.84 0a1.42 1.42 0 1 0 -2.84 0M318.43 329.08a1.42 1.42 0 1 0 2.84 0a1.42 1.42 0 1 0 -2.84 0M327.16 327.75a1.42 1.42 0 1 0 2.84 0a1.42 1.42 0 1 0 -2.84 0M318.99 316.26a1.42 1.42 0 1 0 2.84 0a1.42 1.42 0 1 0 -2.84 0M322.91 315.57a1.42 1.42 0 1 0 2.84 0a1.42 1.42 0 1 0 -2.84 0M326.88 331.03a1.42 1.42 0 1 0 2.84 0a1.42 1.42 0 1 0 -2.84 0M333.24 308.99a1.42 1.42 0 1 0 2.84 0a1.42 1.42 0 1 0 -2.84 0M325.24 328.13a1.42 1.42 0 1 0 2.84 0a1.42 1.42 0 1 0 -2.84 0M324.21 326.26a1.42 1.42 0 1 0 2.84 0a1.42 1.42 0 1 0 -2.84 0M326.35 330.66a1.42 1.42 0 1 0 2.84 0a1.42 1.42 0 1 0 -2.84 0M334.82 335.72a1.42 1.42 0 1 0 2.84 0a1.42 1.42 0 1 0 -2.84 0M341.04 333.05a1.42 1.42 0 1 0 2.84 0a1.42 1.42 0 1 0 -2.84 0M319.79 334.51a1.42 1.42 0 1 0 2.84 0a1.42 1.42 0 1 0 -2.84 0M326.6 329.67a1.42 1.42 0 1 0 2.84 0a1.42 1.42 0 1 0 -2.84 0M325.76 327.6a1.42 1.42 0 1 0 2.84 0a1.42 1.42 0 1 0 -2.84 0M334.35 331.35a1.42 1.42 0 1 0 2.84 0a1.42 1.42 0 1 0 -2.84 0M330.41 324.21a1.42 1.42 0 1 0 2.84 0a1.42 1.42 0 1 0 -2.84 0M336.34 318.26a1.42 1.42 0 1 0 2.84 0a1.42 1.42 0 1 0 -2.84 0M322.64 323.77a1.42 1.42 0 1 0 2.84 0a1.42 1.42 0 1 0 -2.84 0M328.14 313.72a1.42 1.42 0 1 0 2.84 0a1.42 1.42 0 1 0 -2.84 0M325.62 320.65a1.42 1.42 0 1 0 2.84 0a1.42 1.42 0 1 0 -2.84 0M322.18 337.94a1.42 1.42 0 1 0 2.84 0a1.42 1.42 0 1 0 -2.84 0M327.22 327.72a1.42 1.42 0 1 0 2.84 0a1.42 1.42 0 1 0 -2.84 0M321.71 323.12a1.42 1.42 0 1 0 2.84 0a1.42 1.42 0 1 0 -2.84 0M339.74 320.31a1.42 1.42 0 1 0 2.84 0a1.42 1.42 0 1 0 -2.84 0M330.31 312.56a1.42 1.42 0 1 0 2.84 0a1.42 1.42 0 1 0 -2.84 0M322.61 320.7a1.42 1.42 0 1 0 2.84 0a1.42 1.42 0 1 0 -2.84 0M324.82 319.11a1.42 1.42 0 1 0 2.84 0a1.42 1.42 0 1 0 -2.84 0M328.82 311.45a1.42 1.42 0 1 0 2.84 0a1.42 1.42 0 1 0 -2.84 0M329.32 316.99a1.42 1.42 0 1 0 2.84 0a1.42 1.42 0 1 0 -2.84 0M328.38 315.23a1.42 1.42 0 1 0 2.84 0a1.42 1.42 0 1 0 -2.84 0M316.84 313.69a1.42 1.42 0 1 0 2.84 0a1.42 1.42 0 1 0 -2.84 0M337.86 316.97a1.42 1.42 0 1 0 2.84 0a1.42 1.42 0 1 0 -2.84 0M331.53 311.52a1.42 1.42 0 1 0 2.84 0a1.42 1.42 0 1 0 -2.84 0M328.81 314.77a1.42 1.42 0 1 0 2.84 0a1.42 1.42 0 1 0 -2.84 0M326.72 316.29a1.42 1.42 0 1 0 2.84 0a1.42 1.42 0 1 0 -2.84 0M331.49 311.45a1.42 1.42 0 1 0 2.84 0a1.42 1.42 0 1 0 -2.84 0M336.52 314.45a1.42 1.42 0 1 0 2.84 0a1.42 1.42 0 1 0 -2.84 0M332.52 316.9a1.42 1.42 0 1 0 2.84 0a1.42 1.42 0 1 0 -2.84 0M321.45 318.27a1.42 1.42 0 1 0 2.84 0a1.42 1.42 0 1 0 -2.84 0M320.85 312.17a1.42 1.42 0 1 0 2.84 0a1.42 1.42 0 1 0 -2.84 0M313.89 318.1a1.42 1.42 0 1 0 2.84 0a1.42 1.42 0 1 0 -2.84 0M329.43 314.26a1.42 1.42 0 1 0 2.84 0a1.42 1.42 0 1 0 -2.84 0M333.08 315.51a1.42 1.42 0 1 0 2.84 0a1.42 1.42 0 1 0 -2.84 0M336.21 313.44a1.42 1.42 0 1 0 2.84 0a1.42 1.42 0 1 0 -2.84 0M329.4 317.72a1.42 1.42 0 1 0 2.84 0a1.42 1.42 0 1 0 -2.84 0M333.65 312.94a1.42 1.42 0 1 0 2.84 0a1.42 1.42 0 1 0 -2.84 0M322.79 316.12a1.42 1.42 0 1 0 2.84 0a1.42 1.42 0 1 0 -2.84 0M331.76 316.43a1.42 1.42 0 1 0 2.84 0a1.42 1.42 0 1 0 -2.84 0M327.71 317.64a1.42 1.42 0 1 0 2.84 0a1.42 1.42 0 1 0 -2.84 0M324.3 311.86a1.42 1.42 0 1 0 2.84 0a1.42 1.42 0 1 0 -2.84 0M317.94 317.7a1.42 1.42 0 1 0 2.84 0a1.42 1.42 0 1 0 -2.84 0M335.67 315.31a1.42 1.42 0 1 0 2.84 0a1.42 1.42 0 1 0 -2.84 0M314.33 319.88a1.42 1.42 0 1 0 2.84 0a1.42 1.42 0 1 0 -2.84 0M332.35 314.1a1.42 1.42 0 1 0 2.84 0a1.42 1.42 0 1 0 -2.84 0M323.4 313.37a1.42 1.42 0 1 0 2.84 0a1.42 1.42 0 1 0 -2.84 0M332.22 315.02a1.42 1.42 0 1 0 2.84 0a1.42 1.42 0 1 0 -2.84 0M324.95 314.2a1.42 1.42 0 1 0 2.84 0a1.42 1.42 0 1 0 -2.84 0M333.13 314.65a1.42 1.42 0 1 0 2.84 0a1.42 1.42 0 1 0 -2.84 0M327.05 311.11a1.42 1.42 0 1 0 2.84 0a1.42 1.42 0 1 0 -2.84 0M321.86 308.49a1.42 1.42 0 1 0 2.84 0a1.42 1.42 0 1 0 -2.84 0M325.17 310.47a1.42 1.42 0 1 0 2.84 0a1.42 1.42 0 1 0 -2.84 0M318.31 313.29a1.42 1.42 0 1 0 2.84 0a1.42 1.42 0 1 0 -2.84 0M330.12 316.57a1.42 1.42 0 1 0 2.84 0a1.42 1.42 0 1 0 -2.84 0M334.92 314.19a1.42 1.42 0 1 0 2.84 0a1.42 1.42 0 1 0 -2.84 0M331.02 312.1a1.42 1.42 0 1 0 2.84 0a1.42 1.42 0 1 0 -2.84 0M329.06 314.69a1.42 1.42 0 1 0 2.84 0a1.42 1.42 0 1 0 -2.84 0M336.47 315.39a1.42 1.42 0 1 0 2.84 0a1.42 1.42 0 1 0 -2.84 0M305.16 321.48a1.42 1.42 0 1 0 2.84 0a1.42 1.42 0 1 0 -2.84 0M306.05 323.27a1.42 1.42 0 1 0 2.84 0a1.42 1.42 0 1 0 -2.84 0M306.95 319.69a1.42 1.42 0 1 0 2.84 0a1.42 1.42 0 1 0 -2.84 0M308.74 318.8a1.42 1.42 0 1 0 2.84 0a1.42 1.42 0 1 0 -2.84 0M310.53 317.01a1.42 1.42 0 1 0 2.84 0a1.42 1.42 0 1 0 -2.84 0M312.32 316.11a1.42 1.42 0 1 0 2.84 0a1.42 1.42 0 1 0 -2.84 0M314.11 315.22a1.42 1.42 0 1 0 2.84 0a1.42 1.42 0 1 0 -2.84 0M315.9 314.32a1.42 1.42 0 1 0 2.84 0a1.42 1.42 0 1 0 -2.84 0M307.84 325.06a1.42 1.42 0 1 0 2.84 0a1.42 1.42 0 1 0 -2.84 0M309.63 325.96a1.42 1.42 0 1 0 2.84 0a1.42 1.42 0 1 0 -2.84 0M311.42 326.85a1.42 1.42 0 1 0 2.84 0a1.42 1.42 0 1 0 -2.84 0M306.95 326.85a1.42 1.42 0 1 0 2.84 0a1.42 1.42 0 1 0 -2.84 0M312.32 323.27a1.42 1.42 0 1 0 2.84 0a1.42 1.42 0 1 0 -2.84 0M315 324.17a1.42 1.42 0 1 0 2.84 0a1.42 1.42 0 1 0 -2.84 0M316.79 327.75a1.42 1.42 0 1 0 2.84 0a1.42 1.42 0 1 0 -2.84 0M317.69 317.01a1.42 1.42 0 1 0 2.84 0a1.42 1.42 0 1 0 -2.84 0M308.74 321.48a1.42 1.42 0 1 0 2.84 0a1.42 1.42 0 1 0 -2.84 0M306.05 318.8a1.42 1.42 0 1 0 2.84 0a1.42 1.42 0 1 0 -2.84 0M329.32 347.44a1.42 1.42 0 1 0 2.84 0a1.42 1.42 0 1 0 -2.84 0M336.48 350.12a1.42 1.42 0 1 0 2.84 0a1.42 1.42 0 1 0 -2.84 0M342.75 351.02a1.42 1.42 0 1 0 2.84 0a1.42 1.42 0 1 0 -2.84 0M344.54 355.49a1.42 1.42 0 1 0 2.84 0a1.42 1.42 0 1 0 -2.84 0M333.8 302.69a1.42 1.42 0 1 0 2.84 0a1.42 1.42 0 1 0 -2.84 0M342.75 303.58a1.42 1.42 0 1 0 2.84 0a1.42 1.42 0 1 0 -2.84 0M357.07 294.63a1.42 1.42 0 1 0 2.84 0a1.42 1.42 0 1 0 -2.84 0M359.75 300a1.42 1.42 0 1 0 2.84 0a1.42 1.42 0 1 0 -2.84 0M332.01 342.07a1.42 1.42 0 1 0 2.84 0a1.42 1.42 0 1 0 -2.84 0M326.64 342.96a1.42 1.42 0 1 0 2.84 0a1.42 1.42 0 1 0 -2.84 0M337.38 345.65a1.42 1.42 0 1 0 2.84 0a1.42 1.42 0 1 0 -2.84 0M340.06 343.86a1.42 1.42 0 1 0 2.84 0a1.42 1.42 0 1 0 -2.84 0M323.06 338.49a1.42 1.42 0 1 0 2.84 0a1.42 1.42 0 1 0 -2.84 0M317.69 333.12a1.42 1.42 0 1 0 2.84 0a1.42 1.42 0 1 0 -2.84 0M315 330.43a1.42 1.42 0 1 0 2.84 0a1.42 1.42 0 1 0 -2.84 0M330.22 339.38a1.42 1.42 0 1 0 2.84 0a1.42 1.42 0 1 0 -2.84 0M338.27 336.7a1.42 1.42 0 1 0 2.84 0a1.42 1.42 0 1 0 -2.84 0"/>
<path fill="#2b3c8e" d="M373.17 286.58a1.42 1.42 0 1 0 2.84 0a1.42 1.42 0 1 0 -2.84 0M353.49 292.84a1.42 1.42 0 1 0 2.84 0a1.42 1.42 0 1 0 -2.84 0M362.44 301.79a1.42 1.42 0 1 0 2.84 0a1.42 1.42 0 1 0 -2.84 0M343.64 298.21a1.42 1.42 0 1 0 2.84 0a1.42 1.42 0 1 0 -2.84 0M348.12 300a1.42 1.42 0 1 0 2.84 0a1.42 1.42 0 1 0 -2.84 0M337.38 300.9a1.42 1.42 0 1 0 2.84 0a1.42 1.42 0 1 0 -2.84 0M330.22 306.27a1.42 1.42 0 1 0 2.84 0a1.42 1.42 0 1 0 -2.84 0M352.59 309.85a1.42 1.42 0 1 0 2.84 0a1.42 1.42 0 1 0 -2.84 0M358.86 309.85a1.42 1.42 0 1 0 2.84 0a1.42 1.42 0 1 0 -2.84 0M360.65 314.32a1.42 1.42 0 1 0 2.84 0a1.42 1.42 0 1 0 -2.84 0M348.12 315.22a1.42 1.42 0 1 0 2.84 0a1.42 1.42 0 1 0 -2.84 0M350.8 320.59a1.42 1.42 0 1 0 2.84 0a1.42 1.42 0 1 0 -2.84 0M349.01 323.27a1.42 1.42 0 1 0 2.84 0a1.42 1.42 0 1 0 -2.84 0M354.38 327.75a1.42 1.42 0 1 0 2.84 0a1.42 1.42 0 1 0 -2.84 0M355.28 331.33a1.42 1.42 0 1 0 2.84 0a1.42 1.42 0 1 0 -2.84 0M344.54 334.01a1.42 1.42 0 1 0 2.84 0a1.42 1.42 0 1 0 -2.84 0M346.33 339.38a1.42 1.42 0 1 0 2.84 0a1.42 1.42 0 1 0 -2.84 0M340.06 342.07a1.42 1.42 0 1 0 2.84 0a1.42 1.42 0 1 0 -2.84 0M343.64 345.65a1.42 1.42 0 1 0 2.84 0a1.42 1.42 0 1 0 -2.84 0M357.96 344.75a1.42 1.42 0 1 0 2.84 0a1.42 1.42 0 1 0 -2.84 0M368.7 342.96a1.42 1.42 0 1 0 2.84 0a1.42 1.42 0 1 0 -2.84 0M359.75 350.12a1.42 1.42 0 1 0 2.84 0a1.42 1.42 0 1 0 -2.84 0M335.59 338.49a1.42 1.42 0 1 0 2.84 0a1.42 1.42 0 1 0 -2.84 0M334.69 342.07a1.42 1.42 0 1 0 2.84 0a1.42 1.42 0 1 0 -2.84 0M339.17 334.91a1.42 1.42 0 1 0 2.84 0a1.42 1.42 0 1 0 -2.84 0M324.85 309.85a1.42 1.42 0 1 0 2.84 0a1.42 1.42 0 1 0 -2.84 0M321.27 313.43a1.42 1.42 0 1 0 2.84 0a1.42 1.42 0 1 0 -2.84 0M328.43 308.06a1.42 1.42 0 1 0 2.84 0a1.42 1.42 0 1 0 -2.84 0M332.9 305.37a1.42 1.42 0 1 0 2.84 0a1.42 1.42 0 1 0 -2.84 0M340.06 308.06a1.42 1.42 0 1 0 2.84 0a1.42 1.42 0 1 0 -2.84 0M343.64 311.64a1.42 1.42 0 1 0 2.84 0a1.42 1.42 0 1 0 -2.84 0M346.33 308.95a1.42 1.42 0 1 0 2.84 0a1.42 1.42 0 1 0 -2.84 0M341.85 317.01a1.42 1.42 0 1 0 2.84 0a1.42 1.42 0 1 0 -2.84 0M340.06 324.17a1.42 1.42 0 1 0 2.84 0a1.42 1.42 0 1 0 -2.84 0M344.54 325.96a1.42 1.42 0 1 0 2.84 0a1.42 1.42 0 1 0 -2.84 0M342.75 329.54a1.42 1.42 0 1 0 2.84 0a1.42 1.42 0 1 0 -2.84 0M338.27 331.33a1.42 1.42 0 1 0 2.84 0a1.42 1.42 0 1 0 -2.84 0M334.69 334.91a1.42 1.42 0 1 0 2.84 0a1.42 1.42 0 1 0 -2.84 0M337.38 340.28a1.42 1.42 0 1 0 2.84 0a1.42 1.42 0 1 0 -2.84 0M344.54 342.07a1.42 1.42 0 1 0 2.84 0a1.42 1.42 0 1 0 -2.84 0M349.91 334.91a1.42 1.42 0 1 0 2.84 0a1.42 1.42 0 1 0 -2.84 0M347.22 330.43a1.42 1.42 0 1 0 2.84 0a1.42 1.42 0 1 0 -2.84 0M345.43 318.8a1.42 1.42 0 1 0 2.84 0a1.42 1.42 0 1 0 -2.84 0M340.96 302.69a1.42 1.42 0 1 0 2.84 0a1.42 1.42 0 1 0 -2.84 0M336.48 304.48a1.42 1.42 0 1 0 2.84 0a1.42 1.42 0 1 0 -2.84 0M349.01 306.27a1.42 1.42 0 1 0 2.84 0a1.42 1.42 0 1 0 -2.84 0M339.17 312.53a1.42 1.42 0 1 0 2.84 0a1.42 1.42 0 1 0 -2.84 0M346.33 322.38a1.42 1.42 0 1 0 2.84 0a1.42 1.42 0 1 0 -2.84 0M351.7 317.01a1.42 1.42 0 1 0 2.84 0a1.42 1.42 0 1 0 -2.84 0M342.75 336.7a1.42 1.42 0 1 0 2.84 0a1.42 1.42 0 1 0 -2.84 0M337.38 309.85a1.42 1.42 0 1 0 2.84 0a1.42 1.42 0 1 0 -2.84 0M333.8 309.85a1.42 1.42 0 1 0 2.84 0a1.42 1.42 0 1 0 -2.84 0M326.64 307.16a1.42 1.42 0 1 0 2.84 0a1.42 1.42 0 1 0 -2.84 0M323.06 311.64a1.42 1.42 0 1 0 2.84 0a1.42 1.42 0 1 0 -2.84 0M357.53 323.96a1.42 1.42 0 1 0 2.84 0a1.42 1.42 0 1 0 -2.84 0M349.57 326.35a1.42 1.42 0 1 0 2.84 0a1.42 1.42 0 1 0 -2.84 0M343.71 322.24a1.42 1.42 0 1 0 2.84 0a1.42 1.42 0 1 0 -2.84 0M334.89 324.81a1.42 1.42 0 1 0 2.84 0a1.42 1.42 0 1 0 -2.84 0M341.76 323.51a1.42 1.42 0 1 0 2.84 0a1.42 1.42 0 1 0 -2.84 0M341.06 315.75a1.42 1.42 0 1 0 2.84 0a1.42 1.42 0 1 0 -2.84 0M345.68 320.66a1.42 1.42 0 1 0 2.84 0a1.42 1.42 0 1 0 -2.84 0M354.1 324.27a1.42 1.42 0 1 0 2.84 0a1.42 1.42 0 1 0 -2.84 0M342.35 310.73a1.42 1.42 0 1 0 2.84 0a1.42 1.42 0 1 0 -2.84 0M332.12 323.39a1.42 1.42 0 1 0 2.84 0a1.42 1.42 0 1 0 -2.84 0M342.08 322.44a1.42 1.42 0 1 0 2.84 0a1.42 1.42 0 1 0 -2.84 0M333.7 326.02a1.42 1.42 0 1 0 2.84 0a1.42 1.42 0 1 0 -2.84 0M347.21 324.91a1.42 1.42 0 1 0 2.84 0a1.42 1.42 0 1 0 -2.84 0M348.64 311.15a1.42 1.42 0 1 0 2.84 0a1.42 1.42 0 1 0 -2.84 0M344.51 309.09a1.42 1.42 0 1 0 2.84 0a1.42 1.42 0 1 0 -2.84 0M334.74 323.94a1.42 1.42 0 1 0 2.84 0a1.42 1.42 0 1 0 -2.84 0M341.76 320a1.42 1.42 0 1 0 2.84 0a1.42 1.42 0 1 0 -2.84 0M349.24 322.47a1.42 1.42 0 1 0 2.84 0a1.42 1.42 0 1 0 -2.84 0M337.34 315.93a1.42 1.42 0 1 0 2.84 0a1.42 1.42 0 1 0 -2.84 0M339.55 308.9a1.42 1.42 0 1 0 2.84 0a1.42 1.42 0 1 0 -2.84 0"/>
<path fill="#e8141a" d="M329.77 324.81a1.42 1.42 0 1 0 2.84 0a1.42 1.42 0 1 0 -2.84 0M327.77 321.6a1.42 1.42 0 1 0 2.84 0a1.42 1.42 0 1 0 -2.84 0M331.5 321.11a1.42 1.42 0 1 0 2.84 0a1.42 1.42 0 1 0 -2.84 0M333.89 332.91a1.42 1.42 0 1 0 2.84 0a1.42 1.42 0 1 0 -2.84 0M333.9 318.65a1.42 1.42 0 1 0 2.84 0a1.42 1.42 0 1 0 -2.84 0M333.38 325.64a1.42 1.42 0 1 0 2.84 0a1.42 1.42 0 1 0 -2.84 0M323.62 310.19a1.42 1.42 0 1 0 2.84 0a1.42 1.42 0 1 0 -2.84 0M317.84 334.42a1.42 1.42 0 1 0 2.84 0a1.42 1.42 0 1 0 -2.84 0M325.34 326.65a1.42 1.42 0 1 0 2.84 0a1.42 1.42 0 1 0 -2.84 0M322.35 312.75a1.42 1.42 0 1 0 2.84 0a1.42 1.42 0 1 0 -2.84 0M321.8 327.56a1.42 1.42 0 1 0 2.84 0a1.42 1.42 0 1 0 -2.84 0M331.68 332.47a1.42 1.42 0 1 0 2.84 0a1.42 1.42 0 1 0 -2.84 0M320.33 328.9a1.42 1.42 0 1 0 2.84 0a1.42 1.42 0 1 0 -2.84 0M332.97 324.25a1.42 1.42 0 1 0 2.84 0a1.42 1.42 0 1 0 -2.84 0M333.88 329.07a1.42 1.42 0 1 0 2.84 0a1.42 1.42 0 1 0 -2.84 0M341.73 319.12a1.42 1.42 0 1 0 2.84 0a1.42 1.42 0 1 0 -2.84 0M333.59 322.19a1.42 1.42 0 1 0 2.84 0a1.42 1.42 0 1 0 -2.84 0M338.89 321.54a1.42 1.42 0 1 0 2.84 0a1.42 1.42 0 1 0 -2.84 0M325.18 324.25a1.42 1.42 0 1 0 2.84 0a1.42 1.42 0 1 0 -2.84 0M324.97 317.24a1.42 1.42 0 1 0 2.84 0a1.42 1.42 0 1 0 -2.84 0M333.29 332.41a1.42 1.42 0 1 0 2.84 0a1.42 1.42 0 1 0 -2.84 0M321.8 323a1.42 1.42 0 1 0 2.84 0a1.42 1.42 0 1 0 -2.84 0M334.1 317.02a1.42 1.42 0 1 0 2.84 0a1.42 1.42 0 1 0 -2.84 0M327.02 322.41a1.42 1.42 0 1 0 2.84 0a1.42 1.42 0 1 0 -2.84 0M318.55 326.07a1.42 1.42 0 1 0 2.84 0a1.42 1.42 0 1 0 -2.84 0M337.66 324.06a1.42 1.42 0 1 0 2.84 0a1.42 1.42 0 1 0 -2.84 0M322.78 330.67a1.42 1.42 0 1 0 2.84 0a1.42 1.42 0 1 0 -2.84 0M340.9 321.54a1.42 1.42 0 1 0 2.84 0a1.42 1.42 0 1 0 -2.84 0M321 318.95a1.42 1.42 0 1 0 2.84 0a1.42 1.42 0 1 0 -2.84 0M324.15 326.92a1.42 1.42 0 1 0 2.84 0a1.42 1.42 0 1 0 -2.84 0M329.46 331.79a1.42 1.42 0 1 0 2.84 0a1.42 1.42 0 1 0 -2.84 0M328.46 317.73a1.42 1.42 0 1 0 2.84 0a1.42 1.42 0 1 0 -2.84 0M320.48 313.84a1.42 1.42 0 1 0 2.84 0a1.42 1.42 0 1 0 -2.84 0M328.93 319.74a1.42 1.42 0 1 0 2.84 0a1.42 1.42 0 1 0 -2.84 0M329.33 323.3a1.42 1.42 0 1 0 2.84 0a1.42 1.42 0 1 0 -2.84 0M330.67 317.32a1.42 1.42 0 1 0 2.84 0a1.42 1.42 0 1 0 -2.84 0M320.34 324.78a1.42 1.42 0 1 0 2.84 0a1.42 1.42 0 1 0 -2.84 0M325.36 318.36a1.42 1.42 0 1 0 2.84 0a1.42 1.42 0 1 0 -2.84 0M327.86 329.35a1.42 1.42 0 1 0 2.84 0a1.42 1.42 0 1 0 -2.84 0M332.43 316.32a1.42 1.42 0 1 0 2.84 0a1.42 1.42 0 1 0 -2.84 0"/>
<rect x="303.4" y="283.6" width="74.4" height="74.1" fill="none" stroke="#a0a0a0" stroke-width="0.7"/>
<line x1="305.8" y1="357.7" x2="305.8" y2="359.2" stroke="#555" stroke-width="0.6"/>
<text x="305.8" y="364.99" font-size="5.8" text-anchor="middle" fill="#444" stroke="#444" stroke-width="0.2">0.00</text>
<line x1="324.7" y1="357.7" x2="324.7" y2="359.2" stroke="#555" stroke-width="0.6"/>
<text x="324.7" y="364.99" font-size="5.8" text-anchor="middle" fill="#444" stroke="#444" stroke-width="0.2">0.03</text>
<line x1="343.6" y1="357.7" x2="343.6" y2="359.2" stroke="#555" stroke-width="0.6"/>
<text x="343.6" y="364.99" font-size="5.8" text-anchor="middle" fill="#444" stroke="#444" stroke-width="0.2">0.06</text>
<line x1="362.5" y1="357.7" x2="362.5" y2="359.2" stroke="#555" stroke-width="0.6"/>
<text x="362.5" y="364.99" font-size="5.8" text-anchor="middle" fill="#444" stroke="#444" stroke-width="0.2">0.09</text>
<line x1="301.9" y1="300.1" x2="303.4" y2="300.1" stroke="#555" stroke-width="0.6"/>
<text x="300.9" y="302.19" font-size="5.8" text-anchor="end" fill="#444" stroke="#444" stroke-width="0.2">0.1</text>
<line x1="301.9" y1="321.4" x2="303.4" y2="321.4" stroke="#555" stroke-width="0.6"/>
<text x="300.9" y="323.49" font-size="5.8" text-anchor="end" fill="#444" stroke="#444" stroke-width="0.2">0.0</text>
<line x1="301.9" y1="342.7" x2="303.4" y2="342.7" stroke="#555" stroke-width="0.6"/>
<text x="300.9" y="344.79" font-size="5.8" text-anchor="end" fill="#444" stroke="#444" stroke-width="0.2">−0.1</text>
<text x="340.6" y="279.59" font-size="5.8" text-anchor="middle" fill="#222" stroke="#222" stroke-width="0.2">TCGA</text>
<text x="340.6" y="372.03" font-size="6.2" text-anchor="middle" fill="#333" stroke="#333" stroke-width="0.2">PC1</text>
<text x="285.6" y="324.88" font-size="6.2" text-anchor="middle" fill="#333" stroke="#333" stroke-width="0.2" transform="rotate(-90 285.6 322.65)">PC2</text>
<text x="386" y="309.35" font-size="5.7" text-anchor="start" fill="#333" stroke="#333" stroke-width="0.2">IMMT level</text>
<path fill="#2b3c8e" d="M388.3 317.4a1.3 1.3 0 1 0 2.6 0a1.3 1.3 0 1 0 -2.6 0"/>
<text x="396.6" y="319.52" font-size="5.9" text-anchor="start" fill="#333" stroke="#333" stroke-width="0.2">Low</text>
<path fill="#e8141a" d="M388.3 325.4a1.3 1.3 0 1 0 2.6 0a1.3 1.3 0 1 0 -2.6 0"/>
<text x="396.6" y="327.52" font-size="5.9" text-anchor="start" fill="#333" stroke="#333" stroke-width="0.2">High</text>
<text x="396.6" y="335.72" font-size="5.9" text-anchor="start" fill="#333" stroke="#333" stroke-width="0.2">NA</text>
<rect x="30.2" y="386.2" width="73.1" height="63.6" fill="#fff" stroke="none" stroke-width="1"/>
<line x1="49.3" y1="386.2" x2="49.3" y2="449.8" stroke="#ececec" stroke-width="0.6"/>
<line x1="70.55" y1="386.2" x2="70.55" y2="449.8" stroke="#ececec" stroke-width="0.6"/>
<line x1="91.8" y1="386.2" x2="91.8" y2="449.8" stroke="#ececec" stroke-width="0.6"/>
<line x1="30.2" y1="441.4" x2="103.3" y2="441.4" stroke="#ececec" stroke-width="0.6"/>
<line x1="30.2" y1="430.72" x2="103.3" y2="430.72" stroke="#ececec" stroke-width="0.6"/>
<line x1="30.2" y1="420.04" x2="103.3" y2="420.04" stroke="#ececec" stroke-width="0.6"/>
<line x1="30.2" y1="409.36" x2="103.3" y2="409.36" stroke="#ececec" stroke-width="0.6"/>
<line x1="30.2" y1="398.68" x2="103.3" y2="398.68" stroke="#ececec" stroke-width="0.6"/>
<line x1="30.2" y1="388" x2="103.3" y2="388" stroke="#ececec" stroke-width="0.6"/>
<path d="M33.5 421.6 Q50.52 426.4 101.6 428.4 L101.6 446 Q50.52 427.6 33.5 425.6Z" fill="#cfcfcf"/>
<path fill="#1c4d92" d="M47.89 430.32h1.7v1.7h-1.7zM53.45 418.48h1.7v1.7h-1.7zM37.52 432.77h1.7v1.7h-1.7zM54.3 432.54h1.7v1.7h-1.7zM45.93 428.75h1.7v1.7h-1.7zM42.29 432.96h1.7v1.7h-1.7zM42.27 433.34h1.7v1.7h-1.7zM40.92 425.37h1.7v1.7h-1.7zM45.07 431.95h1.7v1.7h-1.7zM50.18 430.47h1.7v1.7h-1.7zM48.98 430.24h1.7v1.7h-1.7zM49.24 424.97h1.7v1.7h-1.7zM37.96 423.86h1.7v1.7h-1.7zM38.56 428.91h1.7v1.7h-1.7zM53.66 437.84h1.7v1.7h-1.7zM50.84 441.42h1.7v1.7h-1.7zM56.7 424.71h1.7v1.7h-1.7zM52 418.43h1.7v1.7h-1.7zM41.2 424.97h1.7v1.7h-1.7zM52.37 420.44h1.7v1.7h-1.7zM49.19 424.28h1.7v1.7h-1.7zM47.19 430.81h1.7v1.7h-1.7zM42.19 419.71h1.7v1.7h-1.7zM46.17 432.25h1.7v1.7h-1.7zM45.44 433.49h1.7v1.7h-1.7zM50.47 438.42h1.7v1.7h-1.7zM46.76 440.48h1.7v1.7h-1.7zM53.81 434.89h1.7v1.7h-1.7zM42.41 441.56h1.7v1.7h-1.7zM48.43 423.52h1.7v1.7h-1.7zM48.56 429.99h1.7v1.7h-1.7zM41.98 429.28h1.7v1.7h-1.7zM40.45 431.09h1.7v1.7h-1.7zM51.05 435.08h1.7v1.7h-1.7zM48.65 425.14h1.7v1.7h-1.7zM45.37 439.76h1.7v1.7h-1.7zM48.06 436.79h1.7v1.7h-1.7zM42.89 430.51h1.7v1.7h-1.7zM47.31 431.32h1.7v1.7h-1.7zM43.23 419.26h1.7v1.7h-1.7zM47.07 405.37h1.7v1.7h-1.7zM50.92 427.36h1.7v1.7h-1.7zM44.51 430.31h1.7v1.7h-1.7zM50.26 429.71h1.7v1.7h-1.7zM41.16 418.1h1.7v1.7h-1.7zM44.76 424.05h1.7v1.7h-1.7zM39.56 440.07h1.7v1.7h-1.7zM45.67 433.11h1.7v1.7h-1.7zM46.53 432.35h1.7v1.7h-1.7zM45.2 425.36h1.7v1.7h-1.7zM44.86 433.19h1.7v1.7h-1.7zM52.63 436.9h1.7v1.7h-1.7zM53.03 433.32h1.7v1.7h-1.7zM40.28 424.5h1.7v1.7h-1.7zM51.83 430.11h1.7v1.7h-1.7zM37.83 420.17h1.7v1.7h-1.7zM42.6 425.43h1.7v1.7h-1.7zM45.32 432.2h1.7v1.7h-1.7zM46.69 423.34h1.7v1.7h-1.7zM41.09 426.11h1.7v1.7h-1.7zM42.66 437.9h1.7v1.7h-1.7zM46.52 426.69h1.7v1.7h-1.7zM42.8 433.38h1.7v1.7h-1.7zM43.06 425.49h1.7v1.7h-1.7zM49.37 417.85h1.7v1.7h-1.7zM50.66 428.23h1.7v1.7h-1.7zM45.86 424.95h1.7v1.7h-1.7zM46.24 409.89h1.7v1.7h-1.7zM46.06 417.27h1.7v1.7h-1.7zM43.96 424.4h1.7v1.7h-1.7zM43.68 438.17h1.7v1.7h-1.7zM41.14 423h1.7v1.7h-1.7zM49.29 427.95h1.7v1.7h-1.7zM45.75 432.46h1.7v1.7h-1.7zM45.49 430.17h1.7v1.7h-1.7zM47.12 425.16h1.7v1.7h-1.7zM48.72 439.69h1.7v1.7h-1.7zM53.02 437.25h1.7v1.7h-1.7zM44.83 406.01h1.7v1.7h-1.7zM44.22 434.69h1.7v1.7h-1.7zM47.12 431.88h1.7v1.7h-1.7zM42.07 434.82h1.7v1.7h-1.7zM52.3 428.81h1.7v1.7h-1.7zM50.63 433.78h1.7v1.7h-1.7zM49.51 441.21h1.7v1.7h-1.7zM45.58 439.76h1.7v1.7h-1.7zM49.73 440.28h1.7v1.7h-1.7zM51.23 435.32h1.7v1.7h-1.7zM48.57 434.44h1.7v1.7h-1.7zM44.8 434.57h1.7v1.7h-1.7zM38.01 418.06h1.7v1.7h-1.7zM50.73 441.55h1.7v1.7h-1.7zM44.45 429.81h1.7v1.7h-1.7zM42.08 430.4h1.7v1.7h-1.7zM50.46 429.02h1.7v1.7h-1.7zM47.79 431.41h1.7v1.7h-1.7zM39.3 408.93h1.7v1.7h-1.7zM45.68 429.76h1.7v1.7h-1.7zM44.85 416.71h1.7v1.7h-1.7zM50.95 419.27h1.7v1.7h-1.7zM37 411.31h1.7v1.7h-1.7zM44.29 412.6h1.7v1.7h-1.7zM45.49 432.16h1.7v1.7h-1.7zM53.01 423.78h1.7v1.7h-1.7zM40.92 427.29h1.7v1.7h-1.7zM34.47 426.67h1.7v1.7h-1.7zM39.47 417.64h1.7v1.7h-1.7zM47.43 421.76h1.7v1.7h-1.7zM50.07 416.73h1.7v1.7h-1.7zM54.53 425.37h1.7v1.7h-1.7zM48.09 407.96h1.7v1.7h-1.7zM42.28 424.6h1.7v1.7h-1.7zM50.43 434.31h1.7v1.7h-1.7zM46.1 436.31h1.7v1.7h-1.7zM45.18 435.89h1.7v1.7h-1.7zM46.24 431.5h1.7v1.7h-1.7zM52.31 418.99h1.7v1.7h-1.7zM41.8 434.27h1.7v1.7h-1.7zM41.21 431.65h1.7v1.7h-1.7zM45.83 429.93h1.7v1.7h-1.7zM45.83 417.08h1.7v1.7h-1.7zM42.22 430.77h1.7v1.7h-1.7zM41.9 437.67h1.7v1.7h-1.7zM47.98 433.14h1.7v1.7h-1.7zM52.62 426.05h1.7v1.7h-1.7zM49.6 431.81h1.7v1.7h-1.7zM49.46 428.15h1.7v1.7h-1.7zM52.17 429.33h1.7v1.7h-1.7zM36.53 433.84h1.7v1.7h-1.7zM38.85 430.44h1.7v1.7h-1.7zM42.74 428.61h1.7v1.7h-1.7zM40.38 430.72h1.7v1.7h-1.7zM41.37 420.64h1.7v1.7h-1.7zM46.49 419.03h1.7v1.7h-1.7zM39.95 431.39h1.7v1.7h-1.7zM44.01 422.71h1.7v1.7h-1.7zM36.28 431.9h1.7v1.7h-1.7zM41.45 411.32h1.7v1.7h-1.7zM52.66 436.21h1.7v1.7h-1.7zM43.53 427.2h1.7v1.7h-1.7zM47.72 439.37h1.7v1.7h-1.7zM49.58 405.52h1.7v1.7h-1.7zM43.78 412.77h1.7v1.7h-1.7zM48.95 437.61h1.7v1.7h-1.7zM47.19 429.18h1.7v1.7h-1.7zM49.52 430.18h1.7v1.7h-1.7zM43.08 428.97h1.7v1.7h-1.7zM39.19 429.21h1.7v1.7h-1.7zM41.21 431.77h1.7v1.7h-1.7zM43.47 418.94h1.7v1.7h-1.7zM48.74 426.62h1.7v1.7h-1.7zM45.17 436.93h1.7v1.7h-1.7zM44.23 429.36h1.7v1.7h-1.7zM45.29 422.49h1.7v1.7h-1.7zM51.47 428.79h1.7v1.7h-1.7zM43.37 435.2h1.7v1.7h-1.7zM53.46 426.34h1.7v1.7h-1.7zM40.22 426.54h1.7v1.7h-1.7zM43.29 431.47h1.7v1.7h-1.7zM50.29 433.9h1.7v1.7h-1.7zM48.66 438.13h1.7v1.7h-1.7zM42.02 426.99h1.7v1.7h-1.7zM45.63 430.51h1.7v1.7h-1.7zM42.73 435.22h1.7v1.7h-1.7zM50.27 410.82h1.7v1.7h-1.7zM48.76 429.14h1.7v1.7h-1.7zM42.71 431.3h1.7v1.7h-1.7zM48.07 427.45h1.7v1.7h-1.7zM44.38 420.44h1.7v1.7h-1.7zM45.81 432.15h1.7v1.7h-1.7zM46.47 436.6h1.7v1.7h-1.7zM43.43 427.43h1.7v1.7h-1.7zM48.21 423.84h1.7v1.7h-1.7zM48.38 426.29h1.7v1.7h-1.7zM48.21 438.75h1.7v1.7h-1.7zM51.49 436.64h1.7v1.7h-1.7zM44.84 428.53h1.7v1.7h-1.7zM38.99 418.27h1.7v1.7h-1.7zM43.79 416.73h1.7v1.7h-1.7zM47.12 425.35h1.7v1.7h-1.7zM46.26 425.42h1.7v1.7h-1.7zM48.95 430.06h1.7v1.7h-1.7zM50.05 417.98h1.7v1.7h-1.7zM45.59 427.18h1.7v1.7h-1.7zM45.62 431.88h1.7v1.7h-1.7zM41.38 412.91h1.7v1.7h-1.7zM51.15 441.45h1.7v1.7h-1.7zM44.88 432.18h1.7v1.7h-1.7zM40.92 431.85h1.7v1.7h-1.7zM40.77 416.44h1.7v1.7h-1.7zM44.15 418.98h1.7v1.7h-1.7zM53.67 435.2h1.7v1.7h-1.7zM49.89 434.32h1.7v1.7h-1.7zM37.97 406.1h1.7v1.7h-1.7zM45.56 436.14h1.7v1.7h-1.7zM47.43 433.26h1.7v1.7h-1.7zM49.18 432.55h1.7v1.7h-1.7zM47.81 418.24h1.7v1.7h-1.7zM43.06 430.08h1.7v1.7h-1.7zM48.14 422.87h1.7v1.7h-1.7zM43.48 432.15h1.7v1.7h-1.7zM35.33 440.84h1.7v1.7h-1.7zM42.73 432.71h1.7v1.7h-1.7zM42.84 435.26h1.7v1.7h-1.7zM50.76 425.6h1.7v1.7h-1.7zM51.26 419.1h1.7v1.7h-1.7zM41.1 428.47h1.7v1.7h-1.7zM46.99 435.42h1.7v1.7h-1.7zM46.59 438.36h1.7v1.7h-1.7zM39.22 427.95h1.7v1.7h-1.7zM36.23 430.12h1.7v1.7h-1.7zM45.71 424.85h1.7v1.7h-1.7zM46.81 412.77h1.7v1.7h-1.7zM43.28 428.99h1.7v1.7h-1.7zM33.91 430.77h1.7v1.7h-1.7zM46.01 424.72h1.7v1.7h-1.7zM43.36 426.94h1.7v1.7h-1.7zM41.86 412.02h1.7v1.7h-1.7zM44.59 428.81h1.7v1.7h-1.7zM40.7 437.8h1.7v1.7h-1.7zM48.86 428.26h1.7v1.7h-1.7zM46.21 432.47h1.7v1.7h-1.7zM43.45 431.44h1.7v1.7h-1.7zM47.52 421.59h1.7v1.7h-1.7zM46 429.85h1.7v1.7h-1.7zM38.82 421.03h1.7v1.7h-1.7zM45.46 439.91h1.7v1.7h-1.7zM43.94 429.82h1.7v1.7h-1.7zM37.74 418.55h1.7v1.7h-1.7zM43 414.47h1.7v1.7h-1.7zM48.21 438.55h1.7v1.7h-1.7zM43.16 432.59h1.7v1.7h-1.7zM52.96 431.12h1.7v1.7h-1.7zM54.36 416.05h1.7v1.7h-1.7zM44.67 423.37h1.7v1.7h-1.7zM48.83 417.4h1.7v1.7h-1.7zM55.78 435.88h1.7v1.7h-1.7zM44.55 423.72h1.7v1.7h-1.7zM41.81 441.5h1.7v1.7h-1.7zM44.11 431.94h1.7v1.7h-1.7zM39.51 425.57h1.7v1.7h-1.7zM39.63 437.52h1.7v1.7h-1.7zM47.16 409.29h1.7v1.7h-1.7zM44.14 420.89h1.7v1.7h-1.7zM47.34 424.84h1.7v1.7h-1.7zM48.51 435.67h1.7v1.7h-1.7zM42.46 435.72h1.7v1.7h-1.7zM45.21 430.83h1.7v1.7h-1.7zM44.85 412.24h1.7v1.7h-1.7zM42.92 423.67h1.7v1.7h-1.7zM42.11 418.41h1.7v1.7h-1.7zM47.68 436.89h1.7v1.7h-1.7zM45.48 424.48h1.7v1.7h-1.7zM47.76 432.41h1.7v1.7h-1.7zM50.99 441.02h1.7v1.7h-1.7zM51.06 427.84h1.7v1.7h-1.7zM40.78 433.16h1.7v1.7h-1.7zM42.02 425h1.7v1.7h-1.7zM44.92 428.73h1.7v1.7h-1.7zM46.75 428.7h1.7v1.7h-1.7zM50.69 428.51h1.7v1.7h-1.7zM41.5 428.88h1.7v1.7h-1.7zM44.04 424.91h1.7v1.7h-1.7zM47.35 441.1h1.7v1.7h-1.7zM52.09 422.57h1.7v1.7h-1.7zM52.82 430.09h1.7v1.7h-1.7zM41.29 425.79h1.7v1.7h-1.7zM45.13 407.77h1.7v1.7h-1.7zM42.25 435h1.7v1.7h-1.7zM50.25 429.97h1.7v1.7h-1.7zM48.31 415.89h1.7v1.7h-1.7zM44.42 421.8h1.7v1.7h-1.7zM43.2 413.68h1.7v1.7h-1.7zM47.58 430.31h1.7v1.7h-1.7zM50.89 438.98h1.7v1.7h-1.7zM42.44 436.64h1.7v1.7h-1.7zM44.59 416.58h1.7v1.7h-1.7zM46.7 412.63h1.7v1.7h-1.7zM46.24 431.94h1.7v1.7h-1.7zM47.79 439.79h1.7v1.7h-1.7zM41.32 428.68h1.7v1.7h-1.7zM43.28 435.47h1.7v1.7h-1.7zM36 415.61h1.7v1.7h-1.7zM46.42 427.37h1.7v1.7h-1.7zM51.33 431.31h1.7v1.7h-1.7zM36.21 424.6h1.7v1.7h-1.7zM43.1 426.29h1.7v1.7h-1.7zM50.5 432.95h1.7v1.7h-1.7zM45.46 422.63h1.7v1.7h-1.7zM37 419.23h1.7v1.7h-1.7zM51.8 433.36h1.7v1.7h-1.7zM39.26 429.93h1.7v1.7h-1.7zM52.78 419.19h1.7v1.7h-1.7zM43.33 431.22h1.7v1.7h-1.7zM42.74 423.17h1.7v1.7h-1.7zM46.28 432.61h1.7v1.7h-1.7zM46.05 428.2h1.7v1.7h-1.7zM49.06 425.68h1.7v1.7h-1.7zM48.58 421.21h1.7v1.7h-1.7zM45.44 429.63h1.7v1.7h-1.7zM52.55 427.88h1.7v1.7h-1.7zM49.6 441.12h1.7v1.7h-1.7zM47.48 427.89h1.7v1.7h-1.7zM46.81 415.93h1.7v1.7h-1.7zM45.69 441.98h1.7v1.7h-1.7zM45.78 409.58h1.7v1.7h-1.7zM49.37 439.47h1.7v1.7h-1.7zM48.45 420.37h1.7v1.7h-1.7zM46.35 437.68h1.7v1.7h-1.7zM51.06 426.58h1.7v1.7h-1.7zM44.89 431.92h1.7v1.7h-1.7zM48.26 428.43h1.7v1.7h-1.7zM50.31 427.25h1.7v1.7h-1.7zM40.76 431.76h1.7v1.7h-1.7zM44.88 422.35h1.7v1.7h-1.7zM54.22 431.46h1.7v1.7h-1.7zM41.53 418.32h1.7v1.7h-1.7zM51.72 421.52h1.7v1.7h-1.7zM41.03 423.57h1.7v1.7h-1.7zM48.11 427.32h1.7v1.7h-1.7zM41.01 436.46h1.7v1.7h-1.7zM43.17 420.54h1.7v1.7h-1.7zM44.34 420.32h1.7v1.7h-1.7zM43.5 417.89h1.7v1.7h-1.7zM51.03 424.47h1.7v1.7h-1.7zM50.18 431.99h1.7v1.7h-1.7zM50.36 421.34h1.7v1.7h-1.7zM47.09 425.49h1.7v1.7h-1.7zM54.06 422.78h1.7v1.7h-1.7zM51.13 428.73h1.7v1.7h-1.7zM46.69 387.83h1.7v1.7h-1.7zM39.89 394.99h1.7v1.7h-1.7zM47.05 394.99h1.7v1.7h-1.7zM37.2 402.15h1.7v1.7h-1.7zM41.68 402.15h1.7v1.7h-1.7zM48.84 400.36h1.7v1.7h-1.7zM53.31 403.94h1.7v1.7h-1.7zM38.1 406.63h1.7v1.7h-1.7zM39.89 410.21h1.7v1.7h-1.7zM47.94 408.42h1.7v1.7h-1.7zM52.42 410.21h1.7v1.7h-1.7zM64.05 413.79h1.7v1.7h-1.7zM61.37 417.37h1.7v1.7h-1.7zM61.37 420.95h1.7v1.7h-1.7zM64.05 433.48h1.7v1.7h-1.7zM64.95 435.27h1.7v1.7h-1.7zM67.63 438.85h1.7v1.7h-1.7zM70.32 438.85h1.7v1.7h-1.7zM72.11 439.74h1.7v1.7h-1.7zM90.9 437.95h1.7v1.7h-1.7zM100.74 437.06h1.7v1.7h-1.7z"/>
<rect x="30.7" y="388.7" width="1.6" height="22.3" fill="#a9bad8"/>
<rect x="30.7" y="411" width="2.0" height="30.2" fill="#23528f"/>
<path fill="#1c4d92" d="M31.18 399.07h1.1v1.1h-1.1zM31.01 398.68h1.1v1.1h-1.1zM31.35 403.93h1.1v1.1h-1.1zM31.28 392.97h1.1v1.1h-1.1zM31.33 393.86h1.1v1.1h-1.1zM30.88 393.41h1.1v1.1h-1.1z"/>
<rect x="33.6" y="447" width="23.2" height="1.6" fill="#23528f"/>
<path fill="#1c4d92" d="M37.78 447.2h1.2v1.2h-1.2zM50.66 447.2h1.2v1.2h-1.2zM48.02 447.2h1.2v1.2h-1.2zM40.1 447.2h1.2v1.2h-1.2zM42.01 447.2h1.2v1.2h-1.2zM33.38 447.2h1.2v1.2h-1.2zM55.7 447.2h1.2v1.2h-1.2zM35.52 447.2h1.2v1.2h-1.2zM51.63 447.2h1.2v1.2h-1.2zM43.67 447.2h1.2v1.2h-1.2zM49.8 447.2h1.2v1.2h-1.2zM34.78 447.2h1.2v1.2h-1.2zM45.18 447.2h1.2v1.2h-1.2zM43.9 447.2h1.2v1.2h-1.2zM68.73 447.2h1.2v1.2h-1.2zM58.72 447.2h1.2v1.2h-1.2zM72.97 447.2h1.2v1.2h-1.2zM73.96 447.2h1.2v1.2h-1.2zM59.94 447.2h1.2v1.2h-1.2zM57.75 447.2h1.2v1.2h-1.2zM65.83 447.2h1.2v1.2h-1.2zM64.07 447.2h1.2v1.2h-1.2zM67.71 447.2h1.2v1.2h-1.2zM73.81 447.2h1.2v1.2h-1.2zM69.1 447.2h1.2v1.2h-1.2zM69.13 447.2h1.2v1.2h-1.2z"/>
<line x1="33.5" y1="423.6" x2="101.6" y2="437.2" stroke="#1c4d92" stroke-width="1.25"/>
<rect x="30.2" y="386.2" width="73.1" height="63.6" fill="none" stroke="#b0b0b0" stroke-width="0.6"/>
<line x1="49.3" y1="449.8" x2="49.3" y2="451.1" stroke="#666" stroke-width="0.5"/>
<text x="49.3" y="455.26" font-size="4.6" text-anchor="middle" fill="#444" stroke="#444" stroke-width="0.2">100</text>
<line x1="70.55" y1="449.8" x2="70.55" y2="451.1" stroke="#666" stroke-width="0.5"/>
<text x="70.55" y="455.26" font-size="4.6" text-anchor="middle" fill="#444" stroke="#444" stroke-width="0.2">200</text>
<line x1="91.8" y1="449.8" x2="91.8" y2="451.1" stroke="#666" stroke-width="0.5"/>
<text x="91.8" y="455.26" font-size="4.6" text-anchor="middle" fill="#444" stroke="#444" stroke-width="0.2">300</text>
<line x1="28.9" y1="441.4" x2="30.2" y2="441.4" stroke="#666" stroke-width="0.5"/>
<text x="28.4" y="443.04" font-size="4.55" text-anchor="end" fill="#555" stroke="#555" stroke-width="0.2">0</text>
<line x1="28.9" y1="430.72" x2="30.2" y2="430.72" stroke="#666" stroke-width="0.5"/>
<text x="28.4" y="432.36" font-size="4.55" text-anchor="end" fill="#555" stroke="#555" stroke-width="0.2">1000</text>
<line x1="28.9" y1="420.04" x2="30.2" y2="420.04" stroke="#666" stroke-width="0.5"/>
<text x="28.4" y="421.68" font-size="4.55" text-anchor="end" fill="#555" stroke="#555" stroke-width="0.2">2000</text>
<line x1="28.9" y1="409.36" x2="30.2" y2="409.36" stroke="#666" stroke-width="0.5"/>
<text x="28.4" y="411" font-size="4.55" text-anchor="end" fill="#555" stroke="#555" stroke-width="0.2">3000</text>
<line x1="28.9" y1="398.68" x2="30.2" y2="398.68" stroke="#666" stroke-width="0.5"/>
<text x="28.4" y="400.32" font-size="4.55" text-anchor="end" fill="#555" stroke="#555" stroke-width="0.2">4000</text>
<line x1="28.9" y1="388" x2="30.2" y2="388" stroke="#666" stroke-width="0.5"/>
<text x="28.4" y="389.64" font-size="4.55" text-anchor="end" fill="#555" stroke="#555" stroke-width="0.2">5000</text>
<text x="66.75" y="460.36" font-size="4.9" text-anchor="middle" fill="#333" stroke="#333" stroke-width="0.2">IMMT</text>
<text x="13.4" y="419.53" font-size="4.8" text-anchor="middle" fill="#333" stroke="#333" stroke-width="0.2" transform="rotate(-90 13.4 417.8)">VEGFA</text>
<text x="68" y="394.9" font-size="5.3" fill="#222" stroke="#222" stroke-width="0.2"><tspan font-style="italic">r</tspan> = −0.17</text>
<text x="68" y="401.1" font-size="5.3" fill="#222" stroke="#222" stroke-width="0.2"><tspan font-style="italic">P</tspan> = 0.005</text>
<rect x="167.8" y="386.6" width="73.7" height="63.2" fill="#fff" stroke="none" stroke-width="1"/>
<line x1="189.55" y1="386.6" x2="189.55" y2="449.8" stroke="#ececec" stroke-width="0.6"/>
<line x1="213.6" y1="386.6" x2="213.6" y2="449.8" stroke="#ececec" stroke-width="0.6"/>
<line x1="237.65" y1="386.6" x2="237.65" y2="449.8" stroke="#ececec" stroke-width="0.6"/>
<line x1="167.8" y1="440.9" x2="241.5" y2="440.9" stroke="#ececec" stroke-width="0.6"/>
<line x1="167.8" y1="421.5" x2="241.5" y2="421.5" stroke="#ececec" stroke-width="0.6"/>
<line x1="167.8" y1="402.1" x2="241.5" y2="402.1" stroke="#ececec" stroke-width="0.6"/>
<path d="M172.4 422.8 Q189.18 427.57 239.5 431.7 L239.5 446.1 Q189.18 428.78 172.4 426.4Z" fill="#cfcfcf"/>
<path fill="#1c4d92" d="M177.29 438.75h1.7v1.7h-1.7zM178.23 425.77h1.7v1.7h-1.7zM177.76 439.93h1.7v1.7h-1.7zM181.04 424.21h1.7v1.7h-1.7zM191.04 438.56h1.7v1.7h-1.7zM176.31 431.25h1.7v1.7h-1.7zM188.61 439.09h1.7v1.7h-1.7zM190.15 439.39h1.7v1.7h-1.7zM182.33 439.85h1.7v1.7h-1.7zM180.66 436.75h1.7v1.7h-1.7zM186.33 423.59h1.7v1.7h-1.7zM189.92 423.05h1.7v1.7h-1.7zM194.47 402.03h1.7v1.7h-1.7zM188.36 439.57h1.7v1.7h-1.7zM191.75 438.28h1.7v1.7h-1.7zM181.87 436.75h1.7v1.7h-1.7zM179.82 420.31h1.7v1.7h-1.7zM175.74 437.54h1.7v1.7h-1.7zM178.47 424.46h1.7v1.7h-1.7zM182.29 435.85h1.7v1.7h-1.7zM184.98 416.05h1.7v1.7h-1.7zM177.7 425.04h1.7v1.7h-1.7zM187.99 438.18h1.7v1.7h-1.7zM183.55 436.94h1.7v1.7h-1.7zM180.95 420.88h1.7v1.7h-1.7zM180.35 429.78h1.7v1.7h-1.7zM193.81 437.53h1.7v1.7h-1.7zM184.87 414.11h1.7v1.7h-1.7zM179.71 435.28h1.7v1.7h-1.7zM179.44 416.68h1.7v1.7h-1.7zM192.93 434.39h1.7v1.7h-1.7zM181.25 428.17h1.7v1.7h-1.7zM189.79 436.61h1.7v1.7h-1.7zM190.93 425.82h1.7v1.7h-1.7zM172.82 427.23h1.7v1.7h-1.7zM190.58 427.16h1.7v1.7h-1.7zM183.04 421.71h1.7v1.7h-1.7zM178.81 427.71h1.7v1.7h-1.7zM181.42 421.07h1.7v1.7h-1.7zM186.76 425.08h1.7v1.7h-1.7zM185.86 434.42h1.7v1.7h-1.7zM186.11 427.17h1.7v1.7h-1.7zM180.55 436.9h1.7v1.7h-1.7zM190.23 434.56h1.7v1.7h-1.7zM191.31 435.33h1.7v1.7h-1.7zM192.91 419.84h1.7v1.7h-1.7zM188.88 432.68h1.7v1.7h-1.7zM193.2 439.25h1.7v1.7h-1.7zM194.17 435.83h1.7v1.7h-1.7zM187.45 437.88h1.7v1.7h-1.7zM188.31 439.76h1.7v1.7h-1.7zM186.86 416.49h1.7v1.7h-1.7zM186.71 433.68h1.7v1.7h-1.7zM188.22 433.55h1.7v1.7h-1.7zM175.79 428.3h1.7v1.7h-1.7zM182.48 418.29h1.7v1.7h-1.7zM186.41 430.97h1.7v1.7h-1.7zM173.86 428.61h1.7v1.7h-1.7zM177.08 439.39h1.7v1.7h-1.7zM191.71 438.43h1.7v1.7h-1.7zM178.93 426.37h1.7v1.7h-1.7zM181.8 420.58h1.7v1.7h-1.7zM185.86 422.44h1.7v1.7h-1.7zM181.75 429.58h1.7v1.7h-1.7zM179.89 423.55h1.7v1.7h-1.7zM181.55 439.33h1.7v1.7h-1.7zM181.98 419.37h1.7v1.7h-1.7zM181.25 429.27h1.7v1.7h-1.7zM184.93 430.99h1.7v1.7h-1.7zM191.83 432.73h1.7v1.7h-1.7zM185.77 421.79h1.7v1.7h-1.7zM191.9 428.1h1.7v1.7h-1.7zM187.62 431.26h1.7v1.7h-1.7zM188.09 432.21h1.7v1.7h-1.7zM186.88 424.93h1.7v1.7h-1.7zM182.6 427.43h1.7v1.7h-1.7zM186.09 431.54h1.7v1.7h-1.7zM185.51 439.44h1.7v1.7h-1.7zM178.67 419.42h1.7v1.7h-1.7zM187.66 434.63h1.7v1.7h-1.7zM186.84 440.17h1.7v1.7h-1.7zM185.83 417.79h1.7v1.7h-1.7zM181.35 439.49h1.7v1.7h-1.7zM171.32 439.27h1.7v1.7h-1.7zM191.14 430.7h1.7v1.7h-1.7zM183.71 436.47h1.7v1.7h-1.7zM173.53 439.82h1.7v1.7h-1.7zM187.19 429.16h1.7v1.7h-1.7zM180.67 431.86h1.7v1.7h-1.7zM187.37 420.99h1.7v1.7h-1.7zM183.56 424.42h1.7v1.7h-1.7zM189.53 430.91h1.7v1.7h-1.7zM185.18 429.86h1.7v1.7h-1.7zM185.4 439.99h1.7v1.7h-1.7zM184.77 428.74h1.7v1.7h-1.7zM190 419.9h1.7v1.7h-1.7zM177.79 436.21h1.7v1.7h-1.7zM189.74 436.44h1.7v1.7h-1.7zM187.38 433.1h1.7v1.7h-1.7zM181.37 429.56h1.7v1.7h-1.7zM184.04 423.73h1.7v1.7h-1.7zM181.89 425.01h1.7v1.7h-1.7zM184.34 440.17h1.7v1.7h-1.7zM188.59 435.58h1.7v1.7h-1.7zM180.77 431.24h1.7v1.7h-1.7zM187.64 433.26h1.7v1.7h-1.7zM188.59 427.73h1.7v1.7h-1.7zM187.13 422.54h1.7v1.7h-1.7zM191.6 426.58h1.7v1.7h-1.7zM183.7 430.21h1.7v1.7h-1.7zM187.4 416.06h1.7v1.7h-1.7zM196.03 417.8h1.7v1.7h-1.7zM184.19 415.18h1.7v1.7h-1.7zM183.38 426.57h1.7v1.7h-1.7zM184.07 434.3h1.7v1.7h-1.7zM186.88 418.52h1.7v1.7h-1.7zM181.06 420.21h1.7v1.7h-1.7zM182.86 415.98h1.7v1.7h-1.7zM175.57 426.11h1.7v1.7h-1.7zM178.98 419.57h1.7v1.7h-1.7zM179.11 421.16h1.7v1.7h-1.7zM178.44 420.26h1.7v1.7h-1.7zM181.9 438.71h1.7v1.7h-1.7zM187.4 429.25h1.7v1.7h-1.7zM182.2 424.19h1.7v1.7h-1.7zM177.65 425.99h1.7v1.7h-1.7zM185.22 435.58h1.7v1.7h-1.7zM184.87 436.25h1.7v1.7h-1.7zM177.27 431.73h1.7v1.7h-1.7zM184.77 412.43h1.7v1.7h-1.7zM178.86 436.32h1.7v1.7h-1.7zM180.99 436.86h1.7v1.7h-1.7zM180.48 434.99h1.7v1.7h-1.7zM188.01 433.07h1.7v1.7h-1.7zM180.06 430.53h1.7v1.7h-1.7zM182.49 437.72h1.7v1.7h-1.7zM184.92 427.36h1.7v1.7h-1.7zM189.03 436.73h1.7v1.7h-1.7zM189.75 425.8h1.7v1.7h-1.7zM179.12 426.67h1.7v1.7h-1.7zM189.77 426.13h1.7v1.7h-1.7zM185.49 425.12h1.7v1.7h-1.7zM189.82 425.72h1.7v1.7h-1.7zM189.13 434.91h1.7v1.7h-1.7zM181.47 440.04h1.7v1.7h-1.7zM184.23 423.79h1.7v1.7h-1.7zM182.62 420.78h1.7v1.7h-1.7zM185.85 438.05h1.7v1.7h-1.7zM192.04 427.09h1.7v1.7h-1.7zM184.31 431.83h1.7v1.7h-1.7zM180.84 431.03h1.7v1.7h-1.7zM196.29 435.86h1.7v1.7h-1.7zM179.24 422.16h1.7v1.7h-1.7zM184.05 437.36h1.7v1.7h-1.7zM183.98 435.15h1.7v1.7h-1.7zM177.91 410.39h1.7v1.7h-1.7zM187.88 428.61h1.7v1.7h-1.7zM189.19 426.64h1.7v1.7h-1.7zM183.65 432.46h1.7v1.7h-1.7zM184.33 429.47h1.7v1.7h-1.7zM183.26 423.3h1.7v1.7h-1.7zM175.54 426.92h1.7v1.7h-1.7zM185.23 432.24h1.7v1.7h-1.7zM178.04 430.27h1.7v1.7h-1.7zM179.43 428.62h1.7v1.7h-1.7zM185.97 438.81h1.7v1.7h-1.7zM188.52 433.39h1.7v1.7h-1.7zM179.86 420.02h1.7v1.7h-1.7zM189.56 430.76h1.7v1.7h-1.7zM192.59 432.09h1.7v1.7h-1.7zM184.88 421.14h1.7v1.7h-1.7zM183.68 430.74h1.7v1.7h-1.7zM185.03 422.48h1.7v1.7h-1.7zM182.12 410.13h1.7v1.7h-1.7zM179.93 432.2h1.7v1.7h-1.7zM187.17 434.02h1.7v1.7h-1.7zM187.53 433.95h1.7v1.7h-1.7zM181.64 428.7h1.7v1.7h-1.7zM182.11 424.73h1.7v1.7h-1.7zM181.06 431.52h1.7v1.7h-1.7zM180.68 432.75h1.7v1.7h-1.7zM179.39 435.88h1.7v1.7h-1.7zM176.79 438.57h1.7v1.7h-1.7zM188.42 435.19h1.7v1.7h-1.7zM182.37 424.89h1.7v1.7h-1.7zM184.39 429.58h1.7v1.7h-1.7zM192.7 417.53h1.7v1.7h-1.7zM181.72 434.64h1.7v1.7h-1.7zM186.84 433.77h1.7v1.7h-1.7zM177.55 437.67h1.7v1.7h-1.7zM181.04 433.2h1.7v1.7h-1.7zM187.39 440.11h1.7v1.7h-1.7zM182.79 423.93h1.7v1.7h-1.7zM177.15 432.22h1.7v1.7h-1.7zM176.65 427.93h1.7v1.7h-1.7zM185.65 428.17h1.7v1.7h-1.7zM179.54 414.33h1.7v1.7h-1.7zM187.29 423.44h1.7v1.7h-1.7zM185.33 412.31h1.7v1.7h-1.7zM182.48 427.08h1.7v1.7h-1.7zM183.69 423.79h1.7v1.7h-1.7zM187.61 430.83h1.7v1.7h-1.7zM184.17 413.69h1.7v1.7h-1.7zM179.46 425.26h1.7v1.7h-1.7zM185.6 427.6h1.7v1.7h-1.7zM182.31 409.27h1.7v1.7h-1.7zM182.9 440.18h1.7v1.7h-1.7zM186.73 432.88h1.7v1.7h-1.7zM185.57 422.89h1.7v1.7h-1.7zM188.87 439.65h1.7v1.7h-1.7zM183.12 438.39h1.7v1.7h-1.7zM181.83 407.61h1.7v1.7h-1.7zM182.39 427h1.7v1.7h-1.7zM185.81 424.08h1.7v1.7h-1.7zM180.17 430.03h1.7v1.7h-1.7zM182.29 421.15h1.7v1.7h-1.7zM179.99 427.3h1.7v1.7h-1.7zM180.32 430.22h1.7v1.7h-1.7zM183.17 407.31h1.7v1.7h-1.7zM195.5 430.5h1.7v1.7h-1.7zM182.2 438.68h1.7v1.7h-1.7zM185.25 430.52h1.7v1.7h-1.7zM184.47 437.08h1.7v1.7h-1.7zM183.2 439.88h1.7v1.7h-1.7zM184.18 431.63h1.7v1.7h-1.7zM193.31 432.31h1.7v1.7h-1.7zM182.8 432.42h1.7v1.7h-1.7zM191.62 426h1.7v1.7h-1.7zM187.1 438.73h1.7v1.7h-1.7zM179.93 432.74h1.7v1.7h-1.7zM180.97 433.51h1.7v1.7h-1.7zM181.86 436.04h1.7v1.7h-1.7zM178.91 439.41h1.7v1.7h-1.7zM189.46 417.79h1.7v1.7h-1.7zM185.99 420.79h1.7v1.7h-1.7zM186.54 430.89h1.7v1.7h-1.7zM179.19 433.31h1.7v1.7h-1.7zM186.24 419.13h1.7v1.7h-1.7zM181.51 417.67h1.7v1.7h-1.7zM195.5 434.88h1.7v1.7h-1.7zM183.61 434.57h1.7v1.7h-1.7zM185.38 427.34h1.7v1.7h-1.7zM186 427.29h1.7v1.7h-1.7zM181.81 424.15h1.7v1.7h-1.7zM182.2 419.27h1.7v1.7h-1.7zM182.19 421.9h1.7v1.7h-1.7zM188.06 430.86h1.7v1.7h-1.7zM180.61 428.01h1.7v1.7h-1.7zM183.29 435.92h1.7v1.7h-1.7zM185.59 417.77h1.7v1.7h-1.7zM182.12 414.34h1.7v1.7h-1.7zM177.61 433.3h1.7v1.7h-1.7zM178.43 421.06h1.7v1.7h-1.7zM182.08 426.64h1.7v1.7h-1.7zM179.49 429.68h1.7v1.7h-1.7zM188.57 418.11h1.7v1.7h-1.7zM184.1 415.61h1.7v1.7h-1.7zM183.9 431.23h1.7v1.7h-1.7zM179.28 404.95h1.7v1.7h-1.7zM186.49 433.45h1.7v1.7h-1.7zM182.34 413.3h1.7v1.7h-1.7zM179.54 434.59h1.7v1.7h-1.7zM181.01 431.41h1.7v1.7h-1.7zM195.21 430.93h1.7v1.7h-1.7zM181.15 432.57h1.7v1.7h-1.7zM179.93 430.33h1.7v1.7h-1.7zM189.42 416.91h1.7v1.7h-1.7zM187.47 434.72h1.7v1.7h-1.7zM182.66 430.27h1.7v1.7h-1.7zM190.47 432.43h1.7v1.7h-1.7zM177.12 428.08h1.7v1.7h-1.7zM181.75 426.94h1.7v1.7h-1.7zM176.29 435.38h1.7v1.7h-1.7zM190.4 435.5h1.7v1.7h-1.7zM184.18 430.98h1.7v1.7h-1.7zM196.13 418.52h1.7v1.7h-1.7zM186.13 420.94h1.7v1.7h-1.7zM186.2 420.3h1.7v1.7h-1.7zM178.66 436.71h1.7v1.7h-1.7zM178.4 432.84h1.7v1.7h-1.7zM181.64 430.09h1.7v1.7h-1.7zM188.13 428.26h1.7v1.7h-1.7zM178.99 423.02h1.7v1.7h-1.7zM172.69 434.98h1.7v1.7h-1.7zM187.82 420.39h1.7v1.7h-1.7zM188.09 422.14h1.7v1.7h-1.7zM179.48 435.25h1.7v1.7h-1.7zM185.83 433.91h1.7v1.7h-1.7zM189 429.27h1.7v1.7h-1.7zM189.22 418.57h1.7v1.7h-1.7zM176.36 418.61h1.7v1.7h-1.7zM183.99 435.4h1.7v1.7h-1.7zM180.05 432.41h1.7v1.7h-1.7zM188.18 439.54h1.7v1.7h-1.7zM184.08 425.87h1.7v1.7h-1.7zM177.96 429.39h1.7v1.7h-1.7zM184.1 421.69h1.7v1.7h-1.7zM186.39 440.04h1.7v1.7h-1.7zM176.3 415.06h1.7v1.7h-1.7zM177.2 434.07h1.7v1.7h-1.7zM180.36 440.12h1.7v1.7h-1.7zM182.1 421.61h1.7v1.7h-1.7zM180.85 417.27h1.7v1.7h-1.7zM174.89 421.11h1.7v1.7h-1.7zM176.12 417.4h1.7v1.7h-1.7zM183.31 432.34h1.7v1.7h-1.7zM185.43 429.32h1.7v1.7h-1.7zM179.3 422h1.7v1.7h-1.7zM184.28 427.62h1.7v1.7h-1.7zM192.38 439.79h1.7v1.7h-1.7zM182.53 427.89h1.7v1.7h-1.7zM181.45 426.59h1.7v1.7h-1.7zM180.22 439.38h1.7v1.7h-1.7zM185.79 422.15h1.7v1.7h-1.7zM184.67 425.94h1.7v1.7h-1.7zM184.8 439.52h1.7v1.7h-1.7zM181.86 430.3h1.7v1.7h-1.7zM185.59 412.92h1.7v1.7h-1.7zM185.62 422.22h1.7v1.7h-1.7zM183.01 409.74h1.7v1.7h-1.7zM189.17 424.12h1.7v1.7h-1.7zM176.37 431.99h1.7v1.7h-1.7zM187.1 415.08h1.7v1.7h-1.7zM183.16 439.75h1.7v1.7h-1.7zM187.74 438h1.7v1.7h-1.7zM192.77 435.03h1.7v1.7h-1.7zM184.04 423.24h1.7v1.7h-1.7zM182.92 430.06h1.7v1.7h-1.7zM183.74 433.44h1.7v1.7h-1.7zM190.4 436.04h1.7v1.7h-1.7zM191.17 438.1h1.7v1.7h-1.7zM184.68 410.35h1.7v1.7h-1.7zM186.97 423.4h1.7v1.7h-1.7zM192.44 419.35h1.7v1.7h-1.7zM186.5 426.75h1.7v1.7h-1.7zM176.85 431.21h1.7v1.7h-1.7zM180.1 438.65h1.7v1.7h-1.7zM181.69 428.94h1.7v1.7h-1.7zM185.86 435.7h1.7v1.7h-1.7zM181.34 430.57h1.7v1.7h-1.7zM176.89 388.83h1.7v1.7h-1.7zM181.36 389.73h1.7v1.7h-1.7zM181.36 393.31h1.7v1.7h-1.7zM186.73 395.99h1.7v1.7h-1.7zM194.79 397.78h1.7v1.7h-1.7zM175.1 401.36h1.7v1.7h-1.7zM184.05 401.36h1.7v1.7h-1.7zM184.94 404.05h1.7v1.7h-1.7zM185.84 405.84h1.7v1.7h-1.7zM174.2 409.42h1.7v1.7h-1.7zM179.57 408.52h1.7v1.7h-1.7zM180.47 410.31h1.7v1.7h-1.7zM185.84 410.31h1.7v1.7h-1.7zM196.58 413.89h1.7v1.7h-1.7zM197.47 418.37h1.7v1.7h-1.7zM200.16 421.95h1.7v1.7h-1.7zM205.53 430.9h1.7v1.7h-1.7zM203.74 436.27h1.7v1.7h-1.7zM209.11 438.06h1.7v1.7h-1.7zM213.58 434.48h1.7v1.7h-1.7zM215.37 438.95h1.7v1.7h-1.7zM225.22 438.95h1.7v1.7h-1.7zM237.74 437.16h1.7v1.7h-1.7zM207.32 430h1.7v1.7h-1.7zM201.05 438.95h1.7v1.7h-1.7z"/>
<rect x="168.3" y="389.1" width="1.6" height="17.9" fill="#a9bad8"/>
<rect x="168.3" y="407" width="2.0" height="33.7" fill="#23528f"/>
<path fill="#1c4d92" d="M168.82 399.86h1.1v1.1h-1.1zM168.69 389.61h1.1v1.1h-1.1zM168.56 394.5h1.1v1.1h-1.1zM168.82 396.44h1.1v1.1h-1.1zM168.35 390.44h1.1v1.1h-1.1zM168.73 406.16h1.1v1.1h-1.1z"/>
<rect x="170.6" y="447.4" width="25" height="1.6" fill="#23528f"/>
<path fill="#1c4d92" d="M179.14 447.6h1.2v1.2h-1.2zM170.79 447.6h1.2v1.2h-1.2zM186.57 447.6h1.2v1.2h-1.2zM172.68 447.6h1.2v1.2h-1.2zM180.37 447.6h1.2v1.2h-1.2zM180.29 447.6h1.2v1.2h-1.2zM181.94 447.6h1.2v1.2h-1.2zM179.56 447.6h1.2v1.2h-1.2zM174.42 447.6h1.2v1.2h-1.2zM188.85 447.6h1.2v1.2h-1.2zM170.46 447.6h1.2v1.2h-1.2zM179.58 447.6h1.2v1.2h-1.2zM185.22 447.6h1.2v1.2h-1.2zM191.86 447.6h1.2v1.2h-1.2zM213.88 447.6h1.2v1.2h-1.2zM200.63 447.6h1.2v1.2h-1.2zM195.61 447.6h1.2v1.2h-1.2zM214.78 447.6h1.2v1.2h-1.2zM214.73 447.6h1.2v1.2h-1.2zM211.88 447.6h1.2v1.2h-1.2zM213.98 447.6h1.2v1.2h-1.2zM195.23 447.6h1.2v1.2h-1.2zM208.33 447.6h1.2v1.2h-1.2zM196.58 447.6h1.2v1.2h-1.2zM215.26 447.6h1.2v1.2h-1.2zM216.21 447.6h1.2v1.2h-1.2z"/>
<line x1="172.4" y1="424.6" x2="239.5" y2="438.9" stroke="#1c4d92" stroke-width="1.25"/>
<rect x="167.8" y="386.6" width="73.7" height="63.2" fill="none" stroke="#b0b0b0" stroke-width="0.6"/>
<line x1="189.55" y1="449.8" x2="189.55" y2="451.1" stroke="#666" stroke-width="0.5"/>
<text x="189.55" y="455.26" font-size="4.6" text-anchor="middle" fill="#444" stroke="#444" stroke-width="0.2">100</text>
<line x1="213.6" y1="449.8" x2="213.6" y2="451.1" stroke="#666" stroke-width="0.5"/>
<text x="213.6" y="455.26" font-size="4.6" text-anchor="middle" fill="#444" stroke="#444" stroke-width="0.2">200</text>
<line x1="237.65" y1="449.8" x2="237.65" y2="451.1" stroke="#666" stroke-width="0.5"/>
<text x="237.65" y="455.26" font-size="4.6" text-anchor="middle" fill="#444" stroke="#444" stroke-width="0.2">300</text>
<line x1="166.5" y1="440.9" x2="167.8" y2="440.9" stroke="#666" stroke-width="0.5"/>
<text x="166" y="442.54" font-size="4.55" text-anchor="end" fill="#555" stroke="#555" stroke-width="0.2">0</text>
<line x1="166.5" y1="421.5" x2="167.8" y2="421.5" stroke="#666" stroke-width="0.5"/>
<text x="166" y="423.14" font-size="4.55" text-anchor="end" fill="#555" stroke="#555" stroke-width="0.2">2000</text>
<line x1="166.5" y1="402.1" x2="167.8" y2="402.1" stroke="#666" stroke-width="0.5"/>
<text x="166" y="403.74" font-size="4.55" text-anchor="end" fill="#555" stroke="#555" stroke-width="0.2">4000</text>
<text x="204.65" y="460.36" font-size="4.9" text-anchor="middle" fill="#333" stroke="#333" stroke-width="0.2">IMMT</text>
<text x="151.3" y="419.33" font-size="4.8" text-anchor="middle" fill="#333" stroke="#333" stroke-width="0.2" transform="rotate(-90 151.3 417.6)">VEGFA</text>
<text x="210.9" y="395.2" font-size="5.2" fill="#222" stroke="#222" stroke-width="0.2"><tspan font-style="italic">r</tspan> = −0.2</text>
<text x="210.9" y="401.8" font-size="5.2" fill="#222" stroke="#222" stroke-width="0.2"><tspan font-style="italic">P</tspan> &lt; 0.001</text>
<rect x="303.5" y="386.4" width="73.2" height="63.2" fill="#fff" stroke="none" stroke-width="1"/>
<line x1="322.85" y1="386.4" x2="322.85" y2="449.6" stroke="#ececec" stroke-width="0.6"/>
<line x1="344.5" y1="386.4" x2="344.5" y2="449.6" stroke="#ececec" stroke-width="0.6"/>
<line x1="366.15" y1="386.4" x2="366.15" y2="449.6" stroke="#ececec" stroke-width="0.6"/>
<line x1="303.5" y1="442.2" x2="376.7" y2="442.2" stroke="#ececec" stroke-width="0.6"/>
<line x1="303.5" y1="422.3" x2="376.7" y2="422.3" stroke="#ececec" stroke-width="0.6"/>
<line x1="303.5" y1="402.4" x2="376.7" y2="402.4" stroke="#ececec" stroke-width="0.6"/>
<path d="M330.7 429.5 Q341.9 432.12 375.5 434.3 L375.5 443.3 Q341.9 433.33 330.7 431.9Z" fill="#cfcfcf"/>
<path fill="#1c4d92" d="M321.83 431.55h1.7v1.7h-1.7zM320.21 431.08h1.7v1.7h-1.7zM318.87 428.33h1.7v1.7h-1.7zM307.95 416.26h1.7v1.7h-1.7zM321.24 421.85h1.7v1.7h-1.7zM308.88 420.89h1.7v1.7h-1.7zM323.55 432.84h1.7v1.7h-1.7zM322.08 420.94h1.7v1.7h-1.7zM323.17 415.86h1.7v1.7h-1.7zM323.15 421.05h1.7v1.7h-1.7zM320.6 430.58h1.7v1.7h-1.7zM316.57 438.71h1.7v1.7h-1.7zM317.67 423.87h1.7v1.7h-1.7zM326.44 435.78h1.7v1.7h-1.7zM316.34 424.33h1.7v1.7h-1.7zM318.05 424.5h1.7v1.7h-1.7zM315.65 420.62h1.7v1.7h-1.7zM316.65 433.71h1.7v1.7h-1.7zM317.67 424.05h1.7v1.7h-1.7zM320.39 434.73h1.7v1.7h-1.7zM317.73 424.84h1.7v1.7h-1.7zM317.44 439.71h1.7v1.7h-1.7zM316.17 430.15h1.7v1.7h-1.7zM319.59 429.11h1.7v1.7h-1.7zM312.66 417.68h1.7v1.7h-1.7zM319.41 437.04h1.7v1.7h-1.7zM325.48 430.75h1.7v1.7h-1.7zM315.45 429.34h1.7v1.7h-1.7zM318.93 429.01h1.7v1.7h-1.7zM332.77 424.26h1.7v1.7h-1.7zM314.36 424.05h1.7v1.7h-1.7zM311.32 431.12h1.7v1.7h-1.7zM317.09 421.48h1.7v1.7h-1.7zM327.89 427.59h1.7v1.7h-1.7zM328.99 438.47h1.7v1.7h-1.7zM313.28 427.77h1.7v1.7h-1.7zM321.91 426.34h1.7v1.7h-1.7zM319.18 434.71h1.7v1.7h-1.7zM316.31 419.93h1.7v1.7h-1.7zM309.75 437.91h1.7v1.7h-1.7zM324.11 429.03h1.7v1.7h-1.7zM315 418.2h1.7v1.7h-1.7zM320.6 427.67h1.7v1.7h-1.7zM319.55 422.57h1.7v1.7h-1.7zM328.19 433.41h1.7v1.7h-1.7zM324.84 424.71h1.7v1.7h-1.7zM313.57 433.6h1.7v1.7h-1.7zM317.89 411.19h1.7v1.7h-1.7zM324.16 424.94h1.7v1.7h-1.7zM312.71 432.62h1.7v1.7h-1.7zM317.26 432.22h1.7v1.7h-1.7zM320.25 429.39h1.7v1.7h-1.7zM311.35 433.78h1.7v1.7h-1.7zM313.18 433.96h1.7v1.7h-1.7zM310.92 428.97h1.7v1.7h-1.7zM320.54 430.34h1.7v1.7h-1.7zM316.44 434.73h1.7v1.7h-1.7zM323.64 430.06h1.7v1.7h-1.7zM319.7 405.28h1.7v1.7h-1.7zM321.92 414.39h1.7v1.7h-1.7zM318.75 422.92h1.7v1.7h-1.7zM322.79 433.35h1.7v1.7h-1.7zM318.65 429.4h1.7v1.7h-1.7zM314.41 433.12h1.7v1.7h-1.7zM324.87 435.4h1.7v1.7h-1.7zM323.89 432.45h1.7v1.7h-1.7zM330.11 420.22h1.7v1.7h-1.7zM318.47 434.33h1.7v1.7h-1.7zM316.35 416.42h1.7v1.7h-1.7zM312.16 417h1.7v1.7h-1.7zM309.69 424.75h1.7v1.7h-1.7zM312.83 407.76h1.7v1.7h-1.7zM321.51 439.5h1.7v1.7h-1.7zM314.87 438.29h1.7v1.7h-1.7zM306.63 427.08h1.7v1.7h-1.7zM322.09 425.07h1.7v1.7h-1.7zM316.29 409.19h1.7v1.7h-1.7zM317.41 432.04h1.7v1.7h-1.7zM317.07 421.97h1.7v1.7h-1.7zM318.5 417.23h1.7v1.7h-1.7zM321.45 415.52h1.7v1.7h-1.7zM310.77 427.21h1.7v1.7h-1.7zM318.06 426.28h1.7v1.7h-1.7zM316.7 427.06h1.7v1.7h-1.7zM324.65 422.54h1.7v1.7h-1.7zM314.15 412.21h1.7v1.7h-1.7zM327.07 437.63h1.7v1.7h-1.7zM322.09 433.65h1.7v1.7h-1.7zM327.01 422.73h1.7v1.7h-1.7zM315.75 415.63h1.7v1.7h-1.7zM323.05 418.8h1.7v1.7h-1.7zM320.91 432.85h1.7v1.7h-1.7zM311.92 431.67h1.7v1.7h-1.7zM317.89 430.24h1.7v1.7h-1.7zM316.97 436.07h1.7v1.7h-1.7zM314.48 423.06h1.7v1.7h-1.7zM315.44 437.6h1.7v1.7h-1.7zM312.2 429.52h1.7v1.7h-1.7zM316.9 421.23h1.7v1.7h-1.7zM320.77 431.73h1.7v1.7h-1.7zM315.39 430.52h1.7v1.7h-1.7zM311.6 421.74h1.7v1.7h-1.7zM324.21 439.67h1.7v1.7h-1.7zM317.36 413.01h1.7v1.7h-1.7zM319.29 430.13h1.7v1.7h-1.7zM318.02 431.11h1.7v1.7h-1.7zM316.54 421.66h1.7v1.7h-1.7zM322.06 428.78h1.7v1.7h-1.7zM316.59 436.92h1.7v1.7h-1.7zM319.29 417.95h1.7v1.7h-1.7zM312.17 418.28h1.7v1.7h-1.7zM311.23 425.21h1.7v1.7h-1.7zM317.27 431.82h1.7v1.7h-1.7zM328.39 435.74h1.7v1.7h-1.7zM320.03 432.3h1.7v1.7h-1.7zM328.5 417.99h1.7v1.7h-1.7zM321.34 435.72h1.7v1.7h-1.7zM321.35 433.16h1.7v1.7h-1.7zM316.33 435.17h1.7v1.7h-1.7zM319.05 413h1.7v1.7h-1.7zM327.81 412.59h1.7v1.7h-1.7zM324.88 421.96h1.7v1.7h-1.7zM316.13 423.97h1.7v1.7h-1.7zM316.88 428h1.7v1.7h-1.7zM325.62 417.9h1.7v1.7h-1.7zM316.67 418.11h1.7v1.7h-1.7zM323.6 431.05h1.7v1.7h-1.7zM314.76 408.27h1.7v1.7h-1.7zM322.19 416.99h1.7v1.7h-1.7zM326.53 428.18h1.7v1.7h-1.7zM323.19 433.07h1.7v1.7h-1.7zM320.33 430.03h1.7v1.7h-1.7zM319.83 438.48h1.7v1.7h-1.7zM318.75 430.22h1.7v1.7h-1.7zM319.04 432.8h1.7v1.7h-1.7zM324.85 433.48h1.7v1.7h-1.7zM324.73 428.32h1.7v1.7h-1.7zM321.12 415.69h1.7v1.7h-1.7zM313.07 425.25h1.7v1.7h-1.7zM316.64 425.93h1.7v1.7h-1.7zM320.59 419.74h1.7v1.7h-1.7zM319.4 432.43h1.7v1.7h-1.7zM312.62 422.83h1.7v1.7h-1.7zM322.36 413.9h1.7v1.7h-1.7zM331.71 427.58h1.7v1.7h-1.7zM313.23 418.31h1.7v1.7h-1.7zM319.46 431.45h1.7v1.7h-1.7zM326.98 403.33h1.7v1.7h-1.7zM317.14 411.84h1.7v1.7h-1.7zM317.18 427.68h1.7v1.7h-1.7zM319.97 429.63h1.7v1.7h-1.7zM321.89 428.35h1.7v1.7h-1.7zM317.17 437.74h1.7v1.7h-1.7zM323.89 425.3h1.7v1.7h-1.7zM309.95 422.84h1.7v1.7h-1.7zM322.32 433.35h1.7v1.7h-1.7zM320.94 424.6h1.7v1.7h-1.7zM318.39 430.57h1.7v1.7h-1.7zM321.03 436.13h1.7v1.7h-1.7zM319.39 426.15h1.7v1.7h-1.7zM325.58 426.66h1.7v1.7h-1.7zM316.92 422.05h1.7v1.7h-1.7zM318.95 430.62h1.7v1.7h-1.7zM312.45 432.1h1.7v1.7h-1.7zM313.72 434.78h1.7v1.7h-1.7zM317.99 432.45h1.7v1.7h-1.7zM311.63 439.31h1.7v1.7h-1.7zM315.06 429.25h1.7v1.7h-1.7zM312.75 429.13h1.7v1.7h-1.7zM316.77 425.38h1.7v1.7h-1.7zM319.72 436.49h1.7v1.7h-1.7zM323.71 428.85h1.7v1.7h-1.7zM309.78 425.46h1.7v1.7h-1.7zM318.19 416.11h1.7v1.7h-1.7zM323.34 426.97h1.7v1.7h-1.7zM325.82 433.94h1.7v1.7h-1.7zM325.95 404.34h1.7v1.7h-1.7zM312.22 417.96h1.7v1.7h-1.7zM316.67 419.78h1.7v1.7h-1.7zM321.88 420.7h1.7v1.7h-1.7zM323.69 428.7h1.7v1.7h-1.7zM320.52 424.77h1.7v1.7h-1.7zM320.44 429.38h1.7v1.7h-1.7zM320.32 430.38h1.7v1.7h-1.7zM315.45 437.16h1.7v1.7h-1.7zM319.93 426.06h1.7v1.7h-1.7zM323.08 430.79h1.7v1.7h-1.7zM317.52 426.34h1.7v1.7h-1.7zM324.82 429.64h1.7v1.7h-1.7zM307.23 425.28h1.7v1.7h-1.7zM317.58 417.85h1.7v1.7h-1.7zM327.37 431.16h1.7v1.7h-1.7zM323.38 435.55h1.7v1.7h-1.7zM326.13 419.84h1.7v1.7h-1.7zM319.86 428.22h1.7v1.7h-1.7zM313.44 428.21h1.7v1.7h-1.7zM316.69 408.95h1.7v1.7h-1.7zM326.51 439.3h1.7v1.7h-1.7zM310.28 437.96h1.7v1.7h-1.7zM314.55 436.17h1.7v1.7h-1.7zM310.87 435h1.7v1.7h-1.7zM316.57 420.64h1.7v1.7h-1.7zM317.12 405.96h1.7v1.7h-1.7zM321.96 427.94h1.7v1.7h-1.7zM315.17 429.19h1.7v1.7h-1.7zM327.43 426.02h1.7v1.7h-1.7zM322.28 424.45h1.7v1.7h-1.7zM316.88 434.93h1.7v1.7h-1.7zM314.36 433.61h1.7v1.7h-1.7zM311.92 428.31h1.7v1.7h-1.7zM319.75 423.86h1.7v1.7h-1.7zM328.74 438.56h1.7v1.7h-1.7zM318.38 433.92h1.7v1.7h-1.7zM314.19 429.31h1.7v1.7h-1.7zM318.88 416.48h1.7v1.7h-1.7zM316.67 414.22h1.7v1.7h-1.7zM314.8 402.98h1.7v1.7h-1.7zM310 426.15h1.7v1.7h-1.7zM318.9 430.5h1.7v1.7h-1.7zM326.35 426.85h1.7v1.7h-1.7zM325.11 428.47h1.7v1.7h-1.7zM323.93 430.19h1.7v1.7h-1.7zM320.19 433.97h1.7v1.7h-1.7zM321.46 412.12h1.7v1.7h-1.7zM324.07 416.99h1.7v1.7h-1.7zM318.92 434.31h1.7v1.7h-1.7zM320.55 430.44h1.7v1.7h-1.7zM317.26 431.85h1.7v1.7h-1.7zM324.67 419.25h1.7v1.7h-1.7zM314.72 438.27h1.7v1.7h-1.7zM322.49 429.44h1.7v1.7h-1.7zM323.33 426.4h1.7v1.7h-1.7zM323.24 420.41h1.7v1.7h-1.7zM322.64 429.93h1.7v1.7h-1.7zM316.96 429.79h1.7v1.7h-1.7zM316.48 427.55h1.7v1.7h-1.7zM317.21 439.08h1.7v1.7h-1.7zM317.39 436.35h1.7v1.7h-1.7zM313.77 428.6h1.7v1.7h-1.7zM317.05 423.36h1.7v1.7h-1.7zM316.13 424.66h1.7v1.7h-1.7zM314.63 431.01h1.7v1.7h-1.7zM320.97 403.07h1.7v1.7h-1.7zM315.56 430.83h1.7v1.7h-1.7zM320.42 426.78h1.7v1.7h-1.7zM326.34 438.78h1.7v1.7h-1.7zM327.38 431.73h1.7v1.7h-1.7zM319.32 427.35h1.7v1.7h-1.7zM324.17 429.28h1.7v1.7h-1.7zM320.44 423.12h1.7v1.7h-1.7zM330.81 422.53h1.7v1.7h-1.7zM327.2 428.39h1.7v1.7h-1.7zM324.65 410.45h1.7v1.7h-1.7zM318.49 429.04h1.7v1.7h-1.7zM318.03 413.49h1.7v1.7h-1.7zM321.89 422.38h1.7v1.7h-1.7zM319.09 422.27h1.7v1.7h-1.7zM318.05 433.47h1.7v1.7h-1.7zM322.61 439.02h1.7v1.7h-1.7zM313.19 438.13h1.7v1.7h-1.7zM309.54 424.58h1.7v1.7h-1.7zM314.31 426.93h1.7v1.7h-1.7zM313.62 429.29h1.7v1.7h-1.7zM318.83 430.05h1.7v1.7h-1.7zM315 436.23h1.7v1.7h-1.7zM318.27 433.39h1.7v1.7h-1.7zM309.4 429.03h1.7v1.7h-1.7zM326.35 439.16h1.7v1.7h-1.7zM321.14 434.85h1.7v1.7h-1.7zM315.02 439.35h1.7v1.7h-1.7zM320.75 428.64h1.7v1.7h-1.7zM325.19 432.82h1.7v1.7h-1.7zM323.3 431.28h1.7v1.7h-1.7zM318.78 430.3h1.7v1.7h-1.7zM322.2 419.56h1.7v1.7h-1.7zM323.51 430.8h1.7v1.7h-1.7zM313.34 415.75h1.7v1.7h-1.7zM312.22 431.66h1.7v1.7h-1.7zM316.32 439.57h1.7v1.7h-1.7zM323.99 436.49h1.7v1.7h-1.7zM326.38 431.13h1.7v1.7h-1.7zM319.86 426.64h1.7v1.7h-1.7zM326.53 434.12h1.7v1.7h-1.7zM324.06 419.67h1.7v1.7h-1.7zM318.87 418.12h1.7v1.7h-1.7zM315.59 417.23h1.7v1.7h-1.7zM316.09 431.7h1.7v1.7h-1.7zM319.61 417.06h1.7v1.7h-1.7zM326.04 432.97h1.7v1.7h-1.7zM323.3 435.69h1.7v1.7h-1.7zM312.87 433.56h1.7v1.7h-1.7zM313.24 428.29h1.7v1.7h-1.7zM323.17 431.88h1.7v1.7h-1.7zM320.17 418.13h1.7v1.7h-1.7zM314.61 430.45h1.7v1.7h-1.7zM322.51 439.69h1.7v1.7h-1.7zM325.86 438.5h1.7v1.7h-1.7zM323.1 414.55h1.7v1.7h-1.7zM319.74 428.54h1.7v1.7h-1.7zM325.73 426.08h1.7v1.7h-1.7zM317.35 434.96h1.7v1.7h-1.7zM316.35 430.86h1.7v1.7h-1.7zM314.74 428.26h1.7v1.7h-1.7zM328.44 423.23h1.7v1.7h-1.7zM329.56 430.09h1.7v1.7h-1.7zM319.04 427.81h1.7v1.7h-1.7zM322.12 429.49h1.7v1.7h-1.7zM321.44 427.74h1.7v1.7h-1.7zM323.8 417.71h1.7v1.7h-1.7zM325.05 431.71h1.7v1.7h-1.7zM322.56 431.97h1.7v1.7h-1.7zM318.81 430.48h1.7v1.7h-1.7zM316.74 430.74h1.7v1.7h-1.7zM314.3 436.87h1.7v1.7h-1.7zM306.67 436.03h1.7v1.7h-1.7zM318.79 439.67h1.7v1.7h-1.7zM315.2 433.54h1.7v1.7h-1.7zM319.4 434.51h1.7v1.7h-1.7zM318.74 429.45h1.7v1.7h-1.7zM314.26 419.52h1.7v1.7h-1.7zM316.82 418.32h1.7v1.7h-1.7zM321.26 432.42h1.7v1.7h-1.7zM320.07 429.92h1.7v1.7h-1.7zM314.97 432.59h1.7v1.7h-1.7zM315.59 407.75h1.7v1.7h-1.7zM322.02 427.02h1.7v1.7h-1.7zM320.4 429.68h1.7v1.7h-1.7zM320.74 425.42h1.7v1.7h-1.7zM318.45 426.34h1.7v1.7h-1.7zM322.84 412.09h1.7v1.7h-1.7zM319.71 427.65h1.7v1.7h-1.7zM331.51 436.8h1.7v1.7h-1.7zM316.96 418.02h1.7v1.7h-1.7zM315.83 432.21h1.7v1.7h-1.7zM327.26 421.85h1.7v1.7h-1.7zM318.89 429.83h1.7v1.7h-1.7zM315.46 437.81h1.7v1.7h-1.7zM321.34 429.05h1.7v1.7h-1.7zM308.01 431.08h1.7v1.7h-1.7zM321.4 432.84h1.7v1.7h-1.7zM319.33 428.32h1.7v1.7h-1.7zM320.53 436.78h1.7v1.7h-1.7zM315.33 410.08h1.7v1.7h-1.7zM325.6 425.67h1.7v1.7h-1.7zM320.75 410.95h1.7v1.7h-1.7zM319.13 414.54h1.7v1.7h-1.7zM320.98 428.53h1.7v1.7h-1.7zM315.18 417.42h1.7v1.7h-1.7zM318.6 424.86h1.7v1.7h-1.7zM311.95 437.41h1.7v1.7h-1.7zM313.87 432.24h1.7v1.7h-1.7zM320.64 435.17h1.7v1.7h-1.7zM319.78 427.73h1.7v1.7h-1.7zM322.8 429.24h1.7v1.7h-1.7zM315.99 405.78h1.7v1.7h-1.7zM318.66 428.52h1.7v1.7h-1.7zM315.87 424.46h1.7v1.7h-1.7zM320.43 431.87h1.7v1.7h-1.7zM322.97 429.06h1.7v1.7h-1.7zM324.35 422.73h1.7v1.7h-1.7zM321.94 410.54h1.7v1.7h-1.7zM315.34 433.7h1.7v1.7h-1.7zM320.18 422.14h1.7v1.7h-1.7zM314.14 412.59h1.7v1.7h-1.7zM309.87 431.24h1.7v1.7h-1.7zM319.99 409.95h1.7v1.7h-1.7zM319.55 422.77h1.7v1.7h-1.7zM322.74 409.2h1.7v1.7h-1.7zM323.12 425.7h1.7v1.7h-1.7zM313.17 412.61h1.7v1.7h-1.7zM314.73 437.11h1.7v1.7h-1.7zM319.09 435.76h1.7v1.7h-1.7zM319.46 431.55h1.7v1.7h-1.7zM321.08 430.74h1.7v1.7h-1.7zM312.79 432.72h1.7v1.7h-1.7zM317.88 433.97h1.7v1.7h-1.7zM322.19 430.26h1.7v1.7h-1.7zM328.25 418.05h1.7v1.7h-1.7zM313.02 429.55h1.7v1.7h-1.7zM326.91 413.62h1.7v1.7h-1.7zM317.69 424.86h1.7v1.7h-1.7zM312.1 431.09h1.7v1.7h-1.7zM325.5 418.06h1.7v1.7h-1.7zM313.91 431.32h1.7v1.7h-1.7zM313.42 423.73h1.7v1.7h-1.7zM322.53 438.3h1.7v1.7h-1.7zM324.06 424.72h1.7v1.7h-1.7zM319.37 431.7h1.7v1.7h-1.7zM315.56 432.5h1.7v1.7h-1.7zM311.83 429.42h1.7v1.7h-1.7zM319.55 430.6h1.7v1.7h-1.7zM307.73 425.85h1.7v1.7h-1.7zM311.99 429.44h1.7v1.7h-1.7zM324.14 429.73h1.7v1.7h-1.7zM322 433.95h1.7v1.7h-1.7zM324.9 436.85h1.7v1.7h-1.7zM320.97 428.44h1.7v1.7h-1.7zM313.47 437.88h1.7v1.7h-1.7zM321.27 428.68h1.7v1.7h-1.7zM310.24 419.92h1.7v1.7h-1.7zM322.33 424.74h1.7v1.7h-1.7zM325.56 422.65h1.7v1.7h-1.7zM314.13 426.79h1.7v1.7h-1.7zM323.92 429.37h1.7v1.7h-1.7zM319.14 430.39h1.7v1.7h-1.7zM318.17 436.55h1.7v1.7h-1.7zM309.41 433.79h1.7v1.7h-1.7zM318.19 425h1.7v1.7h-1.7zM323.13 432.56h1.7v1.7h-1.7zM310.65 428.36h1.7v1.7h-1.7zM316.6 434h1.7v1.7h-1.7zM315.53 437.01h1.7v1.7h-1.7zM311.06 427.97h1.7v1.7h-1.7zM323.97 433.98h1.7v1.7h-1.7zM319.02 437.9h1.7v1.7h-1.7zM319.13 431.44h1.7v1.7h-1.7zM323.68 418.85h1.7v1.7h-1.7zM315.3 428.03h1.7v1.7h-1.7zM334.66 420.71h1.7v1.7h-1.7zM316.71 435.47h1.7v1.7h-1.7zM313.32 430.35h1.7v1.7h-1.7zM322.01 431.11h1.7v1.7h-1.7zM320.8 439.48h1.7v1.7h-1.7zM314.34 433.87h1.7v1.7h-1.7zM314.63 429.94h1.7v1.7h-1.7zM323.03 412.17h1.7v1.7h-1.7zM320.44 424.15h1.7v1.7h-1.7zM321.04 422.56h1.7v1.7h-1.7zM323.26 427.24h1.7v1.7h-1.7zM316.15 417.4h1.7v1.7h-1.7zM325.18 433.02h1.7v1.7h-1.7zM319.24 437.05h1.7v1.7h-1.7zM322.59 425.65h1.7v1.7h-1.7zM314.69 415.31h1.7v1.7h-1.7zM322.76 429.66h1.7v1.7h-1.7zM320.49 426.75h1.7v1.7h-1.7zM331.12 435.38h1.7v1.7h-1.7zM318.43 428.4h1.7v1.7h-1.7zM326.56 422.01h1.7v1.7h-1.7zM322.26 416.01h1.7v1.7h-1.7zM326.77 429.03h1.7v1.7h-1.7zM320.36 407.12h1.7v1.7h-1.7zM321.54 418.63h1.7v1.7h-1.7zM308.51 433.58h1.7v1.7h-1.7zM313.06 427.47h1.7v1.7h-1.7zM324.28 428.51h1.7v1.7h-1.7zM321.28 426.7h1.7v1.7h-1.7zM322.97 415.98h1.7v1.7h-1.7zM317.97 425.29h1.7v1.7h-1.7zM323.03 431.91h1.7v1.7h-1.7zM317.52 432.28h1.7v1.7h-1.7zM318.97 419.21h1.7v1.7h-1.7zM325.11 429.44h1.7v1.7h-1.7zM324.45 434.88h1.7v1.7h-1.7zM317.14 430.57h1.7v1.7h-1.7zM319.49 438.7h1.7v1.7h-1.7zM320.38 429.03h1.7v1.7h-1.7zM318.56 413.65h1.7v1.7h-1.7zM318.76 428.82h1.7v1.7h-1.7zM314.69 429.97h1.7v1.7h-1.7zM321.98 433.27h1.7v1.7h-1.7zM314.2 432.2h1.7v1.7h-1.7zM314.59 438.73h1.7v1.7h-1.7zM325.37 432.86h1.7v1.7h-1.7zM328.05 430.24h1.7v1.7h-1.7zM328.14 424.12h1.7v1.7h-1.7zM320.94 426.79h1.7v1.7h-1.7zM316.65 437.38h1.7v1.7h-1.7zM322.82 439.22h1.7v1.7h-1.7zM326.71 431.28h1.7v1.7h-1.7zM319.8 430.29h1.7v1.7h-1.7zM317.29 427.19h1.7v1.7h-1.7zM311.2 430.57h1.7v1.7h-1.7zM311.1 429.4h1.7v1.7h-1.7zM327.51 424.45h1.7v1.7h-1.7zM312.15 434.82h1.7v1.7h-1.7zM316 418.83h1.7v1.7h-1.7zM317.77 429.98h1.7v1.7h-1.7zM320.39 430.09h1.7v1.7h-1.7zM312.96 433.25h1.7v1.7h-1.7zM321.95 427.57h1.7v1.7h-1.7zM321.98 420.17h1.7v1.7h-1.7zM319.54 428.11h1.7v1.7h-1.7zM316.19 419.45h1.7v1.7h-1.7zM317.4 425.7h1.7v1.7h-1.7zM309.88 421.9h1.7v1.7h-1.7zM322.19 438.05h1.7v1.7h-1.7zM316.64 408.8h1.7v1.7h-1.7zM312.56 417.8h1.7v1.7h-1.7zM318.97 436.88h1.7v1.7h-1.7zM321.53 427.06h1.7v1.7h-1.7zM320.86 416.19h1.7v1.7h-1.7zM322.13 433h1.7v1.7h-1.7zM324.75 438.77h1.7v1.7h-1.7zM316.58 429.21h1.7v1.7h-1.7zM320.02 434.61h1.7v1.7h-1.7zM320.33 416.52h1.7v1.7h-1.7zM312.07 423.58h1.7v1.7h-1.7zM324.33 430.3h1.7v1.7h-1.7zM317.49 430.16h1.7v1.7h-1.7zM320.25 422.73h1.7v1.7h-1.7zM320.49 423.57h1.7v1.7h-1.7zM315.12 423.24h1.7v1.7h-1.7zM322.99 421.68h1.7v1.7h-1.7zM323.73 423.88h1.7v1.7h-1.7zM319.86 423.69h1.7v1.7h-1.7zM307.4 431.88h1.7v1.7h-1.7zM325.6 415.77h1.7v1.7h-1.7zM318.32 432.16h1.7v1.7h-1.7zM315.91 439.58h1.7v1.7h-1.7zM316.21 430.03h1.7v1.7h-1.7zM313.81 424.62h1.7v1.7h-1.7zM317.25 420.3h1.7v1.7h-1.7zM322 424.16h1.7v1.7h-1.7zM313.69 417.73h1.7v1.7h-1.7zM320.03 430.59h1.7v1.7h-1.7zM316.15 428.03h1.7v1.7h-1.7zM317.77 433.87h1.7v1.7h-1.7zM317.24 430.74h1.7v1.7h-1.7zM320.5 434.17h1.7v1.7h-1.7zM323.9 438.74h1.7v1.7h-1.7zM318.96 435.32h1.7v1.7h-1.7zM323.35 437.25h1.7v1.7h-1.7zM326.19 436.57h1.7v1.7h-1.7zM312.04 425.15h1.7v1.7h-1.7zM322.8 433.26h1.7v1.7h-1.7zM317.58 434.27h1.7v1.7h-1.7zM318.14 430.13h1.7v1.7h-1.7zM323.73 434.21h1.7v1.7h-1.7zM317.91 433.18h1.7v1.7h-1.7zM316.01 438.05h1.7v1.7h-1.7zM325.15 428.65h1.7v1.7h-1.7zM324.13 421.05h1.7v1.7h-1.7zM321.08 425.71h1.7v1.7h-1.7zM332.71 411.75h1.7v1.7h-1.7zM314.36 404.83h1.7v1.7h-1.7zM311.28 419.77h1.7v1.7h-1.7zM318.09 424.52h1.7v1.7h-1.7zM313.65 422.87h1.7v1.7h-1.7zM320.92 436.84h1.7v1.7h-1.7zM316.3 419.09h1.7v1.7h-1.7zM316.25 417.9h1.7v1.7h-1.7zM319.19 438.97h1.7v1.7h-1.7zM315.09 414.91h1.7v1.7h-1.7zM309.89 434.11h1.7v1.7h-1.7zM315.64 428.24h1.7v1.7h-1.7zM322.54 405.4h1.7v1.7h-1.7zM320.28 435.51h1.7v1.7h-1.7zM323.65 426.19h1.7v1.7h-1.7zM327.26 431.64h1.7v1.7h-1.7zM323.38 430.65h1.7v1.7h-1.7zM318.87 431.4h1.7v1.7h-1.7zM315.53 435.04h1.7v1.7h-1.7zM321.38 438.51h1.7v1.7h-1.7zM326.89 430.98h1.7v1.7h-1.7zM326.01 427.59h1.7v1.7h-1.7zM323.66 435.08h1.7v1.7h-1.7zM315.28 432.27h1.7v1.7h-1.7zM321.96 405.74h1.7v1.7h-1.7zM322.57 432.14h1.7v1.7h-1.7zM325.07 425.68h1.7v1.7h-1.7zM313.05 427.1h1.7v1.7h-1.7zM315.8 415.79h1.7v1.7h-1.7zM319.82 439.13h1.7v1.7h-1.7zM319.76 432.41h1.7v1.7h-1.7zM316.22 425.07h1.7v1.7h-1.7zM321.57 425.34h1.7v1.7h-1.7zM317.74 427.52h1.7v1.7h-1.7zM324.49 428.25h1.7v1.7h-1.7zM316.81 434.25h1.7v1.7h-1.7zM320.11 431.67h1.7v1.7h-1.7zM309.05 424.47h1.7v1.7h-1.7zM320.14 426.97h1.7v1.7h-1.7zM315.95 433.08h1.7v1.7h-1.7zM322.58 420.11h1.7v1.7h-1.7zM318.33 425.39h1.7v1.7h-1.7zM325.08 435.35h1.7v1.7h-1.7zM316.6 429.19h1.7v1.7h-1.7zM312.24 438.47h1.7v1.7h-1.7zM320.31 418.68h1.7v1.7h-1.7zM321.95 425.14h1.7v1.7h-1.7zM315.57 421.84h1.7v1.7h-1.7zM312.91 421.34h1.7v1.7h-1.7zM322.8 434.2h1.7v1.7h-1.7zM324.23 436.17h1.7v1.7h-1.7zM322.68 430.01h1.7v1.7h-1.7zM319.59 428.52h1.7v1.7h-1.7zM319.16 439.33h1.7v1.7h-1.7zM327.03 439.71h1.7v1.7h-1.7zM323.03 410.45h1.7v1.7h-1.7zM314.79 428.97h1.7v1.7h-1.7zM313.98 410.82h1.7v1.7h-1.7zM322.18 415.32h1.7v1.7h-1.7zM322.69 423.55h1.7v1.7h-1.7zM316.22 418.97h1.7v1.7h-1.7zM315.52 433.34h1.7v1.7h-1.7zM323.82 425.79h1.7v1.7h-1.7zM317.65 427.53h1.7v1.7h-1.7zM323.2 428.93h1.7v1.7h-1.7zM313.85 439.41h1.7v1.7h-1.7zM314.42 431.47h1.7v1.7h-1.7zM310.94 435.4h1.7v1.7h-1.7zM319.02 432.89h1.7v1.7h-1.7zM317.24 437.34h1.7v1.7h-1.7zM311.09 429.84h1.7v1.7h-1.7zM319.92 429.13h1.7v1.7h-1.7zM316.63 437.77h1.7v1.7h-1.7zM318.1 430.61h1.7v1.7h-1.7zM325.91 414.84h1.7v1.7h-1.7zM323.84 417.97h1.7v1.7h-1.7zM321.54 425.67h1.7v1.7h-1.7zM317.57 432.71h1.7v1.7h-1.7zM313.44 422.52h1.7v1.7h-1.7zM316 439.15h1.7v1.7h-1.7zM317.36 432.21h1.7v1.7h-1.7zM325.22 427.29h1.7v1.7h-1.7zM314.71 418.35h1.7v1.7h-1.7zM316.54 434.02h1.7v1.7h-1.7zM319.11 433.46h1.7v1.7h-1.7zM321.04 418.88h1.7v1.7h-1.7zM324.37 437.97h1.7v1.7h-1.7zM325.56 437.32h1.7v1.7h-1.7zM318.44 438.94h1.7v1.7h-1.7zM328.44 429.24h1.7v1.7h-1.7zM322.4 435.43h1.7v1.7h-1.7zM315.37 410.48h1.7v1.7h-1.7zM314.45 432.08h1.7v1.7h-1.7zM317.14 425.66h1.7v1.7h-1.7zM317.94 428.6h1.7v1.7h-1.7zM322.95 432.23h1.7v1.7h-1.7zM315.21 422.89h1.7v1.7h-1.7zM316.4 427.68h1.7v1.7h-1.7zM315.05 420.15h1.7v1.7h-1.7zM320.43 421.97h1.7v1.7h-1.7zM312.14 418.85h1.7v1.7h-1.7zM321.8 431.44h1.7v1.7h-1.7zM315.33 437.28h1.7v1.7h-1.7zM318.1 420.27h1.7v1.7h-1.7zM321.22 414.39h1.7v1.7h-1.7zM320.58 427.22h1.7v1.7h-1.7zM332.55 431.7h1.7v1.7h-1.7zM314.76 430.77h1.7v1.7h-1.7zM309.09 418.27h1.7v1.7h-1.7zM312.82 429.1h1.7v1.7h-1.7zM323.13 421.24h1.7v1.7h-1.7zM313.98 425.17h1.7v1.7h-1.7zM324.09 427.84h1.7v1.7h-1.7zM318.09 425.04h1.7v1.7h-1.7zM322.72 431.96h1.7v1.7h-1.7zM311.76 424.31h1.7v1.7h-1.7zM324.15 438.71h1.7v1.7h-1.7zM324.71 429.77h1.7v1.7h-1.7zM314.65 418.54h1.7v1.7h-1.7zM325.5 435.3h1.7v1.7h-1.7zM331.84 434.51h1.7v1.7h-1.7zM319.13 430.73h1.7v1.7h-1.7zM314.62 429.02h1.7v1.7h-1.7zM316.26 431.2h1.7v1.7h-1.7zM317.75 434.51h1.7v1.7h-1.7zM324.01 427.88h1.7v1.7h-1.7zM327.97 434.32h1.7v1.7h-1.7zM317.14 423.77h1.7v1.7h-1.7zM318.06 432.22h1.7v1.7h-1.7zM312.46 419.83h1.7v1.7h-1.7zM316.62 431.26h1.7v1.7h-1.7zM321.42 432.7h1.7v1.7h-1.7zM309.46 424.07h1.7v1.7h-1.7zM322.47 431.37h1.7v1.7h-1.7zM323.47 411.85h1.7v1.7h-1.7zM324.97 428.15h1.7v1.7h-1.7zM316.39 426.65h1.7v1.7h-1.7zM311.58 433.04h1.7v1.7h-1.7zM317.8 428.7h1.7v1.7h-1.7zM314.15 435.55h1.7v1.7h-1.7zM310.65 439.23h1.7v1.7h-1.7zM315.48 429.71h1.7v1.7h-1.7zM312.43 434.68h1.7v1.7h-1.7zM328.44 439.74h1.7v1.7h-1.7zM322.75 435.18h1.7v1.7h-1.7zM323.39 436.1h1.7v1.7h-1.7zM313.79 427.31h1.7v1.7h-1.7zM325.77 431.68h1.7v1.7h-1.7zM317.34 420.07h1.7v1.7h-1.7zM323.26 434.78h1.7v1.7h-1.7zM314.23 432h1.7v1.7h-1.7zM322.16 432.03h1.7v1.7h-1.7zM311.06 412.36h1.7v1.7h-1.7zM318.31 435.85h1.7v1.7h-1.7zM317.98 439.07h1.7v1.7h-1.7zM312.55 438.26h1.7v1.7h-1.7zM319.28 432.36h1.7v1.7h-1.7zM316.4 437.92h1.7v1.7h-1.7zM317.24 429.76h1.7v1.7h-1.7zM322.7 423.81h1.7v1.7h-1.7zM325.4 429.24h1.7v1.7h-1.7zM318.19 423.21h1.7v1.7h-1.7zM325.34 439.43h1.7v1.7h-1.7zM323.98 407.25h1.7v1.7h-1.7zM322.74 431.07h1.7v1.7h-1.7zM326.81 421.92h1.7v1.7h-1.7zM311.89 424.66h1.7v1.7h-1.7zM325.57 433.98h1.7v1.7h-1.7zM320.97 429.01h1.7v1.7h-1.7zM317.27 436.35h1.7v1.7h-1.7zM318.35 428.3h1.7v1.7h-1.7zM324.07 428.42h1.7v1.7h-1.7zM324.95 429.98h1.7v1.7h-1.7zM322.63 437.19h1.7v1.7h-1.7zM313.58 423.22h1.7v1.7h-1.7zM312.12 426.56h1.7v1.7h-1.7zM319.39 424.33h1.7v1.7h-1.7zM322.25 425.15h1.7v1.7h-1.7zM315.86 418.07h1.7v1.7h-1.7zM323.45 426.47h1.7v1.7h-1.7zM322.14 431.94h1.7v1.7h-1.7zM321.54 438.04h1.7v1.7h-1.7zM315.53 432.09h1.7v1.7h-1.7zM325.21 423.88h1.7v1.7h-1.7zM323.89 438.22h1.7v1.7h-1.7zM325.76 413.46h1.7v1.7h-1.7zM321.05 432.18h1.7v1.7h-1.7zM313.13 418.12h1.7v1.7h-1.7zM321.07 427.94h1.7v1.7h-1.7zM323.41 416.9h1.7v1.7h-1.7zM318.56 415.23h1.7v1.7h-1.7zM313.72 424.09h1.7v1.7h-1.7zM321.92 439.57h1.7v1.7h-1.7zM322.32 431.31h1.7v1.7h-1.7zM313.19 434.73h1.7v1.7h-1.7zM315.72 426.09h1.7v1.7h-1.7zM312.24 429.23h1.7v1.7h-1.7zM320.78 422.17h1.7v1.7h-1.7zM320.06 423.82h1.7v1.7h-1.7zM327.57 426.18h1.7v1.7h-1.7zM314.78 435.07h1.7v1.7h-1.7zM325.59 431.16h1.7v1.7h-1.7zM318.12 422.48h1.7v1.7h-1.7zM320.47 427.61h1.7v1.7h-1.7zM313.22 421.27h1.7v1.7h-1.7zM319.29 432.49h1.7v1.7h-1.7zM316.61 430.79h1.7v1.7h-1.7zM318.63 430.73h1.7v1.7h-1.7zM320.05 433.59h1.7v1.7h-1.7zM321.5 432.71h1.7v1.7h-1.7zM323.18 438.36h1.7v1.7h-1.7zM319.06 422.55h1.7v1.7h-1.7zM314.86 433.88h1.7v1.7h-1.7zM324.11 427.79h1.7v1.7h-1.7zM319.56 435.09h1.7v1.7h-1.7zM316.25 424.85h1.7v1.7h-1.7zM325.78 414.45h1.7v1.7h-1.7zM320.57 425.61h1.7v1.7h-1.7zM322.67 423.73h1.7v1.7h-1.7zM311.02 419.61h1.7v1.7h-1.7zM316.18 426.03h1.7v1.7h-1.7zM328.89 436.51h1.7v1.7h-1.7zM321.6 426.41h1.7v1.7h-1.7zM321.51 433.58h1.7v1.7h-1.7zM315.77 437.91h1.7v1.7h-1.7zM318.52 435.76h1.7v1.7h-1.7zM320.96 432.26h1.7v1.7h-1.7zM318.81 435.1h1.7v1.7h-1.7zM318.63 425.61h1.7v1.7h-1.7zM310.71 417.68h1.7v1.7h-1.7zM315.32 415.77h1.7v1.7h-1.7zM316.98 435.15h1.7v1.7h-1.7zM321.87 437.83h1.7v1.7h-1.7zM321.63 426.75h1.7v1.7h-1.7zM319.07 429.48h1.7v1.7h-1.7zM315.64 408.49h1.7v1.7h-1.7zM315.64 433.83h1.7v1.7h-1.7zM320.31 428.45h1.7v1.7h-1.7zM312.6 412.56h1.7v1.7h-1.7zM318.04 432.39h1.7v1.7h-1.7zM317.59 433.05h1.7v1.7h-1.7zM317.87 434.53h1.7v1.7h-1.7zM327.07 428.43h1.7v1.7h-1.7zM318.39 430.9h1.7v1.7h-1.7zM323.23 421.54h1.7v1.7h-1.7zM326.76 438.12h1.7v1.7h-1.7zM321.56 426.44h1.7v1.7h-1.7zM319.09 437.25h1.7v1.7h-1.7zM313.04 432.74h1.7v1.7h-1.7zM326.87 427.5h1.7v1.7h-1.7zM313.73 437.62h1.7v1.7h-1.7zM309.23 423.67h1.7v1.7h-1.7zM324.18 431.78h1.7v1.7h-1.7zM311.99 430.37h1.7v1.7h-1.7zM313.27 428.53h1.7v1.7h-1.7zM315.58 430.68h1.7v1.7h-1.7zM313.29 433.95h1.7v1.7h-1.7zM308.49 426.32h1.7v1.7h-1.7zM319.89 425.24h1.7v1.7h-1.7zM321.28 427.94h1.7v1.7h-1.7zM322.59 424.72h1.7v1.7h-1.7zM318.79 420.74h1.7v1.7h-1.7zM317 431.16h1.7v1.7h-1.7zM316.36 413.85h1.7v1.7h-1.7zM324.77 428.65h1.7v1.7h-1.7zM322.96 425.06h1.7v1.7h-1.7zM316.79 430.15h1.7v1.7h-1.7zM320.38 432.03h1.7v1.7h-1.7zM313.21 430.68h1.7v1.7h-1.7zM321.3 429.02h1.7v1.7h-1.7zM313.71 437.34h1.7v1.7h-1.7zM318.17 424.36h1.7v1.7h-1.7zM317.74 418.25h1.7v1.7h-1.7zM306.96 426.94h1.7v1.7h-1.7zM322.08 433.45h1.7v1.7h-1.7zM318.71 439.52h1.7v1.7h-1.7zM315.08 438.88h1.7v1.7h-1.7zM315.38 431.51h1.7v1.7h-1.7zM318.33 436.49h1.7v1.7h-1.7zM318.02 439.43h1.7v1.7h-1.7zM320.96 425.11h1.7v1.7h-1.7zM319.52 438.68h1.7v1.7h-1.7zM321.72 432.15h1.7v1.7h-1.7zM319.98 428.49h1.7v1.7h-1.7zM312.11 432.84h1.7v1.7h-1.7zM312.08 433.51h1.7v1.7h-1.7zM311.99 387.83h1.7v1.7h-1.7zM316.47 389.62h1.7v1.7h-1.7zM320.05 393.2h1.7v1.7h-1.7zM315.57 393.2h1.7v1.7h-1.7zM320.94 395.89h1.7v1.7h-1.7zM327.21 398.57h1.7v1.7h-1.7zM312.89 399.47h1.7v1.7h-1.7zM319.15 400.36h1.7v1.7h-1.7zM310.2 402.15h1.7v1.7h-1.7zM325.42 403.05h1.7v1.7h-1.7zM316.47 405.73h1.7v1.7h-1.7zM322.73 407.52h1.7v1.7h-1.7zM337.95 416.47h1.7v1.7h-1.7zM332.58 422.74h1.7v1.7h-1.7zM334.37 422.74h1.7v1.7h-1.7zM337.95 431.69h1.7v1.7h-1.7zM339.74 432.58h1.7v1.7h-1.7zM342.42 436.16h1.7v1.7h-1.7zM354.06 440.64h1.7v1.7h-1.7zM373.74 437.06h1.7v1.7h-1.7zM327.21 413.79h1.7v1.7h-1.7zM329 417.37h1.7v1.7h-1.7zM325.42 412h1.7v1.7h-1.7z"/>
<rect x="304" y="388.9" width="1.6" height="22.9" fill="#a9bad8"/>
<rect x="304" y="411.8" width="2.0" height="30.4" fill="#23528f"/>
<path fill="#1c4d92" d="M304.48 398.32h1.1v1.1h-1.1zM304.52 406.07h1.1v1.1h-1.1zM304.35 395.58h1.1v1.1h-1.1zM304.31 396.33h1.1v1.1h-1.1zM304.23 392.28h1.1v1.1h-1.1zM304.14 406.31h1.1v1.1h-1.1z"/>
<rect x="310" y="447.4" width="21.6" height="1.6" fill="#23528f"/>
<path fill="#1c4d92" d="M323.72 447.6h1.2v1.2h-1.2zM329.05 447.6h1.2v1.2h-1.2zM318.72 447.6h1.2v1.2h-1.2zM317.27 447.6h1.2v1.2h-1.2zM311.42 447.6h1.2v1.2h-1.2zM319.13 447.6h1.2v1.2h-1.2zM326.52 447.6h1.2v1.2h-1.2zM325.61 447.6h1.2v1.2h-1.2zM325.38 447.6h1.2v1.2h-1.2zM329.57 447.6h1.2v1.2h-1.2zM321.4 447.6h1.2v1.2h-1.2zM318.3 447.6h1.2v1.2h-1.2zM313.17 447.6h1.2v1.2h-1.2zM317.36 447.6h1.2v1.2h-1.2zM354.38 447.6h1.2v1.2h-1.2zM351.73 447.6h1.2v1.2h-1.2zM342.3 447.6h1.2v1.2h-1.2zM346.66 447.6h1.2v1.2h-1.2zM348.06 447.6h1.2v1.2h-1.2zM353.66 447.6h1.2v1.2h-1.2zM338.12 447.6h1.2v1.2h-1.2zM345.44 447.6h1.2v1.2h-1.2zM334.21 447.6h1.2v1.2h-1.2zM354.56 447.6h1.2v1.2h-1.2zM343.47 447.6h1.2v1.2h-1.2zM338.75 447.6h1.2v1.2h-1.2z"/>
<line x1="330.7" y1="430.7" x2="375.5" y2="438.8" stroke="#1c4d92" stroke-width="1.25"/>
<rect x="303.5" y="386.4" width="73.2" height="63.2" fill="none" stroke="#b0b0b0" stroke-width="0.6"/>
<line x1="322.85" y1="449.6" x2="322.85" y2="450.9" stroke="#666" stroke-width="0.5"/>
<text x="322.85" y="455.06" font-size="4.6" text-anchor="middle" fill="#444" stroke="#444" stroke-width="0.2">100</text>
<line x1="344.5" y1="449.6" x2="344.5" y2="450.9" stroke="#666" stroke-width="0.5"/>
<text x="344.5" y="455.06" font-size="4.6" text-anchor="middle" fill="#444" stroke="#444" stroke-width="0.2">200</text>
<line x1="366.15" y1="449.6" x2="366.15" y2="450.9" stroke="#666" stroke-width="0.5"/>
<text x="366.15" y="455.06" font-size="4.6" text-anchor="middle" fill="#444" stroke="#444" stroke-width="0.2">300</text>
<line x1="302.2" y1="442.2" x2="303.5" y2="442.2" stroke="#666" stroke-width="0.5"/>
<text x="301.7" y="444.04" font-size="5.1" text-anchor="end" fill="#555" stroke="#555" stroke-width="0.2">0</text>
<line x1="302.2" y1="422.3" x2="303.5" y2="422.3" stroke="#666" stroke-width="0.5"/>
<text x="301.7" y="424.14" font-size="5.1" text-anchor="end" fill="#555" stroke="#555" stroke-width="0.2">2000</text>
<line x1="302.2" y1="402.4" x2="303.5" y2="402.4" stroke="#666" stroke-width="0.5"/>
<text x="301.7" y="404.24" font-size="5.1" text-anchor="end" fill="#555" stroke="#555" stroke-width="0.2">4000</text>
<text x="340.1" y="460.16" font-size="4.9" text-anchor="middle" fill="#333" stroke="#333" stroke-width="0.2">IMMT</text>
<text x="286.6" y="420.09" font-size="5.25" text-anchor="middle" fill="#333" stroke="#333" stroke-width="0.2" transform="rotate(-90 286.6 418.2)">VEGFA</text>
<text x="345" y="395.1" font-size="5.2" fill="#222" stroke="#222" stroke-width="0.2"><tspan font-style="italic">r</tspan> = −0.17</text>
<text x="345" y="401.3" font-size="5.2" fill="#222" stroke="#222" stroke-width="0.2"><tspan font-style="italic">P</tspan> &lt; 0.001</text>
<rect x="29.6" y="470" width="73.2" height="61.5" fill="#fff" stroke="none" stroke-width="1"/>
<line x1="49.6" y1="470" x2="49.6" y2="531.5" stroke="#ececec" stroke-width="0.6"/>
<line x1="71.15" y1="470" x2="71.15" y2="531.5" stroke="#ececec" stroke-width="0.6"/>
<line x1="92.7" y1="470" x2="92.7" y2="531.5" stroke="#ececec" stroke-width="0.6"/>
<line x1="29.6" y1="530.1" x2="102.8" y2="530.1" stroke="#ececec" stroke-width="0.6"/>
<line x1="29.6" y1="515.2" x2="102.8" y2="515.2" stroke="#ececec" stroke-width="0.6"/>
<line x1="29.6" y1="500.3" x2="102.8" y2="500.3" stroke="#ececec" stroke-width="0.6"/>
<line x1="29.6" y1="485.4" x2="102.8" y2="485.4" stroke="#ececec" stroke-width="0.6"/>
<line x1="29.6" y1="470.5" x2="102.8" y2="470.5" stroke="#ececec" stroke-width="0.6"/>
<path d="M50.5 500.2 Q63.25 505.97 101.5 517.3 L101.5 528.1 Q63.25 507.18 50.5 502.2Z" fill="#cfcfcf"/>
<path fill="#1c4d92" d="M52.93 506.77h1.7v1.7h-1.7zM48.6 491.32h1.7v1.7h-1.7zM42.13 488.26h1.7v1.7h-1.7zM46.32 493.23h1.7v1.7h-1.7zM45.66 496.86h1.7v1.7h-1.7zM46.14 502.66h1.7v1.7h-1.7zM49.69 497.63h1.7v1.7h-1.7zM41.63 497.97h1.7v1.7h-1.7zM51.28 501.27h1.7v1.7h-1.7zM42.28 489.84h1.7v1.7h-1.7zM46.31 504.45h1.7v1.7h-1.7zM50.93 504.22h1.7v1.7h-1.7zM49.97 496.39h1.7v1.7h-1.7zM44.15 493.43h1.7v1.7h-1.7zM54.72 495.69h1.7v1.7h-1.7zM48.69 487.29h1.7v1.7h-1.7zM43.02 492.92h1.7v1.7h-1.7zM47.31 502.32h1.7v1.7h-1.7zM43.55 476.88h1.7v1.7h-1.7zM48.99 494.17h1.7v1.7h-1.7zM41.36 503.9h1.7v1.7h-1.7zM49.18 506.33h1.7v1.7h-1.7zM39.52 486.14h1.7v1.7h-1.7zM51.83 496.15h1.7v1.7h-1.7zM48.29 504.83h1.7v1.7h-1.7zM52.95 494.79h1.7v1.7h-1.7zM44.07 494.63h1.7v1.7h-1.7zM38.13 485.87h1.7v1.7h-1.7zM41.24 495.77h1.7v1.7h-1.7zM46.08 497.56h1.7v1.7h-1.7zM55.56 511.55h1.7v1.7h-1.7zM49.58 492.8h1.7v1.7h-1.7zM52.76 491.34h1.7v1.7h-1.7zM43.35 492.44h1.7v1.7h-1.7zM44.84 497.17h1.7v1.7h-1.7zM45.69 494.26h1.7v1.7h-1.7zM52.15 513.11h1.7v1.7h-1.7zM44.7 492.39h1.7v1.7h-1.7zM45.87 494.88h1.7v1.7h-1.7zM54.09 506.01h1.7v1.7h-1.7zM43.37 503.82h1.7v1.7h-1.7zM46.98 497.96h1.7v1.7h-1.7zM41.35 497.14h1.7v1.7h-1.7zM46.11 488.88h1.7v1.7h-1.7zM50.69 493.7h1.7v1.7h-1.7zM52.25 501.75h1.7v1.7h-1.7zM41.14 497.57h1.7v1.7h-1.7zM36.27 493.05h1.7v1.7h-1.7zM49.44 501.29h1.7v1.7h-1.7zM54.28 505.73h1.7v1.7h-1.7zM44.11 494.94h1.7v1.7h-1.7zM48.26 496.06h1.7v1.7h-1.7zM47.24 495.81h1.7v1.7h-1.7zM37.86 483.12h1.7v1.7h-1.7zM35.65 485.31h1.7v1.7h-1.7zM46.83 492.42h1.7v1.7h-1.7zM49.21 501.75h1.7v1.7h-1.7zM40.61 506.29h1.7v1.7h-1.7zM45.72 500.55h1.7v1.7h-1.7zM43.72 505.9h1.7v1.7h-1.7zM42.98 489.65h1.7v1.7h-1.7zM41.58 491.48h1.7v1.7h-1.7zM52.15 499.83h1.7v1.7h-1.7zM47.17 503.89h1.7v1.7h-1.7zM46.12 507.71h1.7v1.7h-1.7zM45.02 501.48h1.7v1.7h-1.7zM48.75 501.28h1.7v1.7h-1.7zM44.91 497.7h1.7v1.7h-1.7zM47.76 495.16h1.7v1.7h-1.7zM43.76 498.59h1.7v1.7h-1.7zM48.55 501.22h1.7v1.7h-1.7zM45.72 497.36h1.7v1.7h-1.7zM49.44 494.71h1.7v1.7h-1.7zM40.26 494.29h1.7v1.7h-1.7zM43.55 495.04h1.7v1.7h-1.7zM41.63 489.62h1.7v1.7h-1.7zM53.66 508.07h1.7v1.7h-1.7zM44.26 495.68h1.7v1.7h-1.7zM46.59 500.87h1.7v1.7h-1.7zM39.44 486.07h1.7v1.7h-1.7zM42.73 492.56h1.7v1.7h-1.7zM39.45 488.52h1.7v1.7h-1.7zM46.29 491.17h1.7v1.7h-1.7zM42.58 495.72h1.7v1.7h-1.7zM53.31 500.47h1.7v1.7h-1.7zM42.92 488.05h1.7v1.7h-1.7zM51.01 496.9h1.7v1.7h-1.7zM46.08 497.61h1.7v1.7h-1.7zM48.89 498.84h1.7v1.7h-1.7zM42.73 504.96h1.7v1.7h-1.7zM46.46 483.95h1.7v1.7h-1.7zM45.99 501.89h1.7v1.7h-1.7zM43.28 499.55h1.7v1.7h-1.7zM49.05 501.61h1.7v1.7h-1.7zM40.25 489.19h1.7v1.7h-1.7zM45.93 493.06h1.7v1.7h-1.7zM45.8 485.64h1.7v1.7h-1.7zM47.05 500.42h1.7v1.7h-1.7zM41.72 491.06h1.7v1.7h-1.7zM49.53 496.5h1.7v1.7h-1.7zM42.81 503.92h1.7v1.7h-1.7zM44.09 490.41h1.7v1.7h-1.7zM42.55 494.76h1.7v1.7h-1.7zM45.02 500.12h1.7v1.7h-1.7zM48.3 498.21h1.7v1.7h-1.7zM59.16 507.44h1.7v1.7h-1.7zM35.31 491.67h1.7v1.7h-1.7zM50.63 501.62h1.7v1.7h-1.7zM50.51 493.47h1.7v1.7h-1.7zM53.05 495.03h1.7v1.7h-1.7zM47.85 504.26h1.7v1.7h-1.7zM48.76 501.8h1.7v1.7h-1.7zM54.48 501.65h1.7v1.7h-1.7zM47.26 494.4h1.7v1.7h-1.7zM47.62 505.87h1.7v1.7h-1.7zM46.84 496.1h1.7v1.7h-1.7zM48.78 493.81h1.7v1.7h-1.7zM54.5 507.9h1.7v1.7h-1.7zM43.06 489.37h1.7v1.7h-1.7zM51.93 499.14h1.7v1.7h-1.7zM36.94 492.01h1.7v1.7h-1.7zM48.9 492.87h1.7v1.7h-1.7zM45.08 498.27h1.7v1.7h-1.7zM52.39 502.79h1.7v1.7h-1.7zM50.36 502.77h1.7v1.7h-1.7zM50.27 499.06h1.7v1.7h-1.7zM49.34 507.57h1.7v1.7h-1.7zM48.31 498.74h1.7v1.7h-1.7zM38.15 489.57h1.7v1.7h-1.7zM48.13 500.64h1.7v1.7h-1.7zM41.02 491.35h1.7v1.7h-1.7zM51.37 486.93h1.7v1.7h-1.7zM43.96 502.48h1.7v1.7h-1.7zM46.84 487.79h1.7v1.7h-1.7zM44.66 485.16h1.7v1.7h-1.7zM47.11 499.91h1.7v1.7h-1.7zM47.58 494.69h1.7v1.7h-1.7zM48.96 504.83h1.7v1.7h-1.7zM41.39 499.92h1.7v1.7h-1.7zM53.41 507.5h1.7v1.7h-1.7zM42.09 493.52h1.7v1.7h-1.7zM45.94 499.08h1.7v1.7h-1.7zM35.43 482.63h1.7v1.7h-1.7zM47.92 502.29h1.7v1.7h-1.7zM50.83 499.85h1.7v1.7h-1.7zM51.82 500.18h1.7v1.7h-1.7zM48.87 499.76h1.7v1.7h-1.7zM48.72 499.3h1.7v1.7h-1.7zM43.78 498.1h1.7v1.7h-1.7zM44.89 500.8h1.7v1.7h-1.7zM45.76 496.72h1.7v1.7h-1.7zM47.26 495.53h1.7v1.7h-1.7zM42 486.78h1.7v1.7h-1.7zM45.05 505.03h1.7v1.7h-1.7zM48.9 500.73h1.7v1.7h-1.7zM47.33 496.09h1.7v1.7h-1.7zM46.06 487.81h1.7v1.7h-1.7zM43.13 498.09h1.7v1.7h-1.7zM47.88 490.72h1.7v1.7h-1.7zM47.43 499.12h1.7v1.7h-1.7zM53.02 499.1h1.7v1.7h-1.7zM46.71 502.88h1.7v1.7h-1.7zM50.85 497.49h1.7v1.7h-1.7zM40.97 486.74h1.7v1.7h-1.7zM54.28 490.2h1.7v1.7h-1.7zM40.74 489.77h1.7v1.7h-1.7zM46.24 505.07h1.7v1.7h-1.7zM45 497.44h1.7v1.7h-1.7zM44.01 492.81h1.7v1.7h-1.7zM45.14 501.93h1.7v1.7h-1.7zM44.17 491.54h1.7v1.7h-1.7zM46.91 502.1h1.7v1.7h-1.7zM47.61 490.01h1.7v1.7h-1.7zM51.36 493.22h1.7v1.7h-1.7zM51.77 504.33h1.7v1.7h-1.7zM54.01 494.01h1.7v1.7h-1.7zM48.51 503.44h1.7v1.7h-1.7zM43.03 494.22h1.7v1.7h-1.7zM56.46 512.26h1.7v1.7h-1.7zM48.89 495.03h1.7v1.7h-1.7zM35.63 487.65h1.7v1.7h-1.7zM49.8 506.72h1.7v1.7h-1.7zM45.91 492.58h1.7v1.7h-1.7zM43.47 495.82h1.7v1.7h-1.7zM43.92 489.57h1.7v1.7h-1.7zM46.76 501.77h1.7v1.7h-1.7zM43.02 494.4h1.7v1.7h-1.7zM47.53 491.28h1.7v1.7h-1.7zM45.79 496.59h1.7v1.7h-1.7zM45.75 490.49h1.7v1.7h-1.7zM48.47 501.64h1.7v1.7h-1.7zM47.96 491.12h1.7v1.7h-1.7zM53.43 513.05h1.7v1.7h-1.7zM48.61 509.6h1.7v1.7h-1.7zM42.48 483.34h1.7v1.7h-1.7zM46.69 499.28h1.7v1.7h-1.7zM53.9 496.97h1.7v1.7h-1.7zM53.96 497.41h1.7v1.7h-1.7zM43.21 487.26h1.7v1.7h-1.7zM49.54 506.3h1.7v1.7h-1.7zM44.66 484.55h1.7v1.7h-1.7zM45.51 504.64h1.7v1.7h-1.7zM40.05 482.71h1.7v1.7h-1.7zM39.65 497.12h1.7v1.7h-1.7zM45.37 495.13h1.7v1.7h-1.7zM47.7 494.47h1.7v1.7h-1.7zM48.77 492.91h1.7v1.7h-1.7zM42.92 492.26h1.7v1.7h-1.7zM45.61 497.9h1.7v1.7h-1.7zM47.14 505.17h1.7v1.7h-1.7zM45.93 485.73h1.7v1.7h-1.7zM35.65 490.53h1.7v1.7h-1.7zM42.07 492.73h1.7v1.7h-1.7zM47.02 492.71h1.7v1.7h-1.7zM49.06 497.59h1.7v1.7h-1.7zM42.62 493.95h1.7v1.7h-1.7zM50.97 494.76h1.7v1.7h-1.7zM36.05 485.05h1.7v1.7h-1.7zM51.96 501.6h1.7v1.7h-1.7zM43.47 492.04h1.7v1.7h-1.7zM46.52 498.84h1.7v1.7h-1.7zM42.46 488.83h1.7v1.7h-1.7zM41.36 494.77h1.7v1.7h-1.7zM45.11 498.37h1.7v1.7h-1.7zM46.7 499.15h1.7v1.7h-1.7zM41.6 495.09h1.7v1.7h-1.7zM49.89 499.09h1.7v1.7h-1.7zM44.61 494.41h1.7v1.7h-1.7zM46.84 493.32h1.7v1.7h-1.7zM43.35 491.07h1.7v1.7h-1.7zM43.6 495.58h1.7v1.7h-1.7zM46.27 488.15h1.7v1.7h-1.7zM40.53 501.46h1.7v1.7h-1.7zM49.33 490.9h1.7v1.7h-1.7zM40.88 492.22h1.7v1.7h-1.7zM48.14 504.23h1.7v1.7h-1.7zM41.48 502.63h1.7v1.7h-1.7zM45.43 499.78h1.7v1.7h-1.7zM43.33 495.42h1.7v1.7h-1.7zM51.61 492.58h1.7v1.7h-1.7zM53.73 503.49h1.7v1.7h-1.7zM44.54 494.09h1.7v1.7h-1.7zM48.34 490.38h1.7v1.7h-1.7zM47.42 496.01h1.7v1.7h-1.7zM49.6 504.25h1.7v1.7h-1.7zM50.94 503.04h1.7v1.7h-1.7zM54.29 504.12h1.7v1.7h-1.7zM46.83 501.97h1.7v1.7h-1.7zM38.7 495.25h1.7v1.7h-1.7zM49.46 500.96h1.7v1.7h-1.7zM44.83 495.01h1.7v1.7h-1.7zM45.85 497.79h1.7v1.7h-1.7zM51.83 498.52h1.7v1.7h-1.7zM53.2 498.33h1.7v1.7h-1.7zM46.98 493.06h1.7v1.7h-1.7zM51.98 508.86h1.7v1.7h-1.7zM48.51 501.58h1.7v1.7h-1.7zM50.1 503.68h1.7v1.7h-1.7zM46.08 497.19h1.7v1.7h-1.7zM52.44 502.18h1.7v1.7h-1.7zM44.05 491.85h1.7v1.7h-1.7zM46.91 494.39h1.7v1.7h-1.7zM50.64 504.4h1.7v1.7h-1.7zM42.47 504.27h1.7v1.7h-1.7zM48.26 487.64h1.7v1.7h-1.7zM48.61 494.21h1.7v1.7h-1.7zM50.18 494.91h1.7v1.7h-1.7zM54.11 495.02h1.7v1.7h-1.7zM37.57 487.03h1.7v1.7h-1.7zM50.81 496.6h1.7v1.7h-1.7zM48.2 491.32h1.7v1.7h-1.7zM51.7 501.14h1.7v1.7h-1.7zM49.64 488.94h1.7v1.7h-1.7zM43.84 501.75h1.7v1.7h-1.7zM44.27 498.87h1.7v1.7h-1.7zM42.37 491.27h1.7v1.7h-1.7zM51.98 494.18h1.7v1.7h-1.7zM43.97 489.02h1.7v1.7h-1.7zM48.02 497.65h1.7v1.7h-1.7zM45.61 504.15h1.7v1.7h-1.7zM37.77 497.17h1.7v1.7h-1.7zM45.15 500.46h1.7v1.7h-1.7zM45.79 489.85h1.7v1.7h-1.7zM52.81 500.05h1.7v1.7h-1.7zM45.6 499.64h1.7v1.7h-1.7zM41.68 495.57h1.7v1.7h-1.7zM44.17 497.03h1.7v1.7h-1.7zM50.11 498.09h1.7v1.7h-1.7zM49.14 496.51h1.7v1.7h-1.7zM48.94 498.01h1.7v1.7h-1.7zM49.52 499.65h1.7v1.7h-1.7zM43.12 494.28h1.7v1.7h-1.7zM50.59 504.94h1.7v1.7h-1.7zM48.13 494.1h1.7v1.7h-1.7zM37.63 502.14h1.7v1.7h-1.7zM44.01 498.15h1.7v1.7h-1.7zM52.29 499.75h1.7v1.7h-1.7zM44.3 500.3h1.7v1.7h-1.7zM45.05 498.82h1.7v1.7h-1.7zM46.87 487.8h1.7v1.7h-1.7zM47.37 495.79h1.7v1.7h-1.7zM46.62 503.24h1.7v1.7h-1.7zM49.18 499.71h1.7v1.7h-1.7zM43.5 502.74h1.7v1.7h-1.7zM40.43 489.49h1.7v1.7h-1.7zM46.71 497.23h1.7v1.7h-1.7zM46.52 494.46h1.7v1.7h-1.7zM51.06 499.88h1.7v1.7h-1.7zM55.88 499.31h1.7v1.7h-1.7zM49.07 494.83h1.7v1.7h-1.7zM50.74 505.28h1.7v1.7h-1.7zM54.34 496.09h1.7v1.7h-1.7zM50.52 497.82h1.7v1.7h-1.7zM49.99 503.86h1.7v1.7h-1.7zM43.07 505.14h1.7v1.7h-1.7zM45.34 504.48h1.7v1.7h-1.7zM43.73 499.57h1.7v1.7h-1.7zM45.48 494.98h1.7v1.7h-1.7zM51.52 500.26h1.7v1.7h-1.7zM49.97 503.65h1.7v1.7h-1.7zM47.14 497.32h1.7v1.7h-1.7zM37.69 481.05h1.7v1.7h-1.7zM49.54 499.26h1.7v1.7h-1.7zM49.37 497.2h1.7v1.7h-1.7zM41.99 478.01h1.7v1.7h-1.7zM47.35 496.7h1.7v1.7h-1.7zM45.75 493.2h1.7v1.7h-1.7zM49.75 500.65h1.7v1.7h-1.7zM38.02 491.6h1.7v1.7h-1.7zM41.38 500.33h1.7v1.7h-1.7zM36.2 471.73h1.7v1.7h-1.7zM34.41 476.2h1.7v1.7h-1.7zM40.68 477.1h1.7v1.7h-1.7zM44.26 477.99h1.7v1.7h-1.7zM38.89 480.68h1.7v1.7h-1.7zM46.94 482.47h1.7v1.7h-1.7zM49.63 486.05h1.7v1.7h-1.7zM51.42 485.15h1.7v1.7h-1.7zM61.26 496.79h1.7v1.7h-1.7zM63.95 495h1.7v1.7h-1.7zM64.84 497.68h1.7v1.7h-1.7zM63.95 503.95h1.7v1.7h-1.7zM68.42 508.42h1.7v1.7h-1.7zM60.37 511.11h1.7v1.7h-1.7zM65.74 511.11h1.7v1.7h-1.7zM70.21 514.69h1.7v1.7h-1.7zM76.48 511.11h1.7v1.7h-1.7zM90.8 512.9h1.7v1.7h-1.7zM100.64 512h1.7v1.7h-1.7zM71.11 508.42h1.7v1.7h-1.7zM31.73 514.33h1.7v1.7h-1.7zM36.2 503.95h1.7v1.7h-1.7zM37.99 508.42h1.7v1.7h-1.7z"/>
<rect x="30.1" y="472.5" width="1.6" height="9" fill="#a9bad8"/>
<rect x="30.1" y="481.5" width="2.0" height="32.5" fill="#23528f"/>
<path fill="#1c4d92" d="M30.61 473.54h1.1v1.1h-1.1zM30.54 480.71h1.1v1.1h-1.1zM30.54 478.16h1.1v1.1h-1.1zM30.38 476.79h1.1v1.1h-1.1zM30.38 474.02h1.1v1.1h-1.1zM30.23 474.95h1.1v1.1h-1.1z"/>
<rect x="33.5" y="529.4" width="24.1" height="1.6" fill="#23528f"/>
<path fill="#1c4d92" d="M48.02 529.6h1.2v1.2h-1.2zM41.08 529.6h1.2v1.2h-1.2zM50.21 529.6h1.2v1.2h-1.2zM55.73 529.6h1.2v1.2h-1.2zM53.27 529.6h1.2v1.2h-1.2zM53.7 529.6h1.2v1.2h-1.2zM53.53 529.6h1.2v1.2h-1.2zM42.54 529.6h1.2v1.2h-1.2zM34.64 529.6h1.2v1.2h-1.2zM35.89 529.6h1.2v1.2h-1.2zM40.5 529.6h1.2v1.2h-1.2zM40.17 529.6h1.2v1.2h-1.2zM55.13 529.6h1.2v1.2h-1.2zM49.7 529.6h1.2v1.2h-1.2zM64.98 529.6h1.2v1.2h-1.2zM72.04 529.6h1.2v1.2h-1.2zM71 529.6h1.2v1.2h-1.2zM61.98 529.6h1.2v1.2h-1.2zM57.63 529.6h1.2v1.2h-1.2zM62.5 529.6h1.2v1.2h-1.2zM62.78 529.6h1.2v1.2h-1.2zM57.81 529.6h1.2v1.2h-1.2zM73.55 529.6h1.2v1.2h-1.2zM65.72 529.6h1.2v1.2h-1.2zM61.33 529.6h1.2v1.2h-1.2zM70.39 529.6h1.2v1.2h-1.2z"/>
<line x1="50.5" y1="501.2" x2="101.5" y2="522.7" stroke="#1c4d92" stroke-width="1.25"/>
<rect x="29.6" y="470" width="73.2" height="61.5" fill="none" stroke="#b0b0b0" stroke-width="0.6"/>
<line x1="49.6" y1="531.5" x2="49.6" y2="532.8" stroke="#666" stroke-width="0.5"/>
<text x="49.6" y="536.96" font-size="4.6" text-anchor="middle" fill="#444" stroke="#444" stroke-width="0.2">100</text>
<line x1="71.15" y1="531.5" x2="71.15" y2="532.8" stroke="#666" stroke-width="0.5"/>
<text x="71.15" y="536.96" font-size="4.6" text-anchor="middle" fill="#444" stroke="#444" stroke-width="0.2">200</text>
<line x1="92.7" y1="531.5" x2="92.7" y2="532.8" stroke="#666" stroke-width="0.5"/>
<text x="92.7" y="536.96" font-size="4.6" text-anchor="middle" fill="#444" stroke="#444" stroke-width="0.2">300</text>
<line x1="28.3" y1="530.1" x2="29.6" y2="530.1" stroke="#666" stroke-width="0.5"/>
<text x="27.8" y="531.54" font-size="4" text-anchor="end" fill="#555" stroke="#555" stroke-width="0.2">−2000</text>
<line x1="28.3" y1="515.2" x2="29.6" y2="515.2" stroke="#666" stroke-width="0.5"/>
<text x="27.8" y="516.64" font-size="4" text-anchor="end" fill="#555" stroke="#555" stroke-width="0.2">0</text>
<line x1="28.3" y1="500.3" x2="29.6" y2="500.3" stroke="#666" stroke-width="0.5"/>
<text x="27.8" y="501.74" font-size="4" text-anchor="end" fill="#555" stroke="#555" stroke-width="0.2">2000</text>
<line x1="28.3" y1="485.4" x2="29.6" y2="485.4" stroke="#666" stroke-width="0.5"/>
<text x="27.8" y="486.84" font-size="4" text-anchor="end" fill="#555" stroke="#555" stroke-width="0.2">4000</text>
<line x1="28.3" y1="470.5" x2="29.6" y2="470.5" stroke="#666" stroke-width="0.5"/>
<text x="27.8" y="471.94" font-size="4" text-anchor="end" fill="#555" stroke="#555" stroke-width="0.2">6000</text>
<text x="66.2" y="542.06" font-size="4.9" text-anchor="middle" fill="#333" stroke="#333" stroke-width="0.2">IMMT</text>
<text x="13.9" y="502.15" font-size="4.3" text-anchor="middle" fill="#333" stroke="#333" stroke-width="0.2" transform="rotate(-90 13.9 500.6)">VIM</text>
<text x="65.7" y="478.9" font-size="5.5" fill="#222" stroke="#222" stroke-width="0.2"><tspan font-style="italic">r</tspan> = −0.447</text>
<text x="65.7" y="486.7" font-size="5.5" fill="#222" stroke="#222" stroke-width="0.2"><tspan font-style="italic">P</tspan> &lt; 0.001</text>
<rect x="167.8" y="472" width="73.7" height="62.8" fill="#fff" stroke="none" stroke-width="1"/>
<line x1="189.6" y1="472" x2="189.6" y2="534.8" stroke="#ececec" stroke-width="0.6"/>
<line x1="214.65" y1="472" x2="214.65" y2="534.8" stroke="#ececec" stroke-width="0.6"/>
<line x1="239.7" y1="472" x2="239.7" y2="534.8" stroke="#ececec" stroke-width="0.6"/>
<line x1="167.8" y1="533.58" x2="241.5" y2="533.58" stroke="#ececec" stroke-width="0.6"/>
<line x1="167.8" y1="521.5" x2="241.5" y2="521.5" stroke="#ececec" stroke-width="0.6"/>
<line x1="167.8" y1="509.42" x2="241.5" y2="509.42" stroke="#ececec" stroke-width="0.6"/>
<line x1="167.8" y1="497.34" x2="241.5" y2="497.34" stroke="#ececec" stroke-width="0.6"/>
<line x1="167.8" y1="485.26" x2="241.5" y2="485.26" stroke="#ececec" stroke-width="0.6"/>
<line x1="167.8" y1="473.18" x2="241.5" y2="473.18" stroke="#ececec" stroke-width="0.6"/>
<path d="M192 507.7 Q203.88 512.12 239.5 519.7 L239.5 529.7 Q203.88 513.12 192 509.5Z" fill="#cfcfcf"/>
<path fill="#1c4d92" d="M187 494.03h1.7v1.7h-1.7zM185.46 501.65h1.7v1.7h-1.7zM183.2 498.61h1.7v1.7h-1.7zM175.7 505.76h1.7v1.7h-1.7zM185.56 507.99h1.7v1.7h-1.7zM189.46 504.19h1.7v1.7h-1.7zM189.96 517.31h1.7v1.7h-1.7zM183.18 500.37h1.7v1.7h-1.7zM195.06 510.79h1.7v1.7h-1.7zM193.83 512.19h1.7v1.7h-1.7zM184.5 498.91h1.7v1.7h-1.7zM184.81 505.32h1.7v1.7h-1.7zM189.6 508.12h1.7v1.7h-1.7zM184.39 503.51h1.7v1.7h-1.7zM186.45 508.67h1.7v1.7h-1.7zM190.72 506.68h1.7v1.7h-1.7zM190.59 504.33h1.7v1.7h-1.7zM183.2 507.78h1.7v1.7h-1.7zM183.52 501.21h1.7v1.7h-1.7zM183.12 506.04h1.7v1.7h-1.7zM185.42 502.3h1.7v1.7h-1.7zM185.8 507.8h1.7v1.7h-1.7zM183.81 504.91h1.7v1.7h-1.7zM188.81 500.24h1.7v1.7h-1.7zM185.69 506.99h1.7v1.7h-1.7zM185.54 502.69h1.7v1.7h-1.7zM177.02 509.09h1.7v1.7h-1.7zM179.53 498.72h1.7v1.7h-1.7zM182.49 507.43h1.7v1.7h-1.7zM187.03 493.36h1.7v1.7h-1.7zM181.76 500.15h1.7v1.7h-1.7zM192.18 498.88h1.7v1.7h-1.7zM186.11 505.55h1.7v1.7h-1.7zM186.59 501.21h1.7v1.7h-1.7zM186 511.39h1.7v1.7h-1.7zM187.6 509.11h1.7v1.7h-1.7zM189.45 513.41h1.7v1.7h-1.7zM183.11 498.64h1.7v1.7h-1.7zM192.22 496.46h1.7v1.7h-1.7zM182.13 503.02h1.7v1.7h-1.7zM187.7 512.3h1.7v1.7h-1.7zM184.59 505.96h1.7v1.7h-1.7zM184.77 513.2h1.7v1.7h-1.7zM188.36 505.23h1.7v1.7h-1.7zM186.35 501.85h1.7v1.7h-1.7zM192.39 510.56h1.7v1.7h-1.7zM183.3 508.93h1.7v1.7h-1.7zM187.7 504.21h1.7v1.7h-1.7zM187.99 502.92h1.7v1.7h-1.7zM194.55 506.18h1.7v1.7h-1.7zM192.39 516.96h1.7v1.7h-1.7zM188.51 495.2h1.7v1.7h-1.7zM192.67 513.63h1.7v1.7h-1.7zM189.13 506.14h1.7v1.7h-1.7zM182.12 510.59h1.7v1.7h-1.7zM186.9 509.35h1.7v1.7h-1.7zM190.75 501.74h1.7v1.7h-1.7zM183.24 505.11h1.7v1.7h-1.7zM192.04 505.87h1.7v1.7h-1.7zM187.01 502.9h1.7v1.7h-1.7zM182.78 495.85h1.7v1.7h-1.7zM187.47 511.68h1.7v1.7h-1.7zM178.74 490.73h1.7v1.7h-1.7zM182.52 504.75h1.7v1.7h-1.7zM180.99 512.2h1.7v1.7h-1.7zM187.62 508.34h1.7v1.7h-1.7zM181.09 510.37h1.7v1.7h-1.7zM178.76 506.12h1.7v1.7h-1.7zM186.79 511.54h1.7v1.7h-1.7zM183.42 499.15h1.7v1.7h-1.7zM182.37 504.3h1.7v1.7h-1.7zM182.92 506.14h1.7v1.7h-1.7zM189.98 508.18h1.7v1.7h-1.7zM186.22 500.45h1.7v1.7h-1.7zM182.26 497.75h1.7v1.7h-1.7zM197.52 510.62h1.7v1.7h-1.7zM187.58 507.95h1.7v1.7h-1.7zM193.71 510.02h1.7v1.7h-1.7zM190 498.61h1.7v1.7h-1.7zM191.35 505.36h1.7v1.7h-1.7zM181.72 499.87h1.7v1.7h-1.7zM183.03 505.82h1.7v1.7h-1.7zM188.25 501.85h1.7v1.7h-1.7zM185.12 505.41h1.7v1.7h-1.7zM185.82 498.47h1.7v1.7h-1.7zM190.16 505.39h1.7v1.7h-1.7zM175.59 503.4h1.7v1.7h-1.7zM184.05 508.13h1.7v1.7h-1.7zM192.08 501.96h1.7v1.7h-1.7zM183.47 504.54h1.7v1.7h-1.7zM185.66 501.41h1.7v1.7h-1.7zM187.12 514.18h1.7v1.7h-1.7zM186.85 507.77h1.7v1.7h-1.7zM186.84 506.03h1.7v1.7h-1.7zM181.47 511.85h1.7v1.7h-1.7zM186.92 489.68h1.7v1.7h-1.7zM182.89 499.02h1.7v1.7h-1.7zM192.26 511.06h1.7v1.7h-1.7zM182.79 503.52h1.7v1.7h-1.7zM186.58 507.58h1.7v1.7h-1.7zM184.62 501.47h1.7v1.7h-1.7zM190.34 506.34h1.7v1.7h-1.7zM186 506.7h1.7v1.7h-1.7zM188.53 511.94h1.7v1.7h-1.7zM183.05 513.94h1.7v1.7h-1.7zM183.85 498.16h1.7v1.7h-1.7zM181.42 505.92h1.7v1.7h-1.7zM184.75 493.07h1.7v1.7h-1.7zM184.27 502.16h1.7v1.7h-1.7zM180.61 504.55h1.7v1.7h-1.7zM180.08 497.86h1.7v1.7h-1.7zM186.17 506.74h1.7v1.7h-1.7zM184.75 504.19h1.7v1.7h-1.7zM182.44 511.78h1.7v1.7h-1.7zM181.53 503.89h1.7v1.7h-1.7zM180.72 499.35h1.7v1.7h-1.7zM185.9 496.69h1.7v1.7h-1.7zM183.19 502.02h1.7v1.7h-1.7zM182.74 507.5h1.7v1.7h-1.7zM183.06 514.72h1.7v1.7h-1.7zM183.45 505.3h1.7v1.7h-1.7zM184.15 503.47h1.7v1.7h-1.7zM185.84 505.12h1.7v1.7h-1.7zM177.92 503.48h1.7v1.7h-1.7zM184.36 509.48h1.7v1.7h-1.7zM180.31 507.56h1.7v1.7h-1.7zM183.87 505.45h1.7v1.7h-1.7zM190.83 509.87h1.7v1.7h-1.7zM177.25 499.83h1.7v1.7h-1.7zM179.93 508.24h1.7v1.7h-1.7zM183.25 496.1h1.7v1.7h-1.7zM175.61 505.36h1.7v1.7h-1.7zM195.73 510.39h1.7v1.7h-1.7zM182.75 503.99h1.7v1.7h-1.7zM192.41 509.59h1.7v1.7h-1.7zM185.11 504.87h1.7v1.7h-1.7zM190.57 503.69h1.7v1.7h-1.7zM188.95 506.85h1.7v1.7h-1.7zM184.15 505.29h1.7v1.7h-1.7zM187.62 507.62h1.7v1.7h-1.7zM182.63 507.95h1.7v1.7h-1.7zM183.41 502.78h1.7v1.7h-1.7zM191.86 498.51h1.7v1.7h-1.7zM181.75 502.69h1.7v1.7h-1.7zM181.55 504.44h1.7v1.7h-1.7zM196.46 511.68h1.7v1.7h-1.7zM183.82 494h1.7v1.7h-1.7zM186.77 509.71h1.7v1.7h-1.7zM192.52 515.6h1.7v1.7h-1.7zM183.38 504.46h1.7v1.7h-1.7zM183.06 508.51h1.7v1.7h-1.7zM193.33 514.13h1.7v1.7h-1.7zM185.39 511.92h1.7v1.7h-1.7zM186.62 498.68h1.7v1.7h-1.7zM184.06 508.64h1.7v1.7h-1.7zM187.76 505.08h1.7v1.7h-1.7zM178.66 493.7h1.7v1.7h-1.7zM186.2 506.46h1.7v1.7h-1.7zM189.78 506.41h1.7v1.7h-1.7zM189.59 511.74h1.7v1.7h-1.7zM183.28 507.86h1.7v1.7h-1.7zM188.21 502.44h1.7v1.7h-1.7zM194.66 511.64h1.7v1.7h-1.7zM186.01 508.19h1.7v1.7h-1.7zM188.38 499.45h1.7v1.7h-1.7zM183.96 505.82h1.7v1.7h-1.7zM178.04 499.89h1.7v1.7h-1.7zM188.67 512.56h1.7v1.7h-1.7zM181.38 506.09h1.7v1.7h-1.7zM182.48 500.43h1.7v1.7h-1.7zM185.73 501.13h1.7v1.7h-1.7zM185.4 492.8h1.7v1.7h-1.7zM184.95 510.29h1.7v1.7h-1.7zM190.26 512.47h1.7v1.7h-1.7zM186.07 509.5h1.7v1.7h-1.7zM185.66 505.5h1.7v1.7h-1.7zM180.84 505.61h1.7v1.7h-1.7zM189.39 503.08h1.7v1.7h-1.7zM179.99 504.51h1.7v1.7h-1.7zM175.73 503.07h1.7v1.7h-1.7zM181.98 503.61h1.7v1.7h-1.7zM188.5 515.22h1.7v1.7h-1.7zM186.98 505.62h1.7v1.7h-1.7zM190.94 503.83h1.7v1.7h-1.7zM187.2 499.43h1.7v1.7h-1.7zM187.07 509.4h1.7v1.7h-1.7zM186.9 503.41h1.7v1.7h-1.7zM182.72 500.76h1.7v1.7h-1.7zM183.5 499.16h1.7v1.7h-1.7zM183.51 497.38h1.7v1.7h-1.7zM186.27 508.37h1.7v1.7h-1.7zM181.48 493.26h1.7v1.7h-1.7zM183.67 514.26h1.7v1.7h-1.7zM186.67 502.54h1.7v1.7h-1.7zM185.15 508.36h1.7v1.7h-1.7zM184.27 502.82h1.7v1.7h-1.7zM184.59 507.71h1.7v1.7h-1.7zM180.17 505.83h1.7v1.7h-1.7zM179.64 504.17h1.7v1.7h-1.7zM182.02 512.18h1.7v1.7h-1.7zM189.55 501.06h1.7v1.7h-1.7zM188.84 506.93h1.7v1.7h-1.7zM186.64 502.25h1.7v1.7h-1.7zM188.13 507.27h1.7v1.7h-1.7zM188.86 504.26h1.7v1.7h-1.7zM175.31 493.96h1.7v1.7h-1.7zM183.1 503.01h1.7v1.7h-1.7zM189.07 505.36h1.7v1.7h-1.7zM193.04 508.68h1.7v1.7h-1.7zM186.25 506.12h1.7v1.7h-1.7zM192.89 504.37h1.7v1.7h-1.7zM190.47 502.81h1.7v1.7h-1.7zM186.08 496.68h1.7v1.7h-1.7zM180.97 501.2h1.7v1.7h-1.7zM181.14 501.75h1.7v1.7h-1.7zM185.23 507.04h1.7v1.7h-1.7zM186.3 508.08h1.7v1.7h-1.7zM185.17 498.28h1.7v1.7h-1.7zM188.1 507.56h1.7v1.7h-1.7zM187.93 506.36h1.7v1.7h-1.7zM185.67 491.69h1.7v1.7h-1.7zM187.36 504.05h1.7v1.7h-1.7zM186.75 507.61h1.7v1.7h-1.7zM177.38 505.9h1.7v1.7h-1.7zM179.98 504.85h1.7v1.7h-1.7zM186.82 509.58h1.7v1.7h-1.7zM188.76 501.21h1.7v1.7h-1.7zM185.89 513.29h1.7v1.7h-1.7zM184.21 495.02h1.7v1.7h-1.7zM186.38 508.99h1.7v1.7h-1.7zM187.45 502.18h1.7v1.7h-1.7zM186.23 505.03h1.7v1.7h-1.7zM176.97 498.15h1.7v1.7h-1.7zM186.86 498.36h1.7v1.7h-1.7zM188.64 512.06h1.7v1.7h-1.7zM185.99 498.39h1.7v1.7h-1.7zM194.95 501.99h1.7v1.7h-1.7zM179.39 505.05h1.7v1.7h-1.7zM177.71 499.36h1.7v1.7h-1.7zM199.96 520.25h1.7v1.7h-1.7zM181.18 505.73h1.7v1.7h-1.7zM174.98 500.95h1.7v1.7h-1.7zM183.05 506.78h1.7v1.7h-1.7zM189.03 510.13h1.7v1.7h-1.7zM182.41 492.76h1.7v1.7h-1.7zM183.66 497.32h1.7v1.7h-1.7zM188.69 500.89h1.7v1.7h-1.7zM193.83 517.97h1.7v1.7h-1.7zM188.75 504.59h1.7v1.7h-1.7zM186.84 504.35h1.7v1.7h-1.7zM183.58 509.8h1.7v1.7h-1.7zM188.72 508.61h1.7v1.7h-1.7zM197.48 509.83h1.7v1.7h-1.7zM180.63 498.62h1.7v1.7h-1.7zM180.87 498.16h1.7v1.7h-1.7zM183.89 504.6h1.7v1.7h-1.7zM188.57 508.82h1.7v1.7h-1.7zM188.13 509.16h1.7v1.7h-1.7zM184.53 508.57h1.7v1.7h-1.7zM183.47 497.32h1.7v1.7h-1.7zM191.31 507.62h1.7v1.7h-1.7zM187.45 504.18h1.7v1.7h-1.7zM191.2 503.37h1.7v1.7h-1.7zM184.48 507.48h1.7v1.7h-1.7zM190.39 514.71h1.7v1.7h-1.7zM181.87 504.58h1.7v1.7h-1.7zM194.34 502.71h1.7v1.7h-1.7zM183.76 505.68h1.7v1.7h-1.7zM183.94 510.5h1.7v1.7h-1.7zM187.36 502.58h1.7v1.7h-1.7zM184.68 500.15h1.7v1.7h-1.7zM182.89 504.65h1.7v1.7h-1.7zM187.44 502.85h1.7v1.7h-1.7zM182.71 504.68h1.7v1.7h-1.7zM193.76 518.09h1.7v1.7h-1.7zM182.51 504.19h1.7v1.7h-1.7zM189.04 504.69h1.7v1.7h-1.7zM182.25 506.01h1.7v1.7h-1.7zM178.01 499.78h1.7v1.7h-1.7zM175.47 509.06h1.7v1.7h-1.7zM185.67 507.35h1.7v1.7h-1.7zM179.41 502.08h1.7v1.7h-1.7zM186.1 498.77h1.7v1.7h-1.7zM182.01 507.51h1.7v1.7h-1.7zM185.11 511.5h1.7v1.7h-1.7zM185.37 503.76h1.7v1.7h-1.7zM193.12 510.5h1.7v1.7h-1.7zM184.67 508.38h1.7v1.7h-1.7zM179.49 507.05h1.7v1.7h-1.7zM175.48 508h1.7v1.7h-1.7zM189.34 508.26h1.7v1.7h-1.7zM185.9 507.67h1.7v1.7h-1.7zM191.61 510.7h1.7v1.7h-1.7zM178.59 502.44h1.7v1.7h-1.7zM184.7 510.67h1.7v1.7h-1.7zM181.92 509.02h1.7v1.7h-1.7zM187.59 495.28h1.7v1.7h-1.7zM184.09 504.48h1.7v1.7h-1.7zM191.52 497.48h1.7v1.7h-1.7zM183.66 507.79h1.7v1.7h-1.7zM184.53 508.06h1.7v1.7h-1.7zM182.73 502.86h1.7v1.7h-1.7zM187.5 517.12h1.7v1.7h-1.7zM190.18 504.02h1.7v1.7h-1.7zM187.81 509.73h1.7v1.7h-1.7zM182.83 503.14h1.7v1.7h-1.7zM180.95 502.09h1.7v1.7h-1.7zM181.56 493.34h1.7v1.7h-1.7zM186.27 506.84h1.7v1.7h-1.7zM183.32 510.66h1.7v1.7h-1.7zM184.77 505.2h1.7v1.7h-1.7zM190.32 515.09h1.7v1.7h-1.7zM187.52 507.56h1.7v1.7h-1.7zM186.44 507.4h1.7v1.7h-1.7zM183.34 502.41h1.7v1.7h-1.7zM184.65 504.39h1.7v1.7h-1.7zM184.22 503.56h1.7v1.7h-1.7zM185.67 509.8h1.7v1.7h-1.7zM184.58 503.46h1.7v1.7h-1.7zM186.21 508.38h1.7v1.7h-1.7zM182.73 507.44h1.7v1.7h-1.7zM191.06 510.85h1.7v1.7h-1.7zM187.13 504.86h1.7v1.7h-1.7zM186.8 496.22h1.7v1.7h-1.7zM189.36 510.26h1.7v1.7h-1.7zM180.89 504.25h1.7v1.7h-1.7zM180.38 510.3h1.7v1.7h-1.7zM179.08 502.9h1.7v1.7h-1.7zM182.22 503.11h1.7v1.7h-1.7zM187.91 503.37h1.7v1.7h-1.7zM186.27 509h1.7v1.7h-1.7zM192.25 504.18h1.7v1.7h-1.7zM179.43 501.65h1.7v1.7h-1.7zM187.38 504.93h1.7v1.7h-1.7zM180.01 499h1.7v1.7h-1.7zM179.99 491.98h1.7v1.7h-1.7zM180.02 509.9h1.7v1.7h-1.7zM190.64 510.78h1.7v1.7h-1.7zM185.81 497.43h1.7v1.7h-1.7zM190.9 500.56h1.7v1.7h-1.7zM185.86 496.75h1.7v1.7h-1.7zM188.49 504.43h1.7v1.7h-1.7zM188.32 509.55h1.7v1.7h-1.7zM187.84 502.82h1.7v1.7h-1.7zM186.11 506.84h1.7v1.7h-1.7zM189.58 510.97h1.7v1.7h-1.7zM186.3 502.02h1.7v1.7h-1.7zM185.82 501.44h1.7v1.7h-1.7zM185.66 502.24h1.7v1.7h-1.7zM182.99 500.8h1.7v1.7h-1.7zM178.96 502.34h1.7v1.7h-1.7zM182.2 507.13h1.7v1.7h-1.7zM193.15 516.36h1.7v1.7h-1.7zM186.14 506.64h1.7v1.7h-1.7zM181.1 500.35h1.7v1.7h-1.7zM184.34 504.03h1.7v1.7h-1.7zM189.67 499.74h1.7v1.7h-1.7zM193.44 512.23h1.7v1.7h-1.7zM177.48 498.08h1.7v1.7h-1.7zM178.54 504.9h1.7v1.7h-1.7zM177.78 473.73h1.7v1.7h-1.7zM172.41 483.57h1.7v1.7h-1.7zM188.52 484.47h1.7v1.7h-1.7zM189.42 485.36h1.7v1.7h-1.7zM180.47 487.15h1.7v1.7h-1.7zM181.36 491.63h1.7v1.7h-1.7zM173.31 491.63h1.7v1.7h-1.7zM176.89 494.31h1.7v1.7h-1.7zM171.52 497h1.7v1.7h-1.7zM193 497h1.7v1.7h-1.7zM194.79 502.37h1.7v1.7h-1.7zM213.58 495.21h1.7v1.7h-1.7zM199.26 508.63h1.7v1.7h-1.7zM201.95 510.42h1.7v1.7h-1.7zM207.32 512.21h1.7v1.7h-1.7zM201.05 515.79h1.7v1.7h-1.7zM212.69 517.58h1.7v1.7h-1.7zM216.27 520.27h1.7v1.7h-1.7zM226.11 517.58h1.7v1.7h-1.7zM238.64 519.37h1.7v1.7h-1.7zM206.42 519.37h1.7v1.7h-1.7zM208.21 519.37h1.7v1.7h-1.7zM194.79 518.48h1.7v1.7h-1.7zM184.05 519.37h1.7v1.7h-1.7zM173.31 518.48h1.7v1.7h-1.7z"/>
<rect x="168.3" y="474.5" width="1.6" height="21.5" fill="#a9bad8"/>
<rect x="168.3" y="496" width="2.0" height="25" fill="#23528f"/>
<path fill="#1c4d92" d="M168.79 483.66h1.1v1.1h-1.1zM168.85 481h1.1v1.1h-1.1zM168.44 494.85h1.1v1.1h-1.1zM168.94 473.99h1.1v1.1h-1.1zM168.56 485.03h1.1v1.1h-1.1zM168.53 482.21h1.1v1.1h-1.1z"/>
<rect x="170" y="531.5" width="25.6" height="1.6" fill="#23528f"/>
<path fill="#1c4d92" d="M173.65 531.7h1.2v1.2h-1.2zM190.5 531.7h1.2v1.2h-1.2zM194.79 531.7h1.2v1.2h-1.2zM184.65 531.7h1.2v1.2h-1.2zM183.77 531.7h1.2v1.2h-1.2zM186.23 531.7h1.2v1.2h-1.2zM186.68 531.7h1.2v1.2h-1.2zM183.02 531.7h1.2v1.2h-1.2zM190.43 531.7h1.2v1.2h-1.2zM189.08 531.7h1.2v1.2h-1.2zM177.07 531.7h1.2v1.2h-1.2zM184.87 531.7h1.2v1.2h-1.2zM188.34 531.7h1.2v1.2h-1.2zM184.29 531.7h1.2v1.2h-1.2zM209.36 531.7h1.2v1.2h-1.2zM202.05 531.7h1.2v1.2h-1.2zM198.08 531.7h1.2v1.2h-1.2zM200.08 531.7h1.2v1.2h-1.2zM212.28 531.7h1.2v1.2h-1.2zM213.85 531.7h1.2v1.2h-1.2zM198.76 531.7h1.2v1.2h-1.2zM211.19 531.7h1.2v1.2h-1.2zM205.14 531.7h1.2v1.2h-1.2zM199.26 531.7h1.2v1.2h-1.2zM198.02 531.7h1.2v1.2h-1.2zM209.97 531.7h1.2v1.2h-1.2z"/>
<line x1="192" y1="508.6" x2="239.5" y2="524.7" stroke="#1c4d92" stroke-width="1.25"/>
<rect x="167.8" y="472" width="73.7" height="62.8" fill="none" stroke="#b0b0b0" stroke-width="0.6"/>
<line x1="189.6" y1="534.8" x2="189.6" y2="536.1" stroke="#666" stroke-width="0.5"/>
<text x="189.6" y="540.26" font-size="4.6" text-anchor="middle" fill="#444" stroke="#444" stroke-width="0.2">100</text>
<line x1="214.65" y1="534.8" x2="214.65" y2="536.1" stroke="#666" stroke-width="0.5"/>
<text x="214.65" y="540.26" font-size="4.6" text-anchor="middle" fill="#444" stroke="#444" stroke-width="0.2">200</text>
<line x1="239.7" y1="534.8" x2="239.7" y2="536.1" stroke="#666" stroke-width="0.5"/>
<text x="239.7" y="540.26" font-size="4.6" text-anchor="middle" fill="#444" stroke="#444" stroke-width="0.2">300</text>
<line x1="166.5" y1="533.58" x2="167.8" y2="533.58" stroke="#666" stroke-width="0.5"/>
<text x="166" y="534.95" font-size="3.8" text-anchor="end" fill="#555" stroke="#555" stroke-width="0.2">−2000</text>
<line x1="166.5" y1="521.5" x2="167.8" y2="521.5" stroke="#666" stroke-width="0.5"/>
<text x="166" y="522.87" font-size="3.8" text-anchor="end" fill="#555" stroke="#555" stroke-width="0.2">0</text>
<line x1="166.5" y1="509.42" x2="167.8" y2="509.42" stroke="#666" stroke-width="0.5"/>
<text x="166" y="510.79" font-size="3.8" text-anchor="end" fill="#555" stroke="#555" stroke-width="0.2">2000</text>
<line x1="166.5" y1="497.34" x2="167.8" y2="497.34" stroke="#666" stroke-width="0.5"/>
<text x="166" y="498.71" font-size="3.8" text-anchor="end" fill="#555" stroke="#555" stroke-width="0.2">4000</text>
<line x1="166.5" y1="485.26" x2="167.8" y2="485.26" stroke="#666" stroke-width="0.5"/>
<text x="166" y="486.63" font-size="3.8" text-anchor="end" fill="#555" stroke="#555" stroke-width="0.2">6000</text>
<line x1="166.5" y1="473.18" x2="167.8" y2="473.18" stroke="#666" stroke-width="0.5"/>
<text x="166" y="474.55" font-size="3.8" text-anchor="end" fill="#555" stroke="#555" stroke-width="0.2">8000</text>
<text x="204.65" y="545.36" font-size="4.9" text-anchor="middle" fill="#333" stroke="#333" stroke-width="0.2">IMMT</text>
<text x="152.6" y="504.39" font-size="4.7" text-anchor="middle" fill="#333" stroke="#333" stroke-width="0.2" transform="rotate(-90 152.6 502.7)">VIM</text>
<text x="204.6" y="479.2" font-size="5.3" fill="#222" stroke="#222" stroke-width="0.2"><tspan font-style="italic">r</tspan> = −0.446</text>
<text x="204.6" y="485.8" font-size="5.3" fill="#222" stroke="#222" stroke-width="0.2"><tspan font-style="italic">P</tspan> &lt; 0. 001</text>
<rect x="304" y="470.8" width="73.2" height="64.5" fill="#fff" stroke="none" stroke-width="1"/>
<line x1="323.6" y1="470.8" x2="323.6" y2="535.3" stroke="#ececec" stroke-width="0.6"/>
<line x1="344.9" y1="470.8" x2="344.9" y2="535.3" stroke="#ececec" stroke-width="0.6"/>
<line x1="366.2" y1="470.8" x2="366.2" y2="535.3" stroke="#ececec" stroke-width="0.6"/>
<line x1="304" y1="520.2" x2="377.2" y2="520.2" stroke="#ececec" stroke-width="0.6"/>
<line x1="304" y1="504.98" x2="377.2" y2="504.98" stroke="#ececec" stroke-width="0.6"/>
<line x1="304" y1="489.75" x2="377.2" y2="489.75" stroke="#ececec" stroke-width="0.6"/>
<line x1="304" y1="474.53" x2="377.2" y2="474.53" stroke="#ececec" stroke-width="0.6"/>
<path d="M329.8 509.5 Q341.23 514.27 375.5 524.5 L375.5 531.3 Q341.23 515.27 329.8 511.3Z" fill="#cfcfcf"/>
<path fill="#1c4d92" d="M310.75 504.45h1.7v1.7h-1.7zM307.21 495.05h1.7v1.7h-1.7zM325.63 503.25h1.7v1.7h-1.7zM327.6 510.98h1.7v1.7h-1.7zM326.47 515h1.7v1.7h-1.7zM317.97 500.9h1.7v1.7h-1.7zM319.7 508.48h1.7v1.7h-1.7zM318.64 508.82h1.7v1.7h-1.7zM326.66 506.14h1.7v1.7h-1.7zM324.26 501.17h1.7v1.7h-1.7zM320.33 503.47h1.7v1.7h-1.7zM323.47 504.84h1.7v1.7h-1.7zM326.62 510.79h1.7v1.7h-1.7zM321.86 502.09h1.7v1.7h-1.7zM314.8 513.22h1.7v1.7h-1.7zM319.69 509.75h1.7v1.7h-1.7zM317.99 503.79h1.7v1.7h-1.7zM312.36 501.66h1.7v1.7h-1.7zM310.16 498.35h1.7v1.7h-1.7zM320.77 497.32h1.7v1.7h-1.7zM315 502.4h1.7v1.7h-1.7zM322.05 507.43h1.7v1.7h-1.7zM316.18 501.56h1.7v1.7h-1.7zM323.93 510.32h1.7v1.7h-1.7zM324.33 506.06h1.7v1.7h-1.7zM321.9 504.57h1.7v1.7h-1.7zM314.25 497.17h1.7v1.7h-1.7zM310.18 503.13h1.7v1.7h-1.7zM330.4 501.37h1.7v1.7h-1.7zM319.79 502.27h1.7v1.7h-1.7zM329.95 506.38h1.7v1.7h-1.7zM318.9 510.87h1.7v1.7h-1.7zM314.35 495.12h1.7v1.7h-1.7zM320.07 504.11h1.7v1.7h-1.7zM314.09 505.82h1.7v1.7h-1.7zM320.28 502.62h1.7v1.7h-1.7zM328 512.79h1.7v1.7h-1.7zM324.4 505.4h1.7v1.7h-1.7zM335.03 511.73h1.7v1.7h-1.7zM321.84 509.08h1.7v1.7h-1.7zM321.73 508.54h1.7v1.7h-1.7zM315.69 498.57h1.7v1.7h-1.7zM315.56 507.77h1.7v1.7h-1.7zM321.39 501.43h1.7v1.7h-1.7zM315.76 511.18h1.7v1.7h-1.7zM318.53 500.37h1.7v1.7h-1.7zM318.58 506.16h1.7v1.7h-1.7zM314.47 499.47h1.7v1.7h-1.7zM331.36 514.95h1.7v1.7h-1.7zM310.67 505.54h1.7v1.7h-1.7zM320.8 506.5h1.7v1.7h-1.7zM324.88 509h1.7v1.7h-1.7zM325.55 494.81h1.7v1.7h-1.7zM318.04 499.48h1.7v1.7h-1.7zM315.06 502.22h1.7v1.7h-1.7zM332.02 508.6h1.7v1.7h-1.7zM330.79 508.89h1.7v1.7h-1.7zM320.92 506.78h1.7v1.7h-1.7zM320.3 512.91h1.7v1.7h-1.7zM320.69 505.24h1.7v1.7h-1.7zM314.67 501.47h1.7v1.7h-1.7zM319.97 505.02h1.7v1.7h-1.7zM325.55 510.38h1.7v1.7h-1.7zM323.83 510.15h1.7v1.7h-1.7zM315.53 504.9h1.7v1.7h-1.7zM323.99 513.46h1.7v1.7h-1.7zM316.08 504.12h1.7v1.7h-1.7zM312.12 502.18h1.7v1.7h-1.7zM321.95 502.43h1.7v1.7h-1.7zM323.37 509.84h1.7v1.7h-1.7zM327.44 506.22h1.7v1.7h-1.7zM315.99 509.34h1.7v1.7h-1.7zM325.4 503.93h1.7v1.7h-1.7zM322.88 508.6h1.7v1.7h-1.7zM321.44 505.32h1.7v1.7h-1.7zM318.08 497.74h1.7v1.7h-1.7zM318.94 484.9h1.7v1.7h-1.7zM322.63 506.66h1.7v1.7h-1.7zM321.8 503.54h1.7v1.7h-1.7zM314.21 497.77h1.7v1.7h-1.7zM317.2 497.49h1.7v1.7h-1.7zM319.66 507.41h1.7v1.7h-1.7zM324.93 505.62h1.7v1.7h-1.7zM322.4 496.4h1.7v1.7h-1.7zM319.92 513.34h1.7v1.7h-1.7zM318.83 499.18h1.7v1.7h-1.7zM327.94 502.85h1.7v1.7h-1.7zM317.79 504.57h1.7v1.7h-1.7zM316.22 494.81h1.7v1.7h-1.7zM317.83 503.1h1.7v1.7h-1.7zM321.83 513.16h1.7v1.7h-1.7zM320.08 504.92h1.7v1.7h-1.7zM317.35 502.85h1.7v1.7h-1.7zM317.73 504.39h1.7v1.7h-1.7zM322.71 503.15h1.7v1.7h-1.7zM322.45 495.95h1.7v1.7h-1.7zM321.66 504.58h1.7v1.7h-1.7zM315.43 503.9h1.7v1.7h-1.7zM320.12 501.3h1.7v1.7h-1.7zM326.11 502.28h1.7v1.7h-1.7zM316.49 502.08h1.7v1.7h-1.7zM328.49 506.86h1.7v1.7h-1.7zM321.25 509.99h1.7v1.7h-1.7zM324.84 507.87h1.7v1.7h-1.7zM315.1 503.03h1.7v1.7h-1.7zM326.97 505.31h1.7v1.7h-1.7zM320.53 496.94h1.7v1.7h-1.7zM322.26 500.22h1.7v1.7h-1.7zM323.76 506.23h1.7v1.7h-1.7zM328.17 510.03h1.7v1.7h-1.7zM319.52 505.6h1.7v1.7h-1.7zM323.46 498.99h1.7v1.7h-1.7zM321.4 509.78h1.7v1.7h-1.7zM312.98 497.18h1.7v1.7h-1.7zM314.72 503.84h1.7v1.7h-1.7zM313.52 505.47h1.7v1.7h-1.7zM319.76 500.52h1.7v1.7h-1.7zM321.63 510.09h1.7v1.7h-1.7zM322.98 497.68h1.7v1.7h-1.7zM325.36 504.15h1.7v1.7h-1.7zM321.8 498.8h1.7v1.7h-1.7zM314.31 506.11h1.7v1.7h-1.7zM329.13 510.24h1.7v1.7h-1.7zM321.3 515.54h1.7v1.7h-1.7zM317.49 507.48h1.7v1.7h-1.7zM312.54 501.75h1.7v1.7h-1.7zM323.24 498.02h1.7v1.7h-1.7zM312.91 497.81h1.7v1.7h-1.7zM326.26 506.43h1.7v1.7h-1.7zM321.51 502.77h1.7v1.7h-1.7zM311.61 505h1.7v1.7h-1.7zM318.12 500.8h1.7v1.7h-1.7zM329.26 504.29h1.7v1.7h-1.7zM310.87 496.47h1.7v1.7h-1.7zM317.55 497.04h1.7v1.7h-1.7zM309.66 488.84h1.7v1.7h-1.7zM320.68 507.12h1.7v1.7h-1.7zM329.07 511.54h1.7v1.7h-1.7zM319.77 502.8h1.7v1.7h-1.7zM319.29 501.5h1.7v1.7h-1.7zM318.34 493.23h1.7v1.7h-1.7zM318.54 514.83h1.7v1.7h-1.7zM318.16 506.78h1.7v1.7h-1.7zM323.25 502.34h1.7v1.7h-1.7zM325.11 502.35h1.7v1.7h-1.7zM308.23 498.32h1.7v1.7h-1.7zM306.82 506.28h1.7v1.7h-1.7zM324.9 502.61h1.7v1.7h-1.7zM324.89 503.53h1.7v1.7h-1.7zM312.63 494.24h1.7v1.7h-1.7zM318.34 499.89h1.7v1.7h-1.7zM321.48 509.46h1.7v1.7h-1.7zM323.3 505.09h1.7v1.7h-1.7zM320.41 498.75h1.7v1.7h-1.7zM321.28 514.64h1.7v1.7h-1.7zM318.67 499.53h1.7v1.7h-1.7zM323.61 509.08h1.7v1.7h-1.7zM319.64 507.67h1.7v1.7h-1.7zM318.51 494.69h1.7v1.7h-1.7zM318.06 495.13h1.7v1.7h-1.7zM316.29 502.4h1.7v1.7h-1.7zM323.14 501.43h1.7v1.7h-1.7zM321.27 509.41h1.7v1.7h-1.7zM321.05 506.19h1.7v1.7h-1.7zM318.26 491.95h1.7v1.7h-1.7zM323.38 514.15h1.7v1.7h-1.7zM321.17 498.87h1.7v1.7h-1.7zM314.14 499.66h1.7v1.7h-1.7zM307.49 502.05h1.7v1.7h-1.7zM317.29 503.74h1.7v1.7h-1.7zM319.27 503.87h1.7v1.7h-1.7zM329.98 508.59h1.7v1.7h-1.7zM326.67 507.68h1.7v1.7h-1.7zM323.77 508.6h1.7v1.7h-1.7zM331.76 502.03h1.7v1.7h-1.7zM317.19 504.59h1.7v1.7h-1.7zM320.8 504.35h1.7v1.7h-1.7zM323.92 510.61h1.7v1.7h-1.7zM319.83 506.65h1.7v1.7h-1.7zM319.02 496.01h1.7v1.7h-1.7zM321.98 495.27h1.7v1.7h-1.7zM319.14 507.26h1.7v1.7h-1.7zM325.63 499.82h1.7v1.7h-1.7zM310.31 503.6h1.7v1.7h-1.7zM322.2 510.84h1.7v1.7h-1.7zM328.29 507.1h1.7v1.7h-1.7zM316.99 504.13h1.7v1.7h-1.7zM315.93 490.99h1.7v1.7h-1.7zM321.54 509.99h1.7v1.7h-1.7zM319.86 500.71h1.7v1.7h-1.7zM322.35 509.46h1.7v1.7h-1.7zM317.51 504.01h1.7v1.7h-1.7zM321.23 506.9h1.7v1.7h-1.7zM323.42 501.75h1.7v1.7h-1.7zM308.71 496.04h1.7v1.7h-1.7zM319.77 485.56h1.7v1.7h-1.7zM322.41 506.4h1.7v1.7h-1.7zM314.03 494.08h1.7v1.7h-1.7zM313.61 500.61h1.7v1.7h-1.7zM324.23 494.75h1.7v1.7h-1.7zM316.55 498.06h1.7v1.7h-1.7zM321.34 500.19h1.7v1.7h-1.7zM323.82 503.98h1.7v1.7h-1.7zM323.87 500.68h1.7v1.7h-1.7zM312.18 499.67h1.7v1.7h-1.7zM320.97 516.68h1.7v1.7h-1.7zM316.73 500.77h1.7v1.7h-1.7zM309.62 494.87h1.7v1.7h-1.7zM321.47 503.83h1.7v1.7h-1.7zM323.81 505.84h1.7v1.7h-1.7zM317.91 511.8h1.7v1.7h-1.7zM322.78 501.09h1.7v1.7h-1.7zM321.57 505.85h1.7v1.7h-1.7zM320.96 495.01h1.7v1.7h-1.7zM310.94 501.66h1.7v1.7h-1.7zM322.93 503.53h1.7v1.7h-1.7zM313.26 492.75h1.7v1.7h-1.7zM312.36 505.88h1.7v1.7h-1.7zM316.44 491.77h1.7v1.7h-1.7zM325.93 502.76h1.7v1.7h-1.7zM322.87 498.79h1.7v1.7h-1.7zM326.82 501.41h1.7v1.7h-1.7zM318.44 504.06h1.7v1.7h-1.7zM322.63 493.08h1.7v1.7h-1.7zM317.93 503.26h1.7v1.7h-1.7zM317.25 507.95h1.7v1.7h-1.7zM322.39 500.91h1.7v1.7h-1.7zM319.7 505.86h1.7v1.7h-1.7zM310.97 501.91h1.7v1.7h-1.7zM322.64 506.86h1.7v1.7h-1.7zM317.18 502.01h1.7v1.7h-1.7zM329.24 508.25h1.7v1.7h-1.7zM320.01 497.92h1.7v1.7h-1.7zM321.24 503.48h1.7v1.7h-1.7zM312.67 490.61h1.7v1.7h-1.7zM325.25 511.96h1.7v1.7h-1.7zM323.14 505.09h1.7v1.7h-1.7zM315.24 493.74h1.7v1.7h-1.7zM318.16 508.37h1.7v1.7h-1.7zM313.67 498.95h1.7v1.7h-1.7zM329.27 507.15h1.7v1.7h-1.7zM313.85 502.08h1.7v1.7h-1.7zM325.4 499.19h1.7v1.7h-1.7zM315 504.18h1.7v1.7h-1.7zM331.74 506h1.7v1.7h-1.7zM328.02 514.77h1.7v1.7h-1.7zM324.6 495.6h1.7v1.7h-1.7zM319.24 511.81h1.7v1.7h-1.7zM317.37 501.78h1.7v1.7h-1.7zM323.08 508.57h1.7v1.7h-1.7zM321.7 499.8h1.7v1.7h-1.7zM314.82 503.34h1.7v1.7h-1.7zM325.43 506.63h1.7v1.7h-1.7zM322.2 507.16h1.7v1.7h-1.7zM318.05 502.45h1.7v1.7h-1.7zM319.58 510.79h1.7v1.7h-1.7zM322.58 511.09h1.7v1.7h-1.7zM323.12 509.04h1.7v1.7h-1.7zM320.47 507.16h1.7v1.7h-1.7zM320.93 501.44h1.7v1.7h-1.7zM311.75 511.6h1.7v1.7h-1.7zM329.2 509.07h1.7v1.7h-1.7zM319.78 502.76h1.7v1.7h-1.7zM314.88 502.62h1.7v1.7h-1.7zM323.48 499.05h1.7v1.7h-1.7zM312.77 496.89h1.7v1.7h-1.7zM319.33 508.22h1.7v1.7h-1.7zM306.66 493.88h1.7v1.7h-1.7zM318.55 509.49h1.7v1.7h-1.7zM315.43 499.3h1.7v1.7h-1.7zM319.66 514.78h1.7v1.7h-1.7zM325.54 508.3h1.7v1.7h-1.7zM326.23 505.13h1.7v1.7h-1.7zM317.94 505.8h1.7v1.7h-1.7zM327.07 508.97h1.7v1.7h-1.7zM328.71 506.26h1.7v1.7h-1.7zM325.47 508.02h1.7v1.7h-1.7zM314.75 502.85h1.7v1.7h-1.7zM317.35 489.75h1.7v1.7h-1.7zM325.08 500.17h1.7v1.7h-1.7zM312.51 504.74h1.7v1.7h-1.7zM324.82 500.81h1.7v1.7h-1.7zM320.28 509.98h1.7v1.7h-1.7zM331.41 507.7h1.7v1.7h-1.7zM320.18 503.95h1.7v1.7h-1.7zM323.64 501.14h1.7v1.7h-1.7zM318.03 502.52h1.7v1.7h-1.7zM313.9 506.44h1.7v1.7h-1.7zM320.51 512.88h1.7v1.7h-1.7zM316.3 497.14h1.7v1.7h-1.7zM324.3 507.8h1.7v1.7h-1.7zM324.31 497.78h1.7v1.7h-1.7zM321.55 493.85h1.7v1.7h-1.7zM319.21 495.8h1.7v1.7h-1.7zM320.51 504.08h1.7v1.7h-1.7zM317.31 501.31h1.7v1.7h-1.7zM319.41 504h1.7v1.7h-1.7zM321.07 509.76h1.7v1.7h-1.7zM322.15 509.42h1.7v1.7h-1.7zM318.54 502.51h1.7v1.7h-1.7zM320.91 499.42h1.7v1.7h-1.7zM314.88 498.5h1.7v1.7h-1.7zM320.87 503.93h1.7v1.7h-1.7zM329.45 510.4h1.7v1.7h-1.7zM321.45 503.72h1.7v1.7h-1.7zM319.41 503.97h1.7v1.7h-1.7zM318.28 494.18h1.7v1.7h-1.7zM313.78 498.47h1.7v1.7h-1.7zM321.35 503.11h1.7v1.7h-1.7zM323.14 493.58h1.7v1.7h-1.7zM321.12 498.54h1.7v1.7h-1.7zM317.31 498.97h1.7v1.7h-1.7zM320.22 504.1h1.7v1.7h-1.7zM318.01 502.4h1.7v1.7h-1.7zM325.8 495.89h1.7v1.7h-1.7zM317.86 502.95h1.7v1.7h-1.7zM324.4 512.19h1.7v1.7h-1.7zM317.19 506.13h1.7v1.7h-1.7zM315.74 497.7h1.7v1.7h-1.7zM320.07 498.23h1.7v1.7h-1.7zM320.38 510.55h1.7v1.7h-1.7zM317.47 499.83h1.7v1.7h-1.7zM324.68 502.5h1.7v1.7h-1.7zM313.22 491.4h1.7v1.7h-1.7zM319.09 511.42h1.7v1.7h-1.7zM320.11 502.81h1.7v1.7h-1.7zM316.32 494.57h1.7v1.7h-1.7zM321.35 501.8h1.7v1.7h-1.7zM313.1 501.05h1.7v1.7h-1.7zM312.95 506.56h1.7v1.7h-1.7zM320.97 504.66h1.7v1.7h-1.7zM320.77 499.48h1.7v1.7h-1.7zM325.46 508.2h1.7v1.7h-1.7zM322 502.99h1.7v1.7h-1.7zM320.68 504.45h1.7v1.7h-1.7zM321.05 504.82h1.7v1.7h-1.7zM322.26 503.28h1.7v1.7h-1.7zM313.78 499.3h1.7v1.7h-1.7zM322.56 495.53h1.7v1.7h-1.7zM319.3 507.48h1.7v1.7h-1.7zM322.68 502.45h1.7v1.7h-1.7zM313.01 500.88h1.7v1.7h-1.7zM324.79 507.88h1.7v1.7h-1.7zM326.42 504.29h1.7v1.7h-1.7zM321.99 508.29h1.7v1.7h-1.7zM331.2 511.25h1.7v1.7h-1.7zM312.98 505.5h1.7v1.7h-1.7zM317.23 504.46h1.7v1.7h-1.7zM319.86 507.93h1.7v1.7h-1.7zM323 511.95h1.7v1.7h-1.7zM320.58 500.94h1.7v1.7h-1.7zM321.87 496.63h1.7v1.7h-1.7zM323.06 503.14h1.7v1.7h-1.7zM317.32 503.78h1.7v1.7h-1.7zM326.15 500.86h1.7v1.7h-1.7zM326.18 503.76h1.7v1.7h-1.7zM317.54 505.84h1.7v1.7h-1.7zM316.13 508.54h1.7v1.7h-1.7zM317.53 500.7h1.7v1.7h-1.7zM315.55 505.26h1.7v1.7h-1.7zM320.8 506.18h1.7v1.7h-1.7zM319.62 499.08h1.7v1.7h-1.7zM322.57 503.64h1.7v1.7h-1.7zM314.03 504.47h1.7v1.7h-1.7zM319.69 503.73h1.7v1.7h-1.7zM320.06 506.23h1.7v1.7h-1.7zM321.71 497.92h1.7v1.7h-1.7zM321.88 504.02h1.7v1.7h-1.7zM321.87 500.3h1.7v1.7h-1.7zM320.21 497.2h1.7v1.7h-1.7zM314.2 501.71h1.7v1.7h-1.7zM319.09 501.79h1.7v1.7h-1.7zM328.18 500.41h1.7v1.7h-1.7zM324.64 509.66h1.7v1.7h-1.7zM323.4 496.55h1.7v1.7h-1.7zM312.32 495.16h1.7v1.7h-1.7zM322.86 510.23h1.7v1.7h-1.7zM324.26 508.11h1.7v1.7h-1.7zM319.47 507.52h1.7v1.7h-1.7zM312.45 497.98h1.7v1.7h-1.7zM326.31 506.14h1.7v1.7h-1.7zM316.69 492.89h1.7v1.7h-1.7zM320.71 498.03h1.7v1.7h-1.7zM323.88 511.01h1.7v1.7h-1.7zM324.65 507.69h1.7v1.7h-1.7zM323.34 505.04h1.7v1.7h-1.7zM308.83 502.57h1.7v1.7h-1.7zM318.97 507.39h1.7v1.7h-1.7zM314.99 495.52h1.7v1.7h-1.7zM319.8 503.89h1.7v1.7h-1.7zM316.14 503.91h1.7v1.7h-1.7zM328.67 502.26h1.7v1.7h-1.7zM312.6 502.77h1.7v1.7h-1.7zM325.39 502.97h1.7v1.7h-1.7zM319.28 508.17h1.7v1.7h-1.7zM322.31 506.83h1.7v1.7h-1.7zM318.56 502.51h1.7v1.7h-1.7zM318.02 496.89h1.7v1.7h-1.7zM316.12 506h1.7v1.7h-1.7zM326.59 506.39h1.7v1.7h-1.7zM320.81 502.46h1.7v1.7h-1.7zM318.99 500.2h1.7v1.7h-1.7zM322.05 505.24h1.7v1.7h-1.7zM321.2 508.84h1.7v1.7h-1.7zM318.39 504.74h1.7v1.7h-1.7zM321.7 509.5h1.7v1.7h-1.7zM322.58 507.81h1.7v1.7h-1.7zM328.54 505.93h1.7v1.7h-1.7zM314.95 503.28h1.7v1.7h-1.7zM310.16 500.55h1.7v1.7h-1.7zM318.04 503.22h1.7v1.7h-1.7zM329.17 507.08h1.7v1.7h-1.7zM323.03 506.7h1.7v1.7h-1.7zM319.73 508.42h1.7v1.7h-1.7zM318.34 508.38h1.7v1.7h-1.7zM313.11 495.23h1.7v1.7h-1.7zM326.84 510.03h1.7v1.7h-1.7zM325.35 512.19h1.7v1.7h-1.7zM328.36 505.09h1.7v1.7h-1.7zM315.32 504.56h1.7v1.7h-1.7zM326.97 505.95h1.7v1.7h-1.7zM324.62 504.23h1.7v1.7h-1.7zM323.38 510.77h1.7v1.7h-1.7zM315.14 506.95h1.7v1.7h-1.7zM320.49 504.52h1.7v1.7h-1.7zM317.08 504.11h1.7v1.7h-1.7zM320.54 496.1h1.7v1.7h-1.7zM311.86 489.18h1.7v1.7h-1.7zM314.88 495.45h1.7v1.7h-1.7zM317.98 493.78h1.7v1.7h-1.7zM310.43 495.11h1.7v1.7h-1.7zM321.39 509.88h1.7v1.7h-1.7zM323.68 510.78h1.7v1.7h-1.7zM317.96 510.82h1.7v1.7h-1.7zM319.16 507.76h1.7v1.7h-1.7zM319.68 501.45h1.7v1.7h-1.7zM325.24 501.18h1.7v1.7h-1.7zM323.76 505.39h1.7v1.7h-1.7zM324.83 516.24h1.7v1.7h-1.7zM322.93 496.44h1.7v1.7h-1.7zM321.44 510.08h1.7v1.7h-1.7zM323.66 506.85h1.7v1.7h-1.7zM326.34 500.69h1.7v1.7h-1.7zM332.11 504.96h1.7v1.7h-1.7zM325.03 502.92h1.7v1.7h-1.7zM317.96 498.84h1.7v1.7h-1.7zM317.73 495.2h1.7v1.7h-1.7zM316.12 501.47h1.7v1.7h-1.7zM321.66 506.33h1.7v1.7h-1.7zM322.64 500.7h1.7v1.7h-1.7zM316.13 500.14h1.7v1.7h-1.7zM318.2 498.19h1.7v1.7h-1.7zM322.24 508.23h1.7v1.7h-1.7zM325.37 503.64h1.7v1.7h-1.7zM319.89 502.58h1.7v1.7h-1.7zM330.88 515.27h1.7v1.7h-1.7zM323.25 507.57h1.7v1.7h-1.7zM322.24 513.55h1.7v1.7h-1.7zM315.33 507.29h1.7v1.7h-1.7zM324.97 508.31h1.7v1.7h-1.7zM318.43 500.67h1.7v1.7h-1.7zM319.54 505.19h1.7v1.7h-1.7zM311.72 505.65h1.7v1.7h-1.7zM325.93 503.48h1.7v1.7h-1.7zM329.84 504.64h1.7v1.7h-1.7zM320.97 498.81h1.7v1.7h-1.7zM318.78 504.02h1.7v1.7h-1.7zM320.09 499.54h1.7v1.7h-1.7zM318.14 503.74h1.7v1.7h-1.7zM323.61 507.17h1.7v1.7h-1.7zM322.7 509.47h1.7v1.7h-1.7zM319.22 504.07h1.7v1.7h-1.7zM314.39 503.24h1.7v1.7h-1.7zM317.84 498.84h1.7v1.7h-1.7zM319.5 499.46h1.7v1.7h-1.7zM316.63 509.89h1.7v1.7h-1.7zM329.66 508.98h1.7v1.7h-1.7zM312.99 501.76h1.7v1.7h-1.7zM314.58 506.35h1.7v1.7h-1.7zM318.71 499.6h1.7v1.7h-1.7zM313.78 472.83h1.7v1.7h-1.7zM309.31 482.68h1.7v1.7h-1.7zM323.63 483.57h1.7v1.7h-1.7zM310.2 485.36h1.7v1.7h-1.7zM316.47 487.15h1.7v1.7h-1.7zM308.41 489.84h1.7v1.7h-1.7zM312.89 490.73h1.7v1.7h-1.7zM343.32 493.42h1.7v1.7h-1.7zM337.95 504.16h1.7v1.7h-1.7zM337.05 507.74h1.7v1.7h-1.7zM339.74 513.11h1.7v1.7h-1.7zM341.53 515.79h1.7v1.7h-1.7zM345.11 517.58h1.7v1.7h-1.7zM354.06 515.79h1.7v1.7h-1.7zM364.8 518.48h1.7v1.7h-1.7zM374.64 517.58h1.7v1.7h-1.7zM334.37 508.63h1.7v1.7h-1.7zM333.47 518.48h1.7v1.7h-1.7zM329 516.69h1.7v1.7h-1.7zM320.05 518.48h1.7v1.7h-1.7zM310.2 517.58h1.7v1.7h-1.7z"/>
<rect x="304.5" y="473.3" width="1.6" height="19.5" fill="#a9bad8"/>
<rect x="304.5" y="492.8" width="2.0" height="26.7" fill="#23528f"/>
<path fill="#1c4d92" d="M304.94 481.86h1.1v1.1h-1.1zM304.9 484.45h1.1v1.1h-1.1zM304.96 475.01h1.1v1.1h-1.1zM304.98 490.89h1.1v1.1h-1.1zM304.74 485.25h1.1v1.1h-1.1zM305.08 478.54h1.1v1.1h-1.1z"/>
<rect x="306" y="532" width="25" height="1.6" fill="#23528f"/>
<path fill="#1c4d92" d="M323.04 532.2h1.2v1.2h-1.2zM318.22 532.2h1.2v1.2h-1.2zM329.99 532.2h1.2v1.2h-1.2zM328.06 532.2h1.2v1.2h-1.2zM308.3 532.2h1.2v1.2h-1.2zM312.96 532.2h1.2v1.2h-1.2zM313.5 532.2h1.2v1.2h-1.2zM316.39 532.2h1.2v1.2h-1.2zM329.63 532.2h1.2v1.2h-1.2zM314.63 532.2h1.2v1.2h-1.2zM310.87 532.2h1.2v1.2h-1.2zM327.5 532.2h1.2v1.2h-1.2zM313.87 532.2h1.2v1.2h-1.2zM324.64 532.2h1.2v1.2h-1.2zM331.16 532.2h1.2v1.2h-1.2zM330.83 532.2h1.2v1.2h-1.2zM341.21 532.2h1.2v1.2h-1.2zM342.9 532.2h1.2v1.2h-1.2zM342.01 532.2h1.2v1.2h-1.2zM340.6 532.2h1.2v1.2h-1.2zM340.8 532.2h1.2v1.2h-1.2zM347.61 532.2h1.2v1.2h-1.2zM332.3 532.2h1.2v1.2h-1.2zM348.42 532.2h1.2v1.2h-1.2zM341.45 532.2h1.2v1.2h-1.2zM333.28 532.2h1.2v1.2h-1.2z"/>
<line x1="329.8" y1="510.4" x2="375.5" y2="527.9" stroke="#1c4d92" stroke-width="1.25"/>
<rect x="304" y="470.8" width="73.2" height="64.5" fill="none" stroke="#b0b0b0" stroke-width="0.6"/>
<line x1="323.6" y1="535.3" x2="323.6" y2="536.6" stroke="#666" stroke-width="0.5"/>
<text x="323.6" y="540.76" font-size="4.6" text-anchor="middle" fill="#444" stroke="#444" stroke-width="0.2">100</text>
<line x1="344.9" y1="535.3" x2="344.9" y2="536.6" stroke="#666" stroke-width="0.5"/>
<text x="344.9" y="540.76" font-size="4.6" text-anchor="middle" fill="#444" stroke="#444" stroke-width="0.2">200</text>
<line x1="366.2" y1="535.3" x2="366.2" y2="536.6" stroke="#666" stroke-width="0.5"/>
<text x="366.2" y="540.76" font-size="4.6" text-anchor="middle" fill="#444" stroke="#444" stroke-width="0.2">300</text>
<line x1="302.7" y1="520.2" x2="304" y2="520.2" stroke="#666" stroke-width="0.5"/>
<text x="302.2" y="522.04" font-size="5.1" text-anchor="end" fill="#555" stroke="#555" stroke-width="0.2">0</text>
<line x1="302.7" y1="504.98" x2="304" y2="504.98" stroke="#666" stroke-width="0.5"/>
<text x="302.2" y="506.81" font-size="5.1" text-anchor="end" fill="#555" stroke="#555" stroke-width="0.2">2500</text>
<line x1="302.7" y1="489.75" x2="304" y2="489.75" stroke="#666" stroke-width="0.5"/>
<text x="302.2" y="491.59" font-size="5.1" text-anchor="end" fill="#555" stroke="#555" stroke-width="0.2">5000</text>
<line x1="302.7" y1="474.53" x2="304" y2="474.53" stroke="#666" stroke-width="0.5"/>
<text x="302.2" y="476.36" font-size="5.1" text-anchor="end" fill="#555" stroke="#555" stroke-width="0.2">7500</text>
<text x="340.6" y="545.86" font-size="4.9" text-anchor="middle" fill="#333" stroke="#333" stroke-width="0.2">IMMT</text>
<text x="287.2" y="504.27" font-size="5.2" text-anchor="middle" fill="#333" stroke="#333" stroke-width="0.2" transform="rotate(-90 287.2 502.4)">VIM</text>
<text x="339.7" y="480.1" font-size="5.3" fill="#222" stroke="#222" stroke-width="0.2"><tspan font-style="italic">r</tspan> = −0.458</text>
<text x="339.7" y="486.3" font-size="5.3" fill="#222" stroke="#222" stroke-width="0.2"><tspan font-style="italic">P</tspan> &lt; 0. 001</text>
</svg></body></html>
